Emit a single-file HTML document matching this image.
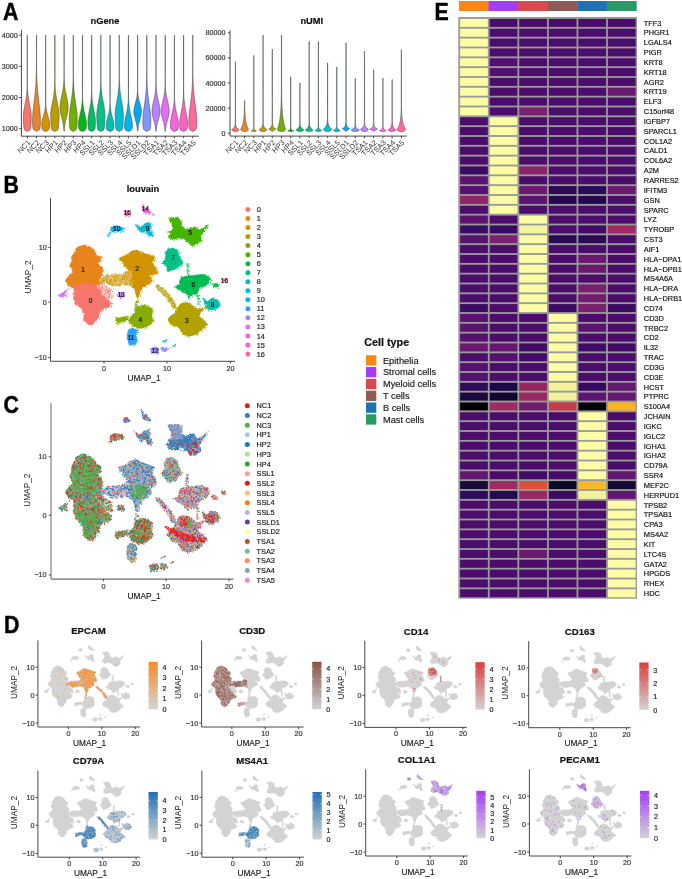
<!DOCTYPE html><html><head><meta charset="utf-8"><style>
html,body{margin:0;padding:0;background:#fff;width:682px;height:879px;overflow:hidden}
svg{display:block;font-family:"Liberation Sans",sans-serif;will-change:transform}
text{stroke-linejoin:round}
</style></head><body><svg width="682" height="879" viewBox="0 0 682 879">
<text transform="translate(3,20.2) scale(0.97,1.07)" font-size="22" font-weight="bold" fill="#000" stroke="#000" stroke-width="0.45">A</text>
<text transform="translate(3.5,192.8) scale(0.97,1.07)" font-size="22" font-weight="bold" fill="#000" stroke="#000" stroke-width="0.45">B</text>
<text transform="translate(3.5,412.8) scale(0.97,1.07)" font-size="22" font-weight="bold" fill="#000" stroke="#000" stroke-width="0.45">C</text>
<text transform="translate(4,632.9) scale(0.97,1.07)" font-size="22" font-weight="bold" fill="#000" stroke="#000" stroke-width="0.45">D</text>
<text transform="translate(434.5,20) scale(0.97,1.07)" font-size="22" font-weight="bold" fill="#000" stroke="#000" stroke-width="0.45">E</text>
<rect x="458.3" y="17.0" width="178.7" height="581.7" fill="#9A9A9A"/>
<rect x="460.10" y="18.90" width="27.75" height="8.0" fill="#FCFDA4"/>
<rect x="489.66" y="18.90" width="27.75" height="8.0" fill="#4C0C6B"/>
<rect x="519.22" y="18.90" width="27.75" height="8.0" fill="#4C0C6B"/>
<rect x="548.78" y="18.90" width="27.75" height="8.0" fill="#4C0C6B"/>
<rect x="578.34" y="18.90" width="27.75" height="8.0" fill="#4C0C6B"/>
<rect x="607.90" y="18.90" width="27.75" height="8.0" fill="#4C0C6B"/>
<text x="643.80" y="25.65" font-size="7.4" text-anchor="start" font-weight="normal" fill="#111" stroke="#111" stroke-width="0.18" >TFF3</text>
<rect x="460.10" y="28.73" width="27.75" height="8.0" fill="#FCFDA4"/>
<rect x="489.66" y="28.73" width="27.75" height="8.0" fill="#4C0C6B"/>
<rect x="519.22" y="28.73" width="27.75" height="8.0" fill="#4C0C6B"/>
<rect x="548.78" y="28.73" width="27.75" height="8.0" fill="#4C0C6B"/>
<rect x="578.34" y="28.73" width="27.75" height="8.0" fill="#4C0C6B"/>
<rect x="607.90" y="28.73" width="27.75" height="8.0" fill="#4C0C6B"/>
<text x="643.80" y="35.48" font-size="7.4" text-anchor="start" font-weight="normal" fill="#111" stroke="#111" stroke-width="0.18" >PHGR1</text>
<rect x="460.10" y="38.57" width="27.75" height="8.0" fill="#FCFDA4"/>
<rect x="489.66" y="38.57" width="27.75" height="8.0" fill="#4C0C6B"/>
<rect x="519.22" y="38.57" width="27.75" height="8.0" fill="#4C0C6B"/>
<rect x="548.78" y="38.57" width="27.75" height="8.0" fill="#4C0C6B"/>
<rect x="578.34" y="38.57" width="27.75" height="8.0" fill="#4C0C6B"/>
<rect x="607.90" y="38.57" width="27.75" height="8.0" fill="#4C0C6B"/>
<text x="643.80" y="45.32" font-size="7.4" text-anchor="start" font-weight="normal" fill="#111" stroke="#111" stroke-width="0.18" >LGALS4</text>
<rect x="460.10" y="48.40" width="27.75" height="8.0" fill="#FCFDA4"/>
<rect x="489.66" y="48.40" width="27.75" height="8.0" fill="#4C0C6B"/>
<rect x="519.22" y="48.40" width="27.75" height="8.0" fill="#4C0C6B"/>
<rect x="548.78" y="48.40" width="27.75" height="8.0" fill="#4C0C6B"/>
<rect x="578.34" y="48.40" width="27.75" height="8.0" fill="#4C0C6B"/>
<rect x="607.90" y="48.40" width="27.75" height="8.0" fill="#4C0C6B"/>
<text x="643.80" y="55.15" font-size="7.4" text-anchor="start" font-weight="normal" fill="#111" stroke="#111" stroke-width="0.18" >PIGR</text>
<rect x="460.10" y="58.24" width="27.75" height="8.0" fill="#FCFDA4"/>
<rect x="489.66" y="58.24" width="27.75" height="8.0" fill="#541070"/>
<rect x="519.22" y="58.24" width="27.75" height="8.0" fill="#4C0C6B"/>
<rect x="548.78" y="58.24" width="27.75" height="8.0" fill="#4C0C6B"/>
<rect x="578.34" y="58.24" width="27.75" height="8.0" fill="#4C0C6B"/>
<rect x="607.90" y="58.24" width="27.75" height="8.0" fill="#4C0C6B"/>
<text x="643.80" y="64.99" font-size="7.4" text-anchor="start" font-weight="normal" fill="#111" stroke="#111" stroke-width="0.18" >KRT8</text>
<rect x="460.10" y="68.07" width="27.75" height="8.0" fill="#FCFDA4"/>
<rect x="489.66" y="68.07" width="27.75" height="8.0" fill="#541070"/>
<rect x="519.22" y="68.07" width="27.75" height="8.0" fill="#4C0C6B"/>
<rect x="548.78" y="68.07" width="27.75" height="8.0" fill="#4C0C6B"/>
<rect x="578.34" y="68.07" width="27.75" height="8.0" fill="#4C0C6B"/>
<rect x="607.90" y="68.07" width="27.75" height="8.0" fill="#4C0C6B"/>
<text x="643.80" y="74.82" font-size="7.4" text-anchor="start" font-weight="normal" fill="#111" stroke="#111" stroke-width="0.18" >KRT18</text>
<rect x="460.10" y="77.90" width="27.75" height="8.0" fill="#FCFDA4"/>
<rect x="489.66" y="77.90" width="27.75" height="8.0" fill="#4C0C6B"/>
<rect x="519.22" y="77.90" width="27.75" height="8.0" fill="#4C0C6B"/>
<rect x="548.78" y="77.90" width="27.75" height="8.0" fill="#4C0C6B"/>
<rect x="578.34" y="77.90" width="27.75" height="8.0" fill="#4C0C6B"/>
<rect x="607.90" y="77.90" width="27.75" height="8.0" fill="#4C0C6B"/>
<text x="643.80" y="84.65" font-size="7.4" text-anchor="start" font-weight="normal" fill="#111" stroke="#111" stroke-width="0.18" >AGR2</text>
<rect x="460.10" y="87.74" width="27.75" height="8.0" fill="#FCFDA4"/>
<rect x="489.66" y="87.74" width="27.75" height="8.0" fill="#4C0C6B"/>
<rect x="519.22" y="87.74" width="27.75" height="8.0" fill="#4C0C6B"/>
<rect x="548.78" y="87.74" width="27.75" height="8.0" fill="#4C0C6B"/>
<rect x="578.34" y="87.74" width="27.75" height="8.0" fill="#4C0C6B"/>
<rect x="607.90" y="87.74" width="27.75" height="8.0" fill="#6A1A6E"/>
<text x="643.80" y="94.49" font-size="7.4" text-anchor="start" font-weight="normal" fill="#111" stroke="#111" stroke-width="0.18" >KRT19</text>
<rect x="460.10" y="97.57" width="27.75" height="8.0" fill="#FCFDA4"/>
<rect x="489.66" y="97.57" width="27.75" height="8.0" fill="#4C0C6B"/>
<rect x="519.22" y="97.57" width="27.75" height="8.0" fill="#4C0C6B"/>
<rect x="548.78" y="97.57" width="27.75" height="8.0" fill="#4C0C6B"/>
<rect x="578.34" y="97.57" width="27.75" height="8.0" fill="#4C0C6B"/>
<rect x="607.90" y="97.57" width="27.75" height="8.0" fill="#4C0C6B"/>
<text x="643.80" y="104.32" font-size="7.4" text-anchor="start" font-weight="normal" fill="#111" stroke="#111" stroke-width="0.18" >ELF3</text>
<rect x="460.10" y="107.41" width="27.75" height="8.0" fill="#FCFDA4"/>
<rect x="489.66" y="107.41" width="27.75" height="8.0" fill="#4C0C6B"/>
<rect x="519.22" y="107.41" width="27.75" height="8.0" fill="#7A2070"/>
<rect x="548.78" y="107.41" width="27.75" height="8.0" fill="#4C0C6B"/>
<rect x="578.34" y="107.41" width="27.75" height="8.0" fill="#4C0C6B"/>
<rect x="607.90" y="107.41" width="27.75" height="8.0" fill="#4C0C6B"/>
<text x="643.80" y="114.16" font-size="7.4" text-anchor="start" font-weight="normal" fill="#111" stroke="#111" stroke-width="0.18" >C15orf48</text>
<rect x="460.10" y="117.24" width="27.75" height="8.0" fill="#4C0C6B"/>
<rect x="489.66" y="117.24" width="27.75" height="8.0" fill="#FCFDA4"/>
<rect x="519.22" y="117.24" width="27.75" height="8.0" fill="#4C0C6B"/>
<rect x="548.78" y="117.24" width="27.75" height="8.0" fill="#4C0C6B"/>
<rect x="578.34" y="117.24" width="27.75" height="8.0" fill="#4C0C6B"/>
<rect x="607.90" y="117.24" width="27.75" height="8.0" fill="#4C0C6B"/>
<text x="643.80" y="123.99" font-size="7.4" text-anchor="start" font-weight="normal" fill="#111" stroke="#111" stroke-width="0.18" >IGFBP7</text>
<rect x="460.10" y="127.07" width="27.75" height="8.0" fill="#4C0C6B"/>
<rect x="489.66" y="127.07" width="27.75" height="8.0" fill="#FCFDA4"/>
<rect x="519.22" y="127.07" width="27.75" height="8.0" fill="#4C0C6B"/>
<rect x="548.78" y="127.07" width="27.75" height="8.0" fill="#4C0C6B"/>
<rect x="578.34" y="127.07" width="27.75" height="8.0" fill="#4C0C6B"/>
<rect x="607.90" y="127.07" width="27.75" height="8.0" fill="#4C0C6B"/>
<text x="643.80" y="133.82" font-size="7.4" text-anchor="start" font-weight="normal" fill="#111" stroke="#111" stroke-width="0.18" >SPARCL1</text>
<rect x="460.10" y="136.91" width="27.75" height="8.0" fill="#4C0C6B"/>
<rect x="489.66" y="136.91" width="27.75" height="8.0" fill="#FCFDA4"/>
<rect x="519.22" y="136.91" width="27.75" height="8.0" fill="#4C0C6B"/>
<rect x="548.78" y="136.91" width="27.75" height="8.0" fill="#4C0C6B"/>
<rect x="578.34" y="136.91" width="27.75" height="8.0" fill="#4C0C6B"/>
<rect x="607.90" y="136.91" width="27.75" height="8.0" fill="#4C0C6B"/>
<text x="643.80" y="143.66" font-size="7.4" text-anchor="start" font-weight="normal" fill="#111" stroke="#111" stroke-width="0.18" >COL1A2</text>
<rect x="460.10" y="146.74" width="27.75" height="8.0" fill="#4C0C6B"/>
<rect x="489.66" y="146.74" width="27.75" height="8.0" fill="#FCFDA4"/>
<rect x="519.22" y="146.74" width="27.75" height="8.0" fill="#4C0C6B"/>
<rect x="548.78" y="146.74" width="27.75" height="8.0" fill="#4C0C6B"/>
<rect x="578.34" y="146.74" width="27.75" height="8.0" fill="#4C0C6B"/>
<rect x="607.90" y="146.74" width="27.75" height="8.0" fill="#4C0C6B"/>
<text x="643.80" y="153.49" font-size="7.4" text-anchor="start" font-weight="normal" fill="#111" stroke="#111" stroke-width="0.18" >CALD1</text>
<rect x="460.10" y="156.58" width="27.75" height="8.0" fill="#4C0C6B"/>
<rect x="489.66" y="156.58" width="27.75" height="8.0" fill="#FCFDA4"/>
<rect x="519.22" y="156.58" width="27.75" height="8.0" fill="#4C0C6B"/>
<rect x="548.78" y="156.58" width="27.75" height="8.0" fill="#4C0C6B"/>
<rect x="578.34" y="156.58" width="27.75" height="8.0" fill="#4C0C6B"/>
<rect x="607.90" y="156.58" width="27.75" height="8.0" fill="#4C0C6B"/>
<text x="643.80" y="163.33" font-size="7.4" text-anchor="start" font-weight="normal" fill="#111" stroke="#111" stroke-width="0.18" >COL6A2</text>
<rect x="460.10" y="166.41" width="27.75" height="8.0" fill="#3C0A63"/>
<rect x="489.66" y="166.41" width="27.75" height="8.0" fill="#FCFDA4"/>
<rect x="519.22" y="166.41" width="27.75" height="8.0" fill="#8A2468"/>
<rect x="548.78" y="166.41" width="27.75" height="8.0" fill="#4C0C6B"/>
<rect x="578.34" y="166.41" width="27.75" height="8.0" fill="#4C0C6B"/>
<rect x="607.90" y="166.41" width="27.75" height="8.0" fill="#4C0C6B"/>
<text x="643.80" y="173.16" font-size="7.4" text-anchor="start" font-weight="normal" fill="#111" stroke="#111" stroke-width="0.18" >A2M</text>
<rect x="460.10" y="176.24" width="27.75" height="8.0" fill="#5C1270"/>
<rect x="489.66" y="176.24" width="27.75" height="8.0" fill="#FCFDA4"/>
<rect x="519.22" y="176.24" width="27.75" height="8.0" fill="#4C0C6B"/>
<rect x="548.78" y="176.24" width="27.75" height="8.0" fill="#4C0C6B"/>
<rect x="578.34" y="176.24" width="27.75" height="8.0" fill="#4C0C6B"/>
<rect x="607.90" y="176.24" width="27.75" height="8.0" fill="#4C0C6B"/>
<text x="643.80" y="182.99" font-size="7.4" text-anchor="start" font-weight="normal" fill="#111" stroke="#111" stroke-width="0.18" >RARRES2</text>
<rect x="460.10" y="186.08" width="27.75" height="8.0" fill="#561070"/>
<rect x="489.66" y="186.08" width="27.75" height="8.0" fill="#FCFDA4"/>
<rect x="519.22" y="186.08" width="27.75" height="8.0" fill="#6A1A6E"/>
<rect x="548.78" y="186.08" width="27.75" height="8.0" fill="#2A0A55"/>
<rect x="578.34" y="186.08" width="27.75" height="8.0" fill="#2A0A55"/>
<rect x="607.90" y="186.08" width="27.75" height="8.0" fill="#6A1A6E"/>
<text x="643.80" y="192.83" font-size="7.4" text-anchor="start" font-weight="normal" fill="#111" stroke="#111" stroke-width="0.18" >IFITM3</text>
<rect x="460.10" y="195.91" width="27.75" height="8.0" fill="#8F2467"/>
<rect x="489.66" y="195.91" width="27.75" height="8.0" fill="#FCFDA4"/>
<rect x="519.22" y="195.91" width="27.75" height="8.0" fill="#5C1270"/>
<rect x="548.78" y="195.91" width="27.75" height="8.0" fill="#230850"/>
<rect x="578.34" y="195.91" width="27.75" height="8.0" fill="#230850"/>
<rect x="607.90" y="195.91" width="27.75" height="8.0" fill="#4C0C6B"/>
<text x="643.80" y="202.66" font-size="7.4" text-anchor="start" font-weight="normal" fill="#111" stroke="#111" stroke-width="0.18" >GSN</text>
<rect x="460.10" y="205.75" width="27.75" height="8.0" fill="#4C0C6B"/>
<rect x="489.66" y="205.75" width="27.75" height="8.0" fill="#FCFDA4"/>
<rect x="519.22" y="205.75" width="27.75" height="8.0" fill="#4C0C6B"/>
<rect x="548.78" y="205.75" width="27.75" height="8.0" fill="#4C0C6B"/>
<rect x="578.34" y="205.75" width="27.75" height="8.0" fill="#4C0C6B"/>
<rect x="607.90" y="205.75" width="27.75" height="8.0" fill="#4C0C6B"/>
<text x="643.80" y="212.50" font-size="7.4" text-anchor="start" font-weight="normal" fill="#111" stroke="#111" stroke-width="0.18" >SPARC</text>
<rect x="460.10" y="215.58" width="27.75" height="8.0" fill="#5C1270"/>
<rect x="489.66" y="215.58" width="27.75" height="8.0" fill="#4C0C6B"/>
<rect x="519.22" y="215.58" width="27.75" height="8.0" fill="#FCFDA4"/>
<rect x="548.78" y="215.58" width="27.75" height="8.0" fill="#4C0C6B"/>
<rect x="578.34" y="215.58" width="27.75" height="8.0" fill="#4C0C6B"/>
<rect x="607.90" y="215.58" width="27.75" height="8.0" fill="#4C0C6B"/>
<text x="643.80" y="222.33" font-size="7.4" text-anchor="start" font-weight="normal" fill="#111" stroke="#111" stroke-width="0.18" >LYZ</text>
<rect x="460.10" y="225.41" width="27.75" height="8.0" fill="#380A62"/>
<rect x="489.66" y="225.41" width="27.75" height="8.0" fill="#3A0A62"/>
<rect x="519.22" y="225.41" width="27.75" height="8.0" fill="#F3F4A0"/>
<rect x="548.78" y="225.41" width="27.75" height="8.0" fill="#4C0C6B"/>
<rect x="578.34" y="225.41" width="27.75" height="8.0" fill="#440A68"/>
<rect x="607.90" y="225.41" width="27.75" height="8.0" fill="#A02A62"/>
<text x="643.80" y="232.16" font-size="7.4" text-anchor="start" font-weight="normal" fill="#111" stroke="#111" stroke-width="0.18" >TYROBP</text>
<rect x="460.10" y="235.25" width="27.75" height="8.0" fill="#5A1270"/>
<rect x="489.66" y="235.25" width="27.75" height="8.0" fill="#7C2070"/>
<rect x="519.22" y="235.25" width="27.75" height="8.0" fill="#FCFDA4"/>
<rect x="548.78" y="235.25" width="27.75" height="8.0" fill="#2A0A55"/>
<rect x="578.34" y="235.25" width="27.75" height="8.0" fill="#2C0A58"/>
<rect x="607.90" y="235.25" width="27.75" height="8.0" fill="#4C0C6B"/>
<text x="643.80" y="242.00" font-size="7.4" text-anchor="start" font-weight="normal" fill="#111" stroke="#111" stroke-width="0.18" >CST3</text>
<rect x="460.10" y="245.08" width="27.75" height="8.0" fill="#4C0C6B"/>
<rect x="489.66" y="245.08" width="27.75" height="8.0" fill="#4C0C6B"/>
<rect x="519.22" y="245.08" width="27.75" height="8.0" fill="#FCFDA4"/>
<rect x="548.78" y="245.08" width="27.75" height="8.0" fill="#4C0C6B"/>
<rect x="578.34" y="245.08" width="27.75" height="8.0" fill="#4C0C6B"/>
<rect x="607.90" y="245.08" width="27.75" height="8.0" fill="#4C0C6B"/>
<text x="643.80" y="251.83" font-size="7.4" text-anchor="start" font-weight="normal" fill="#111" stroke="#111" stroke-width="0.18" >AIF1</text>
<rect x="460.10" y="254.92" width="27.75" height="8.0" fill="#4C0C6B"/>
<rect x="489.66" y="254.92" width="27.75" height="8.0" fill="#4C0C6B"/>
<rect x="519.22" y="254.92" width="27.75" height="8.0" fill="#FCFDA4"/>
<rect x="548.78" y="254.92" width="27.75" height="8.0" fill="#4C0C6B"/>
<rect x="578.34" y="254.92" width="27.75" height="8.0" fill="#6A1A6E"/>
<rect x="607.90" y="254.92" width="27.75" height="8.0" fill="#4C0C6B"/>
<text x="643.80" y="261.67" font-size="7.4" text-anchor="start" font-weight="normal" fill="#111" stroke="#111" stroke-width="0.18" >HLA−DPA1</text>
<rect x="460.10" y="264.75" width="27.75" height="8.0" fill="#4C0C6B"/>
<rect x="489.66" y="264.75" width="27.75" height="8.0" fill="#4C0C6B"/>
<rect x="519.22" y="264.75" width="27.75" height="8.0" fill="#FCFDA4"/>
<rect x="548.78" y="264.75" width="27.75" height="8.0" fill="#4C0C6B"/>
<rect x="578.34" y="264.75" width="27.75" height="8.0" fill="#6A1A6E"/>
<rect x="607.90" y="264.75" width="27.75" height="8.0" fill="#4C0C6B"/>
<text x="643.80" y="271.50" font-size="7.4" text-anchor="start" font-weight="normal" fill="#111" stroke="#111" stroke-width="0.18" >HLA−DPB1</text>
<rect x="460.10" y="274.58" width="27.75" height="8.0" fill="#4C0C6B"/>
<rect x="489.66" y="274.58" width="27.75" height="8.0" fill="#4C0C6B"/>
<rect x="519.22" y="274.58" width="27.75" height="8.0" fill="#FCFDA4"/>
<rect x="548.78" y="274.58" width="27.75" height="8.0" fill="#4C0C6B"/>
<rect x="578.34" y="274.58" width="27.75" height="8.0" fill="#4C0C6B"/>
<rect x="607.90" y="274.58" width="27.75" height="8.0" fill="#4C0C6B"/>
<text x="643.80" y="281.33" font-size="7.4" text-anchor="start" font-weight="normal" fill="#111" stroke="#111" stroke-width="0.18" >MS4A6A</text>
<rect x="460.10" y="284.42" width="27.75" height="8.0" fill="#4C0C6B"/>
<rect x="489.66" y="284.42" width="27.75" height="8.0" fill="#4C0C6B"/>
<rect x="519.22" y="284.42" width="27.75" height="8.0" fill="#FCFDA4"/>
<rect x="548.78" y="284.42" width="27.75" height="8.0" fill="#4C0C6B"/>
<rect x="578.34" y="284.42" width="27.75" height="8.0" fill="#7A1F6E"/>
<rect x="607.90" y="284.42" width="27.75" height="8.0" fill="#4C0C6B"/>
<text x="643.80" y="291.17" font-size="7.4" text-anchor="start" font-weight="normal" fill="#111" stroke="#111" stroke-width="0.18" >HLA−DRA</text>
<rect x="460.10" y="294.25" width="27.75" height="8.0" fill="#4C0C6B"/>
<rect x="489.66" y="294.25" width="27.75" height="8.0" fill="#4C0C6B"/>
<rect x="519.22" y="294.25" width="27.75" height="8.0" fill="#FCFDA4"/>
<rect x="548.78" y="294.25" width="27.75" height="8.0" fill="#4C0C6B"/>
<rect x="578.34" y="294.25" width="27.75" height="8.0" fill="#721C6E"/>
<rect x="607.90" y="294.25" width="27.75" height="8.0" fill="#4C0C6B"/>
<text x="643.80" y="301.00" font-size="7.4" text-anchor="start" font-weight="normal" fill="#111" stroke="#111" stroke-width="0.18" >HLA−DRB1</text>
<rect x="460.10" y="304.09" width="27.75" height="8.0" fill="#3E0A64"/>
<rect x="489.66" y="304.09" width="27.75" height="8.0" fill="#4C0C6B"/>
<rect x="519.22" y="304.09" width="27.75" height="8.0" fill="#FCFDA4"/>
<rect x="548.78" y="304.09" width="27.75" height="8.0" fill="#3E0A64"/>
<rect x="578.34" y="304.09" width="27.75" height="8.0" fill="#7A206C"/>
<rect x="607.90" y="304.09" width="27.75" height="8.0" fill="#3E0A64"/>
<text x="643.80" y="310.84" font-size="7.4" text-anchor="start" font-weight="normal" fill="#111" stroke="#111" stroke-width="0.18" >CD74</text>
<rect x="460.10" y="313.92" width="27.75" height="8.0" fill="#5A1270"/>
<rect x="489.66" y="313.92" width="27.75" height="8.0" fill="#4C0C6B"/>
<rect x="519.22" y="313.92" width="27.75" height="8.0" fill="#4C0C6B"/>
<rect x="548.78" y="313.92" width="27.75" height="8.0" fill="#FCFDA4"/>
<rect x="578.34" y="313.92" width="27.75" height="8.0" fill="#4C0C6B"/>
<rect x="607.90" y="313.92" width="27.75" height="8.0" fill="#4C0C6B"/>
<text x="643.80" y="320.67" font-size="7.4" text-anchor="start" font-weight="normal" fill="#111" stroke="#111" stroke-width="0.18" >CD3D</text>
<rect x="460.10" y="323.75" width="27.75" height="8.0" fill="#5A1270"/>
<rect x="489.66" y="323.75" width="27.75" height="8.0" fill="#4C0C6B"/>
<rect x="519.22" y="323.75" width="27.75" height="8.0" fill="#4C0C6B"/>
<rect x="548.78" y="323.75" width="27.75" height="8.0" fill="#FCFDA4"/>
<rect x="578.34" y="323.75" width="27.75" height="8.0" fill="#5C1270"/>
<rect x="607.90" y="323.75" width="27.75" height="8.0" fill="#4C0C6B"/>
<text x="643.80" y="330.50" font-size="7.4" text-anchor="start" font-weight="normal" fill="#111" stroke="#111" stroke-width="0.18" >TRBC2</text>
<rect x="460.10" y="333.59" width="27.75" height="8.0" fill="#561070"/>
<rect x="489.66" y="333.59" width="27.75" height="8.0" fill="#4C0C6B"/>
<rect x="519.22" y="333.59" width="27.75" height="8.0" fill="#4C0C6B"/>
<rect x="548.78" y="333.59" width="27.75" height="8.0" fill="#FCFDA4"/>
<rect x="578.34" y="333.59" width="27.75" height="8.0" fill="#4C0C6B"/>
<rect x="607.90" y="333.59" width="27.75" height="8.0" fill="#4C0C6B"/>
<text x="643.80" y="340.34" font-size="7.4" text-anchor="start" font-weight="normal" fill="#111" stroke="#111" stroke-width="0.18" >CD2</text>
<rect x="460.10" y="343.42" width="27.75" height="8.0" fill="#6A1A6E"/>
<rect x="489.66" y="343.42" width="27.75" height="8.0" fill="#641870"/>
<rect x="519.22" y="343.42" width="27.75" height="8.0" fill="#400A66"/>
<rect x="548.78" y="343.42" width="27.75" height="8.0" fill="#FCFDA4"/>
<rect x="578.34" y="343.42" width="27.75" height="8.0" fill="#400A66"/>
<rect x="607.90" y="343.42" width="27.75" height="8.0" fill="#400A66"/>
<text x="643.80" y="350.17" font-size="7.4" text-anchor="start" font-weight="normal" fill="#111" stroke="#111" stroke-width="0.18" >IL32</text>
<rect x="460.10" y="353.26" width="27.75" height="8.0" fill="#4C0C6B"/>
<rect x="489.66" y="353.26" width="27.75" height="8.0" fill="#561070"/>
<rect x="519.22" y="353.26" width="27.75" height="8.0" fill="#440A68"/>
<rect x="548.78" y="353.26" width="27.75" height="8.0" fill="#FCFDA4"/>
<rect x="578.34" y="353.26" width="27.75" height="8.0" fill="#4C0C6B"/>
<rect x="607.90" y="353.26" width="27.75" height="8.0" fill="#4C0C6B"/>
<text x="643.80" y="360.01" font-size="7.4" text-anchor="start" font-weight="normal" fill="#111" stroke="#111" stroke-width="0.18" >TRAC</text>
<rect x="460.10" y="363.09" width="27.75" height="8.0" fill="#561070"/>
<rect x="489.66" y="363.09" width="27.75" height="8.0" fill="#4C0C6B"/>
<rect x="519.22" y="363.09" width="27.75" height="8.0" fill="#4C0C6B"/>
<rect x="548.78" y="363.09" width="27.75" height="8.0" fill="#FCFDA4"/>
<rect x="578.34" y="363.09" width="27.75" height="8.0" fill="#4C0C6B"/>
<rect x="607.90" y="363.09" width="27.75" height="8.0" fill="#4C0C6B"/>
<text x="643.80" y="369.84" font-size="7.4" text-anchor="start" font-weight="normal" fill="#111" stroke="#111" stroke-width="0.18" >CD3G</text>
<rect x="460.10" y="372.92" width="27.75" height="8.0" fill="#561070"/>
<rect x="489.66" y="372.92" width="27.75" height="8.0" fill="#4C0C6B"/>
<rect x="519.22" y="372.92" width="27.75" height="8.0" fill="#4C0C6B"/>
<rect x="548.78" y="372.92" width="27.75" height="8.0" fill="#FCFDA4"/>
<rect x="578.34" y="372.92" width="27.75" height="8.0" fill="#4C0C6B"/>
<rect x="607.90" y="372.92" width="27.75" height="8.0" fill="#4C0C6B"/>
<text x="643.80" y="379.67" font-size="7.4" text-anchor="start" font-weight="normal" fill="#111" stroke="#111" stroke-width="0.18" >CD3E</text>
<rect x="460.10" y="382.76" width="27.75" height="8.0" fill="#2E0A5A"/>
<rect x="489.66" y="382.76" width="27.75" height="8.0" fill="#1E0846"/>
<rect x="519.22" y="382.76" width="27.75" height="8.0" fill="#962860"/>
<rect x="548.78" y="382.76" width="27.75" height="8.0" fill="#F2F29A"/>
<rect x="578.34" y="382.76" width="27.75" height="8.0" fill="#360A60"/>
<rect x="607.90" y="382.76" width="27.75" height="8.0" fill="#621770"/>
<text x="643.80" y="389.51" font-size="7.4" text-anchor="start" font-weight="normal" fill="#111" stroke="#111" stroke-width="0.18" >HCST</text>
<rect x="460.10" y="392.59" width="27.75" height="8.0" fill="#1A0840"/>
<rect x="489.66" y="392.59" width="27.75" height="8.0" fill="#100630"/>
<rect x="519.22" y="392.59" width="27.75" height="8.0" fill="#982860"/>
<rect x="548.78" y="392.59" width="27.75" height="8.0" fill="#F2F29A"/>
<rect x="578.34" y="392.59" width="27.75" height="8.0" fill="#5E1470"/>
<rect x="607.90" y="392.59" width="27.75" height="8.0" fill="#621770"/>
<text x="643.80" y="399.34" font-size="7.4" text-anchor="start" font-weight="normal" fill="#111" stroke="#111" stroke-width="0.18" >PTPRC</text>
<rect x="460.10" y="402.43" width="27.75" height="8.0" fill="#000004"/>
<rect x="489.66" y="402.43" width="27.75" height="8.0" fill="#A02A62"/>
<rect x="519.22" y="402.43" width="27.75" height="8.0" fill="#701C6E"/>
<rect x="548.78" y="402.43" width="27.75" height="8.0" fill="#C83C4C"/>
<rect x="578.34" y="402.43" width="27.75" height="8.0" fill="#020109"/>
<rect x="607.90" y="402.43" width="27.75" height="8.0" fill="#FCB520"/>
<text x="643.80" y="409.18" font-size="7.4" text-anchor="start" font-weight="normal" fill="#111" stroke="#111" stroke-width="0.18" >S100A4</text>
<rect x="460.10" y="412.26" width="27.75" height="8.0" fill="#4C0C6B"/>
<rect x="489.66" y="412.26" width="27.75" height="8.0" fill="#4C0C6B"/>
<rect x="519.22" y="412.26" width="27.75" height="8.0" fill="#4C0C6B"/>
<rect x="548.78" y="412.26" width="27.75" height="8.0" fill="#4C0C6B"/>
<rect x="578.34" y="412.26" width="27.75" height="8.0" fill="#FCFDA4"/>
<rect x="607.90" y="412.26" width="27.75" height="8.0" fill="#4C0C6B"/>
<text x="643.80" y="419.01" font-size="7.4" text-anchor="start" font-weight="normal" fill="#111" stroke="#111" stroke-width="0.18" >JCHAIN</text>
<rect x="460.10" y="422.09" width="27.75" height="8.0" fill="#4C0C6B"/>
<rect x="489.66" y="422.09" width="27.75" height="8.0" fill="#4C0C6B"/>
<rect x="519.22" y="422.09" width="27.75" height="8.0" fill="#4C0C6B"/>
<rect x="548.78" y="422.09" width="27.75" height="8.0" fill="#4C0C6B"/>
<rect x="578.34" y="422.09" width="27.75" height="8.0" fill="#FCFDA4"/>
<rect x="607.90" y="422.09" width="27.75" height="8.0" fill="#4C0C6B"/>
<text x="643.80" y="428.84" font-size="7.4" text-anchor="start" font-weight="normal" fill="#111" stroke="#111" stroke-width="0.18" >IGKC</text>
<rect x="460.10" y="431.93" width="27.75" height="8.0" fill="#4C0C6B"/>
<rect x="489.66" y="431.93" width="27.75" height="8.0" fill="#4C0C6B"/>
<rect x="519.22" y="431.93" width="27.75" height="8.0" fill="#4C0C6B"/>
<rect x="548.78" y="431.93" width="27.75" height="8.0" fill="#4C0C6B"/>
<rect x="578.34" y="431.93" width="27.75" height="8.0" fill="#FCFDA4"/>
<rect x="607.90" y="431.93" width="27.75" height="8.0" fill="#4C0C6B"/>
<text x="643.80" y="438.68" font-size="7.4" text-anchor="start" font-weight="normal" fill="#111" stroke="#111" stroke-width="0.18" >IGLC2</text>
<rect x="460.10" y="441.76" width="27.75" height="8.0" fill="#4C0C6B"/>
<rect x="489.66" y="441.76" width="27.75" height="8.0" fill="#4C0C6B"/>
<rect x="519.22" y="441.76" width="27.75" height="8.0" fill="#4C0C6B"/>
<rect x="548.78" y="441.76" width="27.75" height="8.0" fill="#4C0C6B"/>
<rect x="578.34" y="441.76" width="27.75" height="8.0" fill="#FCFDA4"/>
<rect x="607.90" y="441.76" width="27.75" height="8.0" fill="#4C0C6B"/>
<text x="643.80" y="448.51" font-size="7.4" text-anchor="start" font-weight="normal" fill="#111" stroke="#111" stroke-width="0.18" >IGHA1</text>
<rect x="460.10" y="451.60" width="27.75" height="8.0" fill="#4C0C6B"/>
<rect x="489.66" y="451.60" width="27.75" height="8.0" fill="#4C0C6B"/>
<rect x="519.22" y="451.60" width="27.75" height="8.0" fill="#4C0C6B"/>
<rect x="548.78" y="451.60" width="27.75" height="8.0" fill="#4C0C6B"/>
<rect x="578.34" y="451.60" width="27.75" height="8.0" fill="#FCFDA4"/>
<rect x="607.90" y="451.60" width="27.75" height="8.0" fill="#4C0C6B"/>
<text x="643.80" y="458.35" font-size="7.4" text-anchor="start" font-weight="normal" fill="#111" stroke="#111" stroke-width="0.18" >IGHA2</text>
<rect x="460.10" y="461.43" width="27.75" height="8.0" fill="#4C0C6B"/>
<rect x="489.66" y="461.43" width="27.75" height="8.0" fill="#4C0C6B"/>
<rect x="519.22" y="461.43" width="27.75" height="8.0" fill="#4C0C6B"/>
<rect x="548.78" y="461.43" width="27.75" height="8.0" fill="#4C0C6B"/>
<rect x="578.34" y="461.43" width="27.75" height="8.0" fill="#FCFDA4"/>
<rect x="607.90" y="461.43" width="27.75" height="8.0" fill="#4C0C6B"/>
<text x="643.80" y="468.18" font-size="7.4" text-anchor="start" font-weight="normal" fill="#111" stroke="#111" stroke-width="0.18" >CD79A</text>
<rect x="460.10" y="471.26" width="27.75" height="8.0" fill="#621770"/>
<rect x="489.66" y="471.26" width="27.75" height="8.0" fill="#4C0C6B"/>
<rect x="519.22" y="471.26" width="27.75" height="8.0" fill="#400A66"/>
<rect x="548.78" y="471.26" width="27.75" height="8.0" fill="#480B6A"/>
<rect x="578.34" y="471.26" width="27.75" height="8.0" fill="#FCFDA4"/>
<rect x="607.90" y="471.26" width="27.75" height="8.0" fill="#621770"/>
<text x="643.80" y="478.01" font-size="7.4" text-anchor="start" font-weight="normal" fill="#111" stroke="#111" stroke-width="0.18" >SSR4</text>
<rect x="460.10" y="481.10" width="27.75" height="8.0" fill="#160B39"/>
<rect x="489.66" y="481.10" width="27.75" height="8.0" fill="#A02A62"/>
<rect x="519.22" y="481.10" width="27.75" height="8.0" fill="#DD513A"/>
<rect x="548.78" y="481.10" width="27.75" height="8.0" fill="#0C0826"/>
<rect x="578.34" y="481.10" width="27.75" height="8.0" fill="#F8B82A"/>
<rect x="607.90" y="481.10" width="27.75" height="8.0" fill="#120A32"/>
<text x="643.80" y="487.85" font-size="7.4" text-anchor="start" font-weight="normal" fill="#111" stroke="#111" stroke-width="0.18" >MEF2C</text>
<rect x="460.10" y="490.93" width="27.75" height="8.0" fill="#300A5C"/>
<rect x="489.66" y="490.93" width="27.75" height="8.0" fill="#240A4E"/>
<rect x="519.22" y="490.93" width="27.75" height="8.0" fill="#9A2864"/>
<rect x="548.78" y="490.93" width="27.75" height="8.0" fill="#3C0A63"/>
<rect x="578.34" y="490.93" width="27.75" height="8.0" fill="#F2F29A"/>
<rect x="607.90" y="490.93" width="27.75" height="8.0" fill="#621770"/>
<text x="643.80" y="497.68" font-size="7.4" text-anchor="start" font-weight="normal" fill="#111" stroke="#111" stroke-width="0.18" >HERPUD1</text>
<rect x="460.10" y="500.77" width="27.75" height="8.0" fill="#4C0C6B"/>
<rect x="489.66" y="500.77" width="27.75" height="8.0" fill="#4C0C6B"/>
<rect x="519.22" y="500.77" width="27.75" height="8.0" fill="#4C0C6B"/>
<rect x="548.78" y="500.77" width="27.75" height="8.0" fill="#4C0C6B"/>
<rect x="578.34" y="500.77" width="27.75" height="8.0" fill="#4C0C6B"/>
<rect x="607.90" y="500.77" width="27.75" height="8.0" fill="#FCFDA4"/>
<text x="643.80" y="507.52" font-size="7.4" text-anchor="start" font-weight="normal" fill="#111" stroke="#111" stroke-width="0.18" >TPSB2</text>
<rect x="460.10" y="510.60" width="27.75" height="8.0" fill="#4C0C6B"/>
<rect x="489.66" y="510.60" width="27.75" height="8.0" fill="#4C0C6B"/>
<rect x="519.22" y="510.60" width="27.75" height="8.0" fill="#4C0C6B"/>
<rect x="548.78" y="510.60" width="27.75" height="8.0" fill="#4C0C6B"/>
<rect x="578.34" y="510.60" width="27.75" height="8.0" fill="#4C0C6B"/>
<rect x="607.90" y="510.60" width="27.75" height="8.0" fill="#FCFDA4"/>
<text x="643.80" y="517.35" font-size="7.4" text-anchor="start" font-weight="normal" fill="#111" stroke="#111" stroke-width="0.18" >TPSAB1</text>
<rect x="460.10" y="520.43" width="27.75" height="8.0" fill="#4C0C6B"/>
<rect x="489.66" y="520.43" width="27.75" height="8.0" fill="#4C0C6B"/>
<rect x="519.22" y="520.43" width="27.75" height="8.0" fill="#4C0C6B"/>
<rect x="548.78" y="520.43" width="27.75" height="8.0" fill="#4C0C6B"/>
<rect x="578.34" y="520.43" width="27.75" height="8.0" fill="#4C0C6B"/>
<rect x="607.90" y="520.43" width="27.75" height="8.0" fill="#FCFDA4"/>
<text x="643.80" y="527.18" font-size="7.4" text-anchor="start" font-weight="normal" fill="#111" stroke="#111" stroke-width="0.18" >CPA3</text>
<rect x="460.10" y="530.27" width="27.75" height="8.0" fill="#4C0C6B"/>
<rect x="489.66" y="530.27" width="27.75" height="8.0" fill="#4C0C6B"/>
<rect x="519.22" y="530.27" width="27.75" height="8.0" fill="#4C0C6B"/>
<rect x="548.78" y="530.27" width="27.75" height="8.0" fill="#4C0C6B"/>
<rect x="578.34" y="530.27" width="27.75" height="8.0" fill="#4C0C6B"/>
<rect x="607.90" y="530.27" width="27.75" height="8.0" fill="#FCFDA4"/>
<text x="643.80" y="537.02" font-size="7.4" text-anchor="start" font-weight="normal" fill="#111" stroke="#111" stroke-width="0.18" >MS4A2</text>
<rect x="460.10" y="540.10" width="27.75" height="8.0" fill="#4C0C6B"/>
<rect x="489.66" y="540.10" width="27.75" height="8.0" fill="#4C0C6B"/>
<rect x="519.22" y="540.10" width="27.75" height="8.0" fill="#4C0C6B"/>
<rect x="548.78" y="540.10" width="27.75" height="8.0" fill="#4C0C6B"/>
<rect x="578.34" y="540.10" width="27.75" height="8.0" fill="#4C0C6B"/>
<rect x="607.90" y="540.10" width="27.75" height="8.0" fill="#FCFDA4"/>
<text x="643.80" y="546.85" font-size="7.4" text-anchor="start" font-weight="normal" fill="#111" stroke="#111" stroke-width="0.18" >KIT</text>
<rect x="460.10" y="549.94" width="27.75" height="8.0" fill="#4C0C6B"/>
<rect x="489.66" y="549.94" width="27.75" height="8.0" fill="#4C0C6B"/>
<rect x="519.22" y="549.94" width="27.75" height="8.0" fill="#6A1A6E"/>
<rect x="548.78" y="549.94" width="27.75" height="8.0" fill="#4C0C6B"/>
<rect x="578.34" y="549.94" width="27.75" height="8.0" fill="#4C0C6B"/>
<rect x="607.90" y="549.94" width="27.75" height="8.0" fill="#FCFDA4"/>
<text x="643.80" y="556.69" font-size="7.4" text-anchor="start" font-weight="normal" fill="#111" stroke="#111" stroke-width="0.18" >LTC4S</text>
<rect x="460.10" y="559.77" width="27.75" height="8.0" fill="#4C0C6B"/>
<rect x="489.66" y="559.77" width="27.75" height="8.0" fill="#4C0C6B"/>
<rect x="519.22" y="559.77" width="27.75" height="8.0" fill="#4C0C6B"/>
<rect x="548.78" y="559.77" width="27.75" height="8.0" fill="#4C0C6B"/>
<rect x="578.34" y="559.77" width="27.75" height="8.0" fill="#4C0C6B"/>
<rect x="607.90" y="559.77" width="27.75" height="8.0" fill="#FCFDA4"/>
<text x="643.80" y="566.52" font-size="7.4" text-anchor="start" font-weight="normal" fill="#111" stroke="#111" stroke-width="0.18" >GATA2</text>
<rect x="460.10" y="569.60" width="27.75" height="8.0" fill="#4C0C6B"/>
<rect x="489.66" y="569.60" width="27.75" height="8.0" fill="#4C0C6B"/>
<rect x="519.22" y="569.60" width="27.75" height="8.0" fill="#4C0C6B"/>
<rect x="548.78" y="569.60" width="27.75" height="8.0" fill="#4C0C6B"/>
<rect x="578.34" y="569.60" width="27.75" height="8.0" fill="#4C0C6B"/>
<rect x="607.90" y="569.60" width="27.75" height="8.0" fill="#FCFDA4"/>
<text x="643.80" y="576.35" font-size="7.4" text-anchor="start" font-weight="normal" fill="#111" stroke="#111" stroke-width="0.18" >HPGDS</text>
<rect x="460.10" y="579.44" width="27.75" height="8.0" fill="#4C0C6B"/>
<rect x="489.66" y="579.44" width="27.75" height="8.0" fill="#4C0C6B"/>
<rect x="519.22" y="579.44" width="27.75" height="8.0" fill="#4C0C6B"/>
<rect x="548.78" y="579.44" width="27.75" height="8.0" fill="#4C0C6B"/>
<rect x="578.34" y="579.44" width="27.75" height="8.0" fill="#4C0C6B"/>
<rect x="607.90" y="579.44" width="27.75" height="8.0" fill="#FCFDA4"/>
<text x="643.80" y="586.19" font-size="7.4" text-anchor="start" font-weight="normal" fill="#111" stroke="#111" stroke-width="0.18" >RHEX</text>
<rect x="460.10" y="589.27" width="27.75" height="8.0" fill="#4C0C6B"/>
<rect x="489.66" y="589.27" width="27.75" height="8.0" fill="#4C0C6B"/>
<rect x="519.22" y="589.27" width="27.75" height="8.0" fill="#4C0C6B"/>
<rect x="548.78" y="589.27" width="27.75" height="8.0" fill="#4C0C6B"/>
<rect x="578.34" y="589.27" width="27.75" height="8.0" fill="#4C0C6B"/>
<rect x="607.90" y="589.27" width="27.75" height="8.0" fill="#FCFDA4"/>
<text x="643.80" y="596.02" font-size="7.4" text-anchor="start" font-weight="normal" fill="#111" stroke="#111" stroke-width="0.18" >HDC</text>
<rect x="458.90" y="1.0" width="29.88" height="10" fill="#FF8514"/>
<rect x="488.48" y="1.0" width="29.88" height="10" fill="#A53DF7"/>
<rect x="518.07" y="1.0" width="29.88" height="10" fill="#D9484F"/>
<rect x="547.65" y="1.0" width="29.88" height="10" fill="#8F5B52"/>
<rect x="577.23" y="1.0" width="29.88" height="10" fill="#2171B5"/>
<rect x="606.82" y="1.0" width="29.88" height="10" fill="#2A9A62"/>
<text x="364.20" y="346.40" font-size="10.8" text-anchor="start" font-weight="bold" fill="#111" stroke="#111" stroke-width="0.2" >Cell type</text>
<rect x="366" y="355.20" width="10.3" height="10.3" fill="#FF8514"/>
<text x="382.90" y="363.60" font-size="9.3" text-anchor="start" font-weight="normal" fill="#222" stroke="#222" stroke-width="0.18" >Epithelia</text>
<rect x="366" y="367.02" width="10.3" height="10.3" fill="#A53DF7"/>
<text x="382.90" y="375.42" font-size="9.3" text-anchor="start" font-weight="normal" fill="#222" stroke="#222" stroke-width="0.18" >Stromal cells</text>
<rect x="366" y="378.84" width="10.3" height="10.3" fill="#D9484F"/>
<text x="382.90" y="387.24" font-size="9.3" text-anchor="start" font-weight="normal" fill="#222" stroke="#222" stroke-width="0.18" >Myeloid cells</text>
<rect x="366" y="390.66" width="10.3" height="10.3" fill="#8F5B52"/>
<text x="382.90" y="399.06" font-size="9.3" text-anchor="start" font-weight="normal" fill="#222" stroke="#222" stroke-width="0.18" >T cells</text>
<rect x="366" y="402.48" width="10.3" height="10.3" fill="#2171B5"/>
<text x="382.90" y="410.88" font-size="9.3" text-anchor="start" font-weight="normal" fill="#222" stroke="#222" stroke-width="0.18" >B cells</text>
<rect x="366" y="414.30" width="10.3" height="10.3" fill="#2A9A62"/>
<text x="382.90" y="422.70" font-size="9.3" text-anchor="start" font-weight="normal" fill="#222" stroke="#222" stroke-width="0.18" >Mast cells</text>
<path d="M27.30,131.51 L30.03,130.02 L30.61,128.53 L30.76,127.04 L30.89,125.55 L31.00,124.06 L31.09,122.57 L31.17,121.08 L31.22,119.60 L31.25,118.11 L31.26,116.62 L31.22,115.13 L31.12,113.64 L30.97,112.15 L30.77,110.66 L30.53,109.17 L30.26,107.68 L29.97,106.19 L29.67,104.71 L29.37,103.22 L29.09,101.73 L28.81,100.24 L28.56,98.75 L28.34,97.26 L28.14,95.77 L27.97,94.28 L27.83,92.79 L27.71,91.30 L27.61,89.82 L27.53,88.33 L27.47,86.84 L27.42,85.35 L27.39,83.86 L27.38,82.37 L27.38,80.88 L27.38,79.39 L27.38,77.90 L27.38,76.41 L27.38,74.93 L27.38,73.44 L27.38,71.95 L27.38,35.10 L27.22,35.10 L27.22,71.95 L27.22,73.44 L27.22,74.93 L27.22,76.41 L27.22,77.90 L27.22,79.39 L27.22,80.88 L27.22,82.37 L27.21,83.86 L27.18,85.35 L27.13,86.84 L27.07,88.33 L26.99,89.82 L26.89,91.30 L26.77,92.79 L26.63,94.28 L26.46,95.77 L26.26,97.26 L26.04,98.75 L25.79,100.24 L25.51,101.73 L25.23,103.22 L24.93,104.71 L24.63,106.19 L24.34,107.68 L24.07,109.17 L23.83,110.66 L23.63,112.15 L23.48,113.64 L23.38,115.13 L23.34,116.62 L23.35,118.11 L23.38,119.60 L23.43,121.08 L23.51,122.57 L23.60,124.06 L23.71,125.55 L23.84,127.04 L23.99,128.53 L24.57,130.02 L27.30,131.51Z" fill="#F8766D" stroke="#3c3c3c" stroke-width="0.5"/>
<path d="M36.49,131.51 L39.66,129.45 L40.11,127.40 L40.32,125.35 L40.43,123.29 L40.45,121.24 L40.42,119.18 L40.34,117.13 L40.22,115.07 L40.07,113.02 L39.89,110.97 L39.69,108.91 L39.47,106.86 L39.23,104.80 L38.98,102.75 L38.74,100.70 L38.49,98.64 L38.26,96.59 L38.03,94.53 L37.82,92.48 L37.63,90.43 L37.45,88.37 L37.30,86.32 L37.16,84.26 L37.04,82.21 L36.94,80.15 L36.85,78.10 L36.78,76.05 L36.71,73.99 L36.67,71.94 L36.63,69.88 L36.59,67.83 L36.57,65.78 L36.57,63.72 L36.57,61.67 L36.57,59.61 L36.57,57.56 L36.57,55.51 L36.57,53.45 L36.57,51.40 L36.57,49.34 L36.57,35.10 L36.41,35.10 L36.41,49.34 L36.41,51.40 L36.41,53.45 L36.41,55.51 L36.41,57.56 L36.41,59.61 L36.41,61.67 L36.41,63.72 L36.41,65.78 L36.39,67.83 L36.36,69.88 L36.32,71.94 L36.27,73.99 L36.21,76.05 L36.14,78.10 L36.05,80.15 L35.95,82.21 L35.83,84.26 L35.69,86.32 L35.53,88.37 L35.36,90.43 L35.16,92.48 L34.95,94.53 L34.73,96.59 L34.49,98.64 L34.25,100.70 L34.00,102.75 L33.76,104.80 L33.52,106.86 L33.30,108.91 L33.09,110.97 L32.91,113.02 L32.76,115.07 L32.65,117.13 L32.57,119.18 L32.54,121.24 L32.55,123.29 L32.67,125.35 L32.88,127.40 L33.33,129.45 L36.49,131.51Z" fill="#E9842C" stroke="#3c3c3c" stroke-width="0.5"/>
<path d="M45.69,131.51 L48.00,130.58 L48.83,129.66 L49.26,128.74 L49.42,127.81 L49.53,126.89 L49.61,125.96 L49.64,125.04 L49.64,124.12 L49.59,123.19 L49.48,122.27 L49.34,121.34 L49.15,120.42 L48.93,119.50 L48.69,118.57 L48.43,117.65 L48.16,116.73 L47.89,115.80 L47.62,114.88 L47.36,113.95 L47.12,113.03 L46.90,112.11 L46.70,111.18 L46.52,110.26 L46.37,109.33 L46.23,108.41 L46.12,107.49 L46.03,106.56 L45.95,105.64 L45.89,104.71 L45.84,103.79 L45.80,102.87 L45.77,101.94 L45.77,101.02 L45.77,100.10 L45.77,99.17 L45.77,98.25 L45.77,97.32 L45.77,96.40 L45.77,95.48 L45.77,94.55 L45.77,35.10 L45.61,35.10 L45.61,94.55 L45.61,95.48 L45.61,96.40 L45.61,97.32 L45.61,98.25 L45.61,99.17 L45.61,100.10 L45.61,101.02 L45.61,101.94 L45.58,102.87 L45.54,103.79 L45.49,104.71 L45.43,105.64 L45.35,106.56 L45.26,107.49 L45.14,108.41 L45.01,109.33 L44.85,110.26 L44.68,111.18 L44.47,112.11 L44.25,113.03 L44.01,113.95 L43.76,114.88 L43.49,115.80 L43.22,116.73 L42.95,117.65 L42.69,118.57 L42.44,119.50 L42.23,120.42 L42.04,121.34 L41.89,122.27 L41.79,123.19 L41.74,124.12 L41.73,125.04 L41.77,125.96 L41.85,126.89 L41.96,127.81 L42.12,128.74 L42.54,129.66 L43.37,130.58 L45.69,131.51Z" fill="#D69100" stroke="#3c3c3c" stroke-width="0.5"/>
<path d="M54.88,131.51 L57.81,129.95 L58.38,128.39 L58.53,126.83 L58.66,125.26 L58.78,123.70 L58.88,122.14 L58.96,120.58 L59.02,119.02 L59.06,117.46 L59.08,115.90 L59.07,114.34 L58.99,112.78 L58.84,111.22 L58.64,109.66 L58.40,108.10 L58.12,106.54 L57.81,104.97 L57.49,103.41 L57.17,101.85 L56.86,100.29 L56.56,98.73 L56.28,97.17 L56.03,95.61 L55.81,94.05 L55.62,92.49 L55.46,90.93 L55.33,89.37 L55.22,87.81 L55.14,86.25 L55.07,84.68 L55.02,83.12 L54.98,81.56 L54.96,80.00 L54.96,78.44 L54.96,76.88 L54.96,75.32 L54.96,73.76 L54.96,72.20 L54.96,70.64 L54.96,69.08 L54.96,35.10 L54.80,35.10 L54.80,69.08 L54.80,70.64 L54.80,72.20 L54.80,73.76 L54.80,75.32 L54.80,76.88 L54.80,78.44 L54.80,80.00 L54.79,81.56 L54.75,83.12 L54.69,84.68 L54.63,86.25 L54.54,87.81 L54.43,89.37 L54.30,90.93 L54.14,92.49 L53.95,94.05 L53.73,95.61 L53.48,97.17 L53.21,98.73 L52.91,100.29 L52.59,101.85 L52.27,103.41 L51.95,104.97 L51.65,106.54 L51.36,108.10 L51.12,109.66 L50.92,111.22 L50.78,112.78 L50.70,114.34 L50.68,115.90 L50.70,117.46 L50.74,119.02 L50.80,120.58 L50.88,122.14 L50.98,123.70 L51.10,125.26 L51.24,126.83 L51.38,128.39 L51.95,129.95 L54.88,131.51Z" fill="#BC9D00" stroke="#3c3c3c" stroke-width="0.5"/>
<path d="M64.08,131.51 L64.35,129.83 L64.48,128.15 L64.66,126.48 L64.88,124.80 L65.17,123.12 L65.50,121.44 L65.89,119.77 L66.31,118.09 L66.74,116.41 L67.16,114.73 L67.54,113.06 L67.85,111.38 L68.07,109.70 L68.17,108.02 L68.15,106.35 L68.05,104.67 L67.85,102.99 L67.59,101.31 L67.27,99.64 L66.91,97.96 L66.53,96.28 L66.16,94.61 L65.80,92.93 L65.48,91.25 L65.18,89.57 L64.93,87.90 L64.72,86.22 L64.55,84.54 L64.42,82.86 L64.32,81.19 L64.24,79.51 L64.19,77.83 L64.16,76.15 L64.16,74.48 L64.16,72.80 L64.16,71.12 L64.16,69.44 L64.16,67.77 L64.16,66.09 L64.16,64.41 L64.16,35.10 L64.00,35.10 L64.00,64.41 L64.00,66.09 L64.00,67.77 L64.00,69.44 L64.00,71.12 L64.00,72.80 L64.00,74.48 L64.00,76.15 L63.96,77.83 L63.91,79.51 L63.83,81.19 L63.73,82.86 L63.60,84.54 L63.43,86.22 L63.22,87.90 L62.97,89.57 L62.68,91.25 L62.35,92.93 L61.99,94.61 L61.62,96.28 L61.24,97.96 L60.89,99.64 L60.57,101.31 L60.30,102.99 L60.11,104.67 L60.00,106.35 L59.98,108.02 L60.08,109.70 L60.30,111.38 L60.61,113.06 L60.99,114.73 L61.41,116.41 L61.85,118.09 L62.26,119.77 L62.65,121.44 L62.99,123.12 L63.27,124.80 L63.49,126.48 L63.67,128.15 L63.80,129.83 L64.08,131.51Z" fill="#9CA700" stroke="#3c3c3c" stroke-width="0.5"/>
<path d="M73.27,131.51 L76.23,129.76 L76.74,128.01 L76.92,126.26 L77.07,124.51 L77.18,122.76 L77.25,121.01 L77.27,119.26 L77.24,117.51 L77.17,115.77 L77.05,114.02 L76.88,112.27 L76.69,110.52 L76.46,108.77 L76.21,107.02 L75.95,105.27 L75.68,103.52 L75.41,101.77 L75.15,100.02 L74.90,98.27 L74.66,96.52 L74.45,94.78 L74.25,93.03 L74.08,91.28 L73.93,89.53 L73.80,87.78 L73.69,86.03 L73.60,84.28 L73.53,82.53 L73.47,80.78 L73.42,79.03 L73.38,77.28 L73.35,75.54 L73.35,73.79 L73.35,72.04 L73.35,70.29 L73.35,68.54 L73.35,66.79 L73.35,65.04 L73.35,63.29 L73.35,61.54 L73.35,35.10 L73.19,35.10 L73.19,61.54 L73.19,63.29 L73.19,65.04 L73.19,66.79 L73.19,68.54 L73.19,70.29 L73.19,72.04 L73.19,73.79 L73.19,75.54 L73.16,77.28 L73.12,79.03 L73.07,80.78 L73.01,82.53 L72.94,84.28 L72.85,86.03 L72.74,87.78 L72.61,89.53 L72.46,91.28 L72.29,93.03 L72.09,94.78 L71.88,96.52 L71.64,98.27 L71.39,100.02 L71.13,101.77 L70.86,103.52 L70.59,105.27 L70.33,107.02 L70.08,108.77 L69.85,110.52 L69.66,112.27 L69.49,114.02 L69.37,115.77 L69.30,117.51 L69.27,119.26 L69.29,121.01 L69.36,122.76 L69.47,124.51 L69.62,126.26 L69.80,128.01 L70.31,129.76 L73.27,131.51Z" fill="#6FB000" stroke="#3c3c3c" stroke-width="0.5"/>
<path d="M82.46,131.51 L85.01,130.40 L85.85,129.30 L86.17,128.20 L86.32,127.09 L86.42,125.99 L86.46,124.89 L86.45,123.78 L86.39,122.68 L86.29,121.58 L86.14,120.47 L85.96,119.37 L85.75,118.27 L85.52,117.16 L85.26,116.06 L85.00,114.96 L84.74,113.86 L84.48,112.75 L84.23,111.65 L83.99,110.55 L83.77,109.44 L83.57,108.34 L83.39,107.24 L83.23,106.13 L83.09,105.03 L82.97,103.93 L82.86,102.82 L82.78,101.72 L82.71,100.62 L82.65,99.51 L82.61,98.41 L82.57,97.31 L82.54,96.20 L82.54,95.10 L82.54,94.00 L82.54,92.89 L82.54,91.79 L82.54,90.69 L82.54,89.58 L82.54,88.48 L82.54,87.38 L82.54,35.10 L82.38,35.10 L82.38,87.38 L82.38,88.48 L82.38,89.58 L82.38,90.69 L82.38,91.79 L82.38,92.89 L82.38,94.00 L82.38,95.10 L82.38,96.20 L82.36,97.31 L82.32,98.41 L82.28,99.51 L82.22,100.62 L82.15,101.72 L82.06,102.82 L81.96,103.93 L81.84,105.03 L81.70,106.13 L81.54,107.24 L81.36,108.34 L81.16,109.44 L80.94,110.55 L80.70,111.65 L80.45,112.75 L80.19,113.86 L79.92,114.96 L79.66,116.06 L79.41,117.16 L79.18,118.27 L78.97,119.37 L78.79,120.47 L78.64,121.58 L78.54,122.68 L78.48,123.78 L78.47,124.89 L78.51,125.99 L78.60,127.09 L78.75,128.20 L79.07,129.30 L79.92,130.40 L82.46,131.51Z" fill="#00B813" stroke="#3c3c3c" stroke-width="0.5"/>
<path d="M91.66,131.51 L94.19,130.22 L94.90,128.92 L95.10,127.63 L95.24,126.34 L95.35,125.05 L95.42,123.76 L95.46,122.47 L95.45,121.17 L95.39,119.88 L95.29,118.59 L95.15,117.30 L94.97,116.01 L94.76,114.72 L94.53,113.42 L94.28,112.13 L94.02,110.84 L93.76,109.55 L93.50,108.26 L93.26,106.97 L93.03,105.67 L92.82,104.38 L92.62,103.09 L92.45,101.80 L92.31,100.51 L92.18,99.22 L92.07,97.92 L91.98,96.63 L91.91,95.34 L91.85,94.05 L91.80,92.76 L91.76,91.47 L91.74,90.17 L91.74,88.88 L91.74,87.59 L91.74,86.30 L91.74,85.01 L91.74,83.72 L91.74,82.42 L91.74,81.13 L91.74,79.84 L91.74,35.10 L91.58,35.10 L91.58,79.84 L91.58,81.13 L91.58,82.42 L91.58,83.72 L91.58,85.01 L91.58,86.30 L91.58,87.59 L91.58,88.88 L91.58,90.17 L91.55,91.47 L91.51,92.76 L91.47,94.05 L91.41,95.34 L91.33,96.63 L91.25,97.92 L91.14,99.22 L91.01,100.51 L90.86,101.80 L90.69,103.09 L90.50,104.38 L90.29,105.67 L90.06,106.97 L89.81,108.26 L89.56,109.55 L89.30,110.84 L89.04,112.13 L88.79,113.42 L88.56,114.72 L88.35,116.01 L88.17,117.30 L88.02,118.59 L87.92,119.88 L87.87,121.17 L87.86,122.47 L87.89,123.76 L87.97,125.05 L88.07,126.34 L88.22,127.63 L88.42,128.92 L89.13,130.22 L91.66,131.51Z" fill="#00BD61" stroke="#3c3c3c" stroke-width="0.5"/>
<path d="M100.85,131.51 L103.74,129.90 L104.28,128.30 L104.42,126.69 L104.56,125.09 L104.67,123.48 L104.77,121.87 L104.85,120.27 L104.91,118.66 L104.94,117.06 L104.95,115.45 L104.92,113.85 L104.83,112.24 L104.67,110.63 L104.47,109.03 L104.23,107.42 L103.95,105.82 L103.65,104.21 L103.34,102.61 L103.03,101.00 L102.73,99.40 L102.44,97.79 L102.18,96.18 L101.95,94.58 L101.74,92.97 L101.56,91.37 L101.41,89.76 L101.28,88.16 L101.18,86.55 L101.10,84.94 L101.03,83.34 L100.98,81.73 L100.94,80.13 L100.93,78.52 L100.93,76.92 L100.93,75.31 L100.93,73.71 L100.93,72.10 L100.93,70.49 L100.93,68.89 L100.93,67.28 L100.93,35.10 L100.77,35.10 L100.77,67.28 L100.77,68.89 L100.77,70.49 L100.77,72.10 L100.77,73.71 L100.77,75.31 L100.77,76.92 L100.77,78.52 L100.76,80.13 L100.72,81.73 L100.67,83.34 L100.61,84.94 L100.53,86.55 L100.42,88.16 L100.30,89.76 L100.15,91.37 L99.97,92.97 L99.76,94.58 L99.52,96.18 L99.26,97.79 L98.98,99.40 L98.68,101.00 L98.37,102.61 L98.06,104.21 L97.76,105.82 L97.48,107.42 L97.23,109.03 L97.03,110.63 L96.88,112.24 L96.78,113.85 L96.75,115.45 L96.76,117.06 L96.80,118.66 L96.85,120.27 L96.93,121.87 L97.03,123.48 L97.15,125.09 L97.28,126.69 L97.43,128.30 L97.96,129.90 L100.85,131.51Z" fill="#00C08E" stroke="#3c3c3c" stroke-width="0.5"/>
<path d="M110.05,131.51 L112.38,130.59 L113.25,129.68 L113.71,128.76 L113.87,127.85 L113.97,126.93 L114.01,126.02 L113.99,125.10 L113.93,124.19 L113.82,123.27 L113.67,122.36 L113.49,121.44 L113.28,120.53 L113.05,119.61 L112.80,118.70 L112.55,117.78 L112.29,116.87 L112.03,115.95 L111.78,115.04 L111.55,114.12 L111.33,113.21 L111.13,112.29 L110.95,111.38 L110.80,110.46 L110.66,109.55 L110.54,108.63 L110.44,107.72 L110.36,106.80 L110.29,105.89 L110.23,104.97 L110.19,104.06 L110.15,103.14 L110.13,102.23 L110.13,101.31 L110.13,100.40 L110.13,99.49 L110.13,98.57 L110.13,97.66 L110.13,96.74 L110.13,95.83 L110.13,94.91 L110.13,35.10 L109.97,35.10 L109.97,94.91 L109.97,95.83 L109.97,96.74 L109.97,97.66 L109.97,98.57 L109.97,99.49 L109.97,100.40 L109.97,101.31 L109.97,102.23 L109.94,103.14 L109.90,104.06 L109.86,104.97 L109.80,105.89 L109.74,106.80 L109.65,107.72 L109.55,108.63 L109.43,109.55 L109.30,110.46 L109.14,111.38 L108.96,112.29 L108.76,113.21 L108.54,114.12 L108.31,115.04 L108.06,115.95 L107.81,116.87 L107.55,117.78 L107.29,118.70 L107.04,119.61 L106.81,120.53 L106.60,121.44 L106.42,122.36 L106.27,123.27 L106.17,124.19 L106.10,125.10 L106.09,126.02 L106.12,126.93 L106.22,127.85 L106.38,128.76 L106.84,129.68 L107.71,130.59 L110.05,131.51Z" fill="#00C0B4" stroke="#3c3c3c" stroke-width="0.5"/>
<path d="M119.24,131.51 L122.18,129.83 L122.68,128.15 L122.83,126.48 L122.97,124.80 L123.08,123.12 L123.18,121.44 L123.26,119.77 L123.31,118.09 L123.34,116.41 L123.33,114.73 L123.28,113.06 L123.16,111.38 L122.99,109.70 L122.78,108.02 L122.52,106.35 L122.24,104.67 L121.94,102.99 L121.64,101.31 L121.34,99.64 L121.04,97.96 L120.77,96.28 L120.52,94.61 L120.29,92.93 L120.09,91.25 L119.92,89.57 L119.77,87.90 L119.65,86.22 L119.55,84.54 L119.48,82.86 L119.41,81.19 L119.37,79.51 L119.33,77.83 L119.32,76.15 L119.32,74.48 L119.32,72.80 L119.32,71.12 L119.32,69.44 L119.32,67.77 L119.32,66.09 L119.32,64.41 L119.32,35.10 L119.16,35.10 L119.16,64.41 L119.16,66.09 L119.16,67.77 L119.16,69.44 L119.16,71.12 L119.16,72.80 L119.16,74.48 L119.16,76.15 L119.15,77.83 L119.11,79.51 L119.07,81.19 L119.00,82.86 L118.93,84.54 L118.83,86.22 L118.71,87.90 L118.56,89.57 L118.39,91.25 L118.19,92.93 L117.96,94.61 L117.71,96.28 L117.44,97.96 L117.14,99.64 L116.84,101.31 L116.54,102.99 L116.24,104.67 L115.96,106.35 L115.70,108.02 L115.49,109.70 L115.32,111.38 L115.20,113.06 L115.15,114.73 L115.14,116.41 L115.17,118.09 L115.22,119.77 L115.30,121.44 L115.40,123.12 L115.51,124.80 L115.65,126.48 L115.80,128.15 L116.30,129.83 L119.24,131.51Z" fill="#00BDD4" stroke="#3c3c3c" stroke-width="0.5"/>
<path d="M128.43,131.51 L131.02,130.40 L131.91,129.30 L132.25,128.20 L132.38,127.09 L132.43,125.99 L132.42,124.89 L132.36,123.78 L132.25,122.68 L132.11,121.58 L131.94,120.47 L131.74,119.37 L131.52,118.27 L131.28,117.16 L131.03,116.06 L130.78,114.96 L130.52,113.86 L130.28,112.75 L130.05,111.65 L129.83,110.55 L129.62,109.44 L129.44,108.34 L129.28,107.24 L129.13,106.13 L129.00,105.03 L128.90,103.93 L128.80,102.82 L128.73,101.72 L128.66,100.62 L128.61,99.51 L128.57,98.41 L128.54,97.31 L128.51,96.20 L128.51,95.10 L128.51,94.00 L128.51,92.89 L128.51,91.79 L128.51,90.69 L128.51,89.58 L128.51,88.48 L128.51,87.38 L128.51,35.10 L128.35,35.10 L128.35,87.38 L128.35,88.48 L128.35,89.58 L128.35,90.69 L128.35,91.79 L128.35,92.89 L128.35,94.00 L128.35,95.10 L128.35,96.20 L128.33,97.31 L128.30,98.41 L128.26,99.51 L128.21,100.62 L128.14,101.72 L128.06,102.82 L127.97,103.93 L127.86,105.03 L127.74,106.13 L127.59,107.24 L127.43,108.34 L127.24,109.44 L127.04,110.55 L126.82,111.65 L126.59,112.75 L126.34,113.86 L126.09,114.96 L125.84,116.06 L125.59,117.16 L125.35,118.27 L125.13,119.37 L124.93,120.47 L124.75,121.58 L124.61,122.68 L124.51,123.78 L124.45,124.89 L124.43,125.99 L124.49,127.09 L124.62,128.20 L124.96,129.30 L125.85,130.40 L128.43,131.51Z" fill="#00B5EE" stroke="#3c3c3c" stroke-width="0.5"/>
<path d="M137.63,131.51 L137.87,130.22 L137.98,128.92 L138.13,127.63 L138.31,126.34 L138.54,125.05 L138.81,123.76 L139.12,122.47 L139.46,121.17 L139.83,119.88 L140.20,118.59 L140.56,117.30 L140.88,116.01 L141.14,114.72 L141.32,113.42 L141.42,112.13 L141.41,110.84 L141.31,109.55 L141.13,108.26 L140.86,106.97 L140.54,105.67 L140.19,104.38 L139.82,103.09 L139.46,101.80 L139.11,100.51 L138.81,99.22 L138.54,97.92 L138.31,96.63 L138.13,95.34 L137.99,94.05 L137.88,92.76 L137.80,91.47 L137.74,90.17 L137.71,88.88 L137.71,87.59 L137.71,86.30 L137.71,85.01 L137.71,83.72 L137.71,82.42 L137.71,81.13 L137.71,79.84 L137.71,35.10 L137.55,35.10 L137.55,79.84 L137.55,81.13 L137.55,82.42 L137.55,83.72 L137.55,85.01 L137.55,86.30 L137.55,87.59 L137.55,88.88 L137.52,90.17 L137.46,91.47 L137.38,92.76 L137.27,94.05 L137.13,95.34 L136.94,96.63 L136.72,97.92 L136.45,99.22 L136.14,100.51 L135.80,101.80 L135.44,103.09 L135.07,104.38 L134.71,105.67 L134.39,106.97 L134.13,108.26 L133.94,109.55 L133.84,110.84 L133.84,112.13 L133.93,113.42 L134.12,114.72 L134.38,116.01 L134.70,117.30 L135.05,118.59 L135.43,119.88 L135.79,121.17 L136.14,122.47 L136.45,123.76 L136.72,125.05 L136.95,126.34 L137.13,127.63 L137.27,128.92 L137.38,130.22 L137.63,131.51Z" fill="#00A7FF" stroke="#3c3c3c" stroke-width="0.5"/>
<path d="M146.82,131.51 L149.86,129.72 L150.41,127.94 L150.61,126.15 L150.75,124.37 L150.82,122.58 L150.81,120.80 L150.76,119.01 L150.67,117.23 L150.53,115.44 L150.37,113.66 L150.17,111.87 L149.95,110.09 L149.71,108.30 L149.46,106.52 L149.21,104.73 L148.95,102.95 L148.70,101.16 L148.47,99.38 L148.24,97.59 L148.04,95.81 L147.85,94.02 L147.68,92.24 L147.53,90.45 L147.40,88.67 L147.29,86.88 L147.20,85.10 L147.12,83.31 L147.05,81.53 L147.00,79.74 L146.96,77.96 L146.93,76.17 L146.90,74.39 L146.90,72.60 L146.90,70.82 L146.90,69.03 L146.90,67.25 L146.90,65.46 L146.90,63.68 L146.90,61.89 L146.90,60.11 L146.90,35.10 L146.74,35.10 L146.74,60.11 L146.74,61.89 L146.74,63.68 L146.74,65.46 L146.74,67.25 L146.74,69.03 L146.74,70.82 L146.74,72.60 L146.74,74.39 L146.72,76.17 L146.68,77.96 L146.64,79.74 L146.59,81.53 L146.53,83.31 L146.45,85.10 L146.35,86.88 L146.24,88.67 L146.11,90.45 L145.96,92.24 L145.80,94.02 L145.61,95.81 L145.40,97.59 L145.18,99.38 L144.94,101.16 L144.69,102.95 L144.44,104.73 L144.18,106.52 L143.93,108.30 L143.70,110.09 L143.47,111.87 L143.28,113.66 L143.11,115.44 L142.98,117.23 L142.88,119.01 L142.83,120.80 L142.83,122.58 L142.89,124.37 L143.03,126.15 L143.24,127.94 L143.78,129.72 L146.82,131.51Z" fill="#7F96FF" stroke="#3c3c3c" stroke-width="0.5"/>
<path d="M156.02,131.51 L156.29,130.02 L156.43,128.53 L156.62,127.04 L156.87,125.55 L157.19,124.06 L157.56,122.57 L157.97,121.08 L158.42,119.60 L158.87,118.11 L159.28,116.62 L159.63,115.13 L159.88,113.64 L160.00,112.15 L160.00,110.66 L159.91,109.17 L159.74,107.68 L159.51,106.19 L159.22,104.71 L158.90,103.22 L158.55,101.73 L158.20,100.24 L157.86,98.75 L157.54,97.26 L157.25,95.77 L156.99,94.28 L156.77,92.79 L156.59,91.30 L156.44,89.82 L156.33,88.33 L156.24,86.84 L156.17,85.35 L156.12,83.86 L156.10,82.37 L156.10,80.88 L156.10,79.39 L156.10,77.90 L156.10,76.41 L156.10,74.93 L156.10,73.44 L156.10,71.95 L156.10,35.10 L155.94,35.10 L155.94,71.95 L155.94,73.44 L155.94,74.93 L155.94,76.41 L155.94,77.90 L155.94,79.39 L155.94,80.88 L155.94,82.37 L155.91,83.86 L155.86,85.35 L155.79,86.84 L155.71,88.33 L155.59,89.82 L155.44,91.30 L155.26,92.79 L155.04,94.28 L154.79,95.77 L154.50,97.26 L154.18,98.75 L153.83,100.24 L153.48,101.73 L153.14,103.22 L152.81,104.71 L152.52,106.19 L152.29,107.68 L152.12,109.17 L152.03,110.66 L152.03,112.15 L152.15,113.64 L152.40,115.13 L152.75,116.62 L153.16,118.11 L153.61,119.60 L154.06,121.08 L154.48,122.57 L154.85,124.06 L155.16,125.55 L155.41,127.04 L155.60,128.53 L155.74,130.02 L156.02,131.51Z" fill="#BC81FF" stroke="#3c3c3c" stroke-width="0.5"/>
<path d="M165.21,131.51 L165.49,130.02 L165.63,128.53 L165.82,127.04 L166.07,125.55 L166.38,124.06 L166.75,122.57 L167.17,121.08 L167.62,119.60 L168.06,118.11 L168.48,116.62 L168.83,115.13 L169.07,113.64 L169.20,112.15 L169.20,110.66 L169.11,109.17 L168.94,107.68 L168.70,106.19 L168.41,104.71 L168.09,103.22 L167.74,101.73 L167.39,100.24 L167.05,98.75 L166.73,97.26 L166.44,95.77 L166.18,94.28 L165.96,92.79 L165.78,91.30 L165.64,89.82 L165.52,88.33 L165.43,86.84 L165.36,85.35 L165.32,83.86 L165.29,82.37 L165.29,80.88 L165.29,79.39 L165.29,77.90 L165.29,76.41 L165.29,74.93 L165.29,73.44 L165.29,71.95 L165.29,35.10 L165.13,35.10 L165.13,71.95 L165.13,73.44 L165.13,74.93 L165.13,76.41 L165.13,77.90 L165.13,79.39 L165.13,80.88 L165.13,82.37 L165.10,83.86 L165.06,85.35 L164.99,86.84 L164.90,88.33 L164.78,89.82 L164.64,91.30 L164.46,92.79 L164.24,94.28 L163.98,95.77 L163.69,97.26 L163.37,98.75 L163.03,100.24 L162.68,101.73 L162.33,103.22 L162.01,104.71 L161.72,106.19 L161.48,107.68 L161.31,109.17 L161.22,110.66 L161.22,112.15 L161.35,113.64 L161.59,115.13 L161.94,116.62 L162.36,118.11 L162.80,119.60 L163.25,121.08 L163.67,122.57 L164.04,124.06 L164.35,125.55 L164.60,127.04 L164.79,128.53 L164.93,130.02 L165.21,131.51Z" fill="#E26EF7" stroke="#3c3c3c" stroke-width="0.5"/>
<path d="M174.40,131.51 L176.95,130.40 L177.79,129.30 L178.11,128.20 L178.26,127.09 L178.36,125.99 L178.40,124.89 L178.39,123.78 L178.33,122.68 L178.23,121.58 L178.08,120.47 L177.90,119.37 L177.69,118.27 L177.46,117.16 L177.20,116.06 L176.94,114.96 L176.68,113.86 L176.42,112.75 L176.17,111.65 L175.93,110.55 L175.71,109.44 L175.51,108.34 L175.33,107.24 L175.17,106.13 L175.03,105.03 L174.91,103.93 L174.80,102.82 L174.72,101.72 L174.65,100.62 L174.59,99.51 L174.55,98.41 L174.51,97.31 L174.48,96.20 L174.48,95.10 L174.48,94.00 L174.48,92.89 L174.48,91.79 L174.48,90.69 L174.48,89.58 L174.48,88.48 L174.48,87.38 L174.48,35.10 L174.32,35.10 L174.32,87.38 L174.32,88.48 L174.32,89.58 L174.32,90.69 L174.32,91.79 L174.32,92.89 L174.32,94.00 L174.32,95.10 L174.32,96.20 L174.30,97.31 L174.26,98.41 L174.22,99.51 L174.16,100.62 L174.09,101.72 L174.00,102.82 L173.90,103.93 L173.78,105.03 L173.64,106.13 L173.48,107.24 L173.30,108.34 L173.10,109.44 L172.88,110.55 L172.64,111.65 L172.39,112.75 L172.13,113.86 L171.86,114.96 L171.60,116.06 L171.35,117.16 L171.12,118.27 L170.91,119.37 L170.73,120.47 L170.58,121.58 L170.48,122.68 L170.42,123.78 L170.41,124.89 L170.45,125.99 L170.54,127.09 L170.69,128.20 L171.01,129.30 L171.86,130.40 L174.40,131.51Z" fill="#F863DF" stroke="#3c3c3c" stroke-width="0.5"/>
<path d="M183.60,131.51 L186.33,130.22 L187.15,128.92 L187.39,127.63 L187.53,126.34 L187.59,125.05 L187.59,123.76 L187.54,122.47 L187.44,121.17 L187.31,119.88 L187.14,118.59 L186.94,117.30 L186.72,116.01 L186.48,114.72 L186.23,113.42 L185.98,112.13 L185.72,110.84 L185.48,109.55 L185.24,108.26 L185.02,106.97 L184.81,105.67 L184.62,104.38 L184.46,103.09 L184.31,101.80 L184.18,100.51 L184.07,99.22 L183.97,97.92 L183.89,96.63 L183.83,95.34 L183.78,94.05 L183.74,92.76 L183.70,91.47 L183.68,90.17 L183.68,88.88 L183.68,87.59 L183.68,86.30 L183.68,85.01 L183.68,83.72 L183.68,82.42 L183.68,81.13 L183.68,79.84 L183.68,35.10 L183.52,35.10 L183.52,79.84 L183.52,81.13 L183.52,82.42 L183.52,83.72 L183.52,85.01 L183.52,86.30 L183.52,87.59 L183.52,88.88 L183.52,90.17 L183.49,91.47 L183.46,92.76 L183.42,94.05 L183.37,95.34 L183.30,96.63 L183.22,97.92 L183.13,99.22 L183.02,100.51 L182.89,101.80 L182.74,103.09 L182.57,104.38 L182.39,105.67 L182.18,106.97 L181.96,108.26 L181.72,109.55 L181.47,110.84 L181.22,112.13 L180.96,113.42 L180.71,114.72 L180.47,116.01 L180.25,117.30 L180.06,118.59 L179.89,119.88 L179.75,121.17 L179.66,122.47 L179.61,123.76 L179.60,125.05 L179.67,126.34 L179.81,127.63 L180.05,128.92 L180.87,130.22 L183.60,131.51Z" fill="#FF62BF" stroke="#3c3c3c" stroke-width="0.5"/>
<path d="M192.79,131.51 L195.92,129.63 L196.46,127.76 L196.67,125.88 L196.78,124.01 L196.79,122.13 L196.74,120.26 L196.66,118.38 L196.54,116.51 L196.39,114.64 L196.20,112.76 L196.00,110.89 L195.77,109.01 L195.53,107.14 L195.28,105.26 L195.04,103.39 L194.79,101.51 L194.56,99.64 L194.33,97.76 L194.12,95.89 L193.93,94.01 L193.75,92.14 L193.60,90.26 L193.46,88.39 L193.34,86.51 L193.23,84.64 L193.15,82.77 L193.07,80.89 L193.01,79.02 L192.96,77.14 L192.92,75.27 L192.89,73.39 L192.87,71.52 L192.87,69.64 L192.87,67.77 L192.87,65.89 L192.87,64.02 L192.87,62.14 L192.87,60.27 L192.87,58.39 L192.87,56.52 L192.87,35.10 L192.71,35.10 L192.71,56.52 L192.71,58.39 L192.71,60.27 L192.71,62.14 L192.71,64.02 L192.71,65.89 L192.71,67.77 L192.71,69.64 L192.71,71.52 L192.69,73.39 L192.66,75.27 L192.62,77.14 L192.57,79.02 L192.51,80.89 L192.44,82.77 L192.35,84.64 L192.25,86.51 L192.13,88.39 L191.99,90.26 L191.83,92.14 L191.66,94.01 L191.46,95.89 L191.25,97.76 L191.03,99.64 L190.79,101.51 L190.55,103.39 L190.30,105.26 L190.05,107.14 L189.81,109.01 L189.59,110.89 L189.38,112.76 L189.20,114.64 L189.04,116.51 L188.92,118.38 L188.84,120.26 L188.80,122.13 L188.81,124.01 L188.91,125.88 L189.12,127.76 L189.66,129.63 L192.79,131.51Z" fill="#FF6A9A" stroke="#3c3c3c" stroke-width="0.5"/>
<line x1="21.4" y1="29.8" x2="21.4" y2="136.2" stroke="#333" stroke-width="0.9"/>
<line x1="19.2" y1="128.70" x2="21.4" y2="128.70" stroke="#333" stroke-width="0.9"/>
<text x="17.80" y="131.25" font-size="7.2" text-anchor="end" font-weight="normal" fill="#333" stroke="#333" stroke-width="0.18" >1000</text>
<line x1="19.2" y1="97.50" x2="21.4" y2="97.50" stroke="#333" stroke-width="0.9"/>
<text x="17.80" y="100.05" font-size="7.2" text-anchor="end" font-weight="normal" fill="#333" stroke="#333" stroke-width="0.18" >2000</text>
<line x1="19.2" y1="66.30" x2="21.4" y2="66.30" stroke="#333" stroke-width="0.9"/>
<text x="17.80" y="68.85" font-size="7.2" text-anchor="end" font-weight="normal" fill="#333" stroke="#333" stroke-width="0.18" >3000</text>
<line x1="19.2" y1="35.10" x2="21.4" y2="35.10" stroke="#333" stroke-width="0.9"/>
<text x="17.80" y="37.65" font-size="7.2" text-anchor="end" font-weight="normal" fill="#333" stroke="#333" stroke-width="0.18" >4000</text>
<line x1="21.4" y1="136.2" x2="198.8" y2="136.2" stroke="#333" stroke-width="0.9"/>
<line x1="27.30" y1="136.2" x2="27.30" y2="138.3" stroke="#333" stroke-width="0.9"/>
<text transform="translate(30.90,143.20) rotate(-45)" font-size="7.4" text-anchor="end" fill="#333">NC1</text>
<line x1="36.49" y1="136.2" x2="36.49" y2="138.3" stroke="#333" stroke-width="0.9"/>
<text transform="translate(40.09,143.20) rotate(-45)" font-size="7.4" text-anchor="end" fill="#333">NC2</text>
<line x1="45.69" y1="136.2" x2="45.69" y2="138.3" stroke="#333" stroke-width="0.9"/>
<text transform="translate(49.29,143.20) rotate(-45)" font-size="7.4" text-anchor="end" fill="#333">NC3</text>
<line x1="54.88" y1="136.2" x2="54.88" y2="138.3" stroke="#333" stroke-width="0.9"/>
<text transform="translate(58.48,143.20) rotate(-45)" font-size="7.4" text-anchor="end" fill="#333">HP1</text>
<line x1="64.08" y1="136.2" x2="64.08" y2="138.3" stroke="#333" stroke-width="0.9"/>
<text transform="translate(67.68,143.20) rotate(-45)" font-size="7.4" text-anchor="end" fill="#333">HP2</text>
<line x1="73.27" y1="136.2" x2="73.27" y2="138.3" stroke="#333" stroke-width="0.9"/>
<text transform="translate(76.87,143.20) rotate(-45)" font-size="7.4" text-anchor="end" fill="#333">HP3</text>
<line x1="82.46" y1="136.2" x2="82.46" y2="138.3" stroke="#333" stroke-width="0.9"/>
<text transform="translate(86.06,143.20) rotate(-45)" font-size="7.4" text-anchor="end" fill="#333">HP4</text>
<line x1="91.66" y1="136.2" x2="91.66" y2="138.3" stroke="#333" stroke-width="0.9"/>
<text transform="translate(95.26,143.20) rotate(-45)" font-size="7.4" text-anchor="end" fill="#333">SSL1</text>
<line x1="100.85" y1="136.2" x2="100.85" y2="138.3" stroke="#333" stroke-width="0.9"/>
<text transform="translate(104.45,143.20) rotate(-45)" font-size="7.4" text-anchor="end" fill="#333">SSL2</text>
<line x1="110.05" y1="136.2" x2="110.05" y2="138.3" stroke="#333" stroke-width="0.9"/>
<text transform="translate(113.65,143.20) rotate(-45)" font-size="7.4" text-anchor="end" fill="#333">SSL3</text>
<line x1="119.24" y1="136.2" x2="119.24" y2="138.3" stroke="#333" stroke-width="0.9"/>
<text transform="translate(122.84,143.20) rotate(-45)" font-size="7.4" text-anchor="end" fill="#333">SSL4</text>
<line x1="128.43" y1="136.2" x2="128.43" y2="138.3" stroke="#333" stroke-width="0.9"/>
<text transform="translate(132.03,143.20) rotate(-45)" font-size="7.4" text-anchor="end" fill="#333">SSL5</text>
<line x1="137.63" y1="136.2" x2="137.63" y2="138.3" stroke="#333" stroke-width="0.9"/>
<text transform="translate(141.23,143.20) rotate(-45)" font-size="7.4" text-anchor="end" fill="#333">SSLD1</text>
<line x1="146.82" y1="136.2" x2="146.82" y2="138.3" stroke="#333" stroke-width="0.9"/>
<text transform="translate(150.42,143.20) rotate(-45)" font-size="7.4" text-anchor="end" fill="#333">SSLD2</text>
<line x1="156.02" y1="136.2" x2="156.02" y2="138.3" stroke="#333" stroke-width="0.9"/>
<text transform="translate(159.62,143.20) rotate(-45)" font-size="7.4" text-anchor="end" fill="#333">TSA1</text>
<line x1="165.21" y1="136.2" x2="165.21" y2="138.3" stroke="#333" stroke-width="0.9"/>
<text transform="translate(168.81,143.20) rotate(-45)" font-size="7.4" text-anchor="end" fill="#333">TSA2</text>
<line x1="174.40" y1="136.2" x2="174.40" y2="138.3" stroke="#333" stroke-width="0.9"/>
<text transform="translate(178.00,143.20) rotate(-45)" font-size="7.4" text-anchor="end" fill="#333">TSA3</text>
<line x1="183.60" y1="136.2" x2="183.60" y2="138.3" stroke="#333" stroke-width="0.9"/>
<text transform="translate(187.20,143.20) rotate(-45)" font-size="7.4" text-anchor="end" fill="#333">TSA4</text>
<line x1="192.79" y1="136.2" x2="192.79" y2="138.3" stroke="#333" stroke-width="0.9"/>
<text transform="translate(196.39,143.20) rotate(-45)" font-size="7.4" text-anchor="end" fill="#333">TSA5</text>
<text x="105.00" y="24.00" font-size="9.3" text-anchor="middle" font-weight="bold" fill="#111" stroke="#111" stroke-width="0.2" >nGene</text>
<path d="M235.40,131.57 L235.99,131.53 L236.58,131.43 L237.18,131.26 L237.77,131.02 L238.35,130.71 L238.88,130.33 L239.29,129.88 L238.76,129.36 L237.86,128.77 L237.14,128.12 L236.58,127.39 L236.18,126.60 L235.89,125.73 L235.70,124.80 L235.58,123.80 L235.50,122.73 L235.50,121.59 L235.50,120.38 L235.50,119.11 L235.50,117.76 L235.50,116.35 L235.50,114.86 L235.50,113.31 L235.50,111.68 L235.50,109.99 L235.50,108.23 L235.50,106.40 L235.50,104.50 L235.50,102.54 L235.50,100.50 L235.50,98.39 L235.50,96.22 L235.50,93.98 L235.50,91.66 L235.50,89.28 L235.50,86.83 L235.50,84.31 L235.50,81.72 L235.50,79.06 L235.50,76.34 L235.50,73.54 L235.50,70.67 L235.50,67.74 L235.50,64.74 L235.50,61.66 L235.30,61.66 L235.30,64.74 L235.30,67.74 L235.30,70.67 L235.30,73.54 L235.30,76.34 L235.30,79.06 L235.30,81.72 L235.30,84.31 L235.30,86.83 L235.30,89.28 L235.30,91.66 L235.30,93.98 L235.30,96.22 L235.30,98.39 L235.30,100.50 L235.30,102.54 L235.30,104.50 L235.30,106.40 L235.30,108.23 L235.30,109.99 L235.30,111.68 L235.30,113.31 L235.30,114.86 L235.30,116.35 L235.30,117.76 L235.30,119.11 L235.30,120.38 L235.30,121.59 L235.30,122.73 L235.22,123.80 L235.10,124.80 L234.91,125.73 L234.62,126.60 L234.22,127.39 L233.66,128.12 L232.94,128.77 L232.04,129.36 L231.51,129.88 L231.92,130.33 L232.45,130.71 L233.03,131.02 L233.62,131.26 L234.22,131.43 L234.81,131.53 L235.40,131.57Z" fill="#F8766D" stroke="#3c3c3c" stroke-width="0.5"/>
<path d="M244.62,131.57 L245.01,131.55 L245.40,131.51 L245.80,131.43 L246.19,131.32 L246.58,131.19 L246.97,131.02 L247.34,130.82 L247.70,130.59 L248.02,130.33 L248.30,130.04 L248.49,129.72 L248.58,129.36 L248.37,128.98 L248.15,128.57 L247.93,128.12 L247.71,127.65 L247.49,127.14 L247.28,126.61 L247.07,126.04 L246.86,125.45 L246.67,124.82 L246.48,124.16 L246.31,123.47 L246.14,122.75 L245.98,122.00 L245.84,121.22 L245.70,120.41 L245.58,119.57 L245.46,118.69 L245.36,117.79 L245.27,116.86 L245.18,115.89 L245.11,114.90 L245.04,113.87 L244.98,112.82 L244.93,111.73 L244.88,110.61 L244.84,109.46 L244.81,108.29 L244.78,107.08 L244.75,105.84 L244.73,104.57 L244.72,103.26 L244.72,101.93 L244.72,100.57 L244.52,100.57 L244.52,101.93 L244.52,103.26 L244.51,104.57 L244.49,105.84 L244.46,107.08 L244.43,108.29 L244.40,109.46 L244.36,110.61 L244.31,111.73 L244.26,112.82 L244.20,113.87 L244.13,114.90 L244.06,115.89 L243.97,116.86 L243.88,117.79 L243.78,118.69 L243.66,119.57 L243.54,120.41 L243.40,121.22 L243.26,122.00 L243.10,122.75 L242.93,123.47 L242.76,124.16 L242.57,124.82 L242.38,125.45 L242.17,126.04 L241.96,126.61 L241.75,127.14 L241.53,127.65 L241.31,128.12 L241.09,128.57 L240.87,128.98 L240.66,129.36 L240.75,129.72 L240.94,130.04 L241.22,130.33 L241.54,130.59 L241.90,130.82 L242.27,131.02 L242.66,131.19 L243.05,131.32 L243.44,131.43 L243.84,131.51 L244.23,131.55 L244.62,131.57Z" fill="#E9842C" stroke="#3c3c3c" stroke-width="0.5"/>
<path d="M253.84,131.57 L254.38,131.53 L254.97,131.42 L255.65,131.23 L256.43,130.97 L256.15,130.63 L255.17,130.21 L254.54,129.73 L254.17,129.16 L253.98,128.52 L253.94,127.81 L253.94,127.02 L253.94,126.15 L253.94,125.21 L253.94,124.20 L253.94,123.10 L253.94,121.94 L253.94,120.70 L253.94,119.38 L253.94,117.99 L253.94,116.52 L253.94,114.98 L253.94,113.36 L253.94,111.67 L253.94,109.90 L253.94,108.06 L253.94,106.14 L253.94,104.14 L253.94,102.08 L253.94,99.93 L253.94,97.71 L253.94,95.42 L253.94,93.05 L253.94,90.60 L253.94,88.08 L253.94,85.49 L253.94,82.81 L253.94,80.07 L253.94,77.25 L253.94,74.35 L253.94,71.38 L253.94,68.33 L253.94,65.21 L253.94,62.01 L253.94,58.74 L253.94,55.39 L253.74,55.39 L253.74,58.74 L253.74,62.01 L253.74,65.21 L253.74,68.33 L253.74,71.38 L253.74,74.35 L253.74,77.25 L253.74,80.07 L253.74,82.81 L253.74,85.49 L253.74,88.08 L253.74,90.60 L253.74,93.05 L253.74,95.42 L253.74,97.71 L253.74,99.93 L253.74,102.08 L253.74,104.14 L253.74,106.14 L253.74,108.06 L253.74,109.90 L253.74,111.67 L253.74,113.36 L253.74,114.98 L253.74,116.52 L253.74,117.99 L253.74,119.38 L253.74,120.70 L253.74,121.94 L253.74,123.10 L253.74,124.20 L253.74,125.21 L253.74,126.15 L253.74,127.02 L253.74,127.81 L253.70,128.52 L253.51,129.16 L253.14,129.73 L252.51,130.21 L251.53,130.63 L251.25,130.97 L252.03,131.23 L252.71,131.42 L253.30,131.53 L253.84,131.57Z" fill="#D69100" stroke="#3c3c3c" stroke-width="0.5"/>
<path d="M263.06,131.57 L263.75,131.52 L264.44,131.38 L265.13,131.14 L265.80,130.81 L266.41,130.38 L266.86,129.86 L266.67,129.24 L265.53,128.53 L264.67,127.72 L264.05,126.81 L263.65,125.82 L263.39,124.72 L263.23,123.54 L263.16,122.25 L263.16,120.87 L263.16,119.40 L263.16,117.83 L263.16,116.17 L263.16,114.41 L263.16,112.55 L263.16,110.61 L263.16,108.56 L263.16,106.42 L263.16,104.19 L263.16,101.86 L263.16,99.43 L263.16,96.92 L263.16,94.30 L263.16,91.59 L263.16,88.79 L263.16,85.89 L263.16,82.89 L263.16,79.80 L263.16,76.62 L263.16,73.34 L263.16,69.96 L263.16,66.49 L263.16,62.93 L263.16,59.27 L263.16,55.51 L263.16,51.66 L263.16,47.72 L263.16,43.68 L263.16,39.54 L263.16,35.31 L262.96,35.31 L262.96,39.54 L262.96,43.68 L262.96,47.72 L262.96,51.66 L262.96,55.51 L262.96,59.27 L262.96,62.93 L262.96,66.49 L262.96,69.96 L262.96,73.34 L262.96,76.62 L262.96,79.80 L262.96,82.89 L262.96,85.89 L262.96,88.79 L262.96,91.59 L262.96,94.30 L262.96,96.92 L262.96,99.43 L262.96,101.86 L262.96,104.19 L262.96,106.42 L262.96,108.56 L262.96,110.61 L262.96,112.55 L262.96,114.41 L262.96,116.17 L262.96,117.83 L262.96,119.40 L262.96,120.87 L262.96,122.25 L262.89,123.54 L262.73,124.72 L262.47,125.82 L262.07,126.81 L261.45,127.72 L260.59,128.53 L259.45,129.24 L259.26,129.86 L259.71,130.38 L260.32,130.81 L260.99,131.14 L261.68,131.38 L262.37,131.52 L263.06,131.57Z" fill="#BC9D00" stroke="#3c3c3c" stroke-width="0.5"/>
<path d="M272.28,131.57 L272.38,131.53 L272.42,131.41 L272.66,131.20 L273.03,130.92 L273.57,130.55 L274.27,130.10 L275.17,129.57 L275.88,128.96 L274.71,128.27 L273.84,127.50 L273.24,126.64 L272.84,125.71 L272.60,124.69 L272.45,123.59 L272.38,122.41 L272.38,121.14 L272.38,119.80 L272.38,118.38 L272.38,116.87 L272.38,115.28 L272.38,113.61 L272.38,111.86 L272.38,110.03 L272.38,108.12 L272.38,106.12 L272.38,104.04 L272.38,101.89 L272.38,99.65 L272.38,97.32 L272.38,94.92 L272.38,92.44 L272.38,89.87 L272.38,87.23 L272.38,84.50 L272.38,81.69 L272.38,78.80 L272.38,75.83 L272.38,72.77 L272.38,69.64 L272.38,66.42 L272.38,63.12 L272.38,59.74 L272.38,56.28 L272.38,52.74 L272.38,49.11 L272.18,49.11 L272.18,52.74 L272.18,56.28 L272.18,59.74 L272.18,63.12 L272.18,66.42 L272.18,69.64 L272.18,72.77 L272.18,75.83 L272.18,78.80 L272.18,81.69 L272.18,84.50 L272.18,87.23 L272.18,89.87 L272.18,92.44 L272.18,94.92 L272.18,97.32 L272.18,99.65 L272.18,101.89 L272.18,104.04 L272.18,106.12 L272.18,108.12 L272.18,110.03 L272.18,111.86 L272.18,113.61 L272.18,115.28 L272.18,116.87 L272.18,118.38 L272.18,119.80 L272.18,121.14 L272.18,122.41 L272.11,123.59 L271.96,124.69 L271.72,125.71 L271.32,126.64 L270.72,127.50 L269.85,128.27 L268.68,128.96 L269.39,129.57 L270.29,130.10 L270.99,130.55 L271.53,130.92 L271.90,131.20 L272.14,131.41 L272.18,131.53 L272.28,131.57Z" fill="#9CA700" stroke="#3c3c3c" stroke-width="0.5"/>
<path d="M281.50,131.57 L282.22,131.52 L282.95,131.38 L283.67,131.14 L284.38,130.81 L285.01,130.38 L285.49,129.86 L285.62,129.24 L285.36,128.53 L285.08,127.72 L284.79,126.81 L284.49,125.82 L284.20,124.72 L283.92,123.54 L283.64,122.25 L283.38,120.87 L283.14,119.40 L282.92,117.83 L282.71,116.17 L282.53,114.41 L282.36,112.55 L282.22,110.61 L282.09,108.56 L281.99,106.42 L281.89,104.19 L281.82,101.86 L281.75,99.43 L281.70,96.92 L281.66,94.30 L281.62,91.59 L281.60,88.79 L281.60,85.89 L281.60,82.89 L281.60,79.80 L281.60,76.62 L281.60,73.34 L281.60,69.96 L281.60,66.49 L281.60,62.93 L281.60,59.27 L281.60,55.51 L281.60,51.66 L281.60,47.72 L281.60,43.68 L281.60,39.54 L281.60,35.31 L281.40,35.31 L281.40,39.54 L281.40,43.68 L281.40,47.72 L281.40,51.66 L281.40,55.51 L281.40,59.27 L281.40,62.93 L281.40,66.49 L281.40,69.96 L281.40,73.34 L281.40,76.62 L281.40,79.80 L281.40,82.89 L281.40,85.89 L281.40,88.79 L281.38,91.59 L281.34,94.30 L281.30,96.92 L281.25,99.43 L281.18,101.86 L281.11,104.19 L281.01,106.42 L280.91,108.56 L280.78,110.61 L280.64,112.55 L280.47,114.41 L280.29,116.17 L280.08,117.83 L279.86,119.40 L279.62,120.87 L279.36,122.25 L279.08,123.54 L278.80,124.72 L278.51,125.82 L278.21,126.81 L277.92,127.72 L277.64,128.53 L277.38,129.24 L277.51,129.86 L277.99,130.38 L278.62,130.81 L279.33,131.14 L280.05,131.38 L280.78,131.52 L281.50,131.57Z" fill="#6FB000" stroke="#3c3c3c" stroke-width="0.5"/>
<path d="M290.72,131.57 L291.15,131.54 L291.61,131.46 L292.12,131.32 L292.70,131.14 L293.84,130.89 L292.94,130.59 L292.21,130.24 L291.66,129.84 L291.27,129.37 L291.03,128.86 L290.88,128.29 L290.82,127.67 L290.82,126.99 L290.82,126.26 L290.82,125.47 L290.82,124.64 L290.82,123.74 L290.82,122.79 L290.82,121.79 L290.82,120.74 L290.82,119.62 L290.82,118.46 L290.82,117.24 L290.82,115.97 L290.82,114.64 L290.82,113.26 L290.82,111.82 L290.82,110.34 L290.82,108.79 L290.82,107.19 L290.82,105.54 L290.82,103.84 L290.82,102.07 L290.82,100.26 L290.82,98.39 L290.82,96.47 L290.82,94.49 L290.82,92.46 L290.82,90.37 L290.82,88.24 L290.82,86.04 L290.82,83.79 L290.82,81.49 L290.82,79.14 L290.82,76.72 L290.62,76.72 L290.62,79.14 L290.62,81.49 L290.62,83.79 L290.62,86.04 L290.62,88.24 L290.62,90.37 L290.62,92.46 L290.62,94.49 L290.62,96.47 L290.62,98.39 L290.62,100.26 L290.62,102.07 L290.62,103.84 L290.62,105.54 L290.62,107.19 L290.62,108.79 L290.62,110.34 L290.62,111.82 L290.62,113.26 L290.62,114.64 L290.62,115.97 L290.62,117.24 L290.62,118.46 L290.62,119.62 L290.62,120.74 L290.62,121.79 L290.62,122.79 L290.62,123.74 L290.62,124.64 L290.62,125.47 L290.62,126.26 L290.62,126.99 L290.62,127.67 L290.56,128.29 L290.41,128.86 L290.17,129.37 L289.78,129.84 L289.23,130.24 L288.50,130.59 L287.60,130.89 L288.74,131.14 L289.32,131.32 L289.83,131.46 L290.29,131.54 L290.72,131.57Z" fill="#00B813" stroke="#3c3c3c" stroke-width="0.5"/>
<path d="M299.94,131.57 L300.43,131.54 L300.92,131.47 L301.42,131.35 L301.92,131.18 L302.41,130.97 L302.89,130.71 L303.34,130.39 L303.71,130.03 L303.81,129.63 L302.92,129.17 L302.18,128.67 L301.58,128.11 L301.10,127.52 L300.74,126.87 L300.48,126.17 L300.29,125.43 L300.17,124.64 L300.08,123.80 L300.04,122.91 L300.04,121.97 L300.04,120.99 L300.04,119.96 L300.04,118.88 L300.04,117.75 L300.04,116.58 L300.04,115.36 L300.04,114.08 L300.04,112.76 L300.04,111.40 L300.04,109.98 L300.04,108.52 L300.04,107.01 L300.04,105.45 L300.04,103.84 L300.04,102.19 L300.04,100.48 L300.04,98.73 L300.04,96.93 L300.04,95.09 L300.04,93.19 L300.04,91.25 L300.04,89.26 L300.04,87.22 L300.04,85.13 L300.04,83.00 L299.84,83.00 L299.84,85.13 L299.84,87.22 L299.84,89.26 L299.84,91.25 L299.84,93.19 L299.84,95.09 L299.84,96.93 L299.84,98.73 L299.84,100.48 L299.84,102.19 L299.84,103.84 L299.84,105.45 L299.84,107.01 L299.84,108.52 L299.84,109.98 L299.84,111.40 L299.84,112.76 L299.84,114.08 L299.84,115.36 L299.84,116.58 L299.84,117.75 L299.84,118.88 L299.84,119.96 L299.84,120.99 L299.84,121.97 L299.84,122.91 L299.80,123.80 L299.71,124.64 L299.59,125.43 L299.40,126.17 L299.14,126.87 L298.78,127.52 L298.30,128.11 L297.70,128.67 L296.96,129.17 L296.07,129.63 L296.17,130.03 L296.54,130.39 L296.99,130.71 L297.47,130.97 L297.96,131.18 L298.46,131.35 L298.96,131.47 L299.45,131.54 L299.94,131.57Z" fill="#00BD61" stroke="#3c3c3c" stroke-width="0.5"/>
<path d="M309.16,131.57 L309.83,131.52 L310.50,131.39 L311.18,131.17 L311.85,130.86 L312.48,130.46 L312.99,129.97 L312.58,129.39 L311.56,128.72 L310.77,127.97 L310.19,127.12 L309.79,126.19 L309.52,125.17 L309.36,124.06 L309.27,122.86 L309.26,121.57 L309.26,120.19 L309.26,118.73 L309.26,117.17 L309.26,115.53 L309.26,113.79 L309.26,111.97 L309.26,110.06 L309.26,108.06 L309.26,105.97 L309.26,103.80 L309.26,101.53 L309.26,99.17 L309.26,96.73 L309.26,94.20 L309.26,91.58 L309.26,88.87 L309.26,86.07 L309.26,83.18 L309.26,80.20 L309.26,77.13 L309.26,73.98 L309.26,70.74 L309.26,67.40 L309.26,63.98 L309.26,60.47 L309.26,56.87 L309.26,53.18 L309.26,49.41 L309.26,45.54 L309.26,41.58 L309.06,41.58 L309.06,45.54 L309.06,49.41 L309.06,53.18 L309.06,56.87 L309.06,60.47 L309.06,63.98 L309.06,67.40 L309.06,70.74 L309.06,73.98 L309.06,77.13 L309.06,80.20 L309.06,83.18 L309.06,86.07 L309.06,88.87 L309.06,91.58 L309.06,94.20 L309.06,96.73 L309.06,99.17 L309.06,101.53 L309.06,103.80 L309.06,105.97 L309.06,108.06 L309.06,110.06 L309.06,111.97 L309.06,113.79 L309.06,115.53 L309.06,117.17 L309.06,118.73 L309.06,120.19 L309.06,121.57 L309.05,122.86 L308.96,124.06 L308.80,125.17 L308.53,126.19 L308.13,127.12 L307.55,127.97 L306.76,128.72 L305.74,129.39 L305.33,129.97 L305.84,130.46 L306.47,130.86 L307.14,131.17 L307.82,131.39 L308.49,131.52 L309.16,131.57Z" fill="#00C08E" stroke="#3c3c3c" stroke-width="0.5"/>
<path d="M318.38,131.57 L318.97,131.52 L319.58,131.39 L320.22,131.17 L320.91,130.86 L321.60,130.46 L320.79,129.97 L319.90,129.39 L319.27,128.72 L318.87,127.97 L318.63,127.12 L318.50,126.19 L318.48,125.17 L318.48,124.06 L318.48,122.86 L318.48,121.57 L318.48,120.19 L318.48,118.73 L318.48,117.17 L318.48,115.53 L318.48,113.79 L318.48,111.97 L318.48,110.06 L318.48,108.06 L318.48,105.97 L318.48,103.80 L318.48,101.53 L318.48,99.17 L318.48,96.73 L318.48,94.20 L318.48,91.58 L318.48,88.87 L318.48,86.07 L318.48,83.18 L318.48,80.20 L318.48,77.13 L318.48,73.98 L318.48,70.74 L318.48,67.40 L318.48,63.98 L318.48,60.47 L318.48,56.87 L318.48,53.18 L318.48,49.41 L318.48,45.54 L318.48,41.58 L318.28,41.58 L318.28,45.54 L318.28,49.41 L318.28,53.18 L318.28,56.87 L318.28,60.47 L318.28,63.98 L318.28,67.40 L318.28,70.74 L318.28,73.98 L318.28,77.13 L318.28,80.20 L318.28,83.18 L318.28,86.07 L318.28,88.87 L318.28,91.58 L318.28,94.20 L318.28,96.73 L318.28,99.17 L318.28,101.53 L318.28,103.80 L318.28,105.97 L318.28,108.06 L318.28,110.06 L318.28,111.97 L318.28,113.79 L318.28,115.53 L318.28,117.17 L318.28,118.73 L318.28,120.19 L318.28,121.57 L318.28,122.86 L318.28,124.06 L318.28,125.17 L318.26,126.19 L318.13,127.12 L317.89,127.97 L317.49,128.72 L316.86,129.39 L315.97,129.97 L315.16,130.46 L315.85,130.86 L316.54,131.17 L317.18,131.39 L317.79,131.52 L318.38,131.57Z" fill="#00C0B4" stroke="#3c3c3c" stroke-width="0.5"/>
<path d="M327.60,131.57 L328.23,131.53 L328.85,131.43 L329.47,131.26 L330.07,131.03 L330.64,130.72 L331.15,130.35 L331.52,129.91 L331.75,129.40 L331.55,128.82 L330.73,128.18 L330.02,127.47 L329.42,126.69 L328.94,125.84 L328.56,124.92 L328.27,123.94 L328.06,122.89 L327.91,121.77 L327.80,120.58 L327.73,119.33 L327.70,118.01 L327.70,116.62 L327.70,115.16 L327.70,113.64 L327.70,112.04 L327.70,110.38 L327.70,108.65 L327.70,106.86 L327.70,104.99 L327.70,103.06 L327.70,101.06 L327.70,98.99 L327.70,96.85 L327.70,94.65 L327.70,92.38 L327.70,90.04 L327.70,87.63 L327.70,85.16 L327.70,82.62 L327.70,80.01 L327.70,77.33 L327.70,74.58 L327.70,71.77 L327.70,68.89 L327.70,65.94 L327.70,62.92 L327.50,62.92 L327.50,65.94 L327.50,68.89 L327.50,71.77 L327.50,74.58 L327.50,77.33 L327.50,80.01 L327.50,82.62 L327.50,85.16 L327.50,87.63 L327.50,90.04 L327.50,92.38 L327.50,94.65 L327.50,96.85 L327.50,98.99 L327.50,101.06 L327.50,103.06 L327.50,104.99 L327.50,106.86 L327.50,108.65 L327.50,110.38 L327.50,112.04 L327.50,113.64 L327.50,115.16 L327.50,116.62 L327.50,118.01 L327.47,119.33 L327.40,120.58 L327.29,121.77 L327.14,122.89 L326.93,123.94 L326.64,124.92 L326.26,125.84 L325.78,126.69 L325.18,127.47 L324.47,128.18 L323.65,128.82 L323.45,129.40 L323.68,129.91 L324.05,130.35 L324.56,130.72 L325.13,131.03 L325.73,131.26 L326.35,131.43 L326.97,131.53 L327.60,131.57Z" fill="#00BDD4" stroke="#3c3c3c" stroke-width="0.5"/>
<path d="M336.82,131.57 L337.39,131.54 L337.98,131.44 L338.60,131.28 L339.27,131.06 L339.97,130.77 L340.39,130.42 L339.39,130.01 L338.57,129.53 L337.96,128.99 L337.52,128.38 L337.23,127.71 L337.05,126.98 L336.94,126.18 L336.92,125.32 L336.92,124.40 L336.92,123.41 L336.92,122.36 L336.92,121.25 L336.92,120.07 L336.92,118.83 L336.92,117.52 L336.92,116.15 L336.92,114.72 L336.92,113.22 L336.92,111.66 L336.92,110.03 L336.92,108.35 L336.92,106.59 L336.92,104.78 L336.92,102.90 L336.92,100.96 L336.92,98.95 L336.92,96.88 L336.92,94.74 L336.92,92.55 L336.92,90.28 L336.92,87.96 L336.92,85.57 L336.92,83.12 L336.92,80.60 L336.92,78.02 L336.92,75.38 L336.92,72.67 L336.92,69.90 L336.92,67.06 L336.72,67.06 L336.72,69.90 L336.72,72.67 L336.72,75.38 L336.72,78.02 L336.72,80.60 L336.72,83.12 L336.72,85.57 L336.72,87.96 L336.72,90.28 L336.72,92.55 L336.72,94.74 L336.72,96.88 L336.72,98.95 L336.72,100.96 L336.72,102.90 L336.72,104.78 L336.72,106.59 L336.72,108.35 L336.72,110.03 L336.72,111.66 L336.72,113.22 L336.72,114.72 L336.72,116.15 L336.72,117.52 L336.72,118.83 L336.72,120.07 L336.72,121.25 L336.72,122.36 L336.72,123.41 L336.72,124.40 L336.72,125.32 L336.70,126.18 L336.59,126.98 L336.41,127.71 L336.12,128.38 L335.68,128.99 L335.07,129.53 L334.25,130.01 L333.25,130.42 L333.67,130.77 L334.37,131.06 L335.04,131.28 L335.66,131.44 L336.25,131.54 L336.82,131.57Z" fill="#00B5EE" stroke="#3c3c3c" stroke-width="0.5"/>
<path d="M346.04,131.57 L346.14,131.52 L346.17,131.39 L346.39,131.17 L346.74,130.87 L347.23,130.47 L347.88,129.99 L348.70,129.42 L349.71,128.76 L348.71,128.02 L347.76,127.19 L347.09,126.27 L346.66,125.26 L346.38,124.16 L346.22,122.98 L346.14,121.71 L346.14,120.35 L346.14,118.91 L346.14,117.37 L346.14,115.75 L346.14,114.04 L346.14,112.25 L346.14,110.36 L346.14,108.39 L346.14,106.33 L346.14,104.18 L346.14,101.95 L346.14,99.63 L346.14,97.22 L346.14,94.72 L346.14,92.13 L346.14,89.46 L346.14,86.70 L346.14,83.85 L346.14,80.92 L346.14,77.89 L346.14,74.78 L346.14,71.58 L346.14,68.30 L346.14,64.92 L346.14,61.46 L346.14,57.91 L346.14,54.28 L346.14,50.55 L346.14,46.74 L346.14,42.84 L345.94,42.84 L345.94,46.74 L345.94,50.55 L345.94,54.28 L345.94,57.91 L345.94,61.46 L345.94,64.92 L345.94,68.30 L345.94,71.58 L345.94,74.78 L345.94,77.89 L345.94,80.92 L345.94,83.85 L345.94,86.70 L345.94,89.46 L345.94,92.13 L345.94,94.72 L345.94,97.22 L345.94,99.63 L345.94,101.95 L345.94,104.18 L345.94,106.33 L345.94,108.39 L345.94,110.36 L345.94,112.25 L345.94,114.04 L345.94,115.75 L345.94,117.37 L345.94,118.91 L345.94,120.35 L345.94,121.71 L345.86,122.98 L345.70,124.16 L345.42,125.26 L344.99,126.27 L344.32,127.19 L343.37,128.02 L342.37,128.76 L343.38,129.42 L344.20,129.99 L344.85,130.47 L345.34,130.87 L345.69,131.17 L345.91,131.39 L345.94,131.52 L346.04,131.57Z" fill="#00A7FF" stroke="#3c3c3c" stroke-width="0.5"/>
<path d="M355.26,131.57 L355.81,131.54 L356.37,131.46 L356.93,131.33 L357.49,131.15 L358.06,130.91 L358.60,130.62 L359.10,130.28 L359.50,129.89 L358.63,129.45 L357.68,128.95 L356.94,128.40 L356.39,127.79 L355.99,127.14 L355.72,126.43 L355.53,125.67 L355.42,124.86 L355.36,123.99 L355.36,123.07 L355.36,122.10 L355.36,121.08 L355.36,120.01 L355.36,118.88 L355.36,117.70 L355.36,116.47 L355.36,115.18 L355.36,113.85 L355.36,112.46 L355.36,111.02 L355.36,109.52 L355.36,107.97 L355.36,106.38 L355.36,104.72 L355.36,103.02 L355.36,101.26 L355.36,99.45 L355.36,97.59 L355.36,95.68 L355.36,93.71 L355.36,91.69 L355.36,89.62 L355.36,87.50 L355.36,85.32 L355.36,83.10 L355.36,80.82 L355.36,78.48 L355.16,78.48 L355.16,80.82 L355.16,83.10 L355.16,85.32 L355.16,87.50 L355.16,89.62 L355.16,91.69 L355.16,93.71 L355.16,95.68 L355.16,97.59 L355.16,99.45 L355.16,101.26 L355.16,103.02 L355.16,104.72 L355.16,106.38 L355.16,107.97 L355.16,109.52 L355.16,111.02 L355.16,112.46 L355.16,113.85 L355.16,115.18 L355.16,116.47 L355.16,117.70 L355.16,118.88 L355.16,120.01 L355.16,121.08 L355.16,122.10 L355.16,123.07 L355.16,123.99 L355.10,124.86 L354.99,125.67 L354.80,126.43 L354.53,127.14 L354.13,127.79 L353.58,128.40 L352.84,128.95 L351.89,129.45 L351.02,129.89 L351.42,130.28 L351.92,130.62 L352.46,130.91 L353.03,131.15 L353.59,131.33 L354.15,131.46 L354.71,131.54 L355.26,131.57Z" fill="#7F96FF" stroke="#3c3c3c" stroke-width="0.5"/>
<path d="M364.48,131.57 L365.11,131.53 L365.74,131.41 L366.36,131.21 L366.96,130.93 L367.52,130.58 L367.97,130.14 L368.26,129.62 L368.41,129.03 L367.15,128.35 L366.22,127.60 L365.56,126.76 L365.12,125.85 L364.85,124.85 L364.68,123.78 L364.58,122.63 L364.58,121.40 L364.58,120.09 L364.58,118.70 L364.58,117.23 L364.58,115.68 L364.58,114.05 L364.58,112.34 L364.58,110.55 L364.58,108.69 L364.58,106.74 L364.58,104.71 L364.58,102.61 L364.58,100.42 L364.58,98.16 L364.58,95.81 L364.58,93.39 L364.58,90.89 L364.58,88.31 L364.58,85.65 L364.58,82.90 L364.58,80.08 L364.58,77.18 L364.58,74.20 L364.58,71.14 L364.58,68.01 L364.58,64.79 L364.58,61.49 L364.58,58.11 L364.58,54.66 L364.58,51.12 L364.38,51.12 L364.38,54.66 L364.38,58.11 L364.38,61.49 L364.38,64.79 L364.38,68.01 L364.38,71.14 L364.38,74.20 L364.38,77.18 L364.38,80.08 L364.38,82.90 L364.38,85.65 L364.38,88.31 L364.38,90.89 L364.38,93.39 L364.38,95.81 L364.38,98.16 L364.38,100.42 L364.38,102.61 L364.38,104.71 L364.38,106.74 L364.38,108.69 L364.38,110.55 L364.38,112.34 L364.38,114.05 L364.38,115.68 L364.38,117.23 L364.38,118.70 L364.38,120.09 L364.38,121.40 L364.38,122.63 L364.28,123.78 L364.11,124.85 L363.84,125.85 L363.40,126.76 L362.74,127.60 L361.81,128.35 L360.55,129.03 L360.70,129.62 L360.99,130.14 L361.44,130.58 L362.00,130.93 L362.60,131.21 L363.22,131.41 L363.85,131.53 L364.48,131.57Z" fill="#BC81FF" stroke="#3c3c3c" stroke-width="0.5"/>
<path d="M373.70,131.57 L373.80,131.54 L373.81,131.45 L373.98,131.29 L374.26,131.08 L374.66,130.81 L375.18,130.47 L375.85,130.07 L376.66,129.62 L377.62,129.10 L376.57,128.52 L375.64,127.88 L374.96,127.18 L374.49,126.42 L374.18,125.59 L373.98,124.71 L373.86,123.76 L373.80,122.76 L373.80,121.69 L373.80,120.56 L373.80,119.37 L373.80,118.12 L373.80,116.81 L373.80,115.44 L373.80,114.01 L373.80,112.51 L373.80,110.96 L373.80,109.34 L373.80,107.66 L373.80,105.92 L373.80,104.13 L373.80,102.27 L373.80,100.34 L373.80,98.36 L373.80,96.32 L373.80,94.22 L373.80,92.05 L373.80,89.83 L373.80,87.54 L373.80,85.19 L373.80,82.78 L373.80,80.31 L373.80,77.78 L373.80,75.19 L373.80,72.54 L373.80,69.82 L373.60,69.82 L373.60,72.54 L373.60,75.19 L373.60,77.78 L373.60,80.31 L373.60,82.78 L373.60,85.19 L373.60,87.54 L373.60,89.83 L373.60,92.05 L373.60,94.22 L373.60,96.32 L373.60,98.36 L373.60,100.34 L373.60,102.27 L373.60,104.13 L373.60,105.92 L373.60,107.66 L373.60,109.34 L373.60,110.96 L373.60,112.51 L373.60,114.01 L373.60,115.44 L373.60,116.81 L373.60,118.12 L373.60,119.37 L373.60,120.56 L373.60,121.69 L373.60,122.76 L373.54,123.76 L373.42,124.71 L373.22,125.59 L372.91,126.42 L372.44,127.18 L371.76,127.88 L370.83,128.52 L369.78,129.10 L370.74,129.62 L371.55,130.07 L372.22,130.47 L372.74,130.81 L373.14,131.08 L373.42,131.29 L373.59,131.45 L373.60,131.54 L373.70,131.57Z" fill="#E26EF7" stroke="#3c3c3c" stroke-width="0.5"/>
<path d="M382.92,131.57 L383.41,131.54 L383.92,131.46 L384.45,131.33 L385.01,131.15 L385.61,130.91 L386.23,130.62 L385.94,130.27 L385.12,129.88 L384.46,129.43 L383.95,128.93 L383.58,128.37 L383.33,127.77 L383.16,127.11 L383.06,126.39 L383.02,125.63 L383.02,124.81 L383.02,123.94 L383.02,123.01 L383.02,122.04 L383.02,121.01 L383.02,119.93 L383.02,118.79 L383.02,117.60 L383.02,116.36 L383.02,115.07 L383.02,113.72 L383.02,112.32 L383.02,110.87 L383.02,109.36 L383.02,107.81 L383.02,106.20 L383.02,104.53 L383.02,102.82 L383.02,101.05 L383.02,99.23 L383.02,97.35 L383.02,95.42 L383.02,93.44 L383.02,91.41 L383.02,89.33 L383.02,87.19 L383.02,85.00 L383.02,82.75 L383.02,80.46 L383.02,78.11 L382.82,78.11 L382.82,80.46 L382.82,82.75 L382.82,85.00 L382.82,87.19 L382.82,89.33 L382.82,91.41 L382.82,93.44 L382.82,95.42 L382.82,97.35 L382.82,99.23 L382.82,101.05 L382.82,102.82 L382.82,104.53 L382.82,106.20 L382.82,107.81 L382.82,109.36 L382.82,110.87 L382.82,112.32 L382.82,113.72 L382.82,115.07 L382.82,116.36 L382.82,117.60 L382.82,118.79 L382.82,119.93 L382.82,121.01 L382.82,122.04 L382.82,123.01 L382.82,123.94 L382.82,124.81 L382.82,125.63 L382.78,126.39 L382.68,127.11 L382.51,127.77 L382.26,128.37 L381.89,128.93 L381.38,129.43 L380.72,129.88 L379.90,130.27 L379.61,130.62 L380.23,130.91 L380.83,131.15 L381.39,131.33 L381.92,131.46 L382.43,131.54 L382.92,131.57Z" fill="#F863DF" stroke="#3c3c3c" stroke-width="0.5"/>
<path d="M392.14,131.57 L392.65,131.54 L393.16,131.47 L393.68,131.34 L394.20,131.16 L394.72,130.93 L395.22,130.64 L395.69,130.31 L396.06,129.92 L395.60,129.49 L394.93,129.00 L394.34,128.46 L393.83,127.86 L393.41,127.22 L393.07,126.53 L392.81,125.78 L392.61,124.98 L392.46,124.14 L392.36,123.24 L392.28,122.28 L392.24,121.28 L392.24,120.23 L392.24,119.12 L392.24,117.96 L392.24,116.75 L392.24,115.49 L392.24,114.18 L392.24,112.82 L392.24,111.40 L392.24,109.94 L392.24,108.42 L392.24,106.85 L392.24,105.23 L392.24,103.56 L392.24,101.84 L392.24,100.06 L392.24,98.24 L392.24,96.36 L392.24,94.43 L392.24,92.45 L392.24,90.42 L392.24,88.33 L392.24,86.20 L392.24,84.01 L392.24,81.78 L392.24,79.49 L392.04,79.49 L392.04,81.78 L392.04,84.01 L392.04,86.20 L392.04,88.33 L392.04,90.42 L392.04,92.45 L392.04,94.43 L392.04,96.36 L392.04,98.24 L392.04,100.06 L392.04,101.84 L392.04,103.56 L392.04,105.23 L392.04,106.85 L392.04,108.42 L392.04,109.94 L392.04,111.40 L392.04,112.82 L392.04,114.18 L392.04,115.49 L392.04,116.75 L392.04,117.96 L392.04,119.12 L392.04,120.23 L392.04,121.28 L392.00,122.28 L391.92,123.24 L391.82,124.14 L391.67,124.98 L391.47,125.78 L391.21,126.53 L390.87,127.22 L390.45,127.86 L389.94,128.46 L389.35,129.00 L388.68,129.49 L388.22,129.92 L388.59,130.31 L389.06,130.64 L389.56,130.93 L390.08,131.16 L390.60,131.34 L391.12,131.47 L391.63,131.54 L392.14,131.57Z" fill="#FF62BF" stroke="#3c3c3c" stroke-width="0.5"/>
<path d="M401.36,131.57 L402.08,131.53 L402.80,131.41 L403.52,131.21 L404.25,130.92 L404.93,130.56 L405.52,130.12 L405.79,129.59 L405.39,128.99 L404.97,128.30 L404.55,127.53 L404.15,126.69 L403.77,125.76 L403.41,124.75 L403.08,123.66 L402.79,122.49 L402.53,121.24 L402.31,119.91 L402.12,118.50 L401.96,117.00 L401.82,115.43 L401.72,113.78 L401.63,112.04 L401.56,110.23 L401.51,108.33 L401.47,106.35 L401.46,104.29 L401.46,102.16 L401.46,99.94 L401.46,97.64 L401.46,95.26 L401.46,92.80 L401.46,90.25 L401.46,87.63 L401.46,84.93 L401.46,82.14 L401.46,79.28 L401.46,76.33 L401.46,73.31 L401.46,70.20 L401.46,67.02 L401.46,63.75 L401.46,60.40 L401.46,56.97 L401.46,53.46 L401.46,49.87 L401.26,49.87 L401.26,53.46 L401.26,56.97 L401.26,60.40 L401.26,63.75 L401.26,67.02 L401.26,70.20 L401.26,73.31 L401.26,76.33 L401.26,79.28 L401.26,82.14 L401.26,84.93 L401.26,87.63 L401.26,90.25 L401.26,92.80 L401.26,95.26 L401.26,97.64 L401.26,99.94 L401.26,102.16 L401.26,104.29 L401.25,106.35 L401.21,108.33 L401.16,110.23 L401.09,112.04 L401.00,113.78 L400.90,115.43 L400.76,117.00 L400.60,118.50 L400.41,119.91 L400.19,121.24 L399.93,122.49 L399.64,123.66 L399.31,124.75 L398.95,125.76 L398.57,126.69 L398.17,127.53 L397.75,128.30 L397.33,128.99 L396.93,129.59 L397.20,130.12 L397.79,130.56 L398.47,130.92 L399.20,131.21 L399.92,131.41 L400.64,131.53 L401.36,131.57Z" fill="#FF6A9A" stroke="#3c3c3c" stroke-width="0.5"/>
<line x1="230.0" y1="30.4" x2="230.0" y2="136.1" stroke="#333" stroke-width="0.9"/>
<line x1="227.8" y1="133.20" x2="230.0" y2="133.20" stroke="#333" stroke-width="0.9"/>
<text x="225.60" y="135.75" font-size="7.2" text-anchor="end" font-weight="normal" fill="#333" stroke="#333" stroke-width="0.18" >0</text>
<line x1="227.8" y1="108.10" x2="230.0" y2="108.10" stroke="#333" stroke-width="0.9"/>
<text x="225.60" y="110.65" font-size="7.2" text-anchor="end" font-weight="normal" fill="#333" stroke="#333" stroke-width="0.18" >20000</text>
<line x1="227.8" y1="83.00" x2="230.0" y2="83.00" stroke="#333" stroke-width="0.9"/>
<text x="225.60" y="85.55" font-size="7.2" text-anchor="end" font-weight="normal" fill="#333" stroke="#333" stroke-width="0.18" >40000</text>
<line x1="227.8" y1="57.90" x2="230.0" y2="57.90" stroke="#333" stroke-width="0.9"/>
<text x="225.60" y="60.45" font-size="7.2" text-anchor="end" font-weight="normal" fill="#333" stroke="#333" stroke-width="0.18" >60000</text>
<line x1="227.8" y1="32.80" x2="230.0" y2="32.80" stroke="#333" stroke-width="0.9"/>
<text x="225.60" y="35.35" font-size="7.2" text-anchor="end" font-weight="normal" fill="#333" stroke="#333" stroke-width="0.18" >80000</text>
<line x1="230" y1="136.1" x2="406.8" y2="136.1" stroke="#333" stroke-width="0.9"/>
<line x1="235.40" y1="136.1" x2="235.40" y2="138.3" stroke="#333" stroke-width="0.9"/>
<text transform="translate(239.00,143.20) rotate(-45)" font-size="7.4" text-anchor="end" fill="#333">NC1</text>
<line x1="244.62" y1="136.1" x2="244.62" y2="138.3" stroke="#333" stroke-width="0.9"/>
<text transform="translate(248.22,143.20) rotate(-45)" font-size="7.4" text-anchor="end" fill="#333">NC2</text>
<line x1="253.84" y1="136.1" x2="253.84" y2="138.3" stroke="#333" stroke-width="0.9"/>
<text transform="translate(257.44,143.20) rotate(-45)" font-size="7.4" text-anchor="end" fill="#333">NC3</text>
<line x1="263.06" y1="136.1" x2="263.06" y2="138.3" stroke="#333" stroke-width="0.9"/>
<text transform="translate(266.66,143.20) rotate(-45)" font-size="7.4" text-anchor="end" fill="#333">HP1</text>
<line x1="272.28" y1="136.1" x2="272.28" y2="138.3" stroke="#333" stroke-width="0.9"/>
<text transform="translate(275.88,143.20) rotate(-45)" font-size="7.4" text-anchor="end" fill="#333">HP2</text>
<line x1="281.50" y1="136.1" x2="281.50" y2="138.3" stroke="#333" stroke-width="0.9"/>
<text transform="translate(285.10,143.20) rotate(-45)" font-size="7.4" text-anchor="end" fill="#333">HP3</text>
<line x1="290.72" y1="136.1" x2="290.72" y2="138.3" stroke="#333" stroke-width="0.9"/>
<text transform="translate(294.32,143.20) rotate(-45)" font-size="7.4" text-anchor="end" fill="#333">HP4</text>
<line x1="299.94" y1="136.1" x2="299.94" y2="138.3" stroke="#333" stroke-width="0.9"/>
<text transform="translate(303.54,143.20) rotate(-45)" font-size="7.4" text-anchor="end" fill="#333">SSL1</text>
<line x1="309.16" y1="136.1" x2="309.16" y2="138.3" stroke="#333" stroke-width="0.9"/>
<text transform="translate(312.76,143.20) rotate(-45)" font-size="7.4" text-anchor="end" fill="#333">SSL2</text>
<line x1="318.38" y1="136.1" x2="318.38" y2="138.3" stroke="#333" stroke-width="0.9"/>
<text transform="translate(321.98,143.20) rotate(-45)" font-size="7.4" text-anchor="end" fill="#333">SSL3</text>
<line x1="327.60" y1="136.1" x2="327.60" y2="138.3" stroke="#333" stroke-width="0.9"/>
<text transform="translate(331.20,143.20) rotate(-45)" font-size="7.4" text-anchor="end" fill="#333">SSL4</text>
<line x1="336.82" y1="136.1" x2="336.82" y2="138.3" stroke="#333" stroke-width="0.9"/>
<text transform="translate(340.42,143.20) rotate(-45)" font-size="7.4" text-anchor="end" fill="#333">SSL5</text>
<line x1="346.04" y1="136.1" x2="346.04" y2="138.3" stroke="#333" stroke-width="0.9"/>
<text transform="translate(349.64,143.20) rotate(-45)" font-size="7.4" text-anchor="end" fill="#333">SSLD1</text>
<line x1="355.26" y1="136.1" x2="355.26" y2="138.3" stroke="#333" stroke-width="0.9"/>
<text transform="translate(358.86,143.20) rotate(-45)" font-size="7.4" text-anchor="end" fill="#333">SSLD2</text>
<line x1="364.48" y1="136.1" x2="364.48" y2="138.3" stroke="#333" stroke-width="0.9"/>
<text transform="translate(368.08,143.20) rotate(-45)" font-size="7.4" text-anchor="end" fill="#333">TSA1</text>
<line x1="373.70" y1="136.1" x2="373.70" y2="138.3" stroke="#333" stroke-width="0.9"/>
<text transform="translate(377.30,143.20) rotate(-45)" font-size="7.4" text-anchor="end" fill="#333">TSA2</text>
<line x1="382.92" y1="136.1" x2="382.92" y2="138.3" stroke="#333" stroke-width="0.9"/>
<text transform="translate(386.52,143.20) rotate(-45)" font-size="7.4" text-anchor="end" fill="#333">TSA3</text>
<line x1="392.14" y1="136.1" x2="392.14" y2="138.3" stroke="#333" stroke-width="0.9"/>
<text transform="translate(395.74,143.20) rotate(-45)" font-size="7.4" text-anchor="end" fill="#333">TSA4</text>
<line x1="401.36" y1="136.1" x2="401.36" y2="138.3" stroke="#333" stroke-width="0.9"/>
<text transform="translate(404.96,143.20) rotate(-45)" font-size="7.4" text-anchor="end" fill="#333">TSA5</text>
<text x="311.80" y="24.00" font-size="9.3" text-anchor="middle" font-weight="bold" fill="#111" stroke="#111" stroke-width="0.2" >nUMI</text>
<defs><filter id="rough" x="-10%" y="-10%" width="120%" height="120%"><feTurbulence type="fractalNoise" baseFrequency="0.7" numOctaves="2" seed="4"/><feDisplacementMap in="SourceGraphic" scale="2.6" xChannelSelector="R" yChannelSelector="G"/></filter></defs>
<g transform="translate(0.000,0.000) scale(1.0000,1.0000)">
<g filter="url(#rough)">
<path d="M84.0,244.7 L90.2,247.3 L94.6,250.0 L96.3,254.4 L100.7,257.0 L100.7,261.4 L97.2,263.2 L100.7,266.7 L102.9,269.3 L102.5,274.6 L100.7,279.0 L101.5,286.5 L90.2,287.5 L81.4,287.5 L74.4,288.0 L71.7,287.8 L67.3,284.3 L65.6,279.9 L68.2,276.3 L72.6,272.8 L71.7,268.4 L69.1,264.9 L71.7,261.4 L71.3,257.0 L74.4,252.6 L76.1,248.2 L79.6,246.0Z" fill="#E7851E"/>
<path d="M96.0,284.5 L104.0,285.0 L111.0,289.0 L113.0,298.0 L106.0,297.0 L99.0,291.0Z" fill="#FDD6D3"/>
<path d="M73.9,286.2 L84.0,283.5 L93.7,285.3 L99.0,288.8 L102.5,295.0 L107.8,299.4 L111.7,303.8 L109.5,307.3 L104.3,309.0 L99.9,311.7 L99.0,317.0 L95.5,321.3 L91.9,325.7 L87.6,324.0 L83.2,319.6 L84.0,314.3 L81.4,309.0 L75.2,303.8 L73.5,297.6 L73.5,290.6Z" fill="#F8766D"/>
<path d="M135.2,249.7 L142.2,252.3 L149.3,255.0 L155.4,256.7 L152.8,262.9 L156.3,268.2 L157.2,274.3 L149.3,275.2 L152.8,281.3 L147.5,284.9 L142.2,288.4 L139.6,294.5 L137.8,300.0 L135.2,292.8 L134.3,289.3 L131.0,286.0 L130.0,272.0 L128.2,269.9 L123.8,265.5 L122.9,262.0 L119.4,260.2 L119.4,257.6 L126.4,254.9 L130.8,251.4Z" fill="#D09400"/>
<path d="M99.0,279.0 L102.6,277.8 L106.2,275.2 L113.2,274.3 L122.0,274.3 L128.2,269.9 L131.5,272.0 L132.5,286.5 L129.9,285.7 L124.6,284.0 L117.6,285.7 L110.6,285.7 L105.3,282.2 L99.0,283.5Z" fill="#E5C473"/>
<path d="M179.9,304.1 L185.2,301.9 L190.5,303.2 L194.0,306.7 L198.4,309.4 L206.3,306.7 L201.0,312.0 L199.3,316.4 L204.5,320.8 L208.1,324.3 L204.5,327.0 L201.0,331.3 L195.7,334.9 L189.6,336.6 L183.4,334.9 L180.8,331.3 L178.2,326.9 L172.0,325.2 L167.6,319.9 L170.2,316.4 L174.6,312.9 L177.3,309.4Z" fill="#B2A100"/>
<path d="M155.0,285.0 L159.5,285.2 L168.0,293.0 L176.4,305.8 L177.5,310.4 L173.5,308.6 L166.0,297.5 L157.0,288.0Z" fill="#D1C766"/>
<path d="M137.3,306.4 L143.4,304.7 L149.6,306.4 L152.7,310.0 L152.2,315.2 L153.1,321.4 L150.5,324.9 L145.2,327.6 L139.0,328.4 L133.8,326.7 L130.2,323.2 L128.5,320.5 L131.1,316.1 L134.6,312.6 L135.5,309.1Z" fill="#89AC00"/>
<path d="M136.0,300.3 L138.0,300.3 L137.0,306.0 L135.8,310.5 L134.0,310.0Z" fill="#ACC54D"/>
<path d="M115.3,317.9 L121.4,317.0 L127.6,316.1 L129.5,319.6 L123.2,321.4 L116.2,324.0Z" fill="#89AC00"/>
<path d="M168.2,217.9 L177.0,217.0 L181.4,220.6 L182.3,225.8 L185.8,229.4 L192.0,227.6 L195.5,226.7 L198.1,230.2 L204.3,227.6 L208.7,224.1 L205.1,230.2 L200.7,235.5 L201.6,240.8 L197.2,244.3 L191.9,246.1 L189.3,243.4 L184.0,239.0 L178.8,238.2 L172.6,239.9 L167.3,236.4 L171.7,233.8 L168.2,232.0 L172.6,230.2 L171.7,224.1Z" fill="#45B500"/>
<path d="M180.6,277.6 L187.6,275.8 L196.4,275.0 L201.7,274.1 L207.8,275.8 L210.9,279.4 L208.7,282.9 L205.2,286.4 L199.9,287.3 L198.2,292.6 L196.4,295.2 L192.9,294.3 L188.5,298.7 L187.6,295.2 L183.2,291.7 L177.9,289.0 L174.4,286.4 L178.8,284.6 L179.7,281.1Z" fill="#00BC51"/>
<path d="M212.2,284.0 L216.0,282.9 L219.3,285.0 L217.5,287.3 L213.5,287.0Z" fill="#00BC51"/>
<path d="M187.0,263.5 L188.6,263.5 L188.6,275.0 L187.0,275.0Z" fill="#A6E8C2"/>
<path d="M197.6,295.0 L199.0,295.0 L199.0,305.0 L197.6,305.0Z" fill="#A6E8C2"/>
<path d="M168.2,248.7 L173.5,247.8 L177.9,251.3 L179.6,256.6 L182.3,261.0 L183.2,263.7 L179.6,266.3 L174.4,270.0 L167.9,271.2 L166.0,266.0 L162.0,263.5 L165.7,258.0 L165.4,252.0Z" fill="#00C087"/>
<path d="M203.4,298.7 L207.8,301.3 L212.2,297.8 L217.5,299.6 L220.6,304.0 L219.3,307.5 L214.0,310.1 L208.7,310.1 L206.9,307.5 L205.2,304.0Z" fill="#00C0B2"/>
<path d="M135.2,224.0 L140.5,227.6 L144.9,223.2 L149.3,222.3 L151.0,224.9 L150.1,229.3 L152.8,232.8 L151.9,236.3 L148.4,235.5 L145.7,231.9 L142.2,232.8 L138.7,230.2 L136.9,226.7Z" fill="#00BCD6"/>
<path d="M110.6,227.6 L115.0,225.8 L120.2,226.2 L123.8,228.4 L122.0,231.1 L117.6,232.0 L113.2,231.5 L110.1,229.7Z" fill="#00B3F2"/>
<path d="M111.5,230.5 L112.8,231.0 L108.2,235.8 L107.6,235.3Z" fill="#80D9F8"/>
<path d="M127.6,330.2 L132.9,327.6 L137.3,330.2 L136.4,334.6 L137.3,341.6 L135.5,344.3 L131.1,345.6 L128.5,343.4 L127.2,337.2Z" fill="#29A3FF"/>
<path d="M149.6,348.7 L155.7,346.9 L159.3,349.5 L157.5,353.1 L151.3,353.9Z" fill="#9C8DFF"/>
<path d="M161.0,346.9 L166.3,346.9 L168.1,349.5 L165.4,352.2 L161.9,351.3Z" fill="#9C8DFF"/>
<path d="M117.9,293.0 L122.5,292.5 L125.5,295.5 L123.5,297.8 L118.5,297.0Z" fill="#D277FF"/>
<path d="M58.5,295.0 L62.9,292.3 L66.4,289.7 L68.2,288.8 L64.7,293.2 L66.4,296.3 L61.2,297.2 L59.0,296.3Z" fill="#D277FF"/>
<path d="M142.2,204.7 L146.6,208.2 L151.0,212.6 L152.8,213.9 L147.5,213.5 L144.0,212.6 L142.2,209.1Z" fill="#F166E8"/>
<path d="M124.5,211.0 L128.5,210.8 L130.0,214.5 L127.5,216.2 L124.0,215.0Z" fill="#FF61C7"/>
<path d="M222.0,278.8 L226.5,279.0 L227.0,281.5 L222.5,281.8Z" fill="#FF689E"/>
<path d="M162.3,341.9 L165.8,339.3 L165.0,341.5Z" fill="#66D9D1"/>
<path d="M171.1,346.3 L174.6,344.5 L174.0,346.0Z" fill="#66D9D1"/>
</g>
<path stroke="#E7851E" stroke-width="0.9" fill="none" d="M84.7 244.7h0.9m0.9 1.4h0.9m0.9 0.4h0.9m0.3 0.3h0.9m-11.8 0.1h0.9m-2.6 0.6h0.9m13.1 0h0.9m-16.2 0.8h0.9m16.8 0.4h0.9m-19.2 1.4h0.9m-1.7 2.5h0.9m20.9 1.1h0.9m-23.8 0.4h0.9m-1.9 1.1h0.9m-1.4 0.6h0.9m27.1 0.6h0.9m0.3 0.4h0.9m-0.4 0h0.9m-31.4 0.5h0.9m29.8 0.1h0.9m-31.2 0.9h0.9m29.3 0h0.9m-1.6 2.3h0.9m-0.4 0.5h0.9m-30.9 0.2h0.9m-1.1 1.1h0.9m25.6 1.4h0.9m-0.5 0.2h0.9m0.8 1.6h0.9m-31.4 0.5h0.9m30.1 0.4h0.9m-0 0.6h0.9m-31.6 0.5h0.9m30.8 0.9h0.9m-31.1 1.2h0.9m30.5 1h0.9m-0.9 0.1h0.9m-1.3 0.1h0.9m-33.4 3.3h0.9m-0.8 0.8h0.9m-2.2 0.2h0.9m32.6 -0h0.9m-34.4 0.3h0.9m32.5 -0h0.9m-0.6 0.4h0.9m-37.9 3.1h0.9m-1.5 1.6h0.9m35.1 0.1h0.9m-37 0.6h0.9m-0.3 0.4h0.9m-0.5 0.2h0.9m0.1 2.9h0.9m-0.4 0.6h0.9m-0.4 0.1h0.9m-0.5 1h0.9m31.6 1.2h0.9m-13.2 0.3h0.9m-18.9 0.3h0.9m8.3 0.1h0.9m7.5 -0h0.9m-2.9 0.1h0.9m-11.7 0.3h0.9m1.6 -0h0.9"/>
<path stroke="#F8766D" stroke-width="0.9" fill="none" d="M81.8 283.7h0.9m-1.4 0.5h0.9m13.8 0h0.9m0.2 0h0.9m-9.8 0.1h0.9m-0 0.2h0.9m12.3 0.2h0.9m-10.3 0.1h0.9m2.1 0.3h0.9m-1.2 0.2h0.9m-4.3 0.1h0.9m4.4 0.1h0.9m7.9 0.3h0.9m-3.1 0.1h0.9m-5.9 0.1h0.9m1.5 0.2h0.9m-6.5 0.1h0.9m8.9 0.3h0.9m-8.8 0.2h0.9m0.3 -0h0.9m2.1 -0h0.9m-4.3 0.1h0.9m5.5 0.1h0.9m-10 0.2h0.9m5.3 -0h0.9m3.4 0.4h0.9m-10.6 0.1h0.9m4 -0h0.9m6 0.2h0.9m-11.7 0.1h0.9m-25.5 0.1h0.9m33.6 -0h0.9m-4.9 0.3h0.9m-1.6 0.3h0.9m5.3 0.2h0.9m-9.9 0.1h0.9m-0.7 -0h0.9m-0.6 0.1h0.9m-0.2 0.4h0.9m4 -0h0.9m4 -0h0.9m-11.1 0.1h0.9m-2.6 0.1h0.9m6.8 -0h0.9m-2.1 0.1h0.9m1 0.2h0.9m-9 0.1h0.9m9 -0h0.9m-5.3 0.1h0.9m-6.3 0.1h0.9m-0.3 -0h0.9m-1.3 0.2h0.9m8.4 -0h0.9m-0.3 0.2h0.9m-8.1 0.1h0.9m0.9 -0h0.9m4.1 0.3h0.9m-6.8 0.1h0.9m2.7 -0h0.9m-0.5 -0h0.9m-0.1 0.1h0.9m-0.7 -0h0.9m-8.1 0.2h0.9m10 -0h0.9m-11.7 0.2h0.9m3.5 0.2h0.9m1.1 0.2h0.9m1.1 0.2h0.9m-10 0.3h0.9m5.3 0.1h0.9m-0.6 -0h0.9m-0.4 -0h0.9m-7.1 0.1h0.9m-2 0.6h0.9m3.9 0.1h0.9m-33.3 0.1h0.9m34 0.3h0.9m-4.8 0.2h0.9m4.5 -0h0.9m-1 0.1h0.9m-5.1 0.2h0.9m2.9 0.2h0.9m-0.2 -0h0.9m1.4 0.1h0.9m-9.9 0.1h0.9m0.3 0.1h0.9m1.5 0.1h0.9m-4.5 0.2h0.9m-1 0.4h0.9m9.8 0.2h0.9m-5 0.1h0.9m-6 0.3h0.9m4.3 -0h0.9m-5.8 0.1h0.9m-1.4 0.3h0.9m6.6 0.3h0.9m0.3 -0h0.9m-4.5 0.1h0.9m-3.7 0.2h0.9m0.9 0.1h0.9m-0.7 0.2h0.9m-0.3 0.2h0.9m-3.2 0.1h0.9m-0.4 0.3h0.9m1.1 -0h0.9m1.1 0.4h0.9m-3.7 0.5h0.9m-35.9 0.1h0.9m33.1 -0h0.9m-35 0.2h0.9m34.7 1.2h0.9m0.6 1.5h0.9m-36.3 0.5h0.9m36.2 0.9h0.9m-0.4 0.3h0.9m-1.6 0.2h0.9m-37.9 0.6h0.9m0.1 0.8h0.9m-0.2 0.4h0.9m34.3 0.3h0.9m-1.4 0.2h0.9m-1.3 1.2h0.9m-30.9 1.7h0.9m24.9 -0h0.9m-2 0.5h0.9m-4.4 1.7h0.9m-1 0.1h0.9m-20.5 0.8h0.9m-0.6 0.2h0.9m16.8 3h0.9m-17.6 0.3h0.9m15.5 2.1h0.9m-1.6 0.2h0.9m-1.2 0.9h0.9m-16.9 0.4h0.9m-0.9 1.2h0.9m-0 0.1h0.9m11.6 0.5h0.9m-12.4 1h0.9m10.7 -0h0.9m-5.9 4.1h0.9"/>
<path stroke="#D09400" stroke-width="0.9" fill="none" d="M134 250.2h0.9m-3 0.4h0.9m4.8 0h0.9m-5.7 0.2h0.9m7.2 0.9h0.9m0.2 0.2h0.9m-12.5 0.2h0.9m11.9 0.3h0.9m-14.4 0.3h0.9m-2.2 1h0.9m16.9 0.6h0.9m-20 0.3h0.9m21.5 0.3h0.9m-1.6 0.2h0.9m-0.2 0.1h0.9m-25.1 0.1h0.9m25.4 0h0.9m0.8 0.4h0.9m-31.3 0.1h0.9m28.2 0.3h0.9m2.2 2.7h0.9m-37.5 0.8h0.9m34.4 1.5h0.9m-0.4 0.2h0.9m-33.4 1.5h0.9m-0.1 0.5h0.9m0.2 2.6h0.9m30.8 0h0.9m-32.8 0.3h0.9m-0.5 0.9h0.9m32.2 1.4h0.9m-31.9 0.1h0.9m1.2 0.8h0.9m28.3 1.3h0.9m-29.5 0.5h0.9m27.9 0.1h0.9m-32.9 0.3h0.9m2.3 0.2h0.9m1.6 0.2h0.9m25 0h0.9m-33 0.2h0.9m3.5 0h0.9m-2.7 0.1h0.9m-3.7 0.1h0.9m31.9 -0h0.9m-31.1 0.1h0.9m3.3 0.2h0.9m25.1 -0h0.9m-31.7 0.1h0.9m0.1 0.3h0.9m-5.7 0.3h0.9m1.8 -0h0.9m-0.2 0.2h0.9m1.1 0.2h0.9m1 -0h0.9m-1.4 0.1h0.9m-17.2 0.1h0.9m0.3 -0h0.9m7.5 -0h0.9m-4.4 0.1h0.9m8.1 0.1h0.9m27.8 -0h0.9m-0.7 0.1h0.9m-42.5 0.1h0.9m-9.7 0.3h0.9m-0.6 -0h0.9m-2.1 0.2h0.9m21.2 -0h0.9m-18 0.1h0.9m13.1 -0h0.9m-0.5 0.2h0.9m-20.5 0.1h0.9m9.1 -0h0.9m4.3 -0h0.9m2.7 -0h0.9m-14.1 0.1h0.9m6 -0h0.9m3.7 0.2h0.9m1.1 -0h0.9m24.8 -0h0.9m-33.2 0.2h0.9m6 -0h0.9m-0.9 0.1h0.9m3.5 -0h0.9m21.4 -0h0.9m-36.1 0.1h0.9m7.2 -0h0.9m5.9 -0h0.9m-9.5 0.1h0.9m0.9 0.1h0.9m-2.8 0.1h0.9m5.5 -0h0.9m-26.1 0.1h0.9m6.7 -0h0.9m1.4 -0h0.9m11.8 0.1h0.9m-11.8 0.1h0.9m5.3 -0h0.9m0.8 -0h0.9m3.3 0.2h0.9m-21.4 0.1h0.9m13.3 -0h0.9m-10.5 0.1h0.9m1.3 0.1h0.9m35.4 0.1h0.9m-48.7 0.1h0.9m4.3 -0h0.9m18.4 -0h0.9m-13.7 0.1h0.9m-0.8 -0h0.9m-9.9 0.1h0.9m22.8 -0h0.9m-25.1 0.2h0.9m19.4 0.1h0.9m-2.7 0.1h0.9m2.2 -0h0.9m-24.1 0.1h0.9m13 0.1h0.9m-0.6 -0h0.9m3.3 -0h0.9m28.7 -0h0.9m-29.9 0.1h0.9m0.4 -0h0.9m-21.7 0.1h0.9m10.8 -0h0.9m5.1 -0h0.9m-0.2 -0h0.9m2.8 -0h0.9m-8.4 0.1h0.9m12.2 -0h0.9m-14.4 0.3h0.9m-10.9 0.2h0.9m-5.6 0.1h0.9m4.5 0.1h0.9m4.7 -0h0.9m15.1 -0h0.9m-0.8 -0h0.9m-19.8 0.1h0.9m18.5 -0h0.9m-8.2 0.1h0.9m0.1 -0h0.9m-18.9 0.1h0.9m8.7 -0h0.9m5.7 -0h0.9m3.9 -0h0.9m-26 0.1h0.9m2.9 -0h0.9m7.8 -0h0.9m7.8 -0h0.9m7.2 -0h0.9m-20.9 0.1h0.9m7.7 0.1h0.9m-9.6 0.1h0.9m14.8 -0h0.9m2.6 0.1h0.9m-26 0.1h0.9m4.2 -0h0.9m10.1 -0h0.9m3.9 -0h0.9m1.2 0.1h0.9m0.7 -0h0.9m-0 -0h0.9m21.3 -0h0.9m-50 0.1h0.9m4.9 -0h0.9m7.3 -0h0.9m-4.5 0.1h0.9m7.6 -0h0.9m-8.9 0.1h0.9m16.9 -0h0.9m-22.2 0.1h0.9m7.4 -0h0.9m10.2 -0h0.9m-0.7 -0h0.9m-16.2 0.1h0.9m12 -0h0.9m-26.7 0.1h0.9m-0.7 -0h0.9m-5.2 0.1h0.9m4.3 -0h0.9m4.6 -0h0.9m5.8 -0h0.9m13.7 -0h0.9m-19.6 0.1h0.9m1.2 -0h0.9m-7.8 0.1h0.9m11.3 -0h0.9m-16.1 0.1h0.9m1.5 -0h0.9m-0.7 -0h0.9m6.7 -0h0.9m15.5 -0h0.9m-5.5 0.1h0.9m-17 0.1h0.9m3.7 -0h0.9m-0.2 -0h0.9m-17.4 0.1h0.9m0.5 -0h0.9m23.9 -0h0.9m-23 0.1h0.9m-0.9 -0h0.9m16.6 -0h0.9m-15 0.2h0.9m7.2 -0h0.9m15.4 -0h0.9m22.4 0.1h0.9m-45.7 0.2h0.9m-9.3 0.1h0.9m5.2 -0h0.9m3.3 -0h0.9m9.3 0.1h0.9m-11.9 0.2h0.9m18.3 -0h0.9m-23.8 0.1h0.9m-7.7 0.1h0.9m1.8 -0h0.9m5.9 -0h0.9m20.9 -0h0.9m-6.7 0.1h0.9m4.4 -0h0.9m-30.1 0.1h0.9m5.5 -0h0.9m3.9 -0h0.9m11.4 -0h0.9m-0.9 -0h0.9m4 0.1h0.9m-31.1 0.1h0.9m4 0.1h0.9m27 -0h0.9m-34.8 0.1h0.9m2.7 -0h0.9m4.6 -0h0.9m7.4 -0h0.9m-4.2 0.1h0.9m6.1 -0h0.9m2.4 -0h0.9m3 -0h0.9m-23.9 0.1h0.9m5.6 -0h0.9m39.7 -0h0.9m-43.1 0.1h0.9m22.8 -0h0.9m-24.1 0.2h0.9m-9 0.1h0.9m14.2 0.1h0.9m12.4 -0h0.9m-13.4 0.1h0.9m-4.9 0.1h0.9m12.7 -0h0.9m-0.6 -0h0.9m21.8 -0h0.9m-48.1 0.1h0.9m26.4 -0h0.9m-21.7 0.1h0.9m15 -0h0.9m-14.5 0.1h0.9m5.7 -0h0.9m6.4 -0h0.9m-5.6 0.1h0.9m9.7 0.1h0.9m-18.1 0.1h0.9m5.2 -0h0.9m6 -0h0.9m21.3 -0h0.9m-35.9 0.2h0.9m10 -0h0.9m-8.9 0.1h0.9m2.9 -0h0.9m4.6 -0h0.9m3.5 -0h0.9m-18.7 0.2h0.9m4.1 -0h0.9m5.9 0.1h0.9m5.3 -0h0.9m-12.6 0.1h0.9m13.3 0.1h0.9m-18.4 0.1h0.9m3.1 -0h0.9m-8.7 0.1h0.9m1.1 -0h0.9m3 0.1h0.9m-6.7 0.1h0.9m16.1 0.1h0.9m3.4 -0h0.9m-14.7 0.5h0.9m25.9 0.7h0.9m-13.7 1.6h0.9m7.6 2.8h0.9m-1.4 1.4h0.9m-6.9 0.8h0.9m3.7 2h0.9m-1.4 0.2h0.9m-0.6 0.4h0.9m-4.9 0.1h0.9m1.8 4.2h0.9"/>
<path stroke="#B2A100" stroke-width="0.9" fill="none" d="M156.6 284.7h0.9m0.9 0.4h0.9m-2.1 0.1h0.9m0.2 0.2h0.9m-2.7 0.1h0.9m-0.6 0.6h0.9m-0.2 0.4h0.9m-0.6 0h0.9m-1.9 0.1h0.9m-2.2 0.1h0.9m1.1 0.3h0.9m3.9 0.4h0.9m-2.6 0.2h0.9m-6.1 0.1h0.9m3.7 0.5h0.9m0.5 -0h0.9m0.5 0.1h0.9m-5.4 0.2h0.9m2.1 -0h0.9m-4.4 0.9h0.9m-1.4 0.1h0.9m3.5 0.2h0.9m2.5 0.5h0.9m-7 0.1h0.9m-0.4 0.1h0.9m4.1 0.1h0.9m-7.6 0.1h0.9m6.2 0.3h0.9m-0.6 0.1h0.9m-0.4 0.1h0.9m-5.8 0.3h0.9m-2.1 0.2h0.9m2 0.3h0.9m-2.2 0.1h0.9m3.7 0.2h0.9m-5.9 0.4h0.9m1.9 0.2h0.9m1.9 0.1h0.9m0.1 0.6h0.9m-6.5 0.1h0.9m1.1 0.2h0.9m0.1 0.1h0.9m2.6 0.5h0.9m-6.3 0.2h0.9m5.8 -0h0.9m-4.8 0.2h0.9m-3.2 0.1h0.9m-0.1 -0h0.9m-2.5 0.3h0.9m4.8 0.8h0.9m-5.6 0.1h0.9m4.8 -0h0.9m-1.9 0.1h0.9m0.3 -0h0.9m-3.5 0.1h0.9m-2.6 0.5h0.9m1.1 -0h0.9m1.6 0.8h0.9m-2.3 0.1h0.9m1.9 0.3h0.9m-5.9 0.3h0.9m4.7 0.5h0.9m-0.3 0.1h0.9m-3.4 0.1h0.9m1.6 -0h0.9m-3.7 0.1h0.9m-0.3 0.1h0.9m-1.7 0.2h0.9m1.1 -0h0.9m-2.5 0.2h0.9m-3 0.3h0.9m1 0.1h0.9m-0.2 -0h0.9m-0.5 0.2h0.9m-0.5 -0h0.9m-3.7 0.1h0.9m1.7 -0h0.9m-0.5 0.1h0.9m-2.2 0.3h0.9m2.3 0.1h0.9m-0 0.2h0.9m-7.3 0.1h0.9m3.6 0.4h0.9m-4.8 0.2h0.9m-1.5 0.1h0.9m3.4 0.2h0.9m12.3 -0h0.9m-17.1 0.1h0.9m4 -0h0.9m10.3 0.3h0.9m-12.8 0.9h0.9m15.9 -0h0.9m-19 0.1h0.9m1.7 0.1h0.9m-2.2 0.1h0.9m-2.3 0.2h0.9m3 0.2h0.9m15 0.1h0.9m-17.7 0.4h0.9m-1.8 0.2h0.9m-3.6 0.1h0.9m2 0.7h0.9m-4.1 0.2h0.9m0.3 0.4h0.9m0.7 -0h0.9m0.6 -0h0.9m-4.7 0.1h0.9m-0.6 -0h0.9m1.8 0.1h0.9m18.9 -0h0.9m11.2 0.1h0.9m-13 0.1h0.9m-21.4 0.1h0.9m33.3 -0h0.9m-34.6 0.4h0.9m29.8 -0h0.9m-30.5 0.1h0.9m18.7 0.4h0.9m-0.1 0.1h0.9m7.1 0.1h0.9m-27.2 0.1h0.9m23.5 0.1h0.9m-30 0.1h0.9m-1.4 0.1h0.9m1.4 0.1h0.9m31 -0h0.9m-30.9 0.1h0.9m-0.2 0.2h0.9m21.9 0.3h0.9m-22.8 0.1h0.9m19.4 -0h0.9m6.3 0.1h0.9m-28.5 0.4h0.9m26.3 0.2h0.9m-30.5 0.6h0.9m0.9 0.1h0.9m-2.4 0.7h0.9m25.3 0.7h0.9m-32.6 4.5h0.9m-0.9 0.7h0.9m-1.9 0.1h0.9m-1.9 1.2h0.9m34 1.2h0.9m0.6 1.3h0.9m-36.6 1.4h0.9m-1.3 0.7h0.9m0.8 0.7h0.9m-0.9 1h0.9m-0.2 0.3h0.9m-0 1.3h0.9m1.4 0.8h0.9m30.8 0.6h0.9m-1.9 0.7h0.9m-1.7 1.1h0.9m-2.9 2.2h0.9m-23 0.4h0.9m17.5 2.4h0.9m-1.9 0.4h0.9m-1.2 0.7h0.9m-2.6 0.5h0.9m-10.7 0.7h0.9m0.8 0.2h0.9m0.7 0.8h0.9"/>
<path stroke="#89AC00" stroke-width="0.9" fill="none" d="M137.7 300.8h0.9m-1.1 0.7h0.9m-2.1 0.3h0.9m0.2 0.1h0.9m-1.4 0.4h0.9m-0.2 0h0.9m-3.4 0.1h0.9m0.1 -0h0.9m-1.9 1.8h0.9m-1.3 0.1h0.9m0.1 0.4h0.9m4.5 0.4h0.9m5.4 0.3h0.9m-2.2 0.3h0.9m0.6 0.1h0.9m-12.6 0.2h0.9m0.7 0.5h0.9m-2.9 0.8h0.9m0.1 0.1h0.9m-0.5 0.2h0.9m-0.3 0.3h0.9m13.1 0.3h0.9m-1.3 0.1h0.9m-16.1 0.1h0.9m-0.8 0.3h0.9m14.4 -0h0.9m-0.4 0.2h0.9m-17.1 0.6h0.9m-3 0.2h0.9m17.9 0.2h0.9m-16.8 0.2h0.9m-0.6 0.1h0.9m-3 0.9h0.9m-0.3 0.3h0.9m-1.7 0.1h0.9m1.2 -0h0.9m15.4 -0h0.9m-1 1.6h0.9m-20.6 0.8h0.9m-6.8 2.3h0.9m-0.1 0.1h0.9m-3.2 0.1h0.9m-3.5 0.4h0.9m-3.9 0.2h0.9m9 -0h0.9m-14.9 0.4h0.9m-1.7 0.1h0.9m14 0.1h0.9m-14.4 0.5h0.9m35.7 0.5h0.9m-25.2 1.3h0.9m23.7 -0h0.9m-39.5 0.4h0.9m37.3 0.1h0.9m-25.3 0.3h0.9m24.2 0.2h0.9m-25.9 0.1h0.9m-4 0.5h0.9m-2.7 0.3h0.9m28.9 0.1h0.9m-25.5 0.5h0.9m-6.8 0.4h0.9m-3.6 0.1h0.9m1.3 -0h0.9m5.5 0.3h0.9m-0.8 0.3h0.9m-10.7 0.3h0.9m-2.6 0.3h0.9m11.6 -0h0.9m20.5 0.1h0.9m-35.2 0.4h0.9m12.1 0.2h0.9m1.1 1.1h0.9m-1.4 0.4h0.9m13.6 1.4h0.9m-0.5 -0h0.9m-10.3 0.6h0.9m-1.6 0.1h0.9m3.8 0.3h0.9m3.5 -0h0.9m-2.8 0.3h0.9m-5.9 0.3h0.9"/>
<path stroke="#45B500" stroke-width="0.9" fill="none" d="M177 216.9h0.9m-9.1 0.8h0.9m2.8 -0h0.9m4.8 0.1h0.9m-7.5 0.1h0.9m-2.6 0.3h0.9m-1.4 2.4h0.9m11.3 0.8h0.9m25.1 3.7h0.9m-36.6 1h0.9m33.1 0.1h0.9m0.9 0.1h0.9m-3.6 0.2h0.9m-12.2 0.3h0.9m10 0.6h0.9m-8.6 0.1h0.9m-0.9 0.2h0.9m9.1 0.3h0.9m-0.8 0.2h0.9m-18 0.1h0.9m-4.1 0.4h0.9m14.9 0h0.9m-2.4 0.1h0.9m-15.3 0.2h0.9m10 0h0.9m-0.5 0.4h0.9m-26.9 0.4h0.9m25.9 0.3h0.9m-28.8 0.7h0.9m0.1 0.1h0.9m-3.1 0.7h0.9m-2.5 0.1h0.9m-1.7 0.3h0.9m-0.4 0.8h0.9m1 1.1h0.9m32.1 0h0.9m-33 1h0.9m30 0.2h0.9m-0.8 1.9h0.9m-33.8 1h0.9m32 0.4h0.9m-32 0.6h0.9m-1.3 0.1h0.9m6.6 0h0.9m-1.6 0.2h0.9m2.1 0.1h0.9m3.1 0h0.9m-8.1 0.2h0.9m-3.9 0.8h0.9m27.3 0.6h0.9m-17.6 0.5h0.9m14.5 0.7h0.9m-12.9 1.4h0.9m4.1 2.4h0.9m-0.7 0.2h0.9m-2.6 0.5h0.9"/>
<path stroke="#00BC51" stroke-width="0.9" fill="none" d="M186.4 263.5h0.9m0.4 0.6h0.9m0.9 0h0.9m-3.3 0.2h0.9m-1 0.5h0.9m-1.7 0.3h0.9m0.5 1.1h0.9m-1.9 0.1h0.9m1.6 -0h0.9m-1.7 0.1h0.9m-1.9 1.7h0.9m-2.1 1.9h0.9m0.6 -0h0.9m-1.1 0.5h0.9m-0.6 1.1h0.9m0.3 0.1h0.9m-3.4 0.1h0.9m-0.2 0.8h0.9m-0.2 1.2h0.9m15.9 0.7h0.9m-17.1 0.2h0.9m5.6 0.2h0.9m1.4 -0h0.9m5.5 -0h0.9m-8.1 0.4h0.9m-9.3 0.1h0.9m-0.5 0.1h0.9m-0.7 0.3h0.9m19 -0h0.9m-24.2 0.2h0.9m3.7 -0h0.9m-3.9 0.4h0.9m20.7 0.2h0.9m-0.7 0.1h0.9m-25.3 0.4h0.9m-3.8 0.2h0.9m0.5 -0h0.9m26.6 0.4h0.9m-31.6 1.2h0.9m31.2 1.3h0.9m-1.5 0.3h0.9m-1.7 0.9h0.9m-1 1h0.9m6.3 0.8h0.9m-6.4 0.7h0.9m-1.4 0.1h0.9m0.3 -0h0.9m-35.8 0.7h0.9m29.8 0.1h0.9m10 0.1h0.9m-42.6 0.6h0.9m24.1 2h0.9m9.6 -0h0.9m-40 0.1h0.9m26.1 -0h0.9m16 0.2h0.9m-17.7 0.5h0.9m-0.7 -0h0.9m-25.7 0.1h0.9m40.5 0.2h0.9m-41.8 1.2h0.9m-0.2 0.1h0.9m0.3 0.7h0.9m2.9 1.4h0.9m-1.9 0.2h0.9m-0.9 -0h0.9m0.5 0.3h0.9m-0.5 -0h0.9m0.5 1.4h0.9m11.3 1.2h0.9m1.4 0.3h0.9m-4.3 0.3h0.9m-10.4 0.1h0.9m11.6 -0h0.9m-7.4 0.1h0.9m4 -0h0.9m-1.2 0.1h0.9m-1.3 0.2h0.9m-0 0.5h0.9m-6.6 0.3h0.9m4.7 0.9h0.9m-8.2 0.3h0.9m7.5 -0h0.9m-1 0.2h0.9m-1.1 0.3h0.9m-0.3 0.2h0.9m-1.4 0.2h0.9m-10.9 0.1h0.9m8.2 -0h0.9m-0.4 2.3h0.9m0.8 -0h0.9m-0.7 -0h0.9m-1.8 1.7h0.9m-3 0.6h0.9m-0.1 0.6h0.9m1.1 1.8h0.9"/>
<path stroke="#00C087" stroke-width="0.9" fill="none" d="M171.5 248.3h0.9m-4.8 0.2h0.9m0.5 0.1h0.9m6.1 0.8h0.9m-9.9 0.5h0.9m7.8 0h0.9m0.2 0.2h0.9m-1.2 0.4h0.9m0.4 0h0.9m-12.6 1.1h0.9m-1.7 0.4h0.9m12.2 0.3h0.9m-14.2 0.4h0.9m13.1 0.1h0.9m-0.9 0.9h0.9m-15.4 0.5h0.9m-0.4 2.3h0.9m14 0.1h0.9m-15.7 0.5h0.9m-0.6 1.4h0.9m-1.8 0.2h0.9m16.9 2.1h0.9m-20.1 0.8h0.9m-1 0.5h0.9m19.2 0.4h0.9m-20.5 2.8h0.9m17.5 0.2h0.9m-1.7 0.7h0.9m-1.6 0.8h0.9m-15.4 0.1h0.9m11.2 1.3h0.9m-1.6 0.6h0.9m-12 0.8h0.9m-0.1 -0h0.9m8.4 0.2h0.9m-10.3 0.3h0.9m-0.4 1.2h0.9"/>
<path stroke="#00C0B2" stroke-width="0.9" fill="none" d="M212.6 297.7h0.9m-10.5 0.6h0.9m-1.6 0.3h0.9m-0.3 0.1h0.9m-0.5 0.2h0.9m-1.7 0.1h0.9m1.7 0.5h0.9m-1.5 0.1h0.9m4.2 0.1h0.9m-7.1 0.1h0.9m3.5 1h0.9m10 -0h0.9m-11.1 0.3h0.9m-1.7 0.4h0.9m-0.8 0.1h0.9m-4.6 1.7h0.9m-0.8 1h0.9m-0.4 0.9h0.9m15.6 0.1h0.9m-16.6 0.6h0.9m-1.1 0.7h0.9m-0.1 1.8h0.9m8.1 1.8h0.9m-0.9 0.2h0.9m-8.3 0.1h0.9m-0.5 0.5h0.9m2.3 0.4h0.9m-46.4 28h0.9m-0.2 0.7h0.9m-1.2 0.3h0.9m-3.8 0.2h0.9m1.1 0.1h0.9m-1.2 0.1h0.9m-2.7 0.5h0.9m0.6 0.2h0.9m-2 0.1h0.9m-0.5 0.3h0.9m0.5 0.6h0.9m-4.7 0.2h0.9m12.3 1.7h0.9m-0.9 -0h0.9m-1.8 1h0.9m-0 0.1h0.9m-1.4 0.4h0.9m-2.9 0.2h0.9m1.3 0.6h0.9m-4.9 0.9h0.9"/>
<path stroke="#00BCD6" stroke-width="0.9" fill="none" d="M149.7 221.9h0.9m-3.7 0.8h0.9m-1 0.5h0.9m3.1 0.3h0.9m-7.8 0.9h0.9m-7.6 0.4h0.9m13.5 -0h0.9m-17.4 0.4h0.9m-0.4 -0h0.9m0.6 0.3h0.9m-2.4 0.2h0.9m2.3 0.1h0.9m2.5 -0h0.9m8 0.4h0.9m-15.6 0.1h0.9m13.5 0.4h0.9m-0.3 -0h0.9m-13 0.1h0.9m-3.7 0.9h0.9m13.2 1.1h0.9m-0.3 -0h0.9m-0.2 2.5h0.9m-0.7 0.7h0.9m-12.4 0.8h0.9m3.3 0.6h0.9m-0 -0h0.9m0.1 0.8h0.9m5.2 0.3h0.9m-0.6 0.1h0.9m-0.8 0.6h0.9m-5.4 1.3h0.9m2.6 0.2h0.9m-4.7 0.1h0.9m3.3 -0h0.9"/>
<path stroke="#00B3F2" stroke-width="0.9" fill="none" d="M116.4 225.5h0.9m-0.8 0h0.9m-2.9 0.5h0.9m2.3 0.2h0.9m-5 0.6h0.9m-1.8 0.3h0.9m-0.6 0h0.9m8.8 0.3h0.9m-13.3 0.1h0.9m-0.4 0.3h0.9m12.7 0.4h0.9m-1.5 0.2h0.9m-13.5 1.5h0.9m-2 0.4h0.9m12.5 0.3h0.9m-11 0.7h0.9m8.1 0.1h0.9m-11.3 0.1h0.9m9.8 0.4h0.9m-13.8 0.2h0.9m2.4 0h0.9m0.5 0.2h0.9m4.6 0.3h0.9m-4.5 0.1h0.9m-7 0.1h0.9m-1.9 0.1h0.9m-1.3 0.2h0.9m-0.6 0.2h0.9m1.5 0.1h0.9m-4.3 1h0.9m-1.5 0.2h0.9m0.4 0.2h0.9m-0.2 0.6h0.9m-3.2 0.1h0.9m-0.6 1.2h0.9m-0.4 0h0.9"/>
<path stroke="#29A3FF" stroke-width="0.9" fill="none" d="M131.4 328.1h0.9m2.7 1h0.9m-6.9 0.2h0.9m7.2 0.6h0.9m-0.8 0.3h0.9m-0.5 0.3h0.9m-1.3 1.9h0.9m-0.3 0.2h0.9m-11.5 0.8h0.9m8.6 1.1h0.9m-11 0.3h0.9m-0.6 1.5h0.9m-1.3 1.6h0.9m-0.4 0.8h0.9m-0.8 -0h0.9m9.4 1.2h0.9m-0.7 1.5h0.9m-10.5 0.8h0.9m8.1 1.2h0.9m-9.3 1.3h0.9m-0.7 0.1h0.9m-0.1 0.9h0.9m2.1 0.1h0.9m0.6 -0h0.9"/>
<path stroke="#9C8DFF" stroke-width="0.9" fill="none" d="M156 346.9h0.9m8.8 0h0.9m-12.6 0.1h0.9m1.7 0.2h0.9m-3.7 0.2h0.9m-1.7 0.1h0.9m-0.6 0h0.9m-2.5 0.2h0.9m7.7 0.3h0.9m6.2 0.2h0.9m-0.3 0.1h0.9m-7.7 0.1h0.9m6.2 0.4h0.9m-8.5 0.3h0.9m-0.3 2.3h0.9m-3.9 0.7h0.9m-1.1 0.9h0.9m-2.6 0.7h0.9m0.7 0h0.9m-1.3 0.2h0.9m-4.3 0.1h0.9m1.4 0.1h0.9"/>
<path stroke="#D277FF" stroke-width="0.9" fill="none" d="M68.4 289h0.9m-1.2 0.2h0.9m-3.6 0.9h0.9m0.2 1.8h0.9m53.2 0.5h0.9m-55.5 0.1h0.9m51.9 0.1h0.9m2.9 0h0.9m-0.5 0h0.9m-4 0.1h0.9m-55.4 0.1h0.9m57 0.1h0.9m-63.8 0.9h0.9m4.8 0.9h0.9m-9.1 0.1h0.9m59 0.5h0.9m-60.2 0.1h0.9m7.2 1h0.9m-0.6 0.6h0.9m-8.3 0.5h0.9m64.3 0.3h0.9m-62.7 0.2h0.9m55.8 0.2h0.9m-0.6 0.3h0.9m0.2 -0h0.9"/>
<path stroke="#F166E8" stroke-width="0.9" fill="none" d="M141.8 204.8h0.9m0.3 0h0.9m-1.9 3h0.9m3.9 0h0.9m-0.6 0.3h0.9m-0.9 0.2h0.9m-6.3 0.7h0.9m5.3 0.1h0.9m0.1 0.9h0.9m-7.2 1.3h0.9m6.4 0.6h0.9m-7.8 1.1h0.9m8.3 0.7h0.9m-8.1 0.4h0.9m-0.8 0h0.9m2.6 0.3h0.9m-0.6 0.2h0.9m-0.7 0h0.9m2.7 0.1h0.9m-0.4 0h0.9m-0.2 0.2h0.9m-2.3 0.1h0.9m-0.3 0.1h0.9"/>
<path stroke="#FF61C7" stroke-width="0.9" fill="none" d="M124.8 210.6h0.9m-0.5 0.5h0.9m3.5 2.2h0.9m-6.6 1h0.9m5 1h0.9m-0.3 0.3h0.9m-6.3 0.2h0.9m-0.4 0.5h0.9m-0.9 0.2h0.9m1.7 0h0.9m-0.1 0h0.9"/>
<path stroke="#FF689E" stroke-width="0.9" fill="none" d="M224.5 279.1h0.9m1.6 0.1h0.9m-4.7 0.1h0.9m-2.5 2.1h0.9m3.3 0.7h0.9m-4.8 0.2h0.9m4.3 0.1h0.9m-5.5 0.7h0.9"/>
</g>
<text x="90.60" y="303.00" font-size="6.6" text-anchor="middle" font-weight="normal" fill="#111" stroke="#111" stroke-width="0.18" >0</text>
<text x="83.20" y="272.00" font-size="6.6" text-anchor="middle" font-weight="normal" fill="#111" stroke="#111" stroke-width="0.18" >1</text>
<text x="137.00" y="270.90" font-size="6.6" text-anchor="middle" font-weight="normal" fill="#111" stroke="#111" stroke-width="0.18" >2</text>
<text x="186.90" y="322.70" font-size="6.6" text-anchor="middle" font-weight="normal" fill="#111" stroke="#111" stroke-width="0.18" >3</text>
<text x="140.40" y="321.50" font-size="6.6" text-anchor="middle" font-weight="normal" fill="#111" stroke="#111" stroke-width="0.18" >4</text>
<text x="190.20" y="235.20" font-size="6.6" text-anchor="middle" font-weight="normal" fill="#111" stroke="#111" stroke-width="0.18" >5</text>
<text x="193.30" y="286.90" font-size="6.6" text-anchor="middle" font-weight="normal" fill="#111" stroke="#111" stroke-width="0.18" >6</text>
<text x="173.00" y="259.80" font-size="6.6" text-anchor="middle" font-weight="normal" fill="#111" stroke="#111" stroke-width="0.18" >7</text>
<text x="212.70" y="306.70" font-size="6.6" text-anchor="middle" font-weight="normal" fill="#111" stroke="#111" stroke-width="0.18" >8</text>
<text x="147.50" y="230.70" font-size="6.6" text-anchor="middle" font-weight="normal" fill="#111" stroke="#111" stroke-width="0.18" >9</text>
<text x="116.70" y="230.70" font-size="6.6" text-anchor="middle" font-weight="normal" fill="#111" stroke="#111" stroke-width="0.18" >10</text>
<text x="131.10" y="340.40" font-size="6.6" text-anchor="middle" font-weight="normal" fill="#111" stroke="#111" stroke-width="0.18" >11</text>
<text x="155.30" y="352.70" font-size="6.6" text-anchor="middle" font-weight="normal" fill="#111" stroke="#111" stroke-width="0.18" >12</text>
<text x="121.10" y="297.30" font-size="6.6" text-anchor="middle" font-weight="normal" fill="#111" stroke="#111" stroke-width="0.18" >13</text>
<text x="145.30" y="211.40" font-size="6.6" text-anchor="middle" font-weight="normal" fill="#111" stroke="#111" stroke-width="0.18" >14</text>
<text x="127.30" y="215.30" font-size="6.6" text-anchor="middle" font-weight="normal" fill="#111" stroke="#111" stroke-width="0.18" >15</text>
<text x="224.50" y="282.50" font-size="6.6" text-anchor="middle" font-weight="normal" fill="#111" stroke="#111" stroke-width="0.18" >16</text>
<line x1="50.5" y1="197.8" x2="50.5" y2="361.3" stroke="#333" stroke-width="0.9"/>
<line x1="48.3" y1="247.40" x2="50.5" y2="247.40" stroke="#333" stroke-width="0.9"/>
<text x="46.80" y="249.95" font-size="7.2" text-anchor="end" font-weight="normal" fill="#333" stroke="#333" stroke-width="0.18" >10</text>
<line x1="48.3" y1="302.10" x2="50.5" y2="302.10" stroke="#333" stroke-width="0.9"/>
<text x="46.80" y="304.65" font-size="7.2" text-anchor="end" font-weight="normal" fill="#333" stroke="#333" stroke-width="0.18" >0</text>
<line x1="48.3" y1="357.40" x2="50.5" y2="357.40" stroke="#333" stroke-width="0.9"/>
<text x="46.80" y="359.95" font-size="7.2" text-anchor="end" font-weight="normal" fill="#333" stroke="#333" stroke-width="0.18" >−10</text>
<line x1="50.5" y1="361.3" x2="235.0" y2="361.3" stroke="#333" stroke-width="0.9"/>
<line x1="104.00" y1="361.3" x2="104.00" y2="363.5" stroke="#333" stroke-width="0.9"/>
<text x="104.00" y="371.40" font-size="7.2" text-anchor="middle" font-weight="normal" fill="#333" stroke="#333" stroke-width="0.18" >0</text>
<line x1="167.00" y1="361.3" x2="167.00" y2="363.5" stroke="#333" stroke-width="0.9"/>
<text x="167.00" y="371.40" font-size="7.2" text-anchor="middle" font-weight="normal" fill="#333" stroke="#333" stroke-width="0.18" >10</text>
<line x1="230.60" y1="361.3" x2="230.60" y2="363.5" stroke="#333" stroke-width="0.9"/>
<text x="230.60" y="371.40" font-size="7.2" text-anchor="middle" font-weight="normal" fill="#333" stroke="#333" stroke-width="0.18" >20</text>
<text x="144.00" y="380.60" font-size="8.3" text-anchor="middle" font-weight="normal" fill="#222" stroke="#222" stroke-width="0.18" >UMAP_1</text>
<text transform="translate(31.30,277.00) rotate(-90)" font-size="8.3" text-anchor="middle" fill="#222">UMAP_2</text>
<text x="143.00" y="192.00" font-size="9.3" text-anchor="middle" font-weight="bold" fill="#111" stroke="#111" stroke-width="0.2" >louvain</text>
<circle cx="247.9" cy="209.50" r="2.5" fill="#F8766D"/>
<text x="256.80" y="212.10" font-size="7.3" text-anchor="start" font-weight="normal" fill="#222" stroke="#222" stroke-width="0.18" >0</text>
<circle cx="247.9" cy="218.53" r="2.5" fill="#E7851E"/>
<text x="256.80" y="221.13" font-size="7.3" text-anchor="start" font-weight="normal" fill="#222" stroke="#222" stroke-width="0.18" >1</text>
<circle cx="247.9" cy="227.56" r="2.5" fill="#D09400"/>
<text x="256.80" y="230.16" font-size="7.3" text-anchor="start" font-weight="normal" fill="#222" stroke="#222" stroke-width="0.18" >2</text>
<circle cx="247.9" cy="236.59" r="2.5" fill="#B2A100"/>
<text x="256.80" y="239.19" font-size="7.3" text-anchor="start" font-weight="normal" fill="#222" stroke="#222" stroke-width="0.18" >3</text>
<circle cx="247.9" cy="245.62" r="2.5" fill="#89AC00"/>
<text x="256.80" y="248.22" font-size="7.3" text-anchor="start" font-weight="normal" fill="#222" stroke="#222" stroke-width="0.18" >4</text>
<circle cx="247.9" cy="254.65" r="2.5" fill="#45B500"/>
<text x="256.80" y="257.25" font-size="7.3" text-anchor="start" font-weight="normal" fill="#222" stroke="#222" stroke-width="0.18" >5</text>
<circle cx="247.9" cy="263.68" r="2.5" fill="#00BC51"/>
<text x="256.80" y="266.28" font-size="7.3" text-anchor="start" font-weight="normal" fill="#222" stroke="#222" stroke-width="0.18" >6</text>
<circle cx="247.9" cy="272.71" r="2.5" fill="#00C087"/>
<text x="256.80" y="275.31" font-size="7.3" text-anchor="start" font-weight="normal" fill="#222" stroke="#222" stroke-width="0.18" >7</text>
<circle cx="247.9" cy="281.74" r="2.5" fill="#00C0B2"/>
<text x="256.80" y="284.34" font-size="7.3" text-anchor="start" font-weight="normal" fill="#222" stroke="#222" stroke-width="0.18" >8</text>
<circle cx="247.9" cy="290.77" r="2.5" fill="#00BCD6"/>
<text x="256.80" y="293.37" font-size="7.3" text-anchor="start" font-weight="normal" fill="#222" stroke="#222" stroke-width="0.18" >9</text>
<circle cx="247.9" cy="299.80" r="2.5" fill="#00B3F2"/>
<text x="256.80" y="302.40" font-size="7.3" text-anchor="start" font-weight="normal" fill="#222" stroke="#222" stroke-width="0.18" >10</text>
<circle cx="247.9" cy="308.83" r="2.5" fill="#29A3FF"/>
<text x="256.80" y="311.43" font-size="7.3" text-anchor="start" font-weight="normal" fill="#222" stroke="#222" stroke-width="0.18" >11</text>
<circle cx="247.9" cy="317.86" r="2.5" fill="#9C8DFF"/>
<text x="256.80" y="320.46" font-size="7.3" text-anchor="start" font-weight="normal" fill="#222" stroke="#222" stroke-width="0.18" >12</text>
<circle cx="247.9" cy="326.89" r="2.5" fill="#D277FF"/>
<text x="256.80" y="329.49" font-size="7.3" text-anchor="start" font-weight="normal" fill="#222" stroke="#222" stroke-width="0.18" >13</text>
<circle cx="247.9" cy="335.92" r="2.5" fill="#F166E8"/>
<text x="256.80" y="338.52" font-size="7.3" text-anchor="start" font-weight="normal" fill="#222" stroke="#222" stroke-width="0.18" >14</text>
<circle cx="247.9" cy="344.95" r="2.5" fill="#FF61C7"/>
<text x="256.80" y="347.55" font-size="7.3" text-anchor="start" font-weight="normal" fill="#222" stroke="#222" stroke-width="0.18" >15</text>
<circle cx="247.9" cy="353.98" r="2.5" fill="#FF689E"/>
<text x="256.80" y="356.58" font-size="7.3" text-anchor="start" font-weight="normal" fill="#222" stroke="#222" stroke-width="0.18" >16</text>
<g transform="translate(0.505,190.594) scale(0.9913,1.0745)">
<g filter="url(#rough)">
<path d="M84.0,244.7 L90.2,247.3 L94.6,250.0 L96.3,254.4 L100.7,257.0 L100.7,261.4 L97.2,263.2 L100.7,266.7 L102.9,269.3 L102.5,274.6 L100.7,279.0 L101.5,286.5 L90.2,287.5 L81.4,287.5 L74.4,288.0 L71.7,287.8 L67.3,284.3 L65.6,279.9 L68.2,276.3 L72.6,272.8 L71.7,268.4 L69.1,264.9 L71.7,261.4 L71.3,257.0 L74.4,252.6 L76.1,248.2 L79.6,246.0Z" fill="#829F67"/>
<path d="M96.0,284.5 L104.0,285.0 L111.0,289.0 L113.0,298.0 L106.0,297.0 L99.0,291.0Z" fill="#C5D4BA"/>
<path d="M73.9,286.2 L84.0,283.5 L93.7,285.3 L99.0,288.8 L102.5,295.0 L107.8,299.4 L111.7,303.8 L109.5,307.3 L104.3,309.0 L99.9,311.7 L99.0,317.0 L95.5,321.3 L91.9,325.7 L87.6,324.0 L83.2,319.6 L84.0,314.3 L81.4,309.0 L75.2,303.8 L73.5,297.6 L73.5,290.6Z" fill="#80A167"/>
<path d="M135.2,249.7 L142.2,252.3 L149.3,255.0 L155.4,256.7 L152.8,262.9 L156.3,268.2 L157.2,274.3 L149.3,275.2 L152.8,281.3 L147.5,284.9 L142.2,288.4 L139.6,294.5 L137.8,300.0 L135.2,292.8 L134.3,289.3 L131.0,286.0 L130.0,272.0 L128.2,269.9 L123.8,265.5 L122.9,262.0 L119.4,260.2 L119.4,257.6 L126.4,254.9 L130.8,251.4Z" fill="#A6B3C6"/>
<path d="M99.0,279.0 L102.6,277.8 L106.2,275.2 L113.2,274.3 L122.0,274.3 L128.2,269.9 L131.5,272.0 L132.5,286.5 L129.9,285.7 L124.6,284.0 L117.6,285.7 L110.6,285.7 L105.3,282.2 L99.0,283.5Z" fill="#CCD4DF"/>
<path d="M179.9,304.1 L185.2,301.9 L190.5,303.2 L194.0,306.7 L198.4,309.4 L206.3,306.7 L201.0,312.0 L199.3,316.4 L204.5,320.8 L208.1,324.3 L204.5,327.0 L201.0,331.3 L195.7,334.9 L189.6,336.6 L183.4,334.9 L180.8,331.3 L178.2,326.9 L172.0,325.2 L167.6,319.9 L170.2,316.4 L174.6,312.9 L177.3,309.4Z" fill="#D19DA0"/>
<path d="M155.0,285.0 L159.5,285.2 L168.0,293.0 L176.4,305.8 L177.5,310.4 L173.5,308.6 L166.0,297.5 L157.0,288.0Z" fill="#E0BEC0"/>
<path d="M137.3,306.4 L143.4,304.7 L149.6,306.4 L152.7,310.0 L152.2,315.2 L153.1,321.4 L150.5,324.9 L145.2,327.6 L139.0,328.4 L133.8,326.7 L130.2,323.2 L128.5,320.5 L131.1,316.1 L134.6,312.6 L135.5,309.1Z" fill="#82985E"/>
<path d="M136.0,300.3 L138.0,300.3 L137.0,306.0 L135.8,310.5 L134.0,310.0Z" fill="#C7D1B7"/>
<path d="M115.3,317.9 L121.4,317.0 L127.6,316.1 L129.5,319.6 L123.2,321.4 L116.2,324.0Z" fill="#82985E"/>
<path d="M168.2,217.9 L177.0,217.0 L181.4,220.6 L182.3,225.8 L185.8,229.4 L192.0,227.6 L195.5,226.7 L198.1,230.2 L204.3,227.6 L208.7,224.1 L205.1,230.2 L200.7,235.5 L201.6,240.8 L197.2,244.3 L191.9,246.1 L189.3,243.4 L184.0,239.0 L178.8,238.2 L172.6,239.9 L167.3,236.4 L171.7,233.8 L168.2,232.0 L172.6,230.2 L171.7,224.1Z" fill="#909FBE"/>
<path d="M180.6,277.6 L187.6,275.8 L196.4,275.0 L201.7,274.1 L207.8,275.8 L210.9,279.4 L208.7,282.9 L205.2,286.4 L199.9,287.3 L198.2,292.6 L196.4,295.2 L192.9,294.3 L188.5,298.7 L187.6,295.2 L183.2,291.7 L177.9,289.0 L174.4,286.4 L178.8,284.6 L179.7,281.1Z" fill="#D8AFB0"/>
<path d="M212.2,284.0 L216.0,282.9 L219.3,285.0 L217.5,287.3 L213.5,287.0Z" fill="#D8AFB0"/>
<path d="M187.0,263.5 L188.6,263.5 L188.6,275.0 L187.0,275.0Z" fill="#E0BFC0"/>
<path d="M197.6,295.0 L199.0,295.0 L199.0,305.0 L197.6,305.0Z" fill="#E0BFC0"/>
<path d="M168.2,248.7 L173.5,247.8 L177.9,251.3 L179.6,256.6 L182.3,261.0 L183.2,263.7 L179.6,266.3 L174.4,270.0 L167.9,271.2 L166.0,266.0 L162.0,263.5 L165.7,258.0 L165.4,252.0Z" fill="#9FB39D"/>
<path d="M203.4,298.7 L207.8,301.3 L212.2,297.8 L217.5,299.6 L220.6,304.0 L219.3,307.5 L214.0,310.1 L208.7,310.1 L206.9,307.5 L205.2,304.0Z" fill="#C1817B"/>
<path d="M135.2,224.0 L140.5,227.6 L144.9,223.2 L149.3,222.3 L151.0,224.9 L150.1,229.3 L152.8,232.8 L151.9,236.3 L148.4,235.5 L145.7,231.9 L142.2,232.8 L138.7,230.2 L136.9,226.7Z" fill="#92A0BA"/>
<path d="M110.6,227.6 L115.0,225.8 L120.2,226.2 L123.8,228.4 L122.0,231.1 L117.6,232.0 L113.2,231.5 L110.1,229.7Z" fill="#C88879"/>
<path d="M111.5,230.5 L112.8,231.0 L108.2,235.8 L107.6,235.3Z" fill="#DFBBB2"/>
<path d="M127.6,330.2 L132.9,327.6 L137.3,330.2 L136.4,334.6 L137.3,341.6 L135.5,344.3 L131.1,345.6 L128.5,343.4 L127.2,337.2Z" fill="#9EB3B8"/>
<path d="M149.6,348.7 L155.7,346.9 L159.3,349.5 L157.5,353.1 L151.3,353.9Z" fill="#9AAC88"/>
<path d="M161.0,346.9 L166.3,346.9 L168.1,349.5 L165.4,352.2 L161.9,351.3Z" fill="#9AAC88"/>
<path d="M117.9,293.0 L122.5,292.5 L125.5,295.5 L123.5,297.8 L118.5,297.0Z" fill="#9AAC8B"/>
<path d="M58.5,295.0 L62.9,292.3 L66.4,289.7 L68.2,288.8 L64.7,293.2 L66.4,296.3 L61.2,297.2 L59.0,296.3Z" fill="#9AAC8B"/>
<path d="M142.2,204.7 L146.6,208.2 L151.0,212.6 L152.8,213.9 L147.5,213.5 L144.0,212.6 L142.2,209.1Z" fill="#A7B8C7"/>
<path d="M124.5,211.0 L128.5,210.8 L130.0,214.5 L127.5,216.2 L124.0,215.0Z" fill="#9CA1BD"/>
<path d="M222.0,278.8 L226.5,279.0 L227.0,281.5 L222.5,281.8Z" fill="#A9C19F"/>
<path d="M162.3,341.9 L165.8,339.3 L165.0,341.5Z" fill="#DEBCB9"/>
<path d="M171.1,346.3 L174.6,344.5 L174.0,346.0Z" fill="#DEBCB9"/>
</g>
<path stroke="#4DAF4A" stroke-width="1.15" fill="none" d="M144.8 208.6h1.15m-0.5 0.3h1.15m-2.2 0.7h1.15m1.8 0.1h1.15m-4.3 2.9h1.15m2.6 0.1h1.15m29.1 6.3h1.15m-0.2 0.4h1.15m-0.6 0.7h1.15m-6.2 2.2h1.15m-30.4 1.6h1.15m1.4 1.4h1.15m28.7 0.2h1.15m-63.7 1.4h1.15m5 0h1.15m-7.5 0.2h1.15m61.8 0h1.15m5.5 0.7h1.15m-10.7 0.4h1.15m-62.6 0.3h1.15m6.5 0h1.15m18.9 0h1.15m-20 0.1h1.15m-8.6 0.1h1.15m4.2 0h1.15m23 0h1.15m59.5 0h1.15m-63.9 0.2h1.15m1.8 0.1h1.15m2.8 0h1.15m42.2 0.2h1.15m-71.5 0.1h1.15m0.9 0.1h1.15m20.7 0h1.15m39.5 0.1h1.15m-71.9 0.8h1.15m-5.4 0.1h1.15m0.6 0h1.15m24.2 0.2h1.15m6 0.1h1.15m-1.9 0.1h1.15m-29.2 0.1h1.15m23.2 0h1.15m-21 0.2h1.15m-7.4 0.1h1.15m5.2 0h1.15m-10.9 0.2h1.15m64.3 0h1.15m-60 0.3h1.15m-1.2 0.3h1.15m70.8 0h1.15m-80.1 0.2h1.15m63.5 0h1.15m-66.2 0.1h1.15m27.2 0.1h1.15m39.8 0.2h1.15m10.7 0h1.15m-51.2 0.6h1.15m40.5 0h1.15m-38 0.5h1.15m52.7 0.8h1.15m-91.5 0.3h1.15m78.4 0.8h1.15m-21.7 0.9h1.15m12.1 0.5h1.15m9.5 0.5h1.15m-6.9 0.9h1.15m3.9 0.1h1.15m-3.9 2.1h1.15m3.1 2h1.15m-113.4 3.1h1.15m-0.9 0.7h1.15m-3 0.4h1.15m8.3 0.9h1.15m-7.3 0.4h1.15m-1.9 0.2h1.15m0.2 0.4h1.15m4.4 0.2h1.15m-2.6 0.1h1.15m-4.1 0.1h1.15m-9.5 0.2h1.15m5.6 0h1.15m-7.8 0.1h1.15m-3.5 0.1h1.15m4.7 0.1h1.15m-4.5 0.1h1.15m3.9 0.1h1.15m-0.5 0h1.15m-6.9 0.1h1.15m-0.9 0h1.15m6.1 0.4h1.15m4.4 0.2h1.15m79.9 0h1.15m-97.2 0.1h1.15m10.4 0.1h1.15m4.6 0h1.15m-10.8 0.3h1.15m-3.6 0.2h1.15m3.9 0h1.15m83 0.1h1.15m0.9 0h1.15m-84.8 0.2h1.15m45.5 0.1h1.15m-45.5 0.1h1.15m76.3 0h1.15m-95 0.1h1.15m11.9 0.1h1.15m41.5 0.2h1.15m7 0h1.15m38.7 0.2h1.15m-95.3 0.2h1.15m50.6 0.2h1.15m38.9 0h1.15m-86.5 0.2h1.15m44.1 0.1h1.15m-41.3 0.1h1.15m75.4 0h1.15m-77.5 0.4h1.15m-4.2 0.1h1.15m81.2 0.1h1.15m-82.4 0.2h1.15m40.4 0h1.15m0.6 0h1.15m-57.4 0.1h1.15m2.2 0h1.15m-8.8 0.1h1.15m4.6 0h1.15m94.1 0h1.15m-3.9 0.2h1.15m-0.2 0.1h1.15m-85.5 0.1h1.15m41.8 0h1.15m-44.3 0.1h1.15m2.7 0h1.15m69 0h1.15m3.8 0h1.15m-37.3 0.1h1.15m-52.8 0.1h1.15m1.1 0h1.15m42.9 0.1h1.15m47.3 0h1.15m-105.4 0.1h1.15m57.2 0.1h1.15m-45 0.1h1.15m-0.3 0h1.15m-2.3 0.1h1.15m8.1 0h1.15m0.2 0.1h1.15m73.4 0.1h1.15m-99.6 0.3h1.15m58.7 0h1.15m13.2 0h1.15m-59.8 0.1h1.15m34.7 0h1.15m10.4 0h1.15m-45.7 0.1h1.15m46.7 0h1.15m23.9 0h1.15m-27.3 0.2h1.15m-67.8 0.1h1.15m67.5 0h1.15m-63.8 0.1h1.15m14.9 0h1.15m-8 0.1h1.15m7.3 0h1.15m73.3 0h1.15m-91.3 0.1h1.15m11.2 0h1.15m50.9 0.1h1.15m-60.5 0.2h1.15m7.7 0h1.15m-23 0.1h1.15m14.8 0h1.15m2 0h1.15m38.7 0h1.15m10.5 0.1h1.15m30 0h1.15m-101.6 0.1h1.15m0.5 0h1.15m102 0h1.15m-103.8 0.1h1.15m23 0h1.15m23.9 0h1.15m-33.4 0.2h1.15m6.3 0.2h1.15m75.6 0h1.15m-78.7 0.1h1.15m79.5 0h1.15m-84.6 0.1h1.15m-0.6 0h1.15m74.5 0h1.15m-100.5 0.1h1.15m19.1 0h1.15m-22.1 0.1h1.15m2.5 0h1.15m0.1 0h1.15m20.9 0h1.15m22.7 0h1.15m49.2 0h1.15m-74.6 0.1h1.15m-5.2 0.2h1.15m39.1 0h1.15m-59.7 0.1h1.15m16.6 0.1h1.15m3.4 0h1.15m-11.7 0.1h1.15m-13.5 0.1h1.15m8.3 0h1.15m0.5 0h1.15m6.9 0.1h1.15m72.3 0h1.15m-0.2 0h1.15m-71.3 0.1h1.15m73.2 0.1h1.15m-87.1 0.1h1.15m9.5 -0h1.15m23 -0h1.15m-25.3 0.1h1.15m35.7 -0h1.15m-63.2 0.1h1.15m19.9 -0h1.15m0.5 0.3h1.15m-18.2 0.1h1.15m-3.4 0.1h1.15m50.4 -0h1.15m-54.4 0.1h1.15m10.7 0.1h1.15m1.3 -0h1.15m82.1 -0h1.15m-96.4 0.1h1.15m6.8 -0h1.15m-8.5 0.1h1.15m11.8 -0h1.15m56.7 -0h1.15m16.5 -0h1.15m3.1 0.2h1.15m-99.3 0.1h1.15m54.3 -0h1.15m-37.7 0.1h1.15m0.4 -0h1.15m-12.2 0.1h1.15m80 -0h1.15m-76 0.1h1.15m36.5 -0h1.15m20.7 -0h1.15m14.9 -0h1.15m-92.3 0.1h1.15m19.2 -0h1.15m-14.6 0.1h1.15m8.3 -0h1.15m-3.1 0.1h1.15m11.9 -0h1.15m32.5 -0h1.15m-49.9 0.1h1.15m87.9 -0h1.15m-29.3 0.1h1.15m-75.1 0.1h1.15m22.9 -0h1.15m37.5 -0h1.15m27.2 -0h1.15m-28.6 0.1h1.15m-61.6 0.2h1.15m21.6 -0h1.15m-12.2 0.1h1.15m-0.7 -0h1.15m2.1 -0h1.15m5.1 -0h1.15m20.8 -0h1.15m-30 0.1h1.15m86.2 -0h1.15m-92.5 0.1h1.15m-13.3 0.1h1.15m23 -0h1.15m-0.1 -0h1.15m77 0.1h1.15m-105.9 0.2h1.15m108.6 0.1h1.15m-110 0.1h1.15m18.6 -0h1.15m3.8 0.1h1.15m32.3 -0h1.15m15.6 -0h1.15m13.9 -0h1.15m9.6 -0h1.15m-82.3 0.1h1.15m75.9 0.2h1.15m-99.3 0.1h1.15m23.7 -0h1.15m27.1 0.1h1.15m-47.2 0.1h1.15m52 -0h1.15m35.3 -0h1.15m0.1 0.2h1.15m-7.8 0.1h1.15m-73.1 0.1h1.15m4.7 -0h1.15m78.9 0.1h1.15m-98.6 0.1h1.15m45.6 -0h1.15m-32.3 0.2h1.15m65.6 0.2h1.15m-66.1 0.1h1.15m25.3 0.1h1.15m-53.7 0.1h1.15m18.9 -0h1.15m75.7 -0h1.15m1.3 -0h1.15m1.6 -0h1.15m-96.6 0.1h1.15m5.4 -0h1.15m-3.4 0.2h1.15m83.7 0.1h1.15m-93.8 0.2h1.15m4.3 -0h1.15m8 -0h1.15m2.2 -0h1.15m72.4 -0h1.15m-90.4 0.1h1.15m-8.1 0.1h1.15m14.5 -0h1.15m2.1 0.1h1.15m47.5 0.2h1.15m-57.6 0.2h1.15m3.1 -0h1.15m-16.4 0.1h1.15m10.8 -0h1.15m7.2 -0h1.15m58.2 -0h1.15m-17.5 0.1h1.15m-36.8 0.1h1.15m70 -0h1.15m-99.7 0.1h1.15m7.8 -0h1.15m14.5 -0h1.15m-2.5 0.1h1.15m-24.3 0.1h1.15m16.9 0.1h1.15m1.6 -0h1.15m-22.2 0.1h1.15m11.7 -0h1.15m0.4 -0h1.15m84.9 -0h1.15m-101.3 0.1h1.15m2.9 -0h1.15m22.1 -0h1.15m44.7 -0h1.15m8.7 -0h1.15m-66.3 0.1h1.15m5.6 0.1h1.15m4.6 -0h1.15m42.5 -0h1.15m-67.8 0.1h1.15m19.5 -0h1.15m77.4 -0h1.15m-95.4 0.1h1.15m102.4 0.2h1.15m-101.3 0.1h1.15m-0.6 0.1h1.15m3.9 -0h1.15m0.4 -0h1.15m80.1 0.1h1.15m-91.6 0.1h1.15m44.3 -0h1.15m34.9 0.1h1.15m-80.2 0.1h1.15m8.1 -0h1.15m68.9 -0h1.15m-74.1 0.2h1.15m-14.5 0.2h1.15m-4.7 0.1h1.15m-6.4 0.1h1.15m10.4 0.1h1.15m3.7 -0h1.15m55.6 0.1h1.15m6.8 0.1h1.15m-73.8 0.2h1.15m96.5 -0h1.15m-90.7 0.1h1.15m2.2 -0h1.15m-14.4 0.2h1.15m3.4 -0h1.15m17.6 -0h1.15m-23.8 0.1h1.15m69.9 -0h1.15m-62.1 0.1h1.15m-6.3 0.2h1.15m-9.2 0.2h1.15m59 -0h1.15m33.7 -0h1.15m-99.5 0.1h1.15m-0.2 -0h1.15m10.4 -0h1.15m-0.4 -0h1.15m63.3 -0h1.15m-61.2 0.1h1.15m58.6 -0h1.15m3.9 -0h1.15m19.2 0.1h1.15m10.4 -0h1.15m1.3 0.1h1.15m-105.8 0.2h1.15m70 -0h1.15m-81.1 0.1h1.15m51.4 -0h1.15m41.9 -0h1.15m-0.9 -0h1.15m-96.7 0.2h1.15m3.6 -0h1.15m54.2 -0h1.15m-38.9 0.1h1.15m-16 0.1h1.15m-12 0.2h1.15m4.4 -0h1.15m0.8 0.1h1.15m21.8 -0h1.15m-20.3 0.3h1.15m4.9 -0h1.15m-17.9 0.1h1.15m13.7 -0h1.15m62 -0h1.15m-53.7 0.1h1.15m-17.9 0.1h1.15m106.4 -0h1.15m-55.3 0.1h1.15m-50 0.1h1.15m-4.5 0.1h1.15m9.5 -0h1.15m54.6 -0h1.15m-70.4 0.1h1.15m1.9 -0h1.15m-7.9 0.2h1.15m2.3 0.1h1.15m9 0.2h1.15m-17.3 0.2h1.15m11.9 0.1h1.15m3.1 -0h1.15m-12.5 0.1h1.15m18.3 -0h1.15m-17.2 0.1h1.15m9.6 -0h1.15m-10.6 0.1h1.15m42 -0h1.15m-43.5 0.1h1.15m-5.4 0.1h1.15m14.2 -0h1.15m4.4 -0h1.15m42.7 -0h1.15m2.6 -0h1.15m-73.4 0.1h1.15m17.7 -0h1.15m-15.8 0.2h1.15m7.1 -0h1.15m-17.9 0.3h1.15m24.4 -0h1.15m-0 0.1h1.15m-27.6 0.1h1.15m19.4 -0h1.15m8.1 0.1h1.15m-2.5 0.1h1.15m43.1 -0h1.15m-49.8 0.1h1.15m50 -0h1.15m-73.8 0.1h1.15m49.7 -0h1.15m-49.5 0.1h1.15m-5.4 0.2h1.15m22.5 -0h1.15m-22.5 0.1h1.15m18.8 -0h1.15m-8.2 0.1h1.15m4.5 -0h1.15m0.1 -0h1.15m-1 -0h1.15m28.8 -0h1.15m24.4 0.1h1.15m-82.2 0.1h1.15m18.8 -0h1.15m4 -0h1.15m-17 0.1h1.15m73.5 -0h1.15m-64.8 0.1h1.15m37.8 -0h1.15m-62.4 0.1h1.15m38.2 -0h1.15m91.7 -0h1.15m-106.8 0.1h1.15m41 -0h1.15m6.1 -0h1.15m-3.1 0.1h1.15m-74.6 0.1h1.15m81.5 -0h1.15m40.2 -0h1.15m-109.4 0.1h1.15m10.7 0.1h1.15m93.5 0.1h1.15m0.3 -0h1.15m-110.7 0.2h1.15m8.1 -0h1.15m7.1 -0h1.15m101.6 -0h1.15m-115.4 0.2h1.15m-21.9 0.1h1.15m5.6 -0h1.15m11.9 -0h1.15m41.9 -0h1.15m-59.4 0.1h1.15m12 -0h1.15m14.1 0.1h1.15m48.6 -0h1.15m-83.1 0.2h1.15m127.6 -0h1.15m-125.6 0.1h1.15m11.1 -0h1.15m12.7 -0h1.15m-32.7 0.1h1.15m-0.4 -0h1.15m4.8 -0h1.15m16.6 -0h1.15m1.9 0.1h1.15m104.6 -0h1.15m-64.1 0.1h1.15m6.6 -0h1.15m-34.8 0.1h1.15m73.7 -0h1.15m-115.4 0.1h1.15m9 0.2h1.15m17.3 -0h1.15m-21.1 0.1h1.15m2.3 -0h1.15m0.3 -0h1.15m-16.1 0.1h1.15m12.5 -0h1.15m34.7 -0h1.15m10 -0h1.15m15.4 -0h1.15m-84 0.1h1.15m4.7 -0h1.15m135 -0h1.15m-138.4 0.1h1.15m0.3 -0h1.15m12.5 -0h1.15m-15.8 0.1h1.15m12.1 -0h1.15m7.1 0.1h1.15m6.5 0.1h1.15m42.1 -0h1.15m-74.2 0.1h1.15m5.6 -0h1.15m13.8 -0h1.15m3.1 -0h1.15m22.2 -0h1.15m63 -0h1.15m-37.4 0.1h1.15m-80.9 0.1h1.15m20.2 -0h1.15m27.6 -0h1.15m-1 -0h1.15m-42.3 0.1h1.15m21.6 -0h1.15m25.2 -0h1.15m-60.8 0.1h1.15m21.4 -0h1.15m30.4 0.1h1.15m-35 0.1h1.15m12 -0h1.15m-31.3 0.1h1.15m1.6 -0h1.15m10.7 -0h1.15m10.4 -0h1.15m-1 0.1h1.15m34.8 0.2h1.15m46.8 0.1h1.15m-114.3 0.1h1.15m11.5 -0h1.15m20.6 -0h1.15m120.3 -0h1.15m1.8 -0h1.15m-82.7 0.1h1.15m-50.9 0.2h1.15m126.8 -0h1.15m-156.3 0.1h1.15m32.5 -0h1.15m-36.4 0.1h1.15m0.1 -0h1.15m1.9 -0h1.15m76.4 -0h1.15m-81 0.1h1.15m57.7 -0h1.15m66.7 -0h1.15m-120.7 0.1h1.15m54 -0h1.15m-44.9 0.1h1.15m1.6 -0h1.15m110.5 -0h1.15m-111.5 0.1h1.15m111.6 -0h1.15m1.2 -0h1.15m20.3 -0h1.15m-151.6 0.1h1.15m7.4 -0h1.15m115.3 -0h1.15m-98.7 0.1h1.15m-0.4 -0h1.15m12.3 -0h1.15m-38.4 0.1h1.15m8.5 -0h1.15m-24.8 0.2h1.15m8.5 -0h1.15m3.9 -0h1.15m15.2 -0h1.15m19.3 -0h1.15m77.4 -0h1.15m-57 0.2h1.15m-71.5 0.1h1.15m11.7 -0h1.15m-4.4 0.1h1.15m6.2 -0h1.15m0.2 -0h1.15m9.3 -0h1.15m15.9 -0h1.15m78.4 -0h1.15m27.6 -0h1.15m-152.1 0.1h1.15m116.1 -0h1.15m-44.1 0.1h1.15m-82.3 0.1h1.15m29.5 -0h1.15m19.5 -0h1.15m-8.6 0.1h1.15m97.7 -0h1.15m-140.4 0.1h1.15m26.8 -0h1.15m86.4 -0h1.15m21.9 -0h1.15m14.6 -0h1.15m-112.9 0.2h1.15m26.7 -0h1.15m55.8 -0h1.15m-98.5 0.1h1.15m-20.5 0.1h1.15m5.8 -0h1.15m102.6 -0h1.15m-98.6 0.1h1.15m3.1 -0h1.15m10.6 -0h1.15m91.9 -0h1.15m-135.2 0.1h1.15m51.2 -0h1.15m18.9 -0h1.15m64.8 -0h1.15m-0 -0h1.15m-114.3 0.1h1.15m-21.7 0.1h1.15m132.1 -0h1.15m-110.7 0.1h1.15m-16 0.1h1.15m2.6 -0h1.15m101.3 -0h1.15m-110.8 0.1h1.15m108.5 -0h1.15m-51.2 0.1h1.15m-60.1 0.1h1.15m6.2 -0h1.15m-20.7 0.1h1.15m29.1 -0h1.15m-32.1 0.1h1.15m2.1 -0h1.15m-1.1 -0h1.15m6.9 -0h1.15m2 -0h1.15m-0.6 -0h1.15m0.4 -0h1.15m50.5 -0h1.15m52.2 -0h1.15m-118.7 0.1h1.15m134.8 -0h1.15m-141.6 0.1h1.15m15.6 -0h1.15m9.3 -0h1.15m104.8 -0h1.15m-111.8 0.1h1.15m1.3 -0h1.15m7.6 -0h1.15m111.7 -0h1.15m-138.7 0.2h1.15m107.3 -0h1.15m-105.2 0.3h1.15m3 0.1h1.15m8.2 -0h1.15m7.3 -0h1.15m103.4 -0h1.15m-128.6 0.1h1.15m2.8 -0h1.15m13.7 -0h1.15m96.4 -0h1.15m-125.1 0.2h1.15m13.7 -0h1.15m50.2 -0h1.15m7.2 -0h1.15m-60.7 0.1h1.15m89.7 -0h1.15m27.7 -0h1.15m-16.6 0.1h1.15m-113.8 0.1h1.15m8.1 -0h1.15m1.6 -0h1.15m87.1 -0h1.15m38.2 0.1h1.15m-138.4 0.1h1.15m-10.5 0.1h1.15m24 -0h1.15m-19.3 0.1h1.15m19.1 -0h1.15m-30.1 0.1h1.15m3.3 -0h1.15m5.6 -0h1.15m53.2 -0h1.15m-44.9 0.1h1.15m7.2 -0h1.15m81 -0h1.15m-96.2 0.1h1.15m46.9 -0h1.15m-63.6 0.2h1.15m109.2 -0h1.15m-96.5 0.1h1.15m11.9 -0h1.15m-24.9 0.1h1.15m16.4 -0h1.15m91.6 -0h1.15m-96.9 0.1h1.15m-16.7 0.1h1.15m5.4 -0h1.15m2.3 -0h1.15m13 -0h1.15m35 0.1h1.15m62.1 -0h1.15m-130.7 0.1h1.15m0.6 -0h1.15m4.5 -0h1.15m10.8 -0h1.15m4.1 -0h1.15m2.3 -0h1.15m115.7 -0h1.15m-116.8 0.1h1.15m102.8 -0h1.15m-0.7 0.1h1.15m-105.2 0.1h1.15m-25.3 0.1h1.15m13.7 -0h1.15m-0.7 -0h1.15m87.9 -0h1.15m-79.2 0.1h1.15m-16.4 0.1h1.15m5.6 -0h1.15m11.2 -0h1.15m25.6 -0h1.15m-46.3 0.1h1.15m4.3 -0h1.15m2.8 -0h1.15m37.4 -0h1.15m-41.4 0.1h1.15m-21.2 0.1h1.15m14.3 -0h1.15m2.1 -0h1.15m-13.4 0.1h1.15m-3.4 0.1h1.15m12.3 -0h1.15m2.2 -0h1.15m-0.4 -0h1.15m60 -0h1.15m-68.3 0.2h1.15m86 -0h1.15m20.1 -0h1.15m-121.6 0.1h1.15m7.5 -0h1.15m-13.8 0.1h1.15m0.5 0.1h1.15m23.8 -0h1.15m-13.6 0.1h1.15m6 -0h1.15m91 0.1h1.15m-4.7 0.1h1.15m-111.3 0.1h1.15m26.6 -0h1.15m-18.5 0.1h1.15m9.7 -0h1.15m11.4 0.4h1.15m25.6 -0h1.15m-55.4 0.1h1.15m21 -0h1.15m-2.9 0.1h1.15m-9.1 0.1h1.15m84.5 -0h1.15m-102.5 0.1h1.15m3.6 -0h1.15m10.1 -0h1.15m1.2 0.1h1.15m-5.2 0.1h1.15m18.5 -0h1.15m-27.8 0.1h1.15m-0.2 -0h1.15m2 -0h1.15m-1.8 0.1h1.15m72.8 -0h1.15m-24.8 0.1h1.15m-62.6 0.1h1.15m23.3 -0h1.15m-17.7 0.2h1.15m-6.1 0.1h1.15m-3.9 0.1h1.15m0.8 -0h1.15m27.2 -0h1.15m-30.8 0.1h1.15m110.1 -0h1.15m-113.6 0.1h1.15m11.4 -0h1.15m6.3 -0h1.15m-3.2 0.1h1.15m0.5 -0h1.15m7.5 -0h1.15m-3.4 0.2h1.15m56 0.1h1.15m-85.2 0.1h1.15m-1.9 0.1h1.15m8.6 -0h1.15m101.9 0.2h1.15m-114.9 0.1h1.15m110.1 -0h1.15m8.9 -0h1.15m-96 0.1h1.15m-36 0.1h1.15m15.6 -0h1.15m-5.2 0.1h1.15m-0.3 0.1h1.15m4.4 0.1h1.15m4.2 -0h1.15m0.3 0.1h1.15m1.8 -0h1.15m13.2 -0h1.15m-12.3 0.1h1.15m1.5 -0h1.15m0.7 -0h1.15m85 -0h1.15m-126.1 0.1h1.15m31.9 -0h1.15m-1.2 -0h1.15m-8.6 0.1h1.15m9 -0h1.15m61.1 0.1h1.15m-53.9 0.1h1.15m-37.3 0.1h1.15m44.9 -0h1.15m-39.1 0.1h1.15m103.3 -0h1.15m5.9 -0h1.15m0.1 -0h1.15m-95.8 0.1h1.15m3.9 -0h1.15m90.3 -0h1.15m-58.8 0.1h1.15m-27.2 0.1h1.15m-49.7 0.1h1.15m29.4 0.1h1.15m5.7 -0h1.15m-21.8 0.1h1.15m37 -0h1.15m-17.5 0.1h1.15m3.9 -0h1.15m2.1 -0h1.15m23.6 0.1h1.15m-42.2 0.3h1.15m2.5 -0h1.15m6.9 -0h1.15m-42.8 0.3h1.15m18.8 -0h1.15m16.9 -0h1.15m3.7 -0h1.15m-32.7 0.1h1.15m0.5 -0h1.15m-18.8 0.3h1.15m-0.5 -0h1.15m21.2 -0h1.15m-1.1 -0h1.15m-19.8 0.1h1.15m34.1 -0h1.15m19.5 -0h1.15m45 -0h1.15m-83 0.1h1.15m13.3 -0h1.15m9.5 -0h1.15m88 -0h1.15m-133.1 0.1h1.15m35.8 -0h1.15m15.2 -0h1.15m1.9 -0h1.15m74.2 -0h1.15m-75.4 0.1h1.15m-34 0.1h1.15m10.1 -0h1.15m36.6 -0h1.15m-80.9 0.1h1.15m22.9 -0h1.15m17.1 -0h1.15m-5.7 0.1h1.15m8.1 -0h1.15m-26.1 0.1h1.15m81.9 -0h1.15m-68.1 0.1h1.15m9 -0h1.15m12.3 -0h1.15m-0.3 -0h1.15m-45.4 0.1h1.15m17.5 -0h1.15m-11.7 0.1h1.15m14.6 -0h1.15m5.8 0.1h1.15m-0.3 -0h1.15m-21.2 0.1h1.15m-13.3 0.3h1.15m-0.2 -0h1.15m-0.3 -0h1.15m3.7 -0h1.15m-25.1 0.1h1.15m24.4 -0h1.15m15.8 -0h1.15m-29.2 0.1h1.15m2.2 -0h1.15m38.9 -0h1.15m-15.3 0.1h1.15m-43.7 0.1h1.15m29.3 -0h1.15m-15.2 0.1h1.15m39.9 -0h1.15m68.8 -0h1.15m-112.9 0.1h1.15m33.1 -0h1.15m6.7 -0h1.15m-53.3 0.1h1.15m14 0.1h1.15m12.7 -0h1.15m-32.4 0.1h1.15m12 -0h1.15m10.7 -0h1.15m-29.6 0.2h1.15m12.4 -0h1.15m15.3 -0h1.15m16 -0h1.15m13.1 -0h1.15m-24.8 0.1h1.15m-1.7 0.2h1.15m-38.4 0.1h1.15m11.1 -0h1.15m3.7 -0h1.15m17.9 -0h1.15m100.2 -0h1.15m-107.5 0.1h1.15m27.7 0.1h1.15m-49.8 0.1h1.15m37.8 -0h1.15m-24.1 0.1h1.15m109.8 -0h1.15m-102.5 0.1h1.15m-24.1 0.1h1.15m4.3 -0h1.15m-0.8 -0h1.15m16 -0h1.15m-20.8 0.1h1.15m-6.3 0.3h1.15m6.9 0.2h1.15m120.4 -0h1.15m-122.8 0.1h1.15m18.2 -0h1.15m-0.9 -0h1.15m112.7 -0h1.15m-3.2 0.1h1.15m-128.6 0.1h1.15m4.1 0.1h1.15m10.2 -0h1.15m66.2 0.1h1.15m-69.3 0.2h1.15m-24.7 0.1h1.15m11.2 -0h1.15m119.7 -0h1.15m-134.4 0.1h1.15m20.3 -0h1.15m3.2 -0h1.15m-15.8 0.1h1.15m10 -0h1.15m-23.1 0.1h1.15m-0.3 0.1h1.15m-2 0.1h1.15m118.7 -0h1.15m-92.7 0.1h1.15m1.5 0.1h1.15m-35.1 0.1h1.15m7.8 -0h1.15m51 -0h1.15m79.7 -0h1.15m-134.3 0.1h1.15m11.9 -0h1.15m-18.1 0.2h1.15m10.5 -0h1.15m10.8 -0h1.15m-8.5 0.1h1.15m-18.6 0.1h1.15m136.2 -0h1.15m-116.7 0.2h1.15m112.1 -0h1.15m-133.1 0.2h1.15m129.4 0.1h1.15m-111.5 0.1h1.15m2.6 -0h1.15m91.2 -0h1.15m-118.5 0.2h1.15m26.2 -0h1.15m105.5 -0h1.15m-107.4 0.1h1.15m0.6 -0h1.15m97.1 -0h1.15m-98.9 0.1h1.15m71.1 -0h1.15m-77.9 0.1h1.15m-26.9 0.1h1.15m6.5 -0h1.15m19.7 -0h1.15m93.9 -0h1.15m5.2 -0h1.15m-131.3 0.1h1.15m14.4 -0h1.15m77.6 -0h1.15m42.1 -0h1.15m-14 0.1h1.15m8.6 -0h1.15m-129.8 0.1h1.15m-11.4 0.1h1.15m4.3 0.1h1.15m12.3 -0h1.15m-0.3 -0h1.15m7 -0h1.15m92.8 -0h1.15m19.8 -0h1.15m-132.7 0.1h1.15m49.5 -0h1.15m44.9 -0h1.15m33.4 0.1h1.15m-129.1 0.1h1.15m1.6 -0h1.15m-14.6 0.1h1.15m108.1 -0h1.15m-88.8 0.1h1.15m67.7 -0h1.15m-90.8 0.1h1.15m3.6 0.1h1.15m20.3 -0h1.15m104.8 -0h1.15m-4.7 0.1h1.15m2.6 -0h1.15m-133.5 0.1h1.15m107.8 -0h1.15m27.8 -0h1.15m-0.3 -0h1.15m-46.4 0.1h1.15m-99.4 0.2h1.15m18.3 0.1h1.15m12.2 -0h1.15m64 -0h1.15m29.7 -0h1.15m8.7 -0h1.15m4.5 -0h1.15m0 -0h1.15m-136.5 0.1h1.15m18.2 -0h1.15m-23.6 0.1h1.15m12.9 0.1h1.15m37.3 -0h1.15m53.4 -0h1.15m-112.9 0.1h1.15m139.6 -0h1.15m-30.1 0.2h1.15m-92.4 0.1h1.15m8.9 -0h1.15m-20.7 0.1h1.15m16.6 0.1h1.15m34 -0h1.15m-66.8 0.1h1.15m3.9 -0h1.15m27.2 -0h1.15m-0.2 -0h1.15m58.5 -0h1.15m-84.5 0.1h1.15m6.8 -0h1.15m12.5 -0h1.15m-24.9 0.1h1.15m0.7 0.1h1.15m13.3 -0h1.15m-19.7 0.2h1.15m106.7 -0h1.15m-103.1 0.1h1.15m16.3 -0h1.15m34.5 -0h1.15m-52.5 0.2h1.15m0 -0h1.15m10.3 0.1h1.15m43 -0h1.15m39.5 -0h1.15m28.2 -0h1.15m-132 0.1h1.15m0.1 -0h1.15m11.4 -0h1.15m72.9 -0h1.15m34.6 -0h1.15m-110.1 0.1h1.15m82.5 0.1h1.15m-103.8 0.1h1.15m22.9 -0h1.15m-24.8 0.1h1.15m5.5 -0h1.15m6.3 0.1h1.15m40.6 -0h1.15m8.7 0.1h1.15m-44.3 0.1h1.15m32.2 -0h1.15m4.9 -0h1.15m26.7 -0h1.15m36.4 -0h1.15m-101.1 0.1h1.15m36.2 -0h1.15m45.4 -0h1.15m12.9 -0h1.15m-71.6 0.1h1.15m7 -0h1.15m72.7 -0h1.15m-123.6 0.1h1.15m0.2 0.1h1.15m50.5 -0h1.15m-67.6 0.1h1.15m2.2 -0h1.15m4.8 -0h1.15m50.5 -0h1.15m3.4 -0h1.15m34.7 -0h1.15m-44.2 0.1h1.15m63.4 -0h1.15m-71.6 0.1h1.15m11.8 -0h1.15m29.5 -0h1.15m38.4 -0h1.15m-40.6 0.1h1.15m-96.1 0.1h1.15m6.4 0.2h1.15m50.9 0.1h1.15m-58.4 0.1h1.15m85.4 -0h1.15m41 -0h1.15m-80.9 0.1h1.15m35.4 -0h1.15m12.1 -0h1.15m-104.2 0.1h1.15m0.8 -0h1.15m59.3 -0h1.15m37.2 -0h1.15m29.7 -0h1.15m-125.9 0.3h1.15m7 -0h1.15m53.2 -0h1.15m54.7 -0h1.15m-118.6 0.1h1.15m12.8 -0h1.15m38.7 -0h1.15m35.7 -0h1.15m-0.8 -0h1.15m18.8 -0h1.15m-60.4 0.1h1.15m6.9 -0h1.15m-48.7 0.2h1.15m35.6 -0h1.15m-48.3 0.1h1.15m46 -0h1.15m50.8 0.1h1.15m7.2 -0h1.15m10.5 -0h1.15m1.8 -0h1.15m-131.2 0.1h1.15m52.7 -0h1.15m2.7 -0h1.15m4.3 -0h1.15m-58 0.2h1.15m2 -0h1.15m50.5 -0h1.15m-5.8 0.1h1.15m-0.1 -0h1.15m3.4 0.3h1.15m0.4 -0h1.15m36.9 -0h1.15m-52.4 0.1h1.15m54.2 -0h1.15m-103.9 0.1h1.15m6.9 -0h1.15m51.4 -0h1.15m40.1 -0h1.15m-52 0.1h1.15m46.5 -0h1.15m-101.3 0.3h1.15m10.2 -0h1.15m50.9 0.3h1.15m-12.7 0.2h1.15m-50.8 0.1h1.15m51.2 -0h1.15m50.8 -0h1.15m-103.6 0.1h1.15m3.6 -0h1.15m87.5 0.1h1.15m-38.7 0.1h1.15m3.6 -0h1.15m-68.7 0.1h1.15m2 -0h1.15m12.1 0.1h1.15m-16.2 0.1h1.15m8.1 -0h1.15m48.1 -0h1.15m-59.6 0.1h1.15m52.5 0.2h1.15m-1.7 0.2h1.15m-48.2 0.1h1.15m5.8 -0h1.15m91.5 -0h1.15m-2.4 0.1h1.15m-106.5 0.1h1.15m63.5 -0h1.15m-58.6 0.2h1.15m7.9 -0h1.15m38.5 -0h1.15m-51.1 0.2h1.15m90.2 0.2h1.15m-92.3 0.1h1.15m105.1 -0h1.15m-43.5 0.1h1.15m-69.9 0.1h1.15m13 -0h1.15m43.6 -0h1.15m-49.3 0.1h1.15m39 -0h1.15m14 -0h1.15m-64.1 0.1h1.15m112.4 0.1h1.15m-67.8 0.1h1.15m6.5 0.1h1.15m8.1 -0h1.15m-54.8 0.1h1.15m76.3 -0h1.15m-38.4 0.1h1.15m1.3 0.1h1.15m4.2 -0h1.15m-12.1 0.1h1.15m-50.5 0.1h1.15m59.8 0.1h1.15m1.9 -0h1.15m-15.5 0.1h1.15m3.1 -0h1.15m1.8 -0h1.15m54.2 -0h1.15m-103.1 0.2h1.15m37.2 -0h1.15m9.4 0.1h1.15m37.7 0.1h1.15m-90.5 0.1h1.15m41.1 -0h1.15m9.9 -0h1.15m-13.2 0.1h1.15m-46.1 0.1h1.15m93.9 -0h1.15m-92.3 0.1h1.15m-6.1 0.1h1.15m103.7 0.2h1.15m-51.7 0.2h1.15m41.3 -0h1.15m-90.4 0.1h1.15m-11 0.1h1.15m5.9 -0h1.15m-0.1 -0h1.15m1 -0h1.15m90.8 -0h1.15m-9.5 0.1h1.15m-93.5 0.1h1.15m5.2 -0h1.15m-0.8 -0h1.15m52.8 -0h1.15m-19.8 0.1h1.15m0.5 -0h1.15m4.3 0.1h1.15m-50.8 0.1h1.15m52.4 -0h1.15m-49.4 0.2h1.15m-7.3 0.3h1.15m27.6 -0h1.15m4 -0h1.15m70.9 -0h1.15m-71.3 0.1h1.15m-25.6 0.1h1.15m98.6 -0h1.15m-61.8 0.2h1.15m58.1 -0h1.15m-22.6 0.1h1.15m18.5 -0h1.15m-111.4 0.1h1.15m8 -0h1.15m22 -0h1.15m-31.7 0.1h1.15m40.7 -0h1.15m-36.7 0.1h1.15m0.3 -0h1.15m41.5 -0h1.15m2.9 -0h1.15m-42.7 0.1h1.15m31.6 -0h1.15m0.6 0.1h1.15m5.7 -0h1.15m0.3 -0h1.15m-58.9 0.1h1.15m36.6 -0h1.15m20.6 -0h1.15m0.1 -0h1.15m-10.9 0.2h1.15m1.3 -0h1.15m44.7 -0h1.15m-66.5 0.1h1.15m-1.1 -0h1.15m0.9 -0h1.15m77.8 0.1h1.15m-56.6 0.1h1.15m40.9 -0h1.15m7.8 -0h1.15m-78 0.1h1.15m10.3 0.1h1.15m10.5 -0h1.15m58 -0h1.15m-108.5 0.2h1.15m48.7 -0h1.15m26.2 0.1h1.15m-29.3 0.1h1.15m-10.4 0.1h1.15m5.4 -0h1.15m-8.5 0.1h1.15m37.9 -0h1.15m5.5 0.1h1.15m-93.3 0.1h1.15m0.2 -0h1.15m43 -0h1.15m12.5 0.1h1.15m49.3 -0h1.15m-57.4 0.2h1.15m3.5 -0h1.15m-26.4 0.1h1.15m10.1 -0h1.15m56.3 -0h1.15m-52.1 0.1h1.15m0.3 -0h1.15m-16.5 0.1h1.15m64.8 -0h1.15m-69.1 0.4h1.15m-24.3 0.1h1.15m35.8 -0h1.15m-42.8 0.1h1.15m48.7 -0h1.15m25.6 0.1h1.15m-54.2 0.1h1.15m5.5 -0h1.15m70.2 -0h1.15m-46.8 0.1h1.15m-30.2 0.1h1.15m-25 0.1h1.15m26.3 -0h1.15m27.2 -0h1.15m17.2 -0h1.15m-78.4 0.1h1.15m102.6 -0h1.15m-112.9 0.1h1.15m9.5 -0h1.15m78.3 -0h1.15m-81.8 0.1h1.15m46.5 -0h1.15m1.1 -0h1.15m-0.2 -0h1.15m-25.2 0.1h1.15m70.2 -0h1.15m-43.8 0.1h1.15m-17.7 0.1h1.15m15.8 -0h1.15m37.1 0.2h1.15m-57.3 0.1h1.15m48 -0h1.15m-96.7 0.1h1.15m7.9 -0h1.15m-0.7 0.1h1.15m103.7 -0h1.15m-65.8 0.1h1.15m58 -0h1.15m-103.3 0.1h1.15m49.4 -0h1.15m38.8 -0h1.15m-66.1 0.1h1.15m24 -0h1.15m3.1 0.3h1.15m-1.2 -0h1.15m-0.5 -0h1.15m-15 0.1h1.15m6.8 0.1h1.15m31.5 -0h1.15m6.9 -0h1.15m-41.7 0.1h1.15m36.1 -0h1.15m-30.2 0.1h1.15m-57.7 0.1h1.15m24 -0h1.15m12 0.1h1.15m16.2 -0h1.15m23.4 0.1h1.15m-36.4 0.1h1.15m-1 -0h1.15m0.6 -0h1.15m2.6 -0h1.15m1.3 0.2h1.15m-14.3 0.2h1.15m12.7 -0h1.15m0.3 -0h1.15m-17.2 0.1h1.15m-2 0.1h1.15m3.6 -0h1.15m3.4 0.2h1.15m-52.9 0.2h1.15m116.5 -0h1.15m-63.9 0.1h1.15m27.4 0.2h1.15m-32.6 0.1h1.15m-1 0.1h1.15m41 0.3h1.15m-48.6 0.2h1.15m56.4 -0h1.15m-49.4 0.1h1.15m0.5 -0h1.15m29.7 -0h1.15m2.3 -0h1.15m-3.7 0.4h1.15m-42.7 0.1h1.15m5.7 0.1h1.15m-3 0.1h1.15m3.1 -0h1.15m33.9 0.1h1.15m-44.2 0.3h1.15m2 0.6h1.15m41.2 0.1h1.15m-43.1 0.1h1.15m43.1 0.2h1.15m-44.8 0.1h1.15m-13.8 0.3h1.15m48.5 -0h1.15m6.8 -0h1.15m11.5 0.1h1.15m-9.3 0.2h1.15m-4.5 0.1h1.15m11.9 0.1h1.15m-68.4 0.1h1.15m-2.8 0.3h1.15m50.3 -0h1.15m14.3 0.1h1.15m2.2 0.1h1.15m-22.6 0.7h1.15m16.9 0.3h1.15m-2 0.1h1.15m-16.2 0.2h1.15m8.2 -0h1.15m-7.1 0.1h1.15m0.8 0.2h1.15m1.3 -0h1.15m-59.2 0.2h1.15m52.2 -0h1.15m-60.2 0.2h1.15m69 -0h1.15m-67.8 0.3h1.15m61.7 0.2h1.15m1.9 -0h1.15m-66.5 1.5h1.15m2.9 0.3h1.15m46.4 -0h1.15m3.7 1.7h1.15m-59.4 0.9h1.15m5.6 1.5h1.15m27.6 2.2h1.15m-3.1 0.7h1.15m-31.4 1.5h1.15m-6.5 0.2h1.15m45 2.6h1.15m-2.9 0.7h1.15m-7.8 1.4h1.15m-14.1 0.7h1.15m12.7 -0h1.15m-12.7 0.1h1.15m7.4 0.1h1.15m-6.5 0.2h1.15m-6.1 0.2h1.15m-4.7 0.2h1.15m12.1 -0h1.15m-11.9 0.3h1.15m12 -0h1.15m-16.9 0.3h1.15m16.1 0.2h1.15m-12.7 0.1h1.15m2.4 0.1h1.15m7.3 0.1h1.15m-4.7 0.1h1.15m-7.9 0.8h1.15m0.3 -0h1.15m1.5 -0h1.15m-11.6 0.1h1.15m0.2 -0h1.15m8.7 0.1h1.15m-11.8 0.4h1.15m4 0.1h1.15m-2.8 0.3h1.15m-4.4 0.1h1.15m0.2 0.4h1.15m-2.6 0.9h1.15m-1.7 1.1h1.15"/>
<path stroke="#33A02C" stroke-width="1.15" fill="none" d="M83.8 245.6h1.15m-4 1.6h1.15m-3.3 0.1h1.15m4.6 0.1h1.15m3.2 0.5h1.15m-2.9 0.4h1.15m-13.1 0.8h1.15m14.2 0.4h1.15m-2.7 2.9h1.15m-0.7 0.3h1.15m-7.8 0.1h1.15m-2.1 0.1h1.15m-0.3 0.6h1.15m-0.9 1.4h1.15m3.5 0.1h1.15m8.1 0.3h1.15m-21.4 0.2h1.15m0.3 0.2h1.15m7 0.3h1.15m8.6 0h1.15m0.8 0.3h1.15m-21.7 0.2h1.15m17.2 0.2h1.15m1.4 0h1.15m0.5 0.3h1.15m-26 0.6h1.15m-0.5 0.3h1.15m21.3 0.1h1.15m-26.2 0.1h1.15m2.1 -0h1.15m15.9 0.4h1.15m-3 0.8h1.15m-19.1 0.1h1.15m11.8 0.4h1.15m2.6 0.8h1.15m-4.6 0.2h1.15m-6.7 0.1h1.15m8.6 0.5h1.15m-16.2 0.5h1.15m17.1 0.4h1.15m-2.2 0.7h1.15m-12.1 0.3h1.15m-0.3 0.7h1.15m-6.3 0.5h1.15m13.7 -0h1.15m-11.4 0.1h1.15m3.5 0.6h1.15m-9.5 0.2h1.15m-6.3 0.2h1.15m16.6 -0h1.15m5.3 -0h1.15m-24.3 1.4h1.15m-3.1 0.1h1.15m-3.4 0.3h1.15m29.2 0.1h1.15m-24.8 0.9h1.15m19.8 -0h1.15m-12.8 0.2h1.15m-16.6 1.2h1.15m4.6 0.5h1.15m3.9 0.3h1.15m17.7 1.5h1.15m-1.5 0.1h1.15m-23.7 0.6h1.15m21.4 0.8h1.15m-28.5 0.1h1.15m7.4 0.3h1.15m-2.7 0.5h1.15m5.4 1.2h1.15m-11.7 0.5h1.15m-0.4 0.1h1.15m3.8 0.2h1.15m1.5 0.7h1.15m-8.6 0.1h1.15m23 0.1h1.15m-17.3 0.1h1.15m1.7 0.4h1.15m-11.5 0.3h1.15m3.4 -0h1.15m-12.9 0.2h1.15m22.5 0.3h1.15m-6.4 0.4h1.15m-12.6 0.8h1.15m-2.4 0.4h1.15m-8.6 0.6h1.15m26.4 0.5h1.15m-28.9 0.2h1.15m13.6 -0h1.15m-0.3 0.1h1.15m6.7 0.3h1.15m-15.4 0.2h1.15m19 0.3h1.15m-11.8 0.2h1.15m11.9 -0h1.15m-18.2 0.4h1.15m-12.1 0.3h1.15m20.5 0.3h1.15m-19.2 1h1.15m-8.6 0.2h1.15m1.9 -0h1.15m27.1 -0h1.15m-13.5 0.1h1.15m11.4 0.5h1.15m-17.2 0.2h1.15m0.6 0.6h1.15m7.6 0.1h1.15m3.6 -0h1.15m-0.8 0.1h1.15m-14.2 0.3h1.15m0.1 0.4h1.15m8.2 -0h1.15m-7.9 0.3h1.15m-16.7 0.1h1.15m-0.9 -0h1.15m-0.7 -0h1.15m19.5 0.7h1.15m-21.9 0.1h1.15m-3.1 0.6h1.15m8.1 -0h1.15m0.5 -0h1.15m23.3 0.2h1.15m-0.7 -0h1.15m-18 0.4h1.15m10.2 0.6h1.15m-6 0.1h1.15m-1.3 0.1h1.15m-8.9 0.1h1.15m0.6 -0h1.15m8.2 0.1h1.15m-13.7 0.2h1.15m-0.4 0.1h1.15m-12 0.3h1.15m8.8 0.1h1.15m-8.4 0.1h1.15m-1.5 0.3h1.15m19.6 -0h1.15m-25 0.2h1.15m7.9 0.4h1.15m4.8 1.1h1.15m2.7 -0h1.15m-13 0.6h1.15m-4.5 0.3h1.15m13.5 0.1h1.15m-19.1 0.1h1.15m6.3 0.6h1.15m-0.5 -0h1.15m22.6 0.1h1.15m-12.5 0.1h1.15m3.3 0.3h1.15m-1.4 0.5h1.15m-30.1 0.4h1.15m19.4 0.2h1.15m11.6 0.1h1.15m-26 0.9h1.15m20.6 0.6h1.15m-12.2 0.3h1.15m-16.7 0.1h1.15m1 0.4h1.15m-5.4 0.8h1.15m20.4 0.1h1.15m9.2 0.4h1.15m-31.4 0.2h1.15m17.3 -0h1.15m2 0.2h1.15m-15.9 0.8h1.15m18.9 0.2h1.15m0.8 0.4h1.15m-9.4 0.5h1.15m11.8 -0h1.15m-16.3 1.2h1.15m12.2 -0h1.15m-26.5 0.4h1.15m-2.5 0.9h1.15m2.1 0.1h1.15m1.3 -0h1.15m7.3 0.2h1.15m-20 0.4h1.15m69.1 -0h1.15m-52.7 0.1h1.15m13.4 0.2h1.15m-16.2 0.6h1.15m40.2 0.2h1.15m-55.4 0.4h1.15m9.7 0.1h1.15m43.8 0.2h1.15m0.5 0.1h1.15m-4.1 0.1h1.15m0.5 -0h1.15m3.8 -0h1.15m-45.2 0.1h1.15m49.8 0.2h1.15m-44.7 0.1h1.15m29.2 0.2h1.15m-47.8 0.1h1.15m2.4 -0h1.15m49.6 0.4h1.15m-57.8 0.1h1.15m14.1 -0h1.15m40.1 -0h1.15m-50 0.3h1.15m0.9 -0h1.15m-16.2 0.2h1.15m17.4 0.1h1.15m40.8 0.4h1.15m3 -0h1.15m-4.9 0.4h1.15m-5.1 0.7h1.15m-41.4 0.3h1.15m46.3 -0h1.15m-53 0.5h1.15m-8.4 0.2h1.15m56.3 0.3h1.15m-10.4 0.8h1.15m-51.2 0.1h1.15m54.2 0.2h1.15m3.2 -0h1.15m-49 0.2h1.15m47.5 0.1h1.15m-9 0.3h1.15m4.6 -0h1.15m-1 -0h1.15m-9.3 0.4h1.15m0.9 0.3h1.15m-43.8 0.2h1.15m-5.4 0.5h1.15m58.5 0.5h1.15m-25.7 0.1h1.15m6.3 0.4h1.15m4.5 -0h1.15m6 -0h1.15m-61.1 0.1h1.15m37.9 0.1h1.15m4.8 -0h1.15m-43.7 0.4h1.15m30.3 0.3h1.15m-4.7 0.3h1.15m18.3 0.1h1.15m11.6 -0h1.15m-26.8 0.2h1.15m-37.7 0.4h1.15m37.7 -0h1.15m1.3 -0h1.15m9.8 0.4h1.15m1.4 0.3h1.15m-22.3 0.1h1.15m22.7 -0h1.15m-18.5 0.4h1.15m4.5 -0h1.15m-5.9 0.2h1.15m-44.3 0.1h1.15m-0.2 -0h1.15m54.8 0.2h1.15m-18.2 0.2h1.15m-2.4 0.1h1.15m23 0.1h1.15m-22.6 0.7h1.15m-37.9 0.3h1.15m43.3 0.2h1.15m8.3 -0h1.15m-26.7 0.1h1.15m25.1 -0h1.15m-28.9 0.3h1.15m30.1 0.1h1.15m-61.7 0.5h1.15m2.1 0.3h1.15m39.4 -0h1.15m-0.6 0.1h1.15m14 0.9h1.15m-15 0.6h1.15m5.8 0.1h1.15m-49.2 0.1h1.15m44.8 0.4h1.15m-52.3 0.1h1.15m55.1 0.1h1.15m-7.3 0.4h1.15m9 -0h1.15m-5.8 0.7h1.15m-1.9 0.8h1.15m-1.1 0.4h1.15"/>
<path stroke="#E41A1C" stroke-width="1.15" fill="none" d="M141.8 205.5h1.15m1.5 3.2h1.15m-0.8 1.3h1.15m1.2 1.4h1.15m-21.3 0.1h1.15m16.2 0h1.15m-18.9 0.2h1.15m16.3 0.2h1.15m-19.1 0.1h1.15m17.5 0.5h1.15m-21.3 0.1h1.15m-0.8 0.3h1.15m-1.6 0.6h1.15m3.2 0.9h1.15m-4 0.4h1.15m-2 1.1h1.15m52.2 2h1.15m-4.2 0.6h1.15m-1.9 0.4h1.15m-3.4 0.5h1.15m-1.2 0.1h1.15m2 0.7h1.15m-2.3 0.9h1.15m2.9 0.5h1.15m-8.8 0.7h1.15m2.2 0.2h1.15m5.1 0h1.15m-0.8 0.8h1.15m-4.7 0.6h1.15m-33.3 0.8h1.15m32.1 0.6h1.15m-43 0.7h1.15m-0.9 0.8h1.15m6.4 0h1.15m-8.9 0.2h1.15m-22.7 0.1h1.15m56.4 0.1h1.15m-32.9 0.1h1.15m30.9 0h1.15m0.9 0.1h1.15m18 0h1.15m-81.4 0.2h1.15m3.4 0h1.15m52.1 0h1.15m20.8 0.1h1.15m-81.9 0.1h1.15m8.3 0h1.15m19.2 0.1h1.15m-22.7 0.2h1.15m61 0h1.15m-73 0.2h1.15m6.9 0.3h1.15m23.6 0.3h1.15m-30.3 0.1h1.15m6.7 0.4h1.15m-7.5 0.1h1.15m4.8 0.1h1.15m-13.2 0.1h1.15m2.4 0h1.15m8 0h1.15m72.1 0h1.15m-50.3 0.1h1.15m-3.8 0.6h1.15m-24 0.2h1.15m26.1 0h1.15m-0.3 0h1.15m21.9 0.1h1.15m-63.7 0.3h1.15m11.7 0.4h1.15m-10.5 0.1h1.15m74.3 0h1.15m9.7 0h1.15m-10 0.4h1.15m-78.2 0.1h1.15m73.6 0h1.15m-74.5 0.2h1.15m67.2 0.4h1.15m-36.6 0.2h1.15m-37.6 0.1h1.15m57 0.2h1.15m17.3 0h1.15m-18.5 0.1h1.15m-61.1 0.1h1.15m79.7 0.1h1.15m-83.4 0.3h1.15m89.7 0.2h1.15m-22.2 0.1h1.15m3.9 0h1.15m-37.5 0.2h1.15m30.4 0h1.15m12.7 0.4h1.15m-14.4 0.3h1.15m-11.1 0.5h1.15m20.2 0h1.15m-14.2 0.4h1.15m-31.5 0.2h1.15m31.4 0.1h1.15m11.3 0h1.15m-43.6 0.2h1.15m42.7 0.1h1.15m-23.4 0.3h1.15m-22.7 0.2h1.15m26.9 0h1.15m-3.3 0.7h1.15m10.5 0.3h1.15m5.8 0h1.15m-0 0.1h1.15m-25.6 0.2h1.15m18.2 1.5h1.15m-18 0.3h1.15m10.5 0.6h1.15m0.8 0.3h1.15m3.3 1.1h1.15m5.2 1.5h1.15m-9.2 1.2h1.15m-0.7 1h1.15m-108 1.4h1.15m-9.1 0.9h1.15m9 0h1.15m-3.4 0.5h1.15m-2.8 0.7h1.15m82.9 0.4h1.15m-87.7 0.1h1.15m92.9 1.7h1.15m-94.7 0.7h1.15m3.4 0.1h1.15m-0.8 0h1.15m7.7 0.3h1.15m-11.2 0.1h1.15m49.2 0.1h1.15m30.9 0.2h1.15m-94.4 0.1h1.15m3.6 0.2h1.15m-6.6 0.3h1.15m93.5 0.1h1.15m-74.2 0.1h1.15m-16.3 0.1h1.15m-3.3 0.2h1.15m12.2 0h1.15m85.6 0h1.15m-11 0.4h1.15m-33.2 0.2h1.15m33.7 0.1h1.15m-91.9 0.2h1.15m13.2 0.5h1.15m34.5 0h1.15m-41.9 0.2h1.15m83.1 0h1.15m-82.8 0.2h1.15m-13.3 0.2h1.15m9.7 0h1.15m39.8 0h1.15m-35.8 0.3h1.15m67.3 0h1.15m-78.2 0.1h1.15m75.7 0h1.15m3.6 0h1.15m1.5 0.2h1.15m-101 0.1h1.15m19.9 0h1.15m-18.2 0.2h1.15m12.3 0h1.15m-18.1 0.2h1.15m5.5 0.1h1.15m8 0.2h1.15m29.1 0.1h1.15m20.9 0h1.15m5 0h1.15m-75.2 0.3h1.15m67.4 0.1h1.15m3.6 0h1.15m-14.7 0.1h1.15m37.6 0h1.15m-98.8 0.2h1.15m5.1 0h1.15m88.5 0.1h1.15m-29.7 0.2h1.15m-60.4 0.3h1.15m55.1 0.2h1.15m-67.8 0.4h1.15m4 0.2h1.15m70.9 0.3h1.15m25.8 0h1.15m-95.8 0.1h1.15m14.7 0.2h1.15m0.7 0h1.15m-10 0.2h1.15m35.8 0h1.15m-54.9 0.1h1.15m18.8 0.1h1.15m79.7 0h1.15m-83 0.4h1.15m53.6 0.2h1.15m-59.2 0.1h1.15m10.4 0.3h1.15m41.3 0.2h1.15m-65 0.1h1.15m-2.3 0.1h1.15m11.6 0.2h1.15m79.1 0.1h1.15m7.1 0h1.15m-99.5 0.1h1.15m49.9 0h1.15m29.7 0.2h1.15m-84.4 0.2h1.15m-7.4 0.3h1.15m105.3 0.3h1.15m-102.7 0.1h1.15m96.1 0.4h1.15m-38.7 0.3h1.15m-63.4 0.1h1.15m0 0h1.15m97.6 0h1.15m-10 0.3h1.15m9.6 0.1h1.15m-95.2 0.1h1.15m47.3 0h1.15m43.7 0h1.15m-38.3 0.1h1.15m-45.1 0.2h1.15m-13 0.1h1.15m92.8 0h1.15m-15.5 0.1h1.15m-79.4 0.1h1.15m-4.2 0.1h1.15m91.1 0h1.15m-24.8 0.2h1.15m-64.6 0.3h1.15m81 0.1h1.15m-88.9 0.1h1.15m-1.1 0.5h1.15m-11.9 0.1h1.15m116.2 0.2h1.15m-17.4 0.1h1.15m-75.3 0.2h1.15m77.5 -0h1.15m-47.4 0.4h1.15m21.7 -0h1.15m-58.8 0.2h1.15m49.2 -0h1.15m-68.8 0.1h1.15m108.9 0.3h1.15m-90.9 0.1h1.15m-7 0.1h1.15m-4.8 0.3h1.15m45.8 -0h1.15m33.2 0.3h1.15m-72.9 0.4h1.15m45.1 0.3h1.15m-69.1 0.3h1.15m51.7 0.2h1.15m-52.8 0.1h1.15m70.7 0.2h1.15m0.7 0.2h1.15m2.2 -0h1.15m-23.8 0.3h1.15m11.6 0.1h1.15m-13.7 0.2h1.15m-32.7 0.2h1.15m27.7 0.1h1.15m19.8 0.3h1.15m1 0.1h1.15m-68.1 0.7h1.15m44.2 -0h1.15m-58.5 0.1h1.15m26.1 0.1h1.15m43.9 -0h1.15m-48.5 0.2h1.15m1.7 -0h1.15m-5 0.3h1.15m-3.6 0.3h1.15m25.7 -0h1.15m-43.4 0.1h1.15m55.8 0.2h1.15m11.4 -0h1.15m-49.7 0.1h1.15m86.2 0.2h1.15m-100 0.1h1.15m31.2 -0h1.15m-34.1 0.2h1.15m-5.5 0.2h1.15m-9.6 0.1h1.15m-6.2 0.1h1.15m-0.9 0.1h1.15m66.9 -0h1.15m-53.8 0.1h1.15m-1 -0h1.15m54 0.1h1.15m-51.8 0.2h1.15m16 -0h1.15m87.1 0.1h1.15m-111.9 0.2h1.15m105 0.1h1.15m-44.8 0.1h1.15m48.3 -0h1.15m-103.5 0.1h1.15m34.6 -0h1.15m-12.3 0.1h1.15m-33.7 0.2h1.15m115.4 -0h1.15m-80.7 0.1h1.15m62.8 -0h1.15m-44.8 0.1h1.15m-20.3 0.1h1.15m15.6 -0h1.15m45.6 -0h1.15m17.9 -0h1.15m-26 0.1h1.15m-0.1 -0h1.15m22.1 -0h1.15m-118 0.1h1.15m0.6 -0h1.15m93 -0h1.15m16.8 -0h1.15m-136.9 0.1h1.15m76 -0h1.15m-56 0.1h1.15m107.7 -0h1.15m-100.2 0.2h1.15m99.4 -0h1.15m-91 0.1h1.15m-43.8 0.1h1.15m48.8 -0h1.15m6.2 0.2h1.15m11.6 -0h1.15m66.6 -0h1.15m-16.2 0.1h1.15m13.5 -0h1.15m-78 0.2h1.15m-43.3 0.1h1.15m52 -0h1.15m-29.3 0.1h1.15m91.7 -0h1.15m-76.8 0.1h1.15m63.2 -0h1.15m6.4 -0h1.15m-73.8 0.1h1.15m0.4 -0h1.15m59.7 -0h1.15m-88.5 0.2h1.15m81.8 -0h1.15m19.4 -0h1.15m-64.2 0.2h1.15m39.7 -0h1.15m-85.2 0.1h1.15m-8.3 0.2h1.15m105.2 -0h1.15m-1.2 -0h1.15m-20.3 0.1h1.15m7 -0h1.15m10.5 -0h1.15m-19.6 0.3h1.15m-0.7 -0h1.15m5.1 0.1h1.15m1.2 -0h1.15m-104.7 0.1h1.15m111.7 0.1h1.15m-54.8 0.1h1.15m44.7 0.1h1.15m-49.4 0.1h1.15m44.8 -0h1.15m-79.7 0.1h1.15m111.6 -0h1.15m-159.2 0.3h1.15m117 -0h1.15m16.8 -0h1.15m-59.3 0.1h1.15m62.2 -0h1.15m-28.3 0.1h1.15m-105.3 0.1h1.15m36.4 -0h1.15m3 -0h1.15m73.9 -0h1.15m12.6 -0h1.15m-110.1 0.1h1.15m123.9 -0h1.15m-137.6 0.1h1.15m117 -0h1.15m-26.5 0.2h1.15m-115.2 0.1h1.15m142.2 0.1h1.15m-10.1 0.1h1.15m-102.7 0.1h1.15m41.3 -0h1.15m44.6 -0h1.15m3.3 -0h1.15m14.2 -0h1.15m-22.9 0.1h1.15m3.5 -0h1.15m5.9 -0h1.15m-131.5 0.1h1.15m71.2 0.1h1.15m83.5 -0h1.15m-140.6 0.3h1.15m46.5 -0h1.15m74.5 -0h1.15m-123.8 0.1h1.15m102.4 -0h1.15m-101.8 0.2h1.15m96.6 -0h1.15m39.1 -0h1.15m-160.1 0.2h1.15m13 0.1h1.15m14.5 0.3h1.15m101.6 0.2h1.15m-11.4 0.2h1.15m-98.6 0.1h1.15m122.2 0.1h1.15m-145.3 0.1h1.15m41.6 -0h1.15m89.1 -0h1.15m-64.1 0.2h1.15m-73.1 0.1h1.15m110.2 -0h1.15m-93.2 0.2h1.15m8.7 0.1h1.15m32.2 -0h1.15m53.1 -0h1.15m-66 0.1h1.15m91.2 -0h1.15m-125.4 0.2h1.15m90.1 -0h1.15m-1.4 0.1h1.15m31.7 -0h1.15m-21.8 0.1h1.15m3.7 0.1h1.15m-118.2 0.2h1.15m55.8 0.1h1.15m-7.6 0.1h1.15m65.2 -0h1.15m-122.5 0.1h1.15m115.9 -0h1.15m-81.7 0.1h1.15m84.1 -0h1.15m-120 0.1h1.15m20.3 -0h1.15m-32.7 0.1h1.15m17.7 -0h1.15m9.5 -0h1.15m2.8 -0h1.15m103.5 -0h1.15m-48.1 0.1h1.15m23.8 -0h1.15m30.8 -0h1.15m-129.7 0.2h1.15m91.4 -0h1.15m-100 0.2h1.15m-3.5 0.1h1.15m114.4 -0h1.15m-119.5 0.3h1.15m98.9 0.2h1.15m39.2 -0h1.15m-26.7 0.1h1.15m-12.4 0.1h1.15m-77.5 0.1h1.15m97.6 -0h1.15m-123.7 0.1h1.15m18.7 -0h1.15m97 0.2h1.15m-119.5 0.3h1.15m5.1 -0h1.15m3.5 -0h1.15m10.4 -0h1.15m96.1 0.1h1.15m-126.7 0.1h1.15m31.2 -0h1.15m94 -0h1.15m-44.3 0.4h1.15m33.2 -0h1.15m-98.2 0.1h1.15m87.7 -0h1.15m9.1 -0h1.15m-126.3 0.2h1.15m118.6 -0h1.15m-88.3 0.1h1.15m-7 0.1h1.15m-14 0.2h1.15m94 0.1h1.15m-44.8 0.1h1.15m61.2 -0h1.15m-124 0.1h1.15m59 0.1h1.15m-25.3 0.1h1.15m77 -0h1.15m3.9 -0h1.15m5.1 -0h1.15m-15.2 0.1h1.15m-0.4 0.1h1.15m-25.3 0.1h1.15m33.2 -0h1.15m-117 0.1h1.15m105.6 0.1h1.15m-105.1 0.2h1.15m100.1 0.2h1.15m2.4 0.1h1.15m-25 0.2h1.15m-30.7 0.2h1.15m-68.8 0.4h1.15m122.9 0.4h1.15m2.7 -0h1.15m-11.2 0.2h1.15m-107.2 0.2h1.15m18.5 -0h1.15m98.3 -0h1.15m-36 0.2h1.15m19.1 0.1h1.15m2.9 0.2h1.15m-70.1 0.1h1.15m-39.1 0.3h1.15m41.5 0.1h1.15m64.5 0.1h1.15m-2.7 0.1h1.15m-23.5 0.1h1.15m-42.8 0.4h1.15m-58.5 0.1h1.15m121.2 -0h1.15m-107.9 0.2h1.15m114.6 0.2h1.15m-103 0.1h1.15m-30.7 0.3h1.15m68.8 -0h1.15m26.7 0.2h1.15m1.2 0.1h1.15m-73.5 0.1h1.15m99.2 -0h1.15m-117 0.2h1.15m24.6 0.2h1.15m60.4 -0h1.15m-75 0.3h1.15m26.8 -0h1.15m78.1 -0h1.15m-108.2 0.1h1.15m27.6 -0h1.15m70.6 -0h1.15m-104.2 0.1h1.15m-2.4 0.1h1.15m13.1 -0h1.15m-5 0.2h1.15m7.1 0.2h1.15m16.6 -0h1.15m-4.7 0.1h1.15m-4.3 0.1h1.15m-27.6 0.1h1.15m-0.2 -0h1.15m-6.9 0.1h1.15m19.1 0.1h1.15m-26.3 0.1h1.15m18.1 0.1h1.15m5.2 0.1h1.15m-42 0.1h1.15m15.7 -0h1.15m80.7 0.2h1.15m-66.8 0.5h1.15m-17.2 0.3h1.15m53.1 -0h1.15m32 -0h1.15m-69.6 0.3h1.15m112.4 -0h1.15m-142.6 0.4h1.15m19.4 -0h1.15m121.9 0.4h1.15m-15.5 0.3h1.15m-125.6 0.3h1.15m5.5 0.3h1.15m84.6 -0h1.15m-74.7 0.1h1.15m116.1 0.2h1.15m-128.4 0.1h1.15m121.6 0.4h1.15m-105.7 0.1h1.15m-29.3 0.1h1.15m93 -0h1.15m31.8 -0h1.15m-119.7 0.3h1.15m-8.8 0.1h1.15m138.8 0.1h1.15m-120 0.1h1.15m102.8 0.1h1.15m-94 0.1h1.15m97.8 -0h1.15m2.7 -0h1.15m-76.8 0.1h1.15m73.2 -0h1.15m-136.8 0.1h1.15m128.9 0.1h1.15m6.4 0.1h1.15m-9.7 0.2h1.15m4.8 -0h1.15m5.7 0.1h1.15m-10 0.1h1.15m-0.2 0.1h1.15m-128.5 0.1h1.15m26.8 -0h1.15m97.1 -0h1.15m5.2 -0h1.15m-6.3 0.1h1.15m6.4 -0h1.15m-123.4 0.1h1.15m100.9 -0h1.15m-19.9 0.6h1.15m25.9 0.2h1.15m4.9 -0h1.15m1.4 0.1h1.15m-31.1 0.2h1.15m18.4 -0h1.15m-13.5 0.1h1.15m-21.5 0.2h1.15m-96.7 0.1h1.15m135.8 -0h1.15m0.8 0.1h1.15m-34.3 0.1h1.15m-90.6 0.1h1.15m11.6 -0h1.15m-31.2 0.1h1.15m20.9 0.1h1.15m0.8 -0h1.15m44.9 -0h1.15m51.2 -0h1.15m9.8 0.2h1.15m-1 -0h1.15m0.6 -0h1.15m-102.1 0.2h1.15m61.8 0.1h1.15m9.3 -0h1.15m-104.9 0.1h1.15m29.4 -0h1.15m74.2 -0h1.15m-8 0.1h1.15m34.2 0.1h1.15m-4.5 0.1h1.15m1.6 -0h1.15m-0.4 -0h1.15m-34.1 0.1h1.15m37 -0h1.15m-133.3 0.1h1.15m55.5 -0h1.15m-65.3 0.1h1.15m107.2 -0h1.15m-97.6 0.2h1.15m48.9 -0h1.15m71.9 0.1h1.15m-9.1 0.3h1.15m-59.6 0.1h1.15m-66.8 0.1h1.15m126.3 -0h1.15m3.4 0.1h1.15m-26 0.1h1.15m19.1 -0h1.15m-103.8 0.1h1.15m70.6 -0h1.15m31.6 -0h1.15m-0.4 -0h1.15m-118 0.1h1.15m2.2 -0h1.15m44.2 0.1h1.15m62.5 -0h1.15m1.5 0.2h1.15m1.7 -0h1.15m-114.8 0.4h1.15m-9.9 0.1h1.15m101.7 0.1h1.15m19.1 -0h1.15m-125.5 0.2h1.15m44.8 -0h1.15m0.3 -0h1.15m5.6 -0h1.15m5.8 0.1h1.15m48.8 -0h1.15m-26.3 0.1h1.15m5.2 0.2h1.15m-30.3 0.3h1.15m-56.7 0.1h1.15m79.5 -0h1.15m33.4 -0h1.15m-78.1 0.1h1.15m-55.5 0.1h1.15m0.9 -0h1.15m97.9 -0h1.15m-42.2 0.1h1.15m44.4 -0h1.15m-87.1 0.1h1.15m2.3 -0h1.15m39.4 -0h1.15m35.3 -0h1.15m-32.1 0.1h1.15m49.7 0.1h1.15m-109.6 0.4h1.15m-5.1 0.1h1.15m0.2 0.3h1.15m44 -0h1.15m0.6 0.2h1.15m3.7 -0h1.15m-0.6 -0h1.15m40.8 0.1h1.15m6.9 0.1h1.15m-0.6 -0h1.15m-5.7 0.3h1.15m6 0.1h1.15m0.5 0.2h1.15m-16 0.1h1.15m-39.1 0.1h1.15m41.2 -0h1.15m2.6 -0h1.15m9.1 -0h1.15m-63.6 0.1h1.15m52.8 -0h1.15m-4.7 0.1h1.15m-48.4 0.2h1.15m-51.9 0.1h1.15m-8.1 0.3h1.15m2 0.1h1.15m46.6 -0h1.15m49.3 -0h1.15m-99.7 0.2h1.15m4.3 -0h1.15m105.8 0.1h1.15m0.5 -0h1.15m-107.1 0.4h1.15m40.6 -0h1.15m7.9 -0h1.15m32.3 -0h1.15m15.4 0.1h1.15m-22.4 0.1h1.15m-2 0.1h1.15m-26.1 0.2h1.15m-53.1 0.1h1.15m80.3 -0h1.15m8.7 0.4h1.15m5 0.4h1.15m-107.4 0.1h1.15m87.8 0.2h1.15m-42.6 0.1h1.15m-8.6 0.2h1.15m-43.6 0.2h1.15m11.4 0.1h1.15m46 0.1h1.15m28.7 0.1h1.15m-92.6 0.2h1.15m112.5 -0h1.15m-109.1 0.1h1.15m99.8 -0h1.15m-96.3 0.1h1.15m3 -0h1.15m77.5 -0h1.15m-28.1 0.1h1.15m24.9 0.1h1.15m1.1 0.1h1.15m-48 0.1h1.15m11.5 -0h1.15m37.6 -0h1.15m-53.4 0.2h1.15m50.1 0.1h1.15m-98.6 0.1h1.15m-0.9 0.1h1.15m88.1 0.1h1.15m-6.1 0.1h1.15m0.4 -0h1.15m24.4 -0h1.15m-50.2 0.1h1.15m-54.2 0.4h1.15m44 0.1h1.15m57.6 -0h1.15m-18.5 0.1h1.15m13.8 0.1h1.15m-112.7 0.1h1.15m92.1 -0h1.15m-26.6 0.1h1.15m24.4 -0h1.15m-8.2 0.2h1.15m2.2 0.2h1.15m-52.8 0.2h1.15m60.4 0.2h1.15m-59.4 0.1h1.15m10.7 0.1h1.15m43.1 -0h1.15m1.1 -0h1.15m-32.8 0.1h1.15m25.5 -0h1.15m12.2 -0h1.15m-98.7 0.1h1.15m82.9 -0h1.15m17.6 -0h1.15m-5.6 0.1h1.15m-27 0.1h1.15m16.6 0.2h1.15m-103.7 0.2h1.15m92.7 -0h1.15m-44.5 0.1h1.15m57 -0h1.15m-77.4 0.2h1.15m71.2 0.1h1.15m-53.4 0.1h1.15m8 -0h1.15m28.9 0.2h1.15m8.3 -0h1.15m3.2 0.1h1.15m-65.9 0.1h1.15m19.4 0.1h1.15m33.4 0.1h1.15m2.9 -0h1.15m10.9 -0h1.15m-109.2 0.2h1.15m32.3 -0h1.15m56.3 0.1h1.15m14 -0h1.15m0.5 -0h1.15m-52.5 0.2h1.15m29 -0h1.15m4.3 -0h1.15m1 0.2h1.15m11.2 -0h1.15m-99.7 0.1h1.15m82.2 0.1h1.15m-92 0.2h1.15m53.9 -0h1.15m-26.2 0.1h1.15m33.5 -0h1.15m-66.3 0.2h1.15m57.1 -0h1.15m37.5 -0h1.15m22.3 0.1h1.15m-36.2 0.1h1.15m-55.8 0.1h1.15m-25.8 0.2h1.15m94.8 -0h1.15m-96.6 0.1h1.15m43.6 -0h1.15m7.2 -0h1.15m39.9 -0h1.15m7.5 -0h1.15m-60.9 0.1h1.15m37 -0h1.15m-0.3 0.2h1.15m-4.7 0.1h1.15m-30.6 0.1h1.15m0.6 0.1h1.15m57.1 0.1h1.15m-61.7 0.2h1.15m32.5 0.1h1.15m-32.2 0.3h1.15m48.8 -0h1.15m-64.2 0.1h1.15m74.1 0.4h1.15m-23.5 0.1h1.15m-5.9 0.1h1.15m6.5 0.1h1.15m6 -0h1.15m9.3 0.1h1.15m-71.4 0.2h1.15m37.3 -0h1.15m29.7 0.2h1.15m-62.6 0.1h1.15m57.9 0.1h1.15m-64.5 0.2h1.15m-0.2 -0h1.15m53.5 -0h1.15m2.9 0.1h1.15m-61.9 0.1h1.15m46.1 -0h1.15m0.9 -0h1.15m16.6 0.1h1.15m-2.3 0.3h1.15m-24.8 0.1h1.15m22.1 0.2h1.15m-63 0.2h1.15m-3.9 0.4h1.15m44.1 0.2h1.15m9.9 -0h1.15m-50.9 0.1h1.15m-6.9 0.2h1.15m52.4 0.4h1.15m-7.8 0.1h1.15m15.3 -0h1.15m-22.4 0.1h1.15m7.2 0.8h1.15m-2.2 0.3h1.15m10.5 0.1h1.15m-2.6 0.3h1.15m-17.7 0.1h1.15m3.2 0.4h1.15m11 0.1h1.15m-3.8 0.2h1.15m-1.2 0.1h1.15m2.4 0.3h1.15m-4.2 0.2h1.15m-12.7 0.1h1.15m8.3 0.1h1.15m-13.2 0.3h1.15m2.2 1h1.15m9.8 0.6h1.15m-6.3 0.9h1.15m-4.2 0.1h1.15m-0.4 0.3h1.15m-24.6 4.2h1.15m6.9 5.5h1.15m-17.1 2.1h1.15m4 -0h1.15m-6.8 0.6h1.15m-3.1 0.2h1.15m1.4 0.2h1.15m7.8 -0h1.15m-16.7 1.1h1.15m1.5 0.1h1.15m-0.3 -0h1.15m9.2 1h1.15m-6.5 0.2h1.15m7.7 0.1h1.15m-8.1 0.4h1.15m-6.1 0.5h1.15m4.7 -0h1.15m1.2 -0h1.15m-0.8 0.1h1.15m-12.7 0.3h1.15m0.5 -0h1.15m1.8 0.3h1.15m5.4 0.4h1.15m-11.1 1.1h1.15m1.5 -0h1.15"/>
<path stroke="#E31A1C" stroke-width="1.15" fill="none" d="M81.1 248.4h1.15m0.2 0.3h1.15m-6.7 2.5h1.15m6.8 0.2h1.15m6.2 0.4h1.15m-19.8 2.9h1.15m0.5 1h1.15m22.6 0.1h1.15m-2.8 0.3h1.15m-15.6 0.2h1.15m4.5 0.6h1.15m10.8 0.8h1.15m-25.1 0.1h1.15m5.5 -0h1.15m4.1 0.4h1.15m2.6 -0h1.15m6.5 1h1.15m-28.5 0.9h1.15m-1.9 0.4h1.15m23.3 0.3h1.15m-25.6 0.4h1.15m12.9 0.6h1.15m-1.3 0.1h1.15m4 0.4h1.15m1.4 0.7h1.15m-0.1 0h1.15m-16.1 1.4h1.15m-3.7 0.1h1.15m0.4 0.1h1.15m9.9 0.3h1.15m-3.6 0.3h1.15m0.5 0.1h1.15m6.7 -0h1.15m1 3h1.15m0.3 1h1.15m-7.6 0.7h1.15m-4.4 0.9h1.15m2.3 0.1h1.15m-2.9 0.1h1.15m-13.9 0.9h1.15m8.8 0.3h1.15m9.7 1.1h1.15m-19 0.5h1.15m-8.3 0.2h1.15m6.2 0.9h1.15m5.7 -0h1.15m8.6 0.7h1.15m0.3 0.7h1.15m-10.6 0.3h1.15m-1.1 0.2h1.15m-4.2 0.2h1.15m4.3 0.3h1.15m-4.5 0.5h1.15m2.6 0.3h1.15m-24.7 0.7h1.15m-1.3 0.1h1.15m4.2 -0h1.15m23.7 0.1h1.15m-25.6 1.7h1.15m9.3 0.1h1.15m5.5 0.4h1.15m-22.5 0.3h1.15m28.2 0.5h1.15m-12.9 0.1h1.15m-10.8 0.5h1.15m-5.2 1.6h1.15m17.9 0.5h1.15m6 0.1h1.15m-16.9 0.5h1.15m10.9 -0h1.15m-12.5 0.2h1.15m-1.9 0.5h1.15m11 -0h1.15m0.5 1h1.15m3.9 0.1h1.15m-2.6 0.1h1.15m-24.5 0.1h1.15m-6.2 0.5h1.15m3.2 0.1h1.15m-5 0.1h1.15m26.8 0.3h1.15m-30.6 0.3h1.15m34.7 1.5h1.15m-15.9 0.1h1.15m2.1 0.7h1.15m7.4 -0h1.15m3.3 1.4h1.15m-37.9 0.5h1.15m4.1 0.9h1.15m0.2 0.3h1.15m-2.2 0.1h1.15m19.7 -0h1.15m6.2 -0h1.15m-35.4 0.4h1.15m18.3 0.4h1.15m-15 0.7h1.15m12.4 1.2h1.15m16.9 0.3h1.15m-14.2 0.1h1.15m13.3 0.3h1.15m-21.2 0.3h1.15m16.4 0.5h1.15m-22.3 1.3h1.15m9.8 -0h1.15m-27.8 0.4h1.15m10.5 -0h1.15m6.5 0.2h1.15m-12.9 0.2h1.15m13.8 0.7h1.15m9.4 -0h1.15m-22.2 0.7h1.15m0 0.2h1.15m-0.2 0.1h1.15m49.3 1.3h1.15m-37.6 0.1h1.15m-4.6 0.4h1.15m-10.8 0.9h1.15m1.5 1.1h1.15m52.8 0.6h1.15m-10.1 0.9h1.15m-50.9 0.2h1.15m-3.6 0.1h1.15m51.8 -0h1.15m-39.4 0.1h1.15m41.2 0.1h1.15m5.2 0.1h1.15m-0.9 0.3h1.15m-53.3 0.5h1.15m50.5 0.5h1.15m-55 0.6h1.15m43 0.1h1.15m1.3 -0h1.15m-58.1 1.7h1.15m10.1 0.1h1.15m-9.6 0.1h1.15m55.8 0.4h1.15m-47.3 1.1h1.15m-0.8 0.3h1.15m42.4 0.5h1.15m5.8 0.1h1.15m-59.4 0.1h1.15m59.5 0.3h1.15m-6.3 0.5h1.15m-0.9 1h1.15m-23.6 0.6h1.15m-4.3 0.2h1.15m0.7 0.7h1.15m-33.3 0.1h1.15m3.9 0.3h1.15m-0.1 0.7h1.15m52.6 1h1.15m-31.1 0.6h1.15m23 0.1h1.15m-54.1 0.5h1.15m-1.3 0.4h1.15m52.3 -0h1.15m-21.9 0.1h1.15m25 0.5h1.15m-11.6 0.5h1.15m2.1 1h1.15m5.5 0.2h1.15m-12.3 0.4h1.15m-49 0.2h1.15m1.9 1.3h1.15m46.4 0.7h1.15"/>
<path stroke="#8DA0CB" stroke-width="1.15" fill="none" d="M143.3 205.8h1.15m2.6 2.5h1.15m-3.5 0.1h1.15m0 0.3h1.15m-1.5 0.3h1.15m-2.7 0.2h1.15m-2 0.4h1.15m1.3 0.3h1.15m-3.3 0.7h1.15m-1.3 0.7h1.15m-17 1.2h1.15m18.4 0.4h1.15m1.4 0.6h1.15m-0.1 0.1h1.15m-2.4 0.8h1.15m19.6 4.1h1.15m5.8 0.2h1.15m-2.2 0.2h1.15m0.8 1h1.15m-0.4 0.5h1.15m-8.6 0.1h1.15m0.2 0h1.15m1.7 0h1.15m-0.4 0.7h1.15m-2 0.2h1.15m-2.8 1.4h1.15m-0.2 0.1h1.15m-1.6 0.3h1.15m-3.4 0.2h1.15m-39.1 0.2h1.15m45.5 0.2h1.15m-8.8 0.9h1.15m-30 0.1h1.15m32.8 0.1h1.15m-1.8 0.3h1.15m-33.9 0.1h1.15m28.7 0.2h1.15m-24.9 0.1h1.15m21.7 0.1h1.15m4.9 0h1.15m-3.5 1.4h1.15m15.9 0.1h1.15m-48.2 0.1h1.15m29.5 0.1h1.15m0.5 0.2h1.15m-32.1 0.1h1.15m56.9 0.6h1.15m-25.7 0.1h1.15m-37.7 0.1h1.15m26.9 0h1.15m6.8 0h1.15m12.3 0.1h1.15m-8 0.2h1.15m-2.2 0.2h1.15m-2.5 0.1h1.15m3.2 0h1.15m-49.9 0.1h1.15m34.2 0h1.15m-0.7 0h1.15m8.3 0.2h1.15m15.7 0h1.15m-15.4 0.2h1.15m-12.2 0.1h1.15m13.2 0h1.15m-52.2 0.2h1.15m31.6 0.2h1.15m30 0h1.15m-28.6 0.2h1.15m23.3 0.5h1.15m-60.4 0.1h1.15m42.4 0h1.15m-43.4 0.4h1.15m31.8 0h1.15m8.5 0h1.15m6.1 0h1.15m3.5 0h1.15m-27.5 0.3h1.15m-33.5 0.1h1.15m37.9 0h1.15m0.3 0h1.15m17 0h1.15m4.2 0.2h1.15m-8 0.1h1.15m-19.8 0.2h1.15m4.7 0h1.15m-4.6 0.1h1.15m2.9 0h1.15m3.4 0h1.15m0.2 0.1h1.15m-45.8 0.1h1.15m39.4 0h1.15m-6.5 0.2h1.15m-7.6 0.1h1.15m-28 0.1h1.15m47.8 0h1.15m-2.3 0.1h1.15m-17.4 0.1h1.15m16.7 0h1.15m-47.7 0.2h1.15m48.6 0h1.15m-29.2 0.1h1.15m9.3 0h1.15m18 0h1.15m-28.5 0.2h1.15m23.2 0h1.15m-23.8 0.5h1.15m-26.9 0.1h1.15m-0.1 0.3h1.15m20.5 0.2h1.15m17.1 0.1h1.15m-0.9 0.2h1.15m0.8 0.5h1.15m5.5 0h1.15m-27.8 0.1h1.15m2.2 0h1.15m4 0.2h1.15m-9.6 0.1h1.15m14.2 0h1.15m-12.4 0.1h1.15m-12 0.1h1.15m5.8 0.3h1.15m15.4 0h1.15m-41.2 0.3h1.15m21.9 0h1.15m9.3 0h1.15m-8.7 0.1h1.15m16.3 0.1h1.15m-23.2 0.4h1.15m17.4 0h1.15m-6.2 0.1h1.15m2.9 0h1.15m-3.9 0.1h1.15m-7.6 0.6h1.15m12 0.4h1.15m-23.2 0.2h1.15m17.6 0h1.15m-21.1 0.1h1.15m1.4 0h1.15m-0.6 0h1.15m3.4 0h1.15m7.9 0h1.15m-1 0.3h1.15m-15.8 0.1h1.15m24.3 0h1.15m1 0.1h1.15m-14.8 0.2h1.15m2.9 0h1.15m8.1 0h1.15m-1 0h1.15m-27.5 0.1h1.15m22.4 0.3h1.15m-22.6 0.3h1.15m20.1 0.4h1.15m-6.8 0.4h1.15m6.8 0.1h1.15m-9 0.3h1.15m-5 0.5h1.15m-1.1 0.2h1.15m-0 0.2h1.15m10.3 0.1h1.15m-9.5 0.3h1.15m-1.6 0.1h1.15m6.2 0h1.15m-5.9 0.8h1.15m-0.4 0.3h1.15m1.6 0.2h1.15m-2.9 0.1h1.15m-5.1 0.3h1.15m1.3 0.6h1.15m-5.1 0.7h1.15m2.2 0.3h1.15m0.5 0h1.15m-0.8 0.1h1.15m-62 3.6h1.15m-58.1 0.4h1.15m93.5 1h1.15m-0.8 0.1h1.15m-42.5 0.8h1.15m3.1 0h1.15m33.2 0.2h1.15m-95.1 0.4h1.15m99.2 0.2h1.15m-44.4 0.2h1.15m37.7 0.3h1.15m-44 0.5h1.15m13.1 0h1.15m24.2 0h1.15m-94.9 0.1h1.15m101 0.1h1.15m-85.8 0.1h1.15m36.7 0h1.15m-57.7 0.1h1.15m56 0h1.15m5.2 0h1.15m-61.5 0.4h1.15m62.1 0h1.15m-12.1 0.3h1.15m38.2 0h1.15m-33.3 0.1h1.15m33.9 0h1.15m-24.3 0.4h1.15m0.2 0.1h1.15m-20.3 0.2h1.15m1.9 0.4h1.15m3.2 0.2h1.15m11.5 0.1h1.15m-6.9 0.1h1.15m-69 0.1h1.15m57.1 0h1.15m12.6 0.2h1.15m14.4 0.1h1.15m-18.9 0.1h1.15m-9.6 0.1h1.15m-17 0.1h1.15m2.6 0.1h1.15m25.8 0h1.15m-2.6 0.1h1.15m-9.7 0.1h1.15m30.1 0h1.15m-23.2 0.4h1.15m-32.8 0.1h1.15m28.4 0h1.15m-3.6 0.2h1.15m-18.8 0.1h1.15m-2.3 0.3h1.15m3.6 0h1.15m42.3 0.2h1.15m-29.1 0.1h1.15m0.6 0.2h1.15m27.3 0.3h1.15m-28.8 0.1h1.15m-75.5 0.1h1.15m18.9 0.1h1.15m46.3 0.1h1.15m2.3 0.1h1.15m16.6 0h1.15m-0 0h1.15m-23.2 0.1h1.15m25.9 0h1.15m-101.4 0.2h1.15m70.3 0h1.15m-0.9 0h1.15m-9.1 0.1h1.15m39.1 0h1.15m-33.2 0.1h1.15m24.1 0h1.15m-91.2 0.2h1.15m52.2 0h1.15m-51.1 0.3h1.15m67.2 0h1.15m-55.9 0.1h1.15m24.8 0h1.15m56.3 0.4h1.15m-97.5 0.1h1.15m67.5 0.1h1.15m-30.7 0.1h1.15m9.9 0h1.15m6 0.1h1.15m2.8 0.3h1.15m6.9 -0h1.15m-29.8 0.1h1.15m2.3 -0h1.15m15.5 -0h1.15m1.4 -0h1.15m-9.3 0.1h1.15m34.9 0.1h1.15m-49.2 0.2h1.15m0.9 -0h1.15m4.3 -0h1.15m9.9 0.1h1.15m-8 0.2h1.15m11.9 -0h1.15m22 -0h1.15m-41.4 0.1h1.15m5 -0h1.15m-10 0.2h1.15m8.6 0.7h1.15m46 -0h1.15m-42.8 0.2h1.15m4.7 -0h1.15m-6.7 0.1h1.15m0.4 0.2h1.15m37.8 -0h1.15m-10.1 0.1h1.15m8.1 -0h1.15m-61.3 0.5h1.15m3.3 -0h1.15m5.9 -0h1.15m9.9 -0h1.15m-0.4 0.1h1.15m-71.6 0.2h1.15m60.3 -0h1.15m-11.6 0.1h1.15m36.2 -0h1.15m-43 0.1h1.15m8.7 0.2h1.15m8.9 0.2h1.15m25.5 -0h1.15m-50.6 0.2h1.15m18.5 -0h1.15m6.1 -0h1.15m0.6 -0h1.15m-7.8 0.2h1.15m-75.4 0.1h1.15m55.8 -0h1.15m-32.8 0.1h1.15m38.3 -0h1.15m8 -0h1.15m27 0.1h1.15m-32.2 0.1h1.15m5.7 -0h1.15m22.3 -0h1.15m-101.6 0.1h1.15m52.6 -0h1.15m1.8 -0h1.15m-54.5 0.3h1.15m50.2 0.4h1.15m8.7 -0h1.15m4.4 0.2h1.15m-66.3 0.1h1.15m56.1 0.1h1.15m-51.7 0.2h1.15m61.1 -0h1.15m5.7 0.1h1.15m-8.5 0.2h1.15m-16.6 0.4h1.15m1.3 -0h1.15m-52.1 0.1h1.15m56.3 -0h1.15m26.6 0.2h1.15m-13.5 0.1h1.15m-21 0.1h1.15m-5.5 0.1h1.15m10.2 -0h1.15m30 0.6h1.15m-30.8 0.2h1.15m8.7 -0h1.15m-4.3 0.4h1.15m-25.1 0.1h1.15m11 0.2h1.15m-59.2 0.2h1.15m87.3 -0h1.15m-37.3 0.6h1.15m-45 0.4h1.15m53.6 -0h1.15m-15.6 0.1h1.15m10.1 0.2h1.15m-59.9 0.1h1.15m72.5 -0h1.15m-24.7 0.2h1.15m5.1 -0h1.15m-37 0.1h1.15m32.6 0.1h1.15m7 -0h1.15m8.3 0.2h1.15m-23.1 0.1h1.15m-31.7 0.2h1.15m39.1 -0h1.15m6.3 -0h1.15m-18.6 0.2h1.15m12.4 0.1h1.15m-15.5 0.1h1.15m6.2 0.1h1.15m-10.9 0.1h1.15m0.2 -0h1.15m-0.2 -0h1.15m70.6 -0h1.15m-65.3 0.1h1.15m-6.1 0.2h1.15m51.7 -0h1.15m-61.5 0.1h1.15m9.7 -0h1.15m14.1 0.1h1.15m-31.7 0.4h1.15m26.1 -0h1.15m-9.1 0.2h1.15m55.1 0.1h1.15m-114.8 0.1h1.15m48.7 -0h1.15m10.8 0.1h1.15m43.2 -0h1.15m-52.6 0.1h1.15m-62.8 0.1h1.15m37.1 0.1h1.15m0.9 -0h1.15m-5.2 0.1h1.15m7.2 -0h1.15m-3.9 0.1h1.15m10.2 -0h1.15m74.1 -0h1.15m-88.2 0.1h1.15m71.6 -0h1.15m-61.6 0.1h1.15m8.9 -0h1.15m-63.6 0.1h1.15m49 0.1h1.15m2.1 0.1h1.15m4.1 -0h1.15m58.2 0.1h1.15m-83.8 0.1h1.15m12.8 -0h1.15m73.2 0.1h1.15m-75.4 0.1h1.15m70.6 0.1h1.15m-15.2 0.1h1.15m-87.9 0.1h1.15m43.3 0.1h1.15m-5.4 0.1h1.15m1.6 -0h1.15m-7.8 0.1h1.15m68.3 -0h1.15m-23.7 0.2h1.15m6.5 -0h1.15m-41.9 0.1h1.15m-35.3 0.1h1.15m69.9 -0h1.15m13.1 -0h1.15m-98.3 0.1h1.15m15 0.1h1.15m11.7 0.1h1.15m-1.6 0.2h1.15m62.4 0.1h1.15m-77.4 0.1h1.15m4.7 -0h1.15m21.7 -0h1.15m33.7 -0h1.15m-41.1 0.2h1.15m-29.5 0.1h1.15m7.4 -0h1.15m23.1 -0h1.15m-45.8 0.2h1.15m23.5 -0h1.15m-2.2 0.1h1.15m21.5 -0h1.15m52.3 -0h1.15m-96.6 0.1h1.15m9.4 -0h1.15m65.2 -0h1.15m8.2 -0h1.15m-116.6 0.1h1.15m64.6 -0h1.15m-30.4 0.3h1.15m7.6 -0h1.15m65.3 -0h1.15m10.5 -0h1.15m-91.9 0.1h1.15m-16.4 0.1h1.15m15.8 -0h1.15m24.2 -0h1.15m-36.9 0.1h1.15m90.6 -0h1.15m-91.2 0.1h1.15m107.2 -0h1.15m-114.2 0.1h1.15m1.5 -0h1.15m1 0.1h1.15m16.5 -0h1.15m84.3 0.1h1.15m16 0.1h1.15m-87.1 0.1h1.15m-18.3 0.1h1.15m87.6 0.1h1.15m-27.7 0.1h1.15m23.9 -0h1.15m-114.7 0.1h1.15m96.9 -0h1.15m7.3 -0h1.15m-83.2 0.1h1.15m-9 0.1h1.15m1.3 -0h1.15m23.7 -0h1.15m6.7 -0h1.15m-26.9 0.1h1.15m-12.1 0.1h1.15m23.9 -0h1.15m-40.3 0.1h1.15m43.4 -0h1.15m-17.9 0.1h1.15m16.7 -0h1.15m11.1 -0h1.15m72.1 -0h1.15m-99 0.1h1.15m12.4 -0h1.15m49.8 -0h1.15m-92.7 0.1h1.15m12.3 -0h1.15m22 -0h1.15m1.2 0.1h1.15m47.1 -0h1.15m19 -0h1.15m-76.1 0.1h1.15m6.1 -0h1.15m-37.6 0.1h1.15m0.1 -0h1.15m1.7 -0h1.15m22.2 -0h1.15m18.9 -0h1.15m39.3 -0h1.15m16.9 -0h1.15m-107.2 0.1h1.15m83 -0h1.15m-114.3 0.1h1.15m72.2 -0h1.15m77.6 -0h1.15m-127.7 0.1h1.15m4.8 -0h1.15m23.6 -0h1.15m1.1 -0h1.15m72.8 -0h1.15m-65.1 0.1h1.15m40.9 -0h1.15m-83.7 0.1h1.15m4.4 -0h1.15m6.8 -0h1.15m81.5 -0h1.15m-87.5 0.1h1.15m18 -0h1.15m17.2 -0h1.15m-16.5 0.1h1.15m89 -0h1.15m-114.3 0.1h1.15m73.9 -0h1.15m-95.3 0.1h1.15m26.6 -0h1.15m13.2 -0h1.15m56.8 -0h1.15m4.1 -0h1.15m-86.2 0.2h1.15m16.6 0.1h1.15m62.5 -0h1.15m-83.9 0.1h1.15m70.5 -0h1.15m23.8 0.1h1.15m-88.2 0.2h1.15m9.3 0.1h1.15m13.4 -0h1.15m54.7 -0h1.15m3.1 -0h1.15m-92.4 0.1h1.15m16.6 -0h1.15m-0 -0h1.15m-13.3 0.2h1.15m8 -0h1.15m83.4 0.1h1.15m-116.8 0.1h1.15m45.1 -0h1.15m-30.5 0.2h1.15m12 -0h1.15m-48.7 0.1h1.15m14.1 -0h1.15m43.6 -0h1.15m-59.7 0.1h1.15m4 0.2h1.15m26 -0h1.15m-0 0.3h1.15m25 -0h1.15m-45.7 0.1h1.15m30.2 -0h1.15m72.4 -0h1.15m-16.3 0.1h1.15m-56.3 0.1h1.15m67.9 0.1h1.15m-6 0.1h1.15m-53.4 0.2h1.15m-7.7 0.1h1.15m7.2 -0h1.15m-59.9 0.1h1.15m110.1 -0h1.15m-82.8 0.1h1.15m20.8 -0h1.15m42.3 0.1h1.15m-6.5 0.1h1.15m-49.3 0.2h1.15m2.4 0.2h1.15m-54.8 0.1h1.15m51 0.1h1.15m10.7 -0h1.15m41.5 -0h1.15m-6.9 0.1h1.15m1.8 -0h1.15m10.3 0.2h1.15m4.3 0.1h1.15m-121.2 0.1h1.15m119.1 -0h1.15m-20 0.1h1.15m-5 0.2h1.15m-44 0.2h1.15m43.3 0.1h1.15m-36.2 0.1h1.15m32.9 0.1h1.15m-18 0.1h1.15m27 -0h1.15m-30.4 0.2h1.15m-1.2 -0h1.15m15.5 -0h1.15m-83.6 0.1h1.15m83.4 -0h1.15m3.7 0.1h1.15m2.1 -0h1.15m-46.7 0.2h1.15m-0.5 -0h1.15m51.1 0.1h1.15m4.3 0.1h1.15m-10.2 0.1h1.15m-50.3 0.1h1.15m40.9 0.1h1.15m-99.9 0.1h1.15m100.4 -0h1.15m11.8 -0h1.15m-19 0.2h1.15m1.9 -0h1.15m3.6 -0h1.15m-56 0.2h1.15m52.1 -0h1.15m-28.3 0.1h1.15m18.1 0.3h1.15m14.9 0.4h1.15m-58.9 0.3h1.15m45.7 -0h1.15m-47.9 0.1h1.15m42.7 0.3h1.15m2 0.1h1.15m6.3 0.1h1.15m-1.9 0.3h1.15m5 -0h1.15m-9.8 0.4h1.15m8.3 0.1h1.15m-116.9 0.3h1.15m6.4 0.1h1.15m2.8 -0h1.15m101.1 0.1h1.15m-0.3 0.4h1.15m-108 0.1h1.15m97.8 0.1h1.15m1.9 -0h1.15m-128.9 0.1h1.15m128.6 -0h1.15m-135.2 0.2h1.15m130.1 -0h1.15m-106.3 0.1h1.15m13.9 -0h1.15m60.5 0.1h1.15m-25.7 0.1h1.15m49.8 0.1h1.15m6.5 0.7h1.15m-124.9 0.1h1.15m25.6 -0h1.15m64.5 -0h1.15m27.1 0.2h1.15m-86.4 0.1h1.15m-0.4 -0h1.15m-5.7 0.1h1.15m89.2 -0h1.15m-118.1 0.1h1.15m-15.2 0.1h1.15m18.9 -0h1.15m108.1 -0h1.15m-30.4 0.1h1.15m-59.1 0.2h1.15m91.5 -0h1.15m-12.9 0.7h1.15m-66.6 0.8h1.15m15.4 0.3h1.15m-1.8 0.3h1.15m-78.3 0.1h1.15m36.3 0.5h1.15m-9.8 0.1h1.15m-15.5 0.2h1.15m126.8 0.2h1.15m10.8 0.4h1.15m-133.8 0.1h1.15m128.9 -0h1.15m1.6 0.2h1.15m-118.1 0.1h1.15m-11.9 0.1h1.15m125.8 -0h1.15m0.4 0.3h1.15m-4.5 1.2h1.15m-10.1 0.1h1.15m-113.9 0.1h1.15m114.2 -0h1.15m-116.2 0.5h1.15m-10.6 0.2h1.15m136.4 0.1h1.15m-49.5 0.1h1.15m-74.4 0.1h1.15m1.4 -0h1.15m114.2 0.1h1.15m-11.7 0.1h1.15m-98.5 0.3h1.15m88.5 0.2h1.15m-116.5 0.3h1.15m106.9 -0h1.15m28.2 -0h1.15m-49.4 0.2h1.15m43.8 0.1h1.15m-33.7 0.7h1.15m-4.1 0.1h1.15m32 -0h1.15m-5.2 0.1h1.15m-23.3 0.1h1.15m-101.1 0.3h1.15m-2.2 0.2h1.15m-5.8 0.1h1.15m103.5 -0h1.15m-109.8 0.5h1.15m95.4 0.1h1.15m-0.4 -0h1.15m30 -0h1.15m-126 0.1h1.15m55.1 -0h1.15m43.1 0.1h1.15m-7.5 0.1h1.15m-74.8 0.1h1.15m39.9 0.4h1.15m74.3 0.5h1.15m-37.8 0.3h1.15m13 -0h1.15m-117.4 0.1h1.15m113.1 0.1h1.15m-91.9 0.2h1.15m112.6 -0h1.15m-83.1 0.1h1.15m82.6 -0h1.15m-136.9 0.1h1.15m102.6 0.1h1.15m21.9 0.2h1.15m-103.2 0.2h1.15m84.2 -0h1.15m-58 0.1h1.15m10.2 -0h1.15m25.3 -0h1.15m-39.2 0.5h1.15m65.4 0.2h1.15m-23 0.1h1.15m-40.7 0.1h1.15m-2.5 0.3h1.15m8.3 -0h1.15m26.3 0.1h1.15m13.5 -0h1.15m5.3 0.3h1.15m15.4 -0h1.15m-64.1 0.2h1.15m36.3 -0h1.15m22.4 0.1h1.15m-5.2 0.1h1.15m-111.3 0.1h1.15m78.8 -0h1.15m12 0.2h1.15m-95.1 0.2h1.15m-0 0.1h1.15m79.1 0.2h1.15m6.5 0.2h1.15m1.1 0.3h1.15m6.1 0.1h1.15m-112.9 0.8h1.15m88.2 -0h1.15m-80.2 0.3h1.15m-8.6 0.7h1.15m106.1 0.1h1.15m-13.2 0.5h1.15m-92.1 1.1h1.15m45.1 0.1h1.15m49.8 0.2h1.15m7.6 0.5h1.15m-103.7 0.3h1.15m90.8 0.2h1.15m10.7 0.5h1.15m-52.9 0.2h1.15m43.8 -0h1.15m-0.6 -0h1.15m-70.1 0.1h1.15m54.2 -0h1.15m-38.5 0.4h1.15m-15.7 0.2h1.15m53.5 0.6h1.15m-5.9 0.6h1.15m4.1 0.4h1.15m-61.7 0.4h1.15m12.6 -0h1.15m5.2 0.3h1.15m-47.9 0.1h1.15m74.1 0.2h1.15m0.9 -0h1.15m9.7 -0h1.15m-1.9 0.1h1.15m-64.4 0.2h1.15m-28 0.3h1.15m112 -0h1.15m-53.9 0.1h1.15m-61.9 0.1h1.15m81 0.2h1.15m-55.4 0.2h1.15m56 -0h1.15m16.9 0.1h1.15m-12.6 0.2h1.15m18.7 0.5h1.15m-29.7 0.2h1.15m27 -0h1.15m-17.5 0.1h1.15m-14.7 0.1h1.15m24.9 -0h1.15m-27 0.3h1.15m10.8 -0h1.15m-37 0.1h1.15m43.5 0.4h1.15m-107 0.5h1.15m94.6 0.1h1.15m-8.1 0.6h1.15m16.2 -0h1.15m-1.4 0.4h1.15m-4.9 0.1h1.15m1.2 -0h1.15m-3 0.1h1.15m2.8 0.3h1.15m-17.7 0.2h1.15m2.6 -0h1.15m18.8 -0h1.15m-70.5 0.6h1.15m51.5 0.2h1.15m1.2 0.3h1.15m-9.3 0.1h1.15m21.6 0.3h1.15m-72.1 0.2h1.15m56.4 1h1.15m-58.7 0.2h1.15m66 -0h1.15m-68 0.1h1.15m46.6 0.1h1.15m-51 0.3h1.15m4.8 0.4h1.15m43.7 0.2h1.15m-53.4 0.5h1.15m51 0.2h1.15m-46.2 0.2h1.15m-7.1 1h1.15m53.7 0.2h1.15m-52.6 0.1h1.15m55.9 0.1h1.15m-56.8 0.1h1.15m58.6 0.3h1.15m-58.7 0.2h1.15m56.6 -0h1.15m-65.5 0.1h1.15m5 0.7h1.15m-4.4 0.5h1.15m55.9 0.1h1.15m2.7 0.1h1.15m-2.3 0.5h1.15m-64.6 0.1h1.15m1.6 -0h1.15m53.5 -0h1.15m1.6 -0h1.15m-60 0.1h1.15m53.3 -0h1.15m-53.5 0.7h1.15m0.9 -0h1.15m-7.5 0.5h1.15m5.1 0.3h1.15m-6.4 1.2h1.15m5.3 0.1h1.15m-2 0.1h1.15m-4.9 0.2h1.15m-4.8 0.3h1.15m37 1.1h1.15m-35.9 1.9h1.15m-0.5 -0h1.15m1.8 2.6h1.15m27.1 3.3h1.15m-2.1 1h1.15m2.6 2.2h1.15m-8.9 0.6h1.15m-8 0.5h1.15m1.5 0.9h1.15m0.3 -0h1.15m-4 1.3h1.15"/>
<path stroke="#E78AC3" stroke-width="1.15" fill="none" d="M174.5 219.5h1.15m0.4 0.2h1.15m31.8 4.3h1.15m-62.3 2.6h1.15m58.9 0h1.15m-70.2 1h1.15m34.5 0h1.15m-36.8 0.2h1.15m53.1 0.1h1.15m-19.1 0.2h1.15m-33.3 1h1.15m45.3 0.7h1.15m12.5 0.3h1.15m-23.4 0.5h1.15m-32.2 0.1h1.15m-5.2 0.1h1.15m-3.7 0.3h1.15m44.7 1.2h1.15m-5.9 0.3h1.15m16.1 0.1h1.15m-27.6 0.2h1.15m-6 0.5h1.15m31.2 0.5h1.15m-5.8 1.4h1.15m-8.5 0.1h1.15m-19.4 0.2h1.15m11.4 0.9h1.15m-10.9 0.2h1.15m4.1 0.4h1.15m13.9 0.1h1.15m-45.5 0.2h1.15m32.4 0.9h1.15m-16.1 0.1h1.15m24.7 1.1h1.15m-2.1 0.2h1.15m-21.1 0.1h1.15m13.9 0h1.15m8.7 0.2h1.15m-9.1 0.2h1.15m-6.2 0.2h1.15m11.7 0h1.15m-9.1 1.2h1.15m-3.4 0.7h1.15m0.9 3.3h1.15m-105.6 1.7h1.15m86 2.2h1.15m-93.3 0.2h1.15m84.8 0.2h1.15m-0.9 0.1h1.15m8.4 0.8h1.15m-7.1 0.5h1.15m-34.6 0.1h1.15m-60.5 0.2h1.15m92.4 0.1h1.15m-90.5 0.3h1.15m81.4 0h1.15m3.7 0h1.15m-1.8 0.2h1.15m0.7 0.1h1.15m-87.8 0.3h1.15m-3.3 0.3h1.15m46.8 0h1.15m33.5 0h1.15m0 0h1.15m-92.6 0.1h1.15m12.8 0.6h1.15m38.5 0.6h1.15m44.6 0.5h1.15m-7.7 0.1h1.15m-75.1 0.1h1.15m42.6 0.1h1.15m-60.9 0.3h1.15m90.1 0.1h1.15m-39.8 0.1h1.15m43.2 1h1.15m-94.9 0.1h1.15m82.9 0h1.15m0.2 0.2h1.15m-21.8 0.1h1.15m-26.8 0.1h1.15m6.4 0.1h1.15m-50.8 0.3h1.15m55.3 0.1h1.15m-51.1 0.4h1.15m84.9 0h1.15m-76.9 0.4h1.15m-11.9 0.6h1.15m86.6 0.1h1.15m-36.8 0.1h1.15m-1.8 0.2h1.15m4.5 0.1h1.15m-52.6 0.1h1.15m84.9 0h1.15m-40.6 0.1h1.15m33.8 0.3h1.15m2.6 0.1h1.15m1.8 0h1.15m-91.6 0.1h1.15m38.6 0.3h1.15m-1.9 0.9h1.15m39.5 0.1h1.15m-19.4 0.8h1.15m19 0.7h1.15m4.5 -0h1.15m-37.1 0.3h1.15m4 -0h1.15m-12.5 0.3h1.15m48.1 0.6h1.15m-9.1 0.7h1.15m-1.1 0.1h1.15m12.6 0.2h1.15m-108.5 0.6h1.15m96.6 0.1h1.15m-24.2 0.3h1.15m-60.6 0.1h1.15m-12.4 0.6h1.15m-3.1 0.1h1.15m44.6 -0h1.15m-31.3 0.1h1.15m76.5 -0h1.15m-9.7 0.2h1.15m-34.4 0.5h1.15m3.6 -0h1.15m13.5 0.2h1.15m-73.8 0.2h1.15m96 -0h1.15m-105.8 0.2h1.15m102.6 0.1h1.15m-3 0.2h1.15m10.6 -0h1.15m-16.3 0.2h1.15m-27.9 0.1h1.15m24.3 -0h1.15m2.5 0.7h1.15m-30.1 0.1h1.15m-12.6 0.3h1.15m3.6 0.3h1.15m28.7 0.1h1.15m-23.2 0.4h1.15m-62.7 0.3h1.15m84.7 0.2h1.15m-43.2 0.3h1.15m-46.9 0.5h1.15m55.3 0.1h1.15m13.6 0.3h1.15m-61.2 0.5h1.15m6.5 0.2h1.15m-8.4 0.5h1.15m-19.1 0.2h1.15m53.9 0.5h1.15m-60.2 0.2h1.15m12.5 0.2h1.15m1.1 -0h1.15m63.9 0.1h1.15m-61.7 0.4h1.15m35.7 -0h1.15m67.5 0.2h1.15m-103.4 0.4h1.15m38.2 0.2h1.15m-55.1 0.1h1.15m-14.5 0.2h1.15m43.2 -0h1.15m12.3 -0h1.15m23.7 -0h1.15m39.5 0.1h1.15m-0.4 0.1h1.15m-6.8 0.1h1.15m-116.9 0.2h1.15m137.3 -0h1.15m-91 0.3h1.15m-43.9 0.5h1.15m47.9 -0h1.15m6.5 -0h1.15m3.8 -0h1.15m11 0.2h1.15m48.5 0.5h1.15m-128 0.1h1.15m114.2 0.1h1.15m-63 0.1h1.15m69.9 -0h1.15m-126 0.2h1.15m2 0.6h1.15m115.4 0.1h1.15m-74.9 0.1h1.15m18.6 -0h1.15m43.7 -0h1.15m2.1 -0h1.15m18.6 -0h1.15m-90.3 0.1h1.15m-31.6 0.1h1.15m18.8 -0h1.15m89.7 -0h1.15m-51.9 0.2h1.15m56.2 -0h1.15m-82 0.3h1.15m70.6 0.1h1.15m4 0.1h1.15m-10.9 0.1h1.15m-121.6 0.1h1.15m57.3 0.2h1.15m-7.1 0.1h1.15m80.9 -0h1.15m-76.2 0.1h1.15m-31.6 0.5h1.15m83.1 0.2h1.15m-69 0.1h1.15m64.9 0.1h1.15m-88.9 0.1h1.15m4.5 -0h1.15m13 -0h1.15m71.7 0.1h1.15m-62.9 0.1h1.15m-3.9 0.2h1.15m68.5 0.4h1.15m9.3 -0h1.15m-85.9 0.2h1.15m96.2 -0h1.15m-22.5 0.7h1.15m4.5 0.3h1.15m-58.4 0.2h1.15m44.2 -0h1.15m-43.9 0.1h1.15m1.7 0.1h1.15m57.3 0.3h1.15m-82.9 0.3h1.15m70.5 -0h1.15m20.6 -0h1.15m-145.9 0.2h1.15m25 0.3h1.15m40.8 -0h1.15m59 0.1h1.15m-25.1 0.2h1.15m12.4 0.1h1.15m-109.2 0.1h1.15m2.8 0.1h1.15m-8.9 0.2h1.15m122.9 -0h1.15m9.5 0.1h1.15m-132.4 0.3h1.15m133.6 0.3h1.15m-74.1 0.2h1.15m51.5 0.1h1.15m-0.3 0.1h1.15m-121.8 0.4h1.15m83.9 0.2h1.15m35 -0h1.15m-110.2 0.2h1.15m87.1 -0h1.15m-86.2 0.5h1.15m84.2 0.3h1.15m-80.4 0.2h1.15m58.6 -0h1.15m27.6 0.2h1.15m-82.4 0.1h1.15m52.2 0.2h1.15m0.5 -0h1.15m-56.4 0.2h1.15m78.1 0.3h1.15m9.5 -0h1.15m-108 0.1h1.15m9.2 -0h1.15m0.7 0.2h1.15m-6.4 0.2h1.15m7.2 -0h1.15m55.3 -0h1.15m34.4 0.3h1.15m-108.4 0.3h1.15m6.7 -0h1.15m87.6 -0h1.15m-51 0.3h1.15m-0.2 0.1h1.15m-62.2 0.1h1.15m24.7 0.5h1.15m8.4 0.2h1.15m-21.1 0.6h1.15m69.5 0.2h1.15m-76.4 0.1h1.15m81.9 0.9h1.15m22.2 0.4h1.15m-89.6 0.6h1.15m93 1h1.15m-91.5 0.5h1.15m-28.1 0.1h1.15m83 0.6h1.15m2.2 0.6h1.15m1.2 -0h1.15m-1.5 0.5h1.15m-97.2 0.4h1.15m30.3 0.1h1.15m63.1 -0h1.15m-64.8 0.7h1.15m-0.4 0.3h1.15m59.8 -0h1.15m41.9 1.2h1.15m-44.4 0.1h1.15m-30.4 0.4h1.15m34.2 0.3h1.15m-90.2 0.2h1.15m-2.9 0.5h1.15m113.7 -0h1.15m-89 0.3h1.15m72.4 0.9h1.15m-94.9 0.1h1.15m84.5 0.2h1.15m-1 -0h1.15m-66 0.2h1.15m-20.6 0.8h1.15m49.5 0.6h1.15m44.1 -0h1.15m-15.2 0.1h1.15m44.5 0.2h1.15m-29.1 0.1h1.15m23.6 0.3h1.15m-131.2 0.1h1.15m18.3 -0h1.15m101.7 0.1h1.15m-30 0.3h1.15m-95.2 0.2h1.15m106.6 -0h1.15m21.7 0.4h1.15m2.2 -0h1.15m-113.5 0.4h1.15m76.4 -0h1.15m15.9 0.3h1.15m-17.1 0.3h1.15m10.3 0.3h1.15m-1.5 0.2h1.15m5.6 -0h1.15m-11.1 0.2h1.15m-7.8 0.4h1.15m22.7 0.5h1.15m1.8 0.2h1.15m-119.1 0.3h1.15m49.3 0.2h1.15m-52.4 0.2h1.15m94.7 -0h1.15m-11.7 0.2h1.15m3.4 0.4h1.15m-100.9 0.4h1.15m64.2 1.1h1.15m-60.3 0.4h1.15m47.5 -0h1.15m46.3 -0h1.15m-9.2 0.5h1.15m21.4 -0h1.15m-7.4 0.1h1.15m-15.9 0.1h1.15m3.9 0.2h1.15m-51.3 0.4h1.15m-43.3 0.1h1.15m55.2 0.2h1.15m1.4 0.1h1.15m37.3 0.4h1.15m-1.4 0.1h1.15m1.4 0.3h1.15m-41.8 0.2h1.15m-25.4 0.1h1.15m59.3 0.1h1.15m-93.5 0.2h1.15m80.4 0.1h1.15m-89.5 0.1h1.15m83.5 -0h1.15m-22.8 0.4h1.15m34.3 -0h1.15m-95 0.1h1.15m21.7 0.1h1.15m-20 0.8h1.15m25.4 -0h1.15m53.4 -0h1.15m4.7 -0h1.15m-44.6 0.2h1.15m37.9 0.2h1.15m20.2 -0h1.15m-2 0.3h1.15m-12.8 0.5h1.15m-59.4 0.4h1.15m65.5 -0h1.15m-104.9 0.2h1.15m54.7 0.2h1.15m30.6 -0h1.15m16.3 0.1h1.15m-62.3 0.1h1.15m13 -0h1.15m47.7 0.1h1.15m0.5 0.6h1.15m-11.2 0.4h1.15m-75.5 0.1h1.15m62.1 0.2h1.15m23.1 0.2h1.15m-5.1 0.8h1.15m-23.2 0.2h1.15m5 -0h1.15m0.9 -0h1.15m2.8 0.2h1.15m-11.5 0.4h1.15m23.5 0.2h1.15m-20 0.1h1.15m14.8 0.2h1.15m-111.1 0.5h1.15m91.2 0.3h1.15m9.6 -0h1.15m9.2 -0h1.15m0.6 0.3h1.15m-26 0.2h1.15m7.2 1.1h1.15m-54.3 0.4h1.15m65.2 0.2h1.15m-24.6 0.6h1.15m0.2 -0h1.15m11.3 -0h1.15m6.5 0.6h1.15m-10.3 0.2h1.15m-6.8 0.2h1.15m-49.1 0.3h1.15m47.8 0.5h1.15m-5.5 0.4h1.15m8.8 2.3h1.15m-9.7 0.2h1.15m3.4 -0h1.15m-10.1 0.1h1.15m7.5 0.1h1.15m-1.2 0.2h1.15m-2.6 0.8h1.15m8.4 0.6h1.15m-11.5 1.8h1.15m-17.2 10h1.15m-2.3 0.6h1.15"/>
<path stroke="#66C2A5" stroke-width="1.15" fill="none" d="M80.9 246.8h1.15m-1.6 0.6h1.15m-1.8 0.9h1.15m6.9 0.2h1.15m83.4 0.4h1.15m-96.1 0.9h1.15m13.1 0.3h1.15m78.7 -0h1.15m-93 1.5h1.15m-5.3 0.7h1.15m102 2.7h1.15m-13.5 1.2h1.15m8 0.8h1.15m-9.8 0.8h1.15m6.9 0.2h1.15m-76.1 1.7h1.15m-7.2 0.7h1.15m-2.1 1.3h1.15m84 0h1.15m-11 0.3h1.15m-93 0.1h1.15m90.4 1.2h1.15m-84.1 0.2h1.15m-11 0.4h1.15m0.9 0.4h1.15m-5.6 0.2h1.15m4.3 0.2h1.15m8 0h1.15m90.5 0.3h1.15m-1.6 0.1h1.15m-108.6 0.4h1.15m102.8 0.1h1.15m-6.8 0.5h1.15m-6.2 0.4h1.15m12.6 0h1.15m-90.1 0.7h1.15m-3.2 0.3h1.15m-3.2 1.9h1.15m89.5 0h1.15m-6.4 1.3h1.15m-85.3 0.3h1.15m82.8 1h1.15m-91.2 0.6h1.15m-9.6 0.8h1.15m5.7 1h1.15m-0.3 0.1h1.15m-10.1 0.9h1.15m-0.5 0.8h1.15m25.4 0h1.15m-13.1 0.2h1.15m14.6 0h1.15m-2.9 0.4h1.15m-4.8 1h1.15m-15 3.3h1.15m-4.3 0.8h1.15m1.3 0.2h1.15m3.1 0h1.15m5.7 0.1h1.15m-9.4 0.4h1.15m-1.4 2.3h1.15m9.9 1.2h1.15m-23.5 0.1h1.15m10.6 0.7h1.15m-0.1 0h1.15m-6.4 0.7h1.15m7.3 0.6h1.15m14.9 0h1.15m-6 3.2h1.15m6.8 0.1h1.15m-8.4 0.3h1.15m1.4 0.9h1.15m-19.8 0.6h1.15m6.6 0.1h1.15m9.4 0.1h1.15m7.7 -0h1.15m-17.4 1.8h1.15m-22 0.8h1.15m36.1 0.4h1.15m-24.2 0.7h1.15m-14.9 0.8h1.15m30.8 3.1h1.15m-21.1 1h1.15m1.1 0.4h1.15m21 1h1.15m-32 0.4h1.15m-4.8 2.5h1.15m18.6 -0h1.15m2.9 0.5h1.15m-19.1 2.3h1.15m11.9 3h1.15m-5.7 3h1.15m-4.3 2.4h1.15m6.7 0.5h1.15m-9.9 3.6h1.15m5.5 1.6h1.15m-1.5 1.9h1.15"/>
<path stroke="#377EB8" stroke-width="1.15" fill="none" d="M141.5 203.8h1.15m-0.1 2.9h1.15m-0.9 2.3h1.15m2 0.4h1.15m-0.6 0.2h1.15m-1.3 1h1.15m-2 0.3h1.15m-3.6 0.4h1.15m4.4 0.4h1.15m-5.5 0.5h1.15m-21.3 0.6h1.15m2.2 0.1h1.15m-0.1 0.2h1.15m-3.2 0.2h1.15m18.3 0h1.15m-19 0.2h1.15m18.2 0.1h1.15m1.9 0h1.15m-27.3 0.2h1.15m25.2 0h1.15m-28.1 0.2h1.15m5.2 0.1h1.15m17.9 0h1.15m-21.4 0.4h1.15m-0.9 0.2h1.15m-1.4 0.2h1.15m-5.8 0.5h1.15m50.5 2.4h1.15m-7 0.5h1.15m7 0.2h1.15m-8.5 0.2h1.15m-1.1 0h1.15m-0.6 0.1h1.15m-1.7 0.1h1.15m4.8 0h1.15m-8.7 0.4h1.15m7 0.3h1.15m-7.6 0.3h1.15m-2.7 0.1h1.15m4.7 0.2h1.15m1.2 0.3h1.15m-4.7 0.5h1.15m1.1 1h1.15m-27.9 0.1h1.15m23.7 0.2h1.15m-5 0.1h1.15m6.1 0.1h1.15m-0.7 0.1h1.15m-2.4 0.1h1.15m1.6 0h1.15m0.6 0h1.15m-8.6 0.2h1.15m4.4 0.2h1.15m-32.2 0.1h1.15m22.2 0.2h1.15m-1.1 0.2h1.15m7.9 0.1h1.15m-0.2 0.1h1.15m-3.3 0.1h1.15m0.3 0h1.15m-1.1 0.4h1.15m-38.5 0.5h1.15m30.8 1h1.15m-32.8 0.3h1.15m-1.4 0.3h1.15m35.2 0h1.15m-64.6 0.2h1.15m32.6 0h1.15m-6.5 0.1h1.15m31.2 0h1.15m-34.5 0.3h1.15m33.7 0h1.15m1.2 0h1.15m-35.6 0.2h1.15m34.2 0h1.15m-6.7 0.1h1.15m-35.6 0.2h1.15m-3.9 0.1h1.15m-27.2 0.1h1.15m33.4 0.1h1.15m27.2 0.1h1.15m-29.1 0.3h1.15m-36.5 0.1h1.15m23.6 0h1.15m7.1 0h1.15m1.2 0h1.15m-12.3 0.1h1.15m66.2 0.1h1.15m-0.7 0h1.15m-68.2 0.4h1.15m4.6 0.2h1.15m35.4 0h1.15m0.1 0h1.15m-61.3 0.1h1.15m69.4 0h1.15m-54.3 0.1h1.15m7.4 0h1.15m44.8 0h1.15m-54.1 0.2h1.15m0.6 0h1.15m32.5 0h1.15m5.7 0h1.15m6.5 0h1.15m-77.7 0.1h1.15m81.1 0.2h1.15m-49.2 0.1h1.15m36.9 0h1.15m-0.2 0h1.15m15.9 0.1h1.15m-21.6 0.1h1.15m-6.8 0.2h1.15m12.2 0h1.15m-44.9 0.1h1.15m-1.5 0.1h1.15m33.4 0h1.15m-67.4 0.2h1.15m26.9 0.2h1.15m40 0.1h1.15m-0.1 0h1.15m-38.1 0.1h1.15m-3.8 0.1h1.15m4 0h1.15m29.1 0h1.15m13.6 0h1.15m-53 0.2h1.15m24.8 0h1.15m6.1 0h1.15m-62.8 0.1h1.15m-5.7 0.1h1.15m89.1 0.1h1.15m-0.5 0h1.15m-19.1 0.1h1.15m16 0h1.15m-51.7 0.1h1.15m21.5 0.1h1.15m9.3 0h1.15m4.4 0h1.15m-3.8 0.2h1.15m-5.3 0.1h1.15m7.8 0.1h1.15m-45.5 0.3h1.15m2.1 0h1.15m44.6 0h1.15m-83.3 0.1h1.15m62 0h1.15m8.5 0h1.15m-46.2 0.1h1.15m7.5 0.1h1.15m41.1 0h1.15m-52.8 0.1h1.15m39.7 0h1.15m10.3 0.1h1.15m-12.9 0.1h1.15m4.9 0h1.15m10.5 0h1.15m-26.8 0.1h1.15m5.9 0h1.15m-41 0.2h1.15m37.1 0.1h1.15m9.2 0h1.15m-21 0.2h1.15m5.4 0.1h1.15m-29.5 0.1h1.15m48.5 0.3h1.15m-48.3 0.1h1.15m0.9 0.1h1.15m25.1 0h1.15m3.4 0.2h1.15m-0.7 0h1.15m8.3 0.1h1.15m-46 0.2h1.15m51.4 0h1.15m-9.7 0.1h1.15m-45.8 0.1h1.15m27.6 0h1.15m3.5 0h1.15m0.2 0h1.15m13.1 0h1.15m1.3 0h1.15m-50.5 0.3h1.15m19.9 0h1.15m11.6 0h1.15m11.2 0h1.15m-49.1 0.1h1.15m23.4 0h1.15m25.9 0h1.15m-30.7 0.4h1.15m15.6 0h1.15m2.4 0h1.15m0.2 0.1h1.15m-5.3 0.3h1.15m5.1 0h1.15m-28.8 0.1h1.15m15.2 0h1.15m8.4 0.4h1.15m1.8 0.1h1.15m1.2 0.1h1.15m-26 0.1h1.15m0.7 0.3h1.15m16 0.2h1.15m2.4 0.4h1.15m-20.4 0.2h1.15m4 0.1h1.15m9.5 0.1h1.15m-10.5 0.1h1.15m13.7 0h1.15m-18.7 0.3h1.15m7.6 0h1.15m-20.4 0.1h1.15m18.2 0h1.15m6.1 0.2h1.15m-25.9 0.2h1.15m26.2 0.1h1.15m1.4 0.8h1.15m-11.3 0.2h1.15m0.5 0.1h1.15m7.5 0.5h1.15m-11.9 0.1h1.15m8.5 0h1.15m-14.9 0.2h1.15m6 0h1.15m-0.5 0h1.15m-6.8 0.2h1.15m11.9 0.4h1.15m-1.3 0.3h1.15m-8.2 0.2h1.15m-6.6 0.1h1.15m2.2 0.1h1.15m3.3 0.4h1.15m2.1 0.1h1.15m-9.2 0.1h1.15m5.2 0h1.15m0.3 0h1.15m-4 0.5h1.15m-8.4 0.1h1.15m-0.7 0.1h1.15m-2.1 0.1h1.15m1.8 0.4h1.15m1.7 0.7h1.15m-0.4 0h1.15m-111.8 0.4h1.15m104.9 0.4h1.15m2.2 0.1h1.15m-3.6 0.1h1.15m-22.6 2.9h1.15m-92.1 0.6h1.15m4.4 0.6h1.15m83.2 0.3h1.15m-33.8 0.4h1.15m0.3 0.3h1.15m-5 0.3h1.15m38.8 0.7h1.15m0.5 0.6h1.15m-7 0.2h1.15m-38.5 0.2h1.15m-0.3 0h1.15m-52.5 0.1h1.15m91.7 0.1h1.15m-33.3 0.2h1.15m24.8 0h1.15m-34.8 0.1h1.15m-3.2 0.2h1.15m0.9 0h1.15m-40.9 0.3h1.15m47.5 0.2h1.15m0.4 0.1h1.15m-17.6 0.3h1.15m9.2 0.1h1.15m5.6 0h1.15m24.9 0h1.15m-36.8 0.2h1.15m35.2 0.4h1.15m-48.6 0.1h1.15m12.7 0.2h1.15m-11 0.1h1.15m0 0h1.15m9.7 0h1.15m-17.2 0.2h1.15m-1.3 0.1h1.15m-3.7 0.3h1.15m14.8 0h1.15m-39.7 0.1h1.15m34.5 0h1.15m-2.6 0.2h1.15m12.9 0.1h1.15m1.7 0.1h1.15m25.5 0h1.15m-24.5 0.6h1.15m-22.8 0.1h1.15m-0.4 0.1h1.15m-58.2 0.1h1.15m75.2 0h1.15m-16.3 0.1h1.15m8.2 0.1h1.15m3 0.3h1.15m-27 0.1h1.15m10.2 0h1.15m5.2 0.3h1.15m7.1 0h1.15m-28.9 0.5h1.15m-40.4 0.1h1.15m3.6 0h1.15m-14.9 0.2h1.15m47 0h1.15m18.1 0h1.15m-62.3 0.2h1.15m37.2 0h1.15m11.7 0h1.15m6 0.6h1.15m1.7 0h1.15m-0 0h1.15m23 0h1.15m-47.7 0.2h1.15m2.1 0h1.15m4.2 0h1.15m35.7 0.1h1.15m-18.1 0.3h1.15m26.4 0.3h1.15m-40.3 0.1h1.15m33.3 0h1.15m-50.7 0.1h1.15m40.1 0h1.15m-29.7 0.1h1.15m10.3 0.1h1.15m-4.2 0.1h1.15m0.5 0h1.15m3.4 0.1h1.15m26 0.1h1.15m-11.4 0.3h1.15m-22.9 0.1h1.15m4.1 0h1.15m12.1 0h1.15m12.8 0h1.15m-49.1 0.1h1.15m4.6 0h1.15m29 0.1h1.15m-29.9 0.1h1.15m2.4 0h1.15m-16.7 0.1h1.15m51 0h1.15m-45.9 0.4h1.15m3.3 0h1.15m41.2 0h1.15m-55 0.1h1.15m49.9 0.2h1.15m-32.6 0.2h1.15m22.5 0.1h1.15m-47.7 0.1h1.15m4.6 0h1.15m46.9 0h1.15m-12.5 0.1h1.15m-14.4 0.2h1.15m-16.9 0.1h1.15m11.6 0.1h1.15m-57.8 0.2h1.15m40.2 0h1.15m14.7 0h1.15m37.8 0.2h1.15m-60.4 0.3h1.15m12.6 0h1.15m23.6 0.2h1.15m-44.2 0.4h1.15m9.3 0h1.15m16.4 0.1h1.15m-25.3 0.2h1.15m35.9 0h1.15m-14.7 0.3h1.15m-12.8 0.5h1.15m13.8 0h1.15m19.7 0.1h1.15m-86.5 0.2h1.15m82.1 0h1.15m-8.2 0.2h1.15m-25.3 0.1h1.15m0.7 0h1.15m19.8 0h1.15m1.1 0.4h1.15m-34.6 0.1h1.15m-4.9 0.1h1.15m37.9 -0h1.15m17.6 0.2h1.15m-52 0.3h1.15m17.1 -0h1.15m17.5 -0h1.15m-48.9 0.1h1.15m6.3 -0h1.15m10.3 -0h1.15m-12.1 0.1h1.15m16.3 -0h1.15m-0.6 -0h1.15m34.2 0.1h1.15m-37.4 0.1h1.15m21.2 -0h1.15m-38.3 0.4h1.15m33.1 0.1h1.15m-18 0.1h1.15m-16.9 0.2h1.15m36.3 0.1h1.15m-32.5 0.1h1.15m-60.9 0.1h1.15m12.3 0.1h1.15m29 -0h1.15m7.8 -0h1.15m0.9 -0h1.15m8.3 -0h1.15m-21.3 0.5h1.15m3 -0h1.15m22.1 0.1h1.15m-27.3 0.1h1.15m17.7 0.2h1.15m21.9 -0h1.15m15.6 -0h1.15m-62.2 0.1h1.15m5 -0h1.15m9.5 -0h1.15m-1.6 0.1h1.15m-52.9 0.6h1.15m45.1 0.2h1.15m16.7 0.1h1.15m29.4 0.2h1.15m-105.9 0.2h1.15m48.3 0.3h1.15m10.5 -0h1.15m-19.9 0.4h1.15m25.8 -0h1.15m-54.4 0.8h1.15m52.6 0.2h1.15m49.4 0.1h1.15m-86.4 0.2h1.15m0.8 -0h1.15m2.6 0.1h1.15m13.7 0.2h1.15m13.5 0.1h1.15m-29.8 0.1h1.15m4.9 -0h1.15m-17.7 0.1h1.15m10.6 0.3h1.15m70.8 0.3h1.15m-46.2 0.1h1.15m36.1 -0h1.15m-63.5 0.2h1.15m68 0.1h1.15m-67.1 0.1h1.15m5.2 -0h1.15m-12.9 0.1h1.15m17.6 -0h1.15m-17.8 0.1h1.15m-57.7 0.1h1.15m53.2 0.1h1.15m6.4 -0h1.15m-8.9 0.1h1.15m2.5 -0h1.15m3 -0h1.15m-11.5 0.1h1.15m-24.2 0.1h1.15m6.5 -0h1.15m35.7 -0h1.15m-37.4 0.1h1.15m18.7 0.1h1.15m3.8 -0h1.15m-22.7 0.1h1.15m10.8 -0h1.15m78.8 -0h1.15m-93.7 0.2h1.15m71.4 -0h1.15m-100.5 0.1h1.15m29 -0h1.15m6.3 -0h1.15m85.6 0.2h1.15m-67.9 0.2h1.15m-18.4 0.3h1.15m6.1 -0h1.15m9.7 -0h1.15m-13.9 0.3h1.15m-17.8 0.1h1.15m28.1 -0h1.15m8.2 -0h1.15m-9.5 0.1h1.15m58.2 -0h1.15m-58.8 0.1h1.15m2.7 0.1h1.15m56.9 -0h1.15m-92.7 0.1h1.15m-23.5 0.3h1.15m46.7 -0h1.15m54.2 0.1h1.15m14.1 -0h1.15m-64.8 0.2h1.15m3.1 -0h1.15m-34.9 0.1h1.15m2.5 -0h1.15m-33.7 0.2h1.15m10.5 0.1h1.15m2.2 -0h1.15m4.3 0.1h1.15m-20.3 0.1h1.15m42.5 -0h1.15m49 -0h1.15m-54.1 0.1h1.15m54.7 -0h1.15m-84.8 0.1h1.15m37.6 -0h1.15m6.6 -0h1.15m37.6 -0h1.15m8.7 -0h1.15m-99.1 0.1h1.15m43 0.1h1.15m45.3 -0h1.15m-47.8 0.1h1.15m-4.6 0.1h1.15m-42.2 0.1h1.15m25.7 -0h1.15m-30.5 0.2h1.15m6.3 -0h1.15m-0.7 -0h1.15m43.2 -0h1.15m45.5 -0h1.15m-121 0.1h1.15m70.7 -0h1.15m-39.8 0.1h1.15m18.6 -0h1.15m68.7 -0h1.15m-66.9 0.1h1.15m-26.1 0.1h1.15m5.7 0.5h1.15m2.1 0.1h1.15m27.2 -0h1.15m35.4 -0h1.15m-43.3 0.1h1.15m1.7 0.1h1.15m-11.8 0.1h1.15m15 0.1h1.15m-9.6 0.1h1.15m-14.5 0.1h1.15m10.7 -0h1.15m5.4 -0h1.15m-43.9 0.1h1.15m94.1 -0h1.15m-53.5 0.1h1.15m44.1 0.1h1.15m14.4 0.2h1.15m-108.1 0.1h1.15m9.6 0.2h1.15m-0.4 -0h1.15m-27.5 0.1h1.15m36 -0h1.15m23.5 0.2h1.15m-21.4 0.1h1.15m73 0.1h1.15m-68 0.1h1.15m12.2 -0h1.15m-2.7 0.1h1.15m58.7 0.1h1.15m-77.7 0.2h1.15m-7.4 0.1h1.15m5.8 -0h1.15m11.5 -0h1.15m44.4 -0h1.15m8.1 -0h1.15m-112 0.3h1.15m-16.8 0.1h1.15m72.9 0.2h1.15m-35 0.1h1.15m31.7 -0h1.15m35.6 0.2h1.15m-59.8 0.1h1.15m-38.2 0.1h1.15m30.5 -0h1.15m73.4 -0h1.15m-120.3 0.1h1.15m11.5 -0h1.15m14.4 -0h1.15m0.6 -0h1.15m10.1 -0h1.15m22.1 -0h1.15m7 -0h1.15m49 -0h1.15m-56.9 0.1h1.15m42.2 -0h1.15m-83.1 0.1h1.15m32.7 -0h1.15m1.7 -0h1.15m18.4 -0h1.15m-17.9 0.1h1.15m-9.7 0.2h1.15m-44 0.1h1.15m44.9 -0h1.15m38.4 -0h1.15m12.3 -0h1.15m-49.2 0.4h1.15m54.3 0.1h1.15m-121.7 0.1h1.15m28.2 -0h1.15m34.4 -0h1.15m59.1 -0h1.15m14.2 -0h1.15m-55.9 0.2h1.15m57.2 -0h1.15m-140.3 0.1h1.15m-3.9 0.1h1.15m80.7 0.1h1.15m22.5 -0h1.15m9.4 0.4h1.15m3.7 0.2h1.15m-14.8 0.1h1.15m-27.5 0.1h1.15m25.5 -0h1.15m-96.2 0.3h1.15m47.5 -0h1.15m23.7 0.1h1.15m-1 -0h1.15m35.9 0.1h1.15m-101.5 0.2h1.15m-11.1 0.1h1.15m99.1 0.2h1.15m1.3 0.1h1.15m-52.6 0.2h1.15m51.1 0.1h1.15m-14 0.1h1.15m-73.8 0.7h1.15m74.8 -0h1.15m-91.3 0.1h1.15m66.3 -0h1.15m31.8 0.7h1.15m-58.2 0.7h1.15m27.6 0.2h1.15m-29.8 0.1h1.15m-72.3 0.2h1.15m128.9 0.2h1.15m-132.9 0.2h1.15m70.8 0.3h1.15m-72.6 0.1h1.15m71.9 0.1h1.15m24.8 0.7h1.15m20.9 0.3h1.15m-20.6 0.1h1.15m-83.8 0.1h1.15m0.1 -0h1.15m80.4 -0h1.15m-48.7 0.1h1.15m66.5 0.3h1.15m-69.1 0.1h1.15m46.6 -0h1.15m-72.5 0.1h1.15m-35.8 0.1h1.15m61 -0h1.15m-61.6 0.4h1.15m36.8 -0h1.15m-38.7 0.1h1.15m61.3 0.3h1.15m-30.2 0.3h1.15m92 -0h1.15m-53.7 0.3h1.15m32.8 -0h1.15m-108.9 0.1h1.15m0.8 0.2h1.15m58.1 0.1h1.15m44.9 0.2h1.15m-81.7 0.1h1.15m49.3 0.1h1.15m-16.4 0.3h1.15m44.6 0.1h1.15m1.1 0.1h1.15m-6.1 0.5h1.15m-70 0.2h1.15m72 -0h1.15m40.9 0.2h1.15m-43.1 0.3h1.15m-92.4 1.3h1.15m1.5 0.2h1.15m126.2 0.2h1.15m-130.2 0.7h1.15m8.9 0.1h1.15m2.4 1.1h1.15m76.7 0.3h1.15m32.8 1.9h1.15m10.5 0.3h1.15m-84.5 0.6h1.15m50.2 0.1h1.15m4.6 -0h1.15m-108.6 0.3h1.15m109.1 0.6h1.15m-23.4 0.3h1.15m-75.3 0.1h1.15m114 -0h1.15m-123.2 0.1h1.15m-8.5 0.1h1.15m6.4 -0h1.15m82.2 0.1h1.15m-1.1 0.1h1.15m-76.3 0.2h1.15m92.7 0.1h1.15m-113.1 0.1h1.15m94.7 -0h1.15m10.3 0.2h1.15m-89.6 0.2h1.15m82.2 0.1h1.15m-100.5 0.4h1.15m95.9 -0h1.15m-43.3 0.3h1.15m-42 0.1h1.15m100.3 0.2h1.15m-114.1 0.2h1.15m92.6 -0h1.15m-4.1 0.1h1.15m-40.1 0.4h1.15m35.7 0.2h1.15m14.5 0.1h1.15m-11.4 0.2h1.15m2.2 0.1h1.15m11 -0h1.15m-17.1 0.1h1.15m8.8 0.2h1.15m-15.8 0.3h1.15m-24.3 0.4h1.15m37.6 0.2h1.15m-105.2 0.1h1.15m100.3 0.5h1.15m-40.4 0.1h1.15m36.1 0.1h1.15m5.1 0.1h1.15m1.1 0.1h1.15m-108 0.5h1.15m105.4 -0h1.15m-111.7 0.1h1.15m93.7 -0h1.15m4.7 0.1h1.15m-8 0.1h1.15m6.3 0.2h1.15m-94.4 0.1h1.15m5.8 -0h1.15m40.6 0.4h1.15m41.4 0.2h1.15m10 0.2h1.15m1.4 -0h1.15m-3.2 0.2h1.15m-17.2 0.1h1.15m-92.1 0.1h1.15m98.1 0.2h1.15m1.1 0.1h1.15m-16.3 0.1h1.15m13.6 0.2h1.15m-0.9 0.2h1.15m-10.6 0.1h1.15m-7.8 0.1h1.15m4.6 0.1h1.15m-85.3 0.4h1.15m80.2 -0h1.15m20.6 -0h1.15m-65.8 0.1h1.15m55.8 0.5h1.15m-21.5 0.1h1.15m-22.1 0.2h1.15m-63.3 0.1h1.15m85.8 -0h1.15m-44.9 0.1h1.15m65.9 0.4h1.15m-8.5 0.2h1.15m-56.7 0.3h1.15m-6.9 0.4h1.15m65.5 0.2h1.15m-27.3 0.1h1.15m-0.4 0.1h1.15m25.1 -0h1.15m-74.4 0.2h1.15m60.6 -0h1.15m2 -0h1.15m14.6 -0h1.15m-29.1 0.3h1.15m25.9 0.1h1.15m-2.1 0.6h1.15m-33.5 0.1h1.15m12.8 -0h1.15m0.6 0.1h1.15m9.4 0.2h1.15m-15.1 0.1h1.15m-91 0.7h1.15m87.5 0.1h1.15m12 -0h1.15m-4.3 0.5h1.15m-4 0.1h1.15m-7.2 0.2h1.15m17.8 0.1h1.15m-68.7 0.1h1.15m72.4 0.1h1.15m-27.8 0.1h1.15m3.7 0.1h1.15m-9.6 0.2h1.15m2.4 -0h1.15m-39.4 0.2h1.15m28 -0h1.15m20.6 -0h1.15m-8.3 0.2h1.15m-51.3 0.3h1.15m70.4 0.2h1.15m-75.5 0.2h1.15m44.6 0.2h1.15m-3.9 0.2h1.15m22.7 0.1h1.15m-8.3 0.2h1.15m-9.4 0.2h1.15m-10.6 0.1h1.15m29.6 0.1h1.15m-32 0.4h1.15m-33.8 0.1h1.15m31.6 0.2h1.15m17.3 0.1h1.15m-9.2 0.3h1.15m15 -0h1.15m2.2 -0h1.15m-7 0.1h1.15m-3.1 0.1h1.15m-54.4 0.1h1.15m31.8 0.2h1.15m20.8 0.4h1.15m-7.9 0.3h1.15m-62.4 0.3h1.15m0.9 -0h1.15m54.1 0.1h1.15m-57.9 0.5h1.15m56.2 0.2h1.15m-59.4 0.3h1.15m48 -0h1.15m19.2 -0h1.15m-5.7 0.5h1.15m-60.6 0.2h1.15m55.6 0.2h1.15m8 -0h1.15m-69.5 0.1h1.15m-5.6 0.2h1.15m71 -0h1.15m-13.1 0.1h1.15m11.7 -0h1.15m-5.6 0.2h1.15m-70 0.1h1.15m61.9 0.2h1.15m-61.7 0.1h1.15m4.1 0.1h1.15m-4.8 0.6h1.15m3.2 -0h1.15m61 -0h1.15m-63.8 0.1h1.15m55 0.3h1.15m6.4 -0h1.15m-3.4 0.1h1.15m-62.2 0.3h1.15m59.7 -0h1.15m-14.3 0.4h1.15m4.7 0.4h1.15m-56.8 0.1h1.15m0.9 0.2h1.15m49.8 -0h1.15m-52.6 0.1h1.15m50.2 0.2h1.15m2.6 -0h1.15m-8.2 0.2h1.15m-2.2 0.2h1.15m-51 0.5h1.15m-1.1 0.2h1.15m-4.8 0.2h1.15m2.1 0.6h1.15m-6 0.1h1.15m5.9 0.3h1.15m51.8 0.3h1.15m-58 0.1h1.15m-0.9 0.1h1.15m-5.3 0.4h1.15m4.7 0.4h1.15m1.4 0.1h1.15m-0.9 -0h1.15m-6 0.3h1.15m-0.3 0.2h1.15m1.6 -0h1.15m-3.6 0.1h1.15m1.5 -0h1.15m-4.3 0.4h1.15m1.6 0.6h1.15m-1.5 0.1h1.15m-6.8 0.6h1.15m2 -0h1.15m-5.8 0.7h1.15m3.4 0.7h1.15m-1.6 0.1h1.15m29.1 0.1h1.15m-30 0.6h1.15m2.4 -0h1.15m-3.3 0.6h1.15m-1.8 0.8h1.15m-2.7 1.3h1.15m0.4 0.1h1.15m27.7 1.5h1.15m-12.3 1.9h1.15m9.1 -0h1.15m-4.1 0.9h1.15m-3.9 0.5h1.15m-1.7 0.7h1.15m-3.8 0.5h1.15m4.5 0.1h1.15m-7.6 2.6h1.15"/>
<path stroke="#FC8D62" stroke-width="1.15" fill="none" d="M176.5 224.3h1.15m-58.1 2.5h1.15m61.3 0.8h1.15m-66.6 0.2h1.15m-6.9 0.1h1.15m6 1.3h1.15m-2.6 1.5h1.15m59.7 -0h1.15m-66.4 0.2h1.15m66.9 2h1.15m-4.4 1.6h1.15m13.7 0.7h1.15m-4.8 0.1h1.15m-21.3 1.4h1.15m27.3 0.4h1.15m-14.1 0.2h1.15m0.1 0.4h1.15m8.3 0.5h1.15m-13.7 0.8h1.15m-8.3 0.5h1.15m23.1 0h1.15m-6.2 0.6h1.15m1.5 0.6h1.15m-110.2 9.1h1.15m46.7 0.1h1.15m33.7 2.1h1.15m-2.4 1.6h1.15m-1.2 1.2h1.15m-37.4 0.5h1.15m-37 0.2h1.15m35.6 0.2h1.15m-42.1 1.1h1.15m45.5 0.5h1.15m-44.6 0.3h1.15m76.8 0.2h1.15m-11.1 2.6h1.15m-38.5 0.4h1.15m53.2 0.1h1.15m-106.7 0.1h1.15m62.6 0.9h1.15m30.7 0h1.15m5.9 1.4h1.15m-26.1 0.6h1.15m-22.9 0.5h1.15m-52.3 0.8h1.15m51.6 0.3h1.15m-3.3 0.4h1.15m16.5 0.3h1.15m-55 0.2h1.15m82.7 0h1.15m-50 0.1h1.15m1.2 0h1.15m44.2 0.2h1.15m-34.5 0.2h1.15m23.1 0.1h1.15m-77 0.5h1.15m43.1 0.2h1.15m-10.2 0.1h1.15m6.8 0.1h1.15m39 0.3h1.15m-83.9 0.3h1.15m58.1 -0h1.15m-2.7 0.2h1.15m19 -0h1.15m-23.8 0.5h1.15m-4.9 0.2h1.15m42.3 0.2h1.15m-0.9 0.5h1.15m-104.5 2.3h1.15m67.6 1h1.15m-0.8 0.2h1.15m-27.2 0.1h1.15m3.7 0.3h1.15m-13.2 1.4h1.15m66 -0h1.15m1.7 0.6h1.15m-60.1 0.3h1.15m5.6 0.1h1.15m-0.9 -0h1.15m47.6 0.3h1.15m-53.8 0.1h1.15m2 0.7h1.15m-37.5 0.8h1.15m-29.2 0.1h1.15m55.9 1.2h1.15m11.6 -0h1.15m50.3 0.2h1.15m-86.2 0.1h1.15m1.4 0.1h1.15m88.9 -0h1.15m-91.3 0.1h1.15m14.1 0.8h1.15m11.2 0.5h1.15m-21.2 0.1h1.15m27.6 0.2h1.15m-30.3 0.6h1.15m75.5 0.3h1.15m-60.5 0.4h1.15m76.7 0.5h1.15m-21.2 0.1h1.15m-87.4 0.1h1.15m96.6 -0h1.15m-2.7 0.1h1.15m-80.5 0.1h1.15m-5 0.1h1.15m65.8 0.3h1.15m18.1 -0h1.15m-107.7 0.3h1.15m78 0.2h1.15m-38.3 0.1h1.15m59.1 0.1h1.15m-19 0.2h1.15m-70.7 0.3h1.15m15.9 -0h1.15m-38.8 0.3h1.15m17.1 0.1h1.15m-42.4 0.2h1.15m10 -0h1.15m7.5 0.1h1.15m110.3 0.1h1.15m-12.5 0.1h1.15m24.4 0.6h1.15m-145 1.2h1.15m31.9 0.2h1.15m70.5 -0h1.15m1.4 0.8h1.15m3.3 0.2h1.15m4.6 2.5h1.15m6.7 -0h1.15m-89 1.1h1.15m-8.6 0.3h1.15m-14 0.3h1.15m18.3 -0h1.15m0.9 0.8h1.15m-33.5 0.2h1.15m114 -0h1.15m-33.1 0.3h1.15m23.1 0.2h1.15m-99.7 0.1h1.15m-7.8 0.4h1.15m54.6 0.6h1.15m-36.5 1.1h1.15m-24.8 0.6h1.15m24.9 1.7h1.15m-5.5 1.6h1.15m70.3 0.1h1.15m-3.3 1.5h1.15m2.6 0.5h1.15m14.3 0.9h1.15m-111.8 0.5h1.15m106 0.1h1.15m4.5 0.5h1.15m7.6 -0h1.15m-9.2 0.8h1.15m-2 0.1h1.15m-49.1 0.2h1.15m36.4 1h1.15m-87.4 0.2h1.15m106.1 1h1.15m-59.9 0.4h1.15m2.1 0.7h1.15m30.9 0.4h1.15m-44.4 0.6h1.15m-50.1 2h1.15m102.5 0.1h1.15m-11.4 0.4h1.15m14 0.2h1.15m-60.1 0.8h1.15m51.6 0.4h1.15m0.6 0.1h1.15m-95.1 0.1h1.15m93.6 0.1h1.15m-16.5 0.4h1.15m-43.9 0.2h1.15m2 0.1h1.15m44.1 0.4h1.15m-40.9 0.3h1.15m33.2 0.1h1.15m-86.2 0.4h1.15m56.8 0.1h1.15m-7.5 0.3h1.15m35.6 0.6h1.15m-51.4 0.7h1.15m-38.2 0.9h1.15m39.2 0.3h1.15m10.8 0.2h1.15m43.2 0.2h1.15m-52.6 0.8h1.15m-1 0.2h1.15m51.2 -0h1.15m-15.9 0.4h1.15m-54.9 0.4h1.15m76.2 0.9h1.15m5.8 0.3h1.15m-111.1 0.3h1.15m82.7 0.2h1.15m14.3 0.2h1.15m-44.4 0.2h1.15m-58.7 0.7h1.15m42.8 0.4h1.15m49.3 0.5h1.15m4.3 0.3h1.15m-15.2 0.4h1.15m-3.6 0.2h1.15m22.7 0.1h1.15m-17.4 1.1h1.15m19 0.8h1.15m-11.7 0.1h1.15m6.1 0.5h1.15m-10.4 0.1h1.15m-7.6 0.2h1.15m-4.5 0.6h1.15m1.2 0.5h1.15m13 0.1h1.15m-3.3 2h1.15m-11.1 0.1h1.15m-6 0.3h1.15m-0.3 0.7h1.15m6.4 3.6h1.15"/>
<path stroke="#CAB2D6" stroke-width="1.15" fill="none" d="M74.5 263.2h1.15m9.5 0.1h1.15m-3.8 0.8h1.15m5.7 3.2h1.15m-7.2 2.8h1.15m-3.8 1.3h1.15m19.1 1h1.15m-2.3 2h1.15m-19.5 1h1.15m-5.6 4.4h1.15m11.4 0.2h1.15m6.5 2.5h1.15m-2.8 2h1.15m-21.3 2.6h1.15m5 1.9h1.15m18.3 1.5h1.15m-2.3 5.4h1.15m-20.5 6.2h1.15m0.4 2.2h1.15m16.7 0.4h1.15m-10.1 13.5h1.15"/>
<path stroke="#A6CEE3" stroke-width="1.15" fill="none" d="M137 250.2h1.15m-14.5 6.3h1.15m7.7 0.7h1.15m1.4 0.6h1.15m4.5 0.4h1.15m-20.8 1.4h1.15m0.2 1.5h1.15m10.8 0.6h1.15m5.5 0.9h1.15m-11.6 0.5h1.15m18.5 0h1.15m-18.1 0.3h1.15m13.1 0.1h1.15m-23.6 0.2h1.15m4.7 0.4h1.15m21.3 0.4h1.15m-25.8 0.4h1.15m-6.7 1.6h1.15m30.5 0.7h1.15m-20.8 0.2h1.15m-1.9 0.7h1.15m1.9 2.2h1.15m-11.9 0.6h1.15m21.1 0h1.15m-22.5 0.4h1.15m22.4 0.1h1.15m-4 0.2h1.15m39.4 0.2h1.15m-57 2.6h1.15m11.5 0.4h1.15m52.1 0.1h1.15m-71.9 0.5h1.15m-13.4 0.6h1.15m86.2 0.3h1.15m-75 0.1h1.15m-25.5 0.4h1.15m79 0.3h1.15m-52.6 0.6h1.15m-29.7 0.2h1.15m28.2 0h1.15m1 0h1.15m62.6 0.1h1.15m-91 1.1h1.15m29 0.1h1.15m-31.1 0.1h1.15m-10.5 0.3h1.15m35.2 0.4h1.15m71.2 0.2h1.15m-77.7 0.1h1.15m10.6 0.6h1.15m45.1 0.3h1.15m-60.5 0.1h1.15m73.8 0.2h1.15m-104.7 0.1h1.15m31.4 0.4h1.15m0.5 0.2h1.15m-37.5 0.2h1.15m20.6 0.4h1.15m-15.7 0.1h1.15m39 -0h1.15m52.5 0.8h1.15m-79.6 0.2h1.15m62.3 -0h1.15m0.4 -0h1.15m-59 0.3h1.15m-2.8 0.2h1.15m51.3 0.5h1.15m19.9 0.2h1.15m-73.5 0.2h1.15m11.4 -0h1.15m42.7 0.1h1.15m-71.3 0.1h1.15m72.9 0.4h1.15m-51.7 0.5h1.15m-3.6 6.2h1.15m56 0.2h1.15m-9.7 0.4h1.15m0.6 1.6h1.15m-2.2 0.5h1.15m11.2 0.1h1.15m-62.7 2.5h1.15m58.8 4.8h1.15"/>
<path stroke="#1F78B4" stroke-width="1.15" fill="none" d="M176.9 225h1.15m-1.2 1.7h1.15m-4.3 0.1h1.15m-0.9 0.1h1.15m31.1 0.4h1.15m-20.9 3.2h1.15m10.9 1h1.15m-18.3 2.2h1.15m-10.7 0.9h1.15m17.7 2.6h1.15m-4.2 1.9h1.15m10 0.7h1.15m-2.7 5.8h1.15m-59.1 7.3h1.15m1.7 0.8h1.15m-4.2 0.7h1.15m-4 0.6h1.15m15.4 2.7h1.15m-6.3 0.4h1.15m-14 0.1h1.15m15.2 1h1.15m-15.1 0.5h1.15m-14.8 0.2h1.15m-3.1 0.3h1.15m21 0.4h1.15m-16.4 1.1h1.15m18.8 0h1.15m-21.5 0.3h1.15m18.8 0.3h1.15m-7 0.1h1.15m-17.1 2.1h1.15m20.3 0.1h1.15m0.7 0.1h1.15m-3.9 0.5h1.15m-10.4 1.4h1.15m13.8 0.2h1.15m0.9 1.7h1.15m-5.7 0.4h1.15m-11.3 0.5h1.15m-4.3 0.5h1.15m-7.3 0.5h1.15m15.4 -0h1.15m-21.3 0.6h1.15m14.7 1.9h1.15m-16.2 2.3h1.15m-15.8 0.1h1.15m26.2 0.3h1.15m-25.6 0.5h1.15m24.2 0.5h1.15m-10 0.1h1.15m-17.7 0.3h1.15m7.7 0.4h1.15m-19.8 0.2h1.15m0.5 -0h1.15m19.8 -0h1.15m-6.5 0.3h1.15m7.7 -0h1.15m-26.3 0.1h1.15m21.6 1.1h1.15m5.5 0.5h1.15m-9.5 1h1.15m18.5 -0h1.15m-40.2 0.1h1.15m20.7 0.3h1.15m-5.1 0.9h1.15m-0.8 -0h1.15m-11.5 0.2h1.15m-8.3 0.8h1.15m39.1 -0h1.15m-33.4 0.4h1.15m-17.5 0.3h1.15m28.8 0.2h1.15m-0 0.4h1.15m4.1 0.1h1.15m-11.2 0.2h1.15m4.2 0.8h1.15m14.6 -0h1.15m-9.6 2.1h1.15m-6.2 1h1.15m-2.1 1.2h1.15m5.7 1.2h1.15m-0.3 0.9h1.15m-6.7 6h1.15"/>
<path stroke="#6A3D9A" stroke-width="1.15" fill="none" d="M161.5 290.5h1.15m3.5 3.2h1.15m-2 1.6h1.15m4.9 5.3h1.15m8.5 3.4h1.15m5.6 0.1h1.15m-6.7 1.1h1.15m4.1 -0h1.15m1.4 0.4h1.15m-19.8 1.4h1.15m18 1h1.15m12.4 0.1h1.15m-18.3 1.9h1.15m0.2 0.5h1.15m-8.7 0.1h1.15m-0.3 1.1h1.15m-0.3 0.2h1.15m11.8 2.8h1.15m-2.6 0.8h1.15m2.2 0.5h1.15m-17.7 0.3h1.15m-3.5 0.5h1.15m-4.6 0.8h1.15m-4.6 1h1.15m5.7 -0h1.15m-2.1 0.5h1.15m19.8 1.3h1.15m0.9 0.6h1.15m-25.7 0.1h1.15m0.6 0.1h1.15m3.6 0.9h1.15m17.3 2.2h1.15m-20.7 0.6h1.15m18.3 1.3h1.15m-20 0.4h1.15m20.7 0.4h1.15m-8.9 3.3h1.15m0.7 1.5h1.15m-16.9 0.1h1.15m14.1 0.5h1.15"/>
<path stroke="#FDBF6F" stroke-width="1.15" fill="none" d="M155.9 285.8h1.15m1.9 0.4h1.15m1.1 1.2h1.15m-2.3 3.3h1.15m9.1 7.2h1.15m-2.4 2h1.15m20.3 3.1h1.15m-3.1 2.2h1.15m-3.1 1.5h1.15m13.3 3.1h1.15m-27.2 0.1h1.15m5.7 1h1.15m8.1 0.9h1.15m-13.7 0.8h1.15m12.9 0.1h1.15m-15.6 0.1h1.15m11.4 1.5h1.15m6.4 1h1.15m-27.7 0.9h1.15m6.7 0.1h1.15m3.2 0.7h1.15m11.3 0.1h1.15m-25 0.9h1.15m24.6 -0h1.15m-24 0.1h1.15m17.4 0.1h1.15m2.6 0.6h1.15m-18.4 0.2h1.15m7.3 0.1h1.15m-21.3 0.2h1.15m13.3 0.8h1.15m-0.4 -0h1.15m11.4 0.5h1.15m-12.5 0.8h1.15m10.4 -0h1.15m-12.3 0.2h1.15m-11.9 0.4h1.15m14.3 -0h1.15m-20.1 0.1h1.15m26 0.8h1.15m-6.7 0.7h1.15m4.3 0.8h1.15m3 -0h1.15m-28.3 0.8h1.15m28.9 -0h1.15m-6 0.5h1.15m-27.8 0.1h1.15m15.3 0.5h1.15m14.6 -0h1.15m-10.3 0.8h1.15m2.3 0.3h1.15m-22.5 0.4h1.15m22.9 -0h1.15m-72.7 0.7h1.15m-1.4 0.2h1.15m3.2 0.3h1.15m55.7 0.6h1.15m-2.6 0.3h1.15m9.1 0.3h1.15m-7.3 0.5h1.15m-1.2 0.7h1.15m-60.6 1.2h1.15m59.8 0.3h1.15m-66.9 0.1h1.15m63.6 -0h1.15m-1.4 1.3h1.15m-12.1 0.8h1.15m-50.4 0.5h1.15m57.3 1h1.15m-64.7 0.2h1.15m1.7 0.6h1.15m-3.4 2h1.15m-2.2 0.5h1.15m1.5 0.3h1.15m-0.1 0.1h1.15m-5.5 1h1.15m2.5 0.1h1.15m0.1 1.2h1.15m0.4 0.1h1.15m0.2 0.1h1.15m-3 1.4h1.15m-4 0.5h1.15m0.6 0.2h1.15m-1.2 0.9h1.15"/>
<path stroke="#FF7F00" stroke-width="1.15" fill="none" d="M127.9 334.9h1.15m0.8 7.2h1.15m3.9 0.2h1.15m-5.5 1h1.15m3.6 1.7h1.15m-4.2 0.8h1.15"/>
</g>
<g transform="translate(0.505,190.594) scale(0.9913,1.0745)">
<path stroke="#8DA0CB" stroke-width="1.15" fill="none" d="M175.3 217.9h1.15m-1.2 0.1h1.15m-3.3 0.2h1.15m-3.4 0.1h1.15m1 0.2h1.15m1.6 0h1.15m-0.4 0h1.15m1.6 0h1.15m-9.1 0.1h1.15m-0.8 0h1.15m7.1 0h1.15m0.4 0h1.15m-9.6 0.1h1.15m3.6 0h1.15m4.1 0h1.15m-7.6 0.2h1.15m-7.2 0.1h1.15m2.9 0.1h1.15m-4.3 0.1h1.15m7.2 0.1h1.15m-4.2 0.2h1.15m-2.4 0.1h1.15m-5.6 0.3h1.15m8.7 0h1.15m-5.9 0.1h1.15m-0.3 0.2h1.15m-4.9 0.1h1.15m1.2 0h1.15m1.8 0h1.15m-8.9 0.1h1.15m3.6 0h1.15m4.3 0h1.15m0.1 0h1.15m-0.7 0h1.15m-4.2 0.1h1.15m-1.5 0.1h1.15m1.5 0h1.15m-8.5 0.1h1.15m-0.9 0.2h1.15m2.8 0.1h1.15m-3.6 0.1h1.15m-1.9 0.1h1.15m2.3 0h1.15m-1 0h1.15m1.8 0h1.15m-1.1 0h1.15m-10 0.1h1.15m-0.9 0h1.15m-3.8 0.1h1.15m-0.4 0h1.15m5.5 0h1.15m0.3 0h1.15m0.4 0.1h1.15m-9.2 0.1h1.15m-0.5 0h1.15m1.8 0.1h1.15m-2.6 0.2h1.15m3.4 0.1h1.15m0.7 0.2h1.15m-9.6 0.1h1.15m7.4 0h1.15m-0.5 0.1h1.15m-11.3 0.1h1.15m8.1 0.1h1.15m-3.4 0.2h1.15m-0.7 0.1h1.15m0.7 0h1.15m-10.6 0.1h1.15m4.3 0h1.15m0.4 0h1.15m0.5 0h1.15m-6.5 0.2h1.15m0.3 0.1h1.15m2.7 0.1h1.15m-3.6 0.1h1.15m1.4 0.1h1.15m-1.9 0.1h1.15m-6.7 0.1h1.15m-0.1 0.2h1.15m-1.2 0h1.15m2 0h1.15m-2.3 0.2h1.15m-4 0.2h1.15m5.6 0.1h1.15m-0.1 0h1.15m-0.9 0.1h1.15m-6.3 0.1h1.15m3.1 0h1.15m-6.9 0.1h1.15m1.9 0h1.15m-8.2 0.1h1.15m9.3 0h1.15m-7.5 0.1h1.15m-0.2 0h1.15m-3.9 0.2h1.15m3.8 0.2h1.15m-3.3 0.2h1.15m-1.7 0.2h1.15m-0.5 0h1.15m-4.1 0.1h1.15m-2.2 0.1h1.15m2.2 0.1h1.15m-0.6 0.1h1.15m-4.8 0.1h1.15m-0.3 0h1.15m5.2 0.1h1.15m-5.2 0.6h1.15m3 0.3h1.15m-9.3 0.1h1.15m2.9 0h1.15m1.5 0h1.15m-8.4 0.1h1.15m5.3 0.4h1.15m2 0.3h1.15m-8.9 0.1h1.15m0.6 0h1.15m4.5 0.2h1.15m-9.8 0.4h1.15m1.6 0h1.15m0.2 0h1.15m3.1 0h1.15m0.4 0.2h1.15m-6.2 0.1h1.15m2.5 0h1.15m-7.7 0.2h1.15m-0.8 0h1.15m6.5 0h1.15m-9.1 0.1h1.15m2.3 0.2h1.15m1.4 0.2h1.15m-8.6 0.1h1.15m-1.1 0.3h1.15m7.5 0h1.15m-9.3 0.1h1.15m2.6 0h1.15m0.7 0h1.15m-3.1 0.1h1.15m-5.9 0.3h1.15m-0.6 0.1h1.15m5.1 0.1h1.15m-0.1 0h1.15m-0.8 0h1.15m-2.5 0.1h1.15m0.4 0.1h1.15m0.4 0h1.15m-8.6 0.1h1.15m0.2 0h1.15m-0.9 0h1.15m-1.1 0.3h1.15"/>
<path stroke="#377EB8" stroke-width="1.15" fill="none" d="M188.8 230.9h1.15m-5.3 0.3h1.15m2.5 0.1h1.15m-9.1 0.2h1.15m3.7 0h1.15m0.7 0h1.15m0.2 0.2h1.15m-9.6 0.1h1.15m4.4 0.1h1.15m-5.7 0.1h1.15m-0.3 0h1.15m6.3 0h1.15m-15.1 0.1h1.15m10.1 0h1.15m-4.1 0.1h1.15m0.2 0.1h1.15m-0.3 0h1.15m0.6 0h1.15m-14.4 0.1h1.15m3.4 0h1.15m0.7 0h1.15m-13 0.1h1.15m-0.6 0h1.15m6.9 0h1.15m-1.8 0.1h1.15m-8.9 0.1h1.15m9.7 0h1.15m-8.8 0.1h1.15m1.8 0.1h1.15m10.3 0h1.15m-3.9 0.4h1.15m-14.3 0.1h1.15m-0.7 0h1.15m13.5 0h1.15m0.2 0.1h1.15m-9.4 0.1h1.15m5.6 0h1.15m-12.8 0.1h1.15m13.4 0h1.15m-16 0.2h1.15m4.6 0h1.15m6.3 0h1.15m-15.8 0.1h1.15m12.7 0.1h1.15m-11.5 0.2h1.15m5.7 0h1.15m-12.7 0.1h1.15m10.9 0h1.15m-4.1 0.1h1.15m6.9 0.1h1.15m-14.5 0.2h1.15m6.2 0h1.15m-13.2 0.1h1.15m1.7 0h1.15m5 0h1.15m-5.6 0.1h1.15m0.5 0h1.15m0.6 0h1.15m6.4 0h1.15m-19.2 0.1h1.15m17.3 0h1.15m-9.7 0.1h1.15m9.3 0.1h1.15m-15.3 0.1h1.15m0.2 0.1h1.15m0.1 0.1h1.15m1.2 0h1.15m-12.1 0.1h1.15m11.2 0h1.15m-4.6 0.1h1.15m-0.1 0h1.15m4.6 0h1.15m-7.1 0.2h1.15m-4.6 0.2h1.15m-5.6 0.1h1.15m-0.7 0h1.15m11.2 0h1.15m0.9 0h1.15m-5.9 0.1h1.15m1.1 0h1.15m-0.8 0h1.15m-13.9 0.2h1.15m6 0h1.15m4.5 0h1.15m-0.5 0h1.15m-11.6 0.1h1.15m-0.2 0h1.15m2.8 0h1.15m0.3 0h1.15m0.1 0h1.15m-9.6 0.1h1.15m-0.3 0.1h1.15m0.8 0h1.15m4.5 0.1h1.15m-13.5 0.1h1.15m0.9 0h1.15m16.5 0.1h1.15m-6.9 0.2h1.15m0.8 0h1.15m-10 0.1h1.15m7.7 0h1.15m-12.2 0.1h1.15m2.4 0h1.15m-0.7 0h1.15m7.7 0h1.15m-8.8 0.1h1.15m7.2 0h1.15m-18.5 0.1h1.15m14.3 0h1.15m-13.8 0.1h1.15m-0.2 0h1.15m1 0h1.15m1.8 0h1.15m8.7 0h1.15m-13 0.2h1.15m-0.9 0h1.15m5.7 0h1.15m-11.5 0.1h1.15m3.5 0h1.15m3.9 0.1h1.15m4.9 0h1.15m-18.8 0.1h1.15m6.5 0.1h1.15m3.3 0.1h1.15m-5.6 0.1h1.15m-0.6 0.1h1.15m-3.8 0.1h1.15m6.2 0h1.15m3.3 0.2h1.15m-20.8 0.2h1.15m8 0h1.15m-8.9 0.3h1.15m1.2 0h1.15m4.3 0h1.15m-1.3 0.1h1.15m5 0h1.15m1.3 0h1.15m0.1 0.1h1.15m-17.2 0.2h1.15m6.9 0h1.15m8.3 0h1.15m-20.5 0.1h1.15m3.5 0h1.15m1.7 0h1.15m0.4 0h1.15m-0.3 0.1h1.15m-11 0.1h1.15m4.9 0h1.15m8.9 0h1.15m-1.1 0h1.15m-11.4 0.2h1.15m0.7 0h1.15m-3.5 0.1h1.15m11.3 0h1.15m-10.3 0.1h1.15m-7.2 0.1h1.15m4.3 0h1.15m-3.6 0.1h1.15m2.8 0h1.15m-2.9 0.1h1.15m-0.2 0h1.15m-6.3 0.1h1.15m14.5 0.1h1.15m-14 0.1h1.15m4.4 0.4h1.15m2.3 0.1h1.15m1.3 0h1.15m-4.1 0.4h1.15"/>
<path stroke="#377EB8" stroke-width="1.15" fill="none" d="M194 226.7h1.15m-0.8 0h1.15m-5.5 0.1h1.15m0.2 0h1.15m0.9 0.2h1.15m-11.2 0.1h1.15m7.8 0h1.15m-2.5 0.1h1.15m1.5 0.1h1.15m-3 0.3h1.15m1.9 0h1.15m-8.8 0.6h1.15m0.6 0h1.15m2.3 0h1.15m-5.8 0.1h1.15m2 0h1.15m-7.4 0.1h1.15m7.2 0h1.15m-9.3 0.1h1.15m6.1 0h1.15m-0.2 0h1.15m-4 0.2h1.15m0.9 0h1.15m-2.4 0.2h1.15m-8.3 0.1h1.15m7.5 0.1h1.15m-4.6 0.2h1.15m1.4 0h1.15m-6 0.1h1.15m3.5 0h1.15m0.6 0.1h1.15m-9.3 0.1h1.15m0.8 0h1.15m6.7 0.2h1.15m-6.9 0.2h1.15m-0.2 0.2h1.15m-1 0.2h1.15m-2.3 0.5h1.15m-0.8 0.2h1.15m4.2 0.2h1.15m-5.7 0.2h1.15m-6.1 0.2h1.15m0.3 0.1h1.15m0 0h1.15m2.2 0.2h1.15m-7.6 0.1h1.15m-0.1 0h1.15m1.6 0h1.15m7.2 0h1.15m-9.1 0.1h1.15m5.7 0h1.15m-12 0.1h1.15m6 0h1.15m-0.2 0h1.15m-4.6 0.1h1.15m-4.4 0.7h1.15m-0.1 0h1.15m-3 0.2h1.15m2.7 0h1.15m-0.6 0.1h1.15m-0.8 0h1.15m5 0h1.15m-5.4 0.1h1.15m2 0.1h1.15m0.3 0.2h1.15m-9.6 0.1h1.15m-3.4 0.2h1.15m4.2 0.3h1.15m2.5 0h1.15m0.3 0h1.15m-9.1 0.1h1.15m5.1 0h1.15m-9.3 0.1h1.15m8.5 0h1.15m-11.6 0.4h1.15m2.9 0h1.15m4.4 0h1.15m-3.8 0.2h1.15m1.5 0h1.15m-6.7 0.2h1.15m-0.2 0.2h1.15m-2.9 0.1h1.15m-0.7 0h1.15m1.6 0h1.15m3.3 0h1.15m-11.7 0.4h1.15m6.5 0h1.15m-2 0.1h1.15m0.7 0.1h1.15m-9.6 0.1h1.15m-0.3 0h1.15m4.3 0h1.15m0.5 0.1h1.15m1.5 0h1.15"/>
<path stroke="#E41A1C" stroke-width="1.15" fill="none" d="M195.4 234.3h1.15m-0.8 0.1h1.15m-2.1 0.3h1.15m-0.6 0.1h1.15m-2 0.7h1.15m-2.2 0.1h1.15m1.6 0h1.15m-0.1 0.2h1.15m-0.6 0.8h1.15m-9.8 0.3h1.15m6.3 0h1.15m-0.3 1.2h1.15m-10.2 0.1h1.15m8.4 0.5h1.15m-9.3 0.1h1.15m3.9 0.1h1.15m-1.2 0.1h1.15m-3.5 0.3h1.15m-1.9 0.6h1.15m0.6 1.2h1.15m-0.4 0.3h1.15m-0.4 1.2h1.15m0.7 0.1h1.15m0.1 0h1.15m-9.1 0.1h1.15m-1.2 0.2h1.15m4.1 0.1h1.15m-7 0.4h1.15m5.4 0.3h1.15m-5.6 0.2h1.15m2.7 0.3h1.15m1.2 0h1.15m-8.4 0.2h1.15m0.1 0.4h1.15m-2.3 0.2h1.15m-1.1 0.3h1.15"/>
<path stroke="#4DAF4A" stroke-width="1.15" fill="none" d="M144.1 273.5h1.15m-1.1 0.1h1.15m-5.9 0.2h1.15m-3.4 0.3h1.15m2.2 0.1h1.15m-6.8 0.1h1.15m7.9 -0h1.15m-7.2 0.2h1.15m-8.4 0.1h1.15m8.1 -0h1.15m-0.1 -0h1.15m-10 0.1h1.15m11.2 -0h1.15m-13.8 0.1h1.15m8.3 -0h1.15m-3.2 0.1h1.15m0.7 -0h1.15m-10 0.2h1.15m2.7 -0h1.15m-2 0.1h1.15m5.7 -0h1.15m-5.2 0.1h1.15m4.7 -0h1.15m-9 0.1h1.15m0.8 -0h1.15m-7.8 0.3h1.15m8.6 -0h1.15m-5.4 0.1h1.15m1 -0h1.15m0.4 -0h1.15m4.4 -0h1.15m-1.6 0.1h1.15m-10.6 0.2h1.15m-0.6 -0h1.15m9.1 0.1h1.15m-16.3 0.1h1.15m3.9 0.1h1.15m9.1 -0h1.15m-11.6 0.1h1.15m-1.2 -0h1.15m3.4 0.2h1.15m-0.6 -0h1.15m-7 0.1h1.15m-1.3 0.1h1.15m-0.9 0.2h1.15m0.1 -0h1.15m6.8 -0h1.15m-1.7 0.2h1.15m-9.4 0.1h1.15m1.9 -0h1.15m2 -0h1.15m-6.8 0.1h1.15m-0.7 -0h1.15m-0.6 -0h1.15m-1 0.1h1.15m0 0.2h1.15m5.5 -0h1.15m-9.3 0.1h1.15m6.4 -0h1.15m0.4 -0h1.15m-6.5 0.1h1.15m-2.9 0.1h1.15m4 -0h1.15m-11.7 0.1h1.15m1.8 0.2h1.15m5 -0h1.15m-12.6 0.1h1.15m0.7 -0h1.15m3.5 -0h1.15m4.7 -0h1.15m-0.6 -0h1.15m-10.9 0.1h1.15m2.2 0.2h1.15m3.4 0.1h1.15m0.3 -0h1.15m0.4 -0h1.15m-1 -0h1.15m-10 0.1h1.15m7.1 -0h1.15m-8.1 0.3h1.15m-0.3 0.1h1.15m4 -0h1.15m-0 -0h1.15m-0.7 -0h1.15m-7 0.3h1.15m3.2 -0h1.15m-8.3 0.1h1.15m-6.3 0.1h1.15m10.5 -0h1.15m-11.1 0.1h1.15m6 -0h1.15m0.4 -0h1.15m-0.5 -0h1.15m-7.2 0.1h1.15m0.8 -0h1.15m6.3 -0h1.15m-14.7 0.1h1.15m3.2 -0h1.15m4.5 -0h1.15m2.2 -0h1.15m-5.7 0.1h1.15m-9.1 0.1h1.15m8.2 -0h1.15m-1.6 0.2h1.15m-9.9 0.1h1.15m1.2 -0h1.15m6 -0h1.15m-4.7 0.1h1.15m-3.6 0.1h1.15m6.9 0.1h1.15m-6 0.1h1.15m-0.6 -0h1.15m-7.7 0.1h1.15m10.2 -0h1.15m-9 0.1h1.15m1.7 -0h1.15m-4.5 0.5h1.15m-0.3 -0h1.15m0.8 0.1h1.15m2.7 -0h1.15m-0.1 -0h1.15m-12.8 0.2h1.15m2.2 -0h1.15m-6.4 0.1h1.15m0.7 0.5h1.15m8.6 -0h1.15m-6.7 0.1h1.15m-4.3 0.1h1.15m1.4 0.1h1.15m1 -0h1.15m0.6 -0h1.15m1 0.1h1.15m-12 0.1h1.15m-0.8 -0h1.15m-0.7 -0h1.15m7 -0h1.15m0.2 -0h1.15m0.5 -0h1.15m-0 -0h1.15m-8.7 0.1h1.15m0.4 -0h1.15m-6.9 0.1h1.15m-0 -0h1.15m-0.2 0.1h1.15m-0.7 -0h1.15m-5.2 0.1h1.15m6.3 0.1h1.15m-8.1 0.1h1.15m0.8 -0h1.15m-1 -0h1.15m3.4 0.2h1.15m-5.9 0.1h1.15m-2.5 0.1h1.15m1.3 -0h1.15m-2.5 0.1h1.15m10.3 -0h1.15m-6.4 0.8h1.15m-8.8 0.2h1.15m-1.4 0.1h1.15m-1 0.1h1.15m1.9 -0h1.15m0.4 -0h1.15m7.1 -0h1.15m-5.9 0.2h1.15m2.8 0.1h1.15m-4.8 0.1h1.15m-1.5 0.1h1.15m-0.4 -0h1.15m2 -0h1.15m-7.9 0.1h1.15m4.7 -0h1.15m-6.4 0.2h1.15m0.1 -0h1.15m2.7 -0h1.15m-7.5 0.2h1.15m4.2 -0h1.15"/>
<path stroke="#E41A1C" stroke-width="1.15" fill="none" d="M165.5 312.7h1.15m0.8 0.2h1.15m-2.4 0.3h1.15m-0.6 0h1.15m-1.9 0.2h1.15m1.9 0.1h1.15m-1.3 0.2h1.15m-1.1 0h1.15m-1.4 0.2h1.15m1.6 0.6h1.15m-5.3 0.1h1.15m1.8 0.2h1.15m-4.1 0.1h1.15m-0.1 -0h1.15m3.9 0.1h1.15m-3.1 0.1h1.15m-2 0.1h1.15m-1.1 -0h1.15m1.9 0.4h1.15m-6 0.1h1.15m5.2 0.2h1.15m-3.8 0.3h1.15m1.8 0.1h1.15m-3.5 0.1h1.15m-2.8 0.1h1.15m0.6 -0h1.15m-0.4 -0h1.15m-4.4 0.2h1.15m0.2 -0h1.15m1.1 -0h1.15m-1 0.2h1.15m3.8 0.5h1.15m-4.4 0.3h1.15m-5.5 0.1h1.15m-1.3 0.1h1.15m2.8 -0h1.15m0.2 0.1h1.15m-0.9 -0h1.15m-3.5 0.3h1.15m4.6 -0h1.15m-8.8 0.1h1.15m7.3 0.2h1.15m-7.6 0.2h1.15m3.1 0.1h1.15m2.6 -0h1.15m-7.7 0.1h1.15m5.8 0.3h1.15m-2.3 0.1h1.15m0.4 -0h1.15m-8 0.1h1.15m0.4 0.1h1.15m5 -0h1.15m-3.7 0.1h1.15m0.7 0.3h1.15m1.4 -0h1.15m-6.1 0.2h1.15m-1.5 0.1h1.15m2.1 -0h1.15m1.3 -0h1.15m0.2 -0h1.15m-13 0.2h1.15m11.4 -0h1.15m-12.6 0.1h1.15m6.9 -0h1.15m2.6 -0h1.15m-6.3 0.1h1.15m-4.1 0.1h1.15m-5.3 0.1h1.15m-0 -0h1.15m0.3 -0h1.15m7.5 -0h1.15m-12.2 0.1h1.15m7.5 -0h1.15m-8.3 0.1h1.15m-1.7 0.1h1.15m-1.7 0.1h1.15m0.2 -0h1.15m12.2 -0h1.15m-13.9 0.1h1.15m1.8 -0h1.15m-0 -0h1.15m7.6 -0h1.15m-0.6 -0h1.15m-0.6 0.3h1.15m-9.2 0.1h1.15m0.4 -0h1.15m2.5 -0h1.15m-3.1 0.1h1.15m-2.7 0.3h1.15m1.4 -0h1.15m7.2 0.1h1.15m-18 0.1h1.15m0.9 -0h1.15m13.5 -0h1.15m0.7 0.1h1.15m-12.1 0.1h1.15m3.7 -0h1.15m5.3 0.1h1.15m-10.2 0.1h1.15m6 -0h1.15m1 -0h1.15m-10 0.1h1.15m8 -0h1.15m-18.8 0.1h1.15m0.5 -0h1.15m8.8 -0h1.15m-1 -0h1.15m-6.6 0.1h1.15m5.4 -0h1.15m-16.1 0.1h1.15m5.1 -0h1.15m-0.8 -0h1.15m16.2 0.2h1.15m-14.5 0.1h1.15m11.3 -0h1.15m-15.9 0.1h1.15m-0.5 0.1h1.15m-4.7 0.1h1.15m17.4 -0h1.15m-22.8 0.1h1.15m1.8 -0h1.15m5.5 0.1h1.15m0.3 -0h1.15m5.4 -0h1.15m-2.3 0.1h1.15m0.1 -0h1.15m-7.4 0.1h1.15m-0.7 -0h1.15m9.6 -0h1.15m-13.1 0.1h1.15m4.1 -0h1.15m1.5 0.1h1.15m-20.1 0.1h1.15m7.4 -0h1.15m-9.3 0.1h1.15m1.7 -0h1.15m5.7 -0h1.15m8.5 -0h1.15m-15 0.1h1.15m-0.9 -0h1.15m-6.1 0.2h1.15m11.6 -0h1.15m-10.2 0.1h1.15m-4.8 0.1h1.15m6.2 -0h1.15m0.4 0.1h1.15m-0.9 -0h1.15m1.5 0.1h1.15m-10.3 0.2h1.15m6.7 -0h1.15m6.3 -0h1.15m1.6 -0h1.15m-18.6 0.1h1.15m-0.3 -0h1.15m6.2 -0h1.15m-0.8 -0h1.15m-11.2 0.1h1.15m5.4 -0h1.15m0.3 -0h1.15m-6.9 0.1h1.15m0.9 -0h1.15m-0.9 -0h1.15m-1.6 0.1h1.15m-0.6 -0h1.15m9.7 -0h1.15m-15 0.1h1.15m4.6 -0h1.15m8.9 -0h1.15m-15.1 0.1h1.15m8 -0h1.15m0.9 0.1h1.15m0.7 -0h1.15m-5.7 0.1h1.15m-6.1 0.1h1.15m0.3 -0h1.15m1 -0h1.15m-0.7 -0h1.15m0.4 -0h1.15m1.7 0.1h1.15m1.3 0.2h1.15m-0.1 0.1h1.15"/>
<path stroke="#E41A1C" stroke-width="1.15" fill="none" d="M187 303.6h1.15m-0.3 0h1.15m-7.7 0.2h1.15m4.6 0.7h1.15m-7.5 0.2h1.15m2.7 0h1.15m1.7 0.2h1.15m-6.6 0.8h1.15m2.1 0.3h1.15m-0.7 0h1.15m-0.5 0.3h1.15m-3.1 0.5h1.15m-2 0.3h1.15m1.2 0.1h1.15m-1.9 0.8h1.15m-4.3 0.2h1.15m1.4 0.6h1.15m1.6 0.1h1.15m-7.5 0.2h1.15m4.3 -0h1.15m-3.5 0.4h1.15m0.3 0.6h1.15m0.4 0.4h1.15m-1.7 0.3h1.15m-3.5 0.2h1.15m-3 0.2h1.15m3.2 -0h1.15m-5.8 0.1h1.15m2.3 0.1h1.15"/>
<path stroke="#4DAF4A" stroke-width="1.15" fill="none" d="M186.3 305.5h1.15m0.9 0h1.15m-2.5 0.2h1.15m-0.4 0h1.15m1.8 0.2h1.15m-4.6 0.2h1.15m0.2 0.2h1.15m1.4 0.4h1.15m-1.6 0.1h1.15m-1.9 0.5h1.15m1 0.2h1.15m-1.5 0.9h1.15m-4.2 0.2h1.15m0.1 0.5h1.15m-2.6 0.9h1.15m-0.6 0h1.15m-1.7 0.6h1.15m2 0h1.15m-2 0.3h1.15m-0.6 0.8h1.15m-0.8 0.2h1.15m-6.5 0.3h1.15m-0.9 0.2h1.15m-0.6 0.1h1.15m3.3 0h1.15m-2.6 0.3h1.15m1.6 0.5h1.15m-6.7 0.1h1.15m2 0.5h1.15m0 0.1h1.15m-1.2 0.3h1.15"/>
<path stroke="#4DAF4A" stroke-width="1.15" fill="none" d="M80.4 300.6h1.15m8.8 0h1.15m-16.4 0.1h1.15m15.1 -0h1.15m3.3 -0h1.15m0.5 -0h1.15m-24.1 0.1h1.15m17.9 0.2h1.15m-0.4 -0h1.15m-18.4 0.1h1.15m11.8 0.1h1.15m-12.6 0.1h1.15m-0.7 -0h1.15m7.4 -0h1.15m2.9 0.1h1.15m-15.3 0.1h1.15m0.2 0.1h1.15m-3.2 0.2h1.15m9.2 -0h1.15m-4.5 0.1h1.15m-0.8 -0h1.15m-1.3 0.1h1.15m13 -0h1.15m-15.7 0.1h1.15m2.6 -0h1.15m-8.3 0.2h1.15m0.9 -0h1.15m3.7 -0h1.15m2.8 -0h1.15m-16.6 0.1h1.15m-0.1 -0h1.15m5.3 -0h1.15m4 -0h1.15m8.6 -0h1.15m-21.8 0.1h1.15m7.3 -0h1.15m2.2 -0h1.15m-12.1 0.1h1.15m1.1 -0h1.15m16.2 -0h1.15m-23.4 0.1h1.15m8.9 -0h1.15m6.6 -0h1.15m-7.2 0.1h1.15m0.8 0.1h1.15m-14.2 0.1h1.15m-0.5 -0h1.15m9.9 0.1h1.15m5.8 -0h1.15m-5.5 0.1h1.15m1.8 -0h1.15m-17.9 0.1h1.15m1.2 -0h1.15m-0.4 -0h1.15m4.9 -0h1.15m1.1 -0h1.15m-9.1 0.1h1.15m11.9 0.1h1.15m-14 0.1h1.15m13 -0h1.15m-13.4 0.1h1.15m1.7 -0h1.15m1.1 -0h1.15m-12 0.1h1.15m13.8 -0h1.15m1.4 -0h1.15m-3 0.2h1.15m1.4 0.2h1.15m-3.9 0.1h1.15m-12.7 0.1h1.15m5.7 -0h1.15m-0.4 -0h1.15m8.1 -0h1.15m-14.9 0.1h1.15m7.2 -0h1.15m-13.9 0.2h1.15m7.2 0.1h1.15m5.7 -0h1.15m-8 0.1h1.15m-6.5 0.2h1.15m-0.7 -0h1.15m3.2 -0h1.15m-8.4 0.1h1.15m8.8 0.1h1.15m-8.6 0.1h1.15m4 0.1h1.15m-6.5 0.1h1.15m10.7 -0h1.15m2.3 -0h1.15m-4.1 0.1h1.15m-8.1 0.1h1.15m-6.3 0.1h1.15m3.5 0.2h1.15m0.2 0.1h1.15m-8.4 0.2h1.15m-0.6 -0h1.15m-0.4 -0h1.15m-4.3 0.2h1.15m0.1 -0h1.15m3.1 -0h1.15m-0.7 -0h1.15m1.6 0.2h1.15m4.8 -0h1.15m-13.4 0.1h1.15m8.1 -0h1.15m3.1 -0h1.15m-14 0.3h1.15m11.5 -0h1.15m-9 0.1h1.15m7.4 -0h1.15m-6.6 0.1h1.15m2.1 0.1h1.15m-15.9 0.1h1.15m1.2 -0h1.15m-0.1 0.1h1.15m0 -0h1.15m4 -0h1.15m-9.8 0.1h1.15m1.8 -0h1.15m-5.6 0.2h1.15m7.8 0.1h1.15m-1 0.1h1.15m-1 -0h1.15m-1.1 0.1h1.15m4.2 -0h1.15m-0.3 -0h1.15m-5.6 0.1h1.15m-7.9 0.2h1.15m3.1 -0h1.15m6.2 -0h1.15m-12.4 0.1h1.15m3.4 -0h1.15m-1.6 0.1h1.15m4.1 -0h1.15m-5.1 0.1h1.15m-10.2 0.1h1.15m11.8 0.4h1.15m-11.3 0.1h1.15m12.2 -0h1.15m-0.8 -0h1.15m-11.4 0.2h1.15m8.7 -0h1.15m-8.1 0.2h1.15m4.1 0.1h1.15m-6 0.1h1.15m0.1 -0h1.15m-6.6 0.1h1.15m-1.6 0.1h1.15m4.3 -0h1.15m-5.9 0.1h1.15m0.9 -0h1.15m3.5 0.1h1.15m-9.9 0.1h1.15m2.2 -0h1.15m-6.2 0.1h1.15m2.1 -0h1.15m5.8 -0h1.15m-1.1 0.3h1.15m-10.5 0.4h1.15m-2.9 0.1h1.15m10 -0h1.15m-1.9 0.2h1.15m3.4 -0h1.15m-13.1 0.1h1.15m8.8 -0h1.15m-6.6 0.2h1.15m-6.5 0.1h1.15m3.2 -0h1.15m5.6 0.1h1.15m-1.3 0.1h1.15m0.1 -0h1.15m-9.3 0.1h1.15m2.8 -0h1.15m1.7 -0h1.15m-3.9 0.2h1.15m1.3 -0h1.15m-10.9 0.1h1.15m1.4 0.8h1.15m-3.6 0.4h1.15m9.2 0.5h1.15m-10.7 0.4h1.15m-1.5 0.2h1.15m6.7 0.1h1.15m-1.4 0.1h1.15m-8 0.1h1.15m1.2 -0h1.15m-0.8 0.1h1.15m5.3 0.1h1.15m-12.2 0.1h1.15m5.3 0.1h1.15m2.1 0.2h1.15m-8.9 0.1h1.15m-0.7 -0h1.15m1.5 -0h1.15m4.8 0.2h1.15m-3.4 0.4h1.15m-3.6 0.1h1.15m3.1 -0h1.15m-9.2 0.2h1.15m4 0.3h1.15m-4.1 0.1h1.15m-3.2 0.3h1.15m2.9 0.1h1.15m1.3 -0h1.15m-2.5 0.1h1.15m-2.3 0.2h1.15m-0.7 0.1h1.15m0 -0h1.15m-6.3 0.2h1.15m-1.1 0.1h1.15m5.7 -0h1.15m-3.3 0.2h1.15m-6.4 0.3h1.15m1.4 0.1h1.15m-2.7 0.1h1.15m0.7 -0h1.15m-2.3 0.4h1.15m-0.5 0.1h1.15m2.1 0.3h1.15m0 0.9h1.15m-0.9 0.4h1.15"/>
<path stroke="#4DAF4A" stroke-width="1.15" fill="none" d="M84.6 255.6h1.15m5.2 0.3h1.15m-14.8 0.1h1.15m0 0.1h1.15m14.1 0.3h1.15m-16.5 0.1h1.15m6.7 0.1h1.15m2.4 -0h1.15m-15.7 0.1h1.15m8.1 -0h1.15m-0.7 -0h1.15m6.9 0.1h1.15m-17.4 0.1h1.15m7.4 0.3h1.15m-4.7 0.1h1.15m-7.7 0.2h1.15m12.9 -0h1.15m-11.5 0.1h1.15m8.7 0.1h1.15m-8.1 0.1h1.15m-3.1 0.2h1.15m8.2 -0h1.15m3.4 0.1h1.15m-6.6 0.1h1.15m5 0.1h1.15m-17.6 0.1h1.15m9.8 0.2h1.15m4.4 -0h1.15m-19.7 0.2h1.15m-0.3 -0h1.15m3.6 -0h1.15m6.7 -0h1.15m-3.3 0.1h1.15m6 -0h1.15m-7.1 0.3h1.15m-5.6 0.1h1.15m-9 0.1h1.15m0.4 -0h1.15m-1.8 0.1h1.15m1.4 0.2h1.15m0.6 -0h1.15m2.3 0.1h1.15m-1.9 0.1h1.15m4.1 -0h1.15m-1 -0h1.15m-2.8 0.1h1.15m-2.7 0.1h1.15m-6.1 0.1h1.15m-3 0.1h1.15m-6.1 0.1h1.15m3 0.1h1.15m5.6 -0h1.15m-5.4 0.2h1.15m0.5 0.2h1.15m9.5 -0h1.15m-16 0.1h1.15m6 -0h1.15m-1.4 0.2h1.15m7.9 -0h1.15m-15.2 0.1h1.15m13.5 -0h1.15m-18.3 0.2h1.15m13.7 -0h1.15m-10.4 0.3h1.15m-8 0.1h1.15m13.2 0.1h1.15m-14.8 0.1h1.15m5.8 0.1h1.15m8.6 -0h1.15m-21 0.2h1.15m9.3 -0h1.15m4.5 -0h1.15m-5.4 0.1h1.15m7.1 -0h1.15m-11.4 0.2h1.15m-0.2 -0h1.15m-1.5 0.1h1.15m-9.6 0.1h1.15m-3.2 0.1h1.15m0.6 0.2h1.15m12.1 -0h1.15m1.2 -0h1.15m-2.1 0.1h1.15m-9.1 0.1h1.15m4.4 0.1h1.15m4.7 -0h1.15m-15.1 0.2h1.15m2.8 -0h1.15m8 -0h1.15m0.9 -0h1.15m-2.6 0.1h1.15m-19.6 0.2h1.15m-2.2 0.1h1.15m8.6 -0h1.15m-7.9 0.1h1.15m-2.5 0.1h1.15m12.2 -0h1.15m-8.6 0.1h1.15m-6 0.1h1.15m11.6 0.1h1.15m-14.8 0.2h1.15m5.4 -0h1.15m7.7 -0h1.15m-12.5 0.4h1.15m-5.5 0.1h1.15m7.1 -0h1.15m8.7 0.2h1.15m-4.8 0.1h1.15m1.2 -0h1.15m-16.2 0.6h1.15m4.4 -0h1.15m3.6 -0h1.15m4 0.2h1.15m-7.5 0.2h1.15m-5.2 0.1h1.15m-6.7 0.1h1.15m0.3 -0h1.15m2.6 -0h1.15m0.4 -0h1.15m9.9 -0h1.15m-7.3 0.1h1.15m3.5 -0h1.15m-20 0.1h1.15m13 -0h1.15m-6.1 0.2h1.15m-10.6 0.1h1.15m2.2 -0h1.15m-3.4 0.2h1.15m1.9 -0h1.15m11.7 0.1h1.15m-17.6 0.2h1.15m2.4 0.1h1.15m9.9 -0h1.15m-0.8 -0h1.15m-5.5 0.1h1.15m-9.7 0.1h1.15m6.4 -0h1.15m0.8 -0h1.15m-9.1 0.1h1.15m4.5 -0h1.15m8.1 -0h1.15m-0.1 0.1h1.15m-0.6 0.1h1.15m-15.9 0.2h1.15m5.7 0.2h1.15m2.6 -0h1.15m3.5 -0h1.15m-19.3 0.1h1.15m13.8 0.1h1.15m-10.3 0.1h1.15m2.9 -0h1.15m5.9 -0h1.15m-14.5 0.1h1.15m10.9 -0h1.15m-18.8 0.4h1.15m1.5 0.4h1.15m16.6 0.1h1.15m-11.6 0.1h1.15m-5.4 0.1h1.15m0.3 -0h1.15m-0.3 0.1h1.15m2.4 -0h1.15m-7.3 0.2h1.15m6 -0h1.15m-4.3 0.3h1.15m0.1 -0h1.15m-2.2 0.1h1.15m6 -0h1.15m1.2 -0h1.15m-21.8 0.1h1.15m11.1 0.1h1.15m0.8 -0h1.15m-15.2 0.1h1.15m-0.3 -0h1.15m13.3 -0h1.15m-4.8 0.2h1.15m0.2 -0h1.15m-12 0.1h1.15m13.3 0.1h1.15m-3.7 0.2h1.15m-11.6 0.2h1.15m10.1 0.1h1.15m4.2 -0h1.15m-9.8 0.1h1.15m4.9 -0h1.15m-14 0.1h1.15m9.2 -0h1.15m1.3 -0h1.15m-1.7 0.1h1.15m-0.3 -0h1.15m-8.7 0.1h1.15m10.5 -0h1.15m-19.2 0.1h1.15m17 0.1h1.15m-1 -0h1.15m-9.3 0.1h1.15m6.6 -0h1.15m-11.2 0.2h1.15m0.8 0.2h1.15m-13.6 0.2h1.15m4.7 0.1h1.15m5.2 -0h1.15m-3.7 0.3h1.15m-3.2 0.1h1.15m-8.2 0.3h1.15m1.3 -0h1.15m0.5 -0h1.15m12.3 -0h1.15m-19.1 0.1h1.15m9.4 -0h1.15m2.4 0.1h1.15m2.3 -0h1.15m-15.4 0.1h1.15m6.5 0.2h1.15m7.9 -0h1.15m-23.7 0.1h1.15m14.7 -0h1.15m0.8 -0h1.15m-18.7 0.3h1.15m20.1 -0h1.15m-0.4 -0h1.15m-20.1 0.1h1.15m-1.4 0.1h1.15m7.4 -0h1.15m-6.9 0.1h1.15m-2 0.4h1.15m-0.8 -0h1.15m4.2 -0h1.15m-7.9 0.2h1.15m14.3 -0h1.15m-6.1 0.1h1.15m1.1 -0h1.15m-12.4 0.1h1.15m15.5 -0h1.15m-21.5 0.2h1.15m3.4 0.2h1.15m14.9 0.1h1.15m-0.4 0.2h1.15m-3.6 0.1h1.15m-15.6 0.1h1.15m5.7 -0h1.15m-11.2 0.2h1.15m16.3 -0h1.15m-14.3 0.1h1.15m0.8 -0h1.15m2.4 0.1h1.15m2.8 0.1h1.15m-2 0.1h1.15m-14.2 0.2h1.15m17.4 0.1h1.15m-13.1 0.1h1.15m2.8 0.2h1.15m6.7 0.1h1.15m-6.6 0.1h1.15m-12.1 0.1h1.15m-4.3 0.1h1.15m3.8 -0h1.15m9 0.2h1.15m-11.1 0.1h1.15m11.5 -0h1.15m-0.9 -0h1.15m1.6 0.2h1.15m-7.9 0.1h1.15m-2.7 0.1h1.15m6.5 -0h1.15m-21.1 0.1h1.15m17.4 -0h1.15m-19.9 0.1h1.15m19 -0h1.15m-13 0.2h1.15m-4.8 0.1h1.15m1.8 -0h1.15m9.1 0.1h1.15m-3.6 0.1h1.15m2.6 -0h1.15m0.7 -0h1.15m-22.5 0.2h1.15"/>
</g>
<line x1="51.0" y1="403.2" x2="51.0" y2="579.1" stroke="#999" stroke-width="1.5"/>
<line x1="48.8" y1="456.70" x2="51.0" y2="456.70" stroke="#333" stroke-width="0.9"/>
<text x="46.60" y="459.25" font-size="7.2" text-anchor="end" font-weight="normal" fill="#333" stroke="#333" stroke-width="0.18" >10</text>
<line x1="48.8" y1="515.20" x2="51.0" y2="515.20" stroke="#333" stroke-width="0.9"/>
<text x="46.60" y="517.75" font-size="7.2" text-anchor="end" font-weight="normal" fill="#333" stroke="#333" stroke-width="0.18" >0</text>
<line x1="48.8" y1="574.90" x2="51.0" y2="574.90" stroke="#333" stroke-width="0.9"/>
<text x="46.60" y="577.45" font-size="7.2" text-anchor="end" font-weight="normal" fill="#333" stroke="#333" stroke-width="0.18" >−10</text>
<line x1="51.2" y1="579.1" x2="233.5" y2="579.1" stroke="#333" stroke-width="0.9"/>
<line x1="103.60" y1="579.1" x2="103.60" y2="581.3000000000001" stroke="#333" stroke-width="0.9"/>
<text x="103.60" y="589.00" font-size="7.2" text-anchor="middle" font-weight="normal" fill="#333" stroke="#333" stroke-width="0.18" >0</text>
<line x1="166.10" y1="579.1" x2="166.10" y2="581.3000000000001" stroke="#333" stroke-width="0.9"/>
<text x="166.10" y="589.00" font-size="7.2" text-anchor="middle" font-weight="normal" fill="#333" stroke="#333" stroke-width="0.18" >10</text>
<line x1="229.10" y1="579.1" x2="229.10" y2="581.3000000000001" stroke="#333" stroke-width="0.9"/>
<text x="229.10" y="589.00" font-size="7.2" text-anchor="middle" font-weight="normal" fill="#333" stroke="#333" stroke-width="0.18" >20</text>
<text x="144.10" y="598.90" font-size="8.3" text-anchor="middle" font-weight="normal" fill="#222" stroke="#222" stroke-width="0.18" >UMAP_1</text>
<text transform="translate(30.10,490.20) rotate(-90)" font-size="8.3" text-anchor="middle" fill="#222">UMAP_2</text>
<circle cx="247.3" cy="405.80" r="2.5" fill="#E41A1C"/>
<text x="256.60" y="408.40" font-size="7.3" text-anchor="start" font-weight="normal" fill="#222" stroke="#222" stroke-width="0.18" >NC1</text>
<circle cx="247.3" cy="415.49" r="2.5" fill="#377EB8"/>
<text x="256.60" y="418.09" font-size="7.3" text-anchor="start" font-weight="normal" fill="#222" stroke="#222" stroke-width="0.18" >NC2</text>
<circle cx="247.3" cy="425.18" r="2.5" fill="#4DAF4A"/>
<text x="256.60" y="427.78" font-size="7.3" text-anchor="start" font-weight="normal" fill="#222" stroke="#222" stroke-width="0.18" >NC3</text>
<circle cx="247.3" cy="434.87" r="2.5" fill="#A6CEE3"/>
<text x="256.60" y="437.47" font-size="7.3" text-anchor="start" font-weight="normal" fill="#222" stroke="#222" stroke-width="0.18" >HP1</text>
<circle cx="247.3" cy="444.56" r="2.5" fill="#1F78B4"/>
<text x="256.60" y="447.16" font-size="7.3" text-anchor="start" font-weight="normal" fill="#222" stroke="#222" stroke-width="0.18" >HP2</text>
<circle cx="247.3" cy="454.25" r="2.5" fill="#B2DF8A"/>
<text x="256.60" y="456.85" font-size="7.3" text-anchor="start" font-weight="normal" fill="#222" stroke="#222" stroke-width="0.18" >HP3</text>
<circle cx="247.3" cy="463.94" r="2.5" fill="#33A02C"/>
<text x="256.60" y="466.54" font-size="7.3" text-anchor="start" font-weight="normal" fill="#222" stroke="#222" stroke-width="0.18" >HP4</text>
<circle cx="247.3" cy="473.63" r="2.5" fill="#FB9A99"/>
<text x="256.60" y="476.23" font-size="7.3" text-anchor="start" font-weight="normal" fill="#222" stroke="#222" stroke-width="0.18" >SSL1</text>
<circle cx="247.3" cy="483.32" r="2.5" fill="#E31A1C"/>
<text x="256.60" y="485.92" font-size="7.3" text-anchor="start" font-weight="normal" fill="#222" stroke="#222" stroke-width="0.18" >SSL2</text>
<circle cx="247.3" cy="493.01" r="2.5" fill="#FDBF6F"/>
<text x="256.60" y="495.61" font-size="7.3" text-anchor="start" font-weight="normal" fill="#222" stroke="#222" stroke-width="0.18" >SSL3</text>
<circle cx="247.3" cy="502.70" r="2.5" fill="#FF7F00"/>
<text x="256.60" y="505.30" font-size="7.3" text-anchor="start" font-weight="normal" fill="#222" stroke="#222" stroke-width="0.18" >SSL4</text>
<circle cx="247.3" cy="512.39" r="2.5" fill="#CAB2D6"/>
<text x="256.60" y="514.99" font-size="7.3" text-anchor="start" font-weight="normal" fill="#222" stroke="#222" stroke-width="0.18" >SSL5</text>
<circle cx="247.3" cy="522.08" r="2.5" fill="#6A3D9A"/>
<text x="256.60" y="524.68" font-size="7.3" text-anchor="start" font-weight="normal" fill="#222" stroke="#222" stroke-width="0.18" >SSLD1</text>
<circle cx="247.3" cy="531.77" r="2.5" fill="#FFFF99"/>
<text x="256.60" y="534.37" font-size="7.3" text-anchor="start" font-weight="normal" fill="#222" stroke="#222" stroke-width="0.18" >SSLD2</text>
<circle cx="247.3" cy="541.46" r="2.5" fill="#B15928"/>
<text x="256.60" y="544.06" font-size="7.3" text-anchor="start" font-weight="normal" fill="#222" stroke="#222" stroke-width="0.18" >TSA1</text>
<circle cx="247.3" cy="551.15" r="2.5" fill="#66C2A5"/>
<text x="256.60" y="553.75" font-size="7.3" text-anchor="start" font-weight="normal" fill="#222" stroke="#222" stroke-width="0.18" >TSA2</text>
<circle cx="247.3" cy="560.84" r="2.5" fill="#FC8D62"/>
<text x="256.60" y="563.44" font-size="7.3" text-anchor="start" font-weight="normal" fill="#222" stroke="#222" stroke-width="0.18" >TSA3</text>
<circle cx="247.3" cy="570.53" r="2.5" fill="#8DA0CB"/>
<text x="256.60" y="573.13" font-size="7.3" text-anchor="start" font-weight="normal" fill="#222" stroke="#222" stroke-width="0.18" >TSA4</text>
<circle cx="247.3" cy="580.22" r="2.5" fill="#E78AC3"/>
<text x="256.60" y="582.82" font-size="7.3" text-anchor="start" font-weight="normal" fill="#222" stroke="#222" stroke-width="0.18" >TSA5</text>
<g transform="translate(13.280,541.533) scale(0.5300,0.5080)">
<g filter="url(#rough)">
<path d="M84.0,244.7 L90.2,247.3 L94.6,250.0 L96.3,254.4 L100.7,257.0 L100.7,261.4 L97.2,263.2 L100.7,266.7 L102.9,269.3 L102.5,274.6 L100.7,279.0 L101.5,286.5 L90.2,287.5 L81.4,287.5 L74.4,288.0 L71.7,287.8 L67.3,284.3 L65.6,279.9 L68.2,276.3 L72.6,272.8 L71.7,268.4 L69.1,264.9 L71.7,261.4 L71.3,257.0 L74.4,252.6 L76.1,248.2 L79.6,246.0Z" fill="#D3D3D3" stroke="#D3D3D3" stroke-width="1.4"/>
<path d="M96.0,284.5 L104.0,285.0 L111.0,289.0 L113.0,298.0 L106.0,297.0 L99.0,291.0Z" fill="#D3D3D3" stroke="#D3D3D3" stroke-width="1.4"/>
<path d="M73.9,286.2 L84.0,283.5 L93.7,285.3 L99.0,288.8 L102.5,295.0 L107.8,299.4 L111.7,303.8 L109.5,307.3 L104.3,309.0 L99.9,311.7 L99.0,317.0 L95.5,321.3 L91.9,325.7 L87.6,324.0 L83.2,319.6 L84.0,314.3 L81.4,309.0 L75.2,303.8 L73.5,297.6 L73.5,290.6Z" fill="#D3D3D3" stroke="#D3D3D3" stroke-width="1.4"/>
<path d="M135.2,249.7 L142.2,252.3 L149.3,255.0 L155.4,256.7 L152.8,262.9 L156.3,268.2 L157.2,274.3 L149.3,275.2 L152.8,281.3 L147.5,284.9 L142.2,288.4 L139.6,294.5 L137.8,300.0 L135.2,292.8 L134.3,289.3 L131.0,286.0 L130.0,272.0 L128.2,269.9 L123.8,265.5 L122.9,262.0 L119.4,260.2 L119.4,257.6 L126.4,254.9 L130.8,251.4Z" fill="#E8A971" stroke="#E8A971" stroke-width="1.4"/>
<path d="M99.0,279.0 L102.6,277.8 L106.2,275.2 L113.2,274.3 L122.0,274.3 L128.2,269.9 L131.5,272.0 L132.5,286.5 L129.9,285.7 L124.6,284.0 L117.6,285.7 L110.6,285.7 L105.3,282.2 L99.0,283.5Z" fill="#DBC3AD" stroke="#D3D3D3" stroke-width="1.4"/>
<path d="M179.9,304.1 L185.2,301.9 L190.5,303.2 L194.0,306.7 L198.4,309.4 L206.3,306.7 L201.0,312.0 L199.3,316.4 L204.5,320.8 L208.1,324.3 L204.5,327.0 L201.0,331.3 L195.7,334.9 L189.6,336.6 L183.4,334.9 L180.8,331.3 L178.2,326.9 L172.0,325.2 L167.6,319.9 L170.2,316.4 L174.6,312.9 L177.3,309.4Z" fill="#D3D3D3" stroke="#D3D3D3" stroke-width="1.4"/>
<path d="M155.0,285.0 L159.5,285.2 L168.0,293.0 L176.4,305.8 L177.5,310.4 L173.5,308.6 L166.0,297.5 L157.0,288.0Z" fill="#D8C9BC" stroke="#D3D3D3" stroke-width="1.4"/>
<path d="M137.3,306.4 L143.4,304.7 L149.6,306.4 L152.7,310.0 L152.2,315.2 L153.1,321.4 L150.5,324.9 L145.2,327.6 L139.0,328.4 L133.8,326.7 L130.2,323.2 L128.5,320.5 L131.1,316.1 L134.6,312.6 L135.5,309.1Z" fill="#D3D3D3" stroke="#D3D3D3" stroke-width="1.4"/>
<path d="M136.0,300.3 L138.0,300.3 L137.0,306.0 L135.8,310.5 L134.0,310.0Z" fill="#DBC4B0" stroke="#D3D3D3" stroke-width="1.4"/>
<path d="M115.3,317.9 L121.4,317.0 L127.6,316.1 L129.5,319.6 L123.2,321.4 L116.2,324.0Z" fill="#D3D3D3" stroke="#D3D3D3" stroke-width="1.4"/>
<path d="M168.2,217.9 L177.0,217.0 L181.4,220.6 L182.3,225.8 L185.8,229.4 L192.0,227.6 L195.5,226.7 L198.1,230.2 L204.3,227.6 L208.7,224.1 L205.1,230.2 L200.7,235.5 L201.6,240.8 L197.2,244.3 L191.9,246.1 L189.3,243.4 L184.0,239.0 L178.8,238.2 L172.6,239.9 L167.3,236.4 L171.7,233.8 L168.2,232.0 L172.6,230.2 L171.7,224.1Z" fill="#D3D3D3" stroke="#D3D3D3" stroke-width="1.4"/>
<path d="M180.6,277.6 L187.6,275.8 L196.4,275.0 L201.7,274.1 L207.8,275.8 L210.9,279.4 L208.7,282.9 L205.2,286.4 L199.9,287.3 L198.2,292.6 L196.4,295.2 L192.9,294.3 L188.5,298.7 L187.6,295.2 L183.2,291.7 L177.9,289.0 L174.4,286.4 L178.8,284.6 L179.7,281.1Z" fill="#D3D3D3" stroke="#D3D3D3" stroke-width="1.4"/>
<path d="M212.2,284.0 L216.0,282.9 L219.3,285.0 L217.5,287.3 L213.5,287.0Z" fill="#D3D3D3" stroke="#D3D3D3" stroke-width="1.4"/>
<path d="M187.0,263.5 L188.6,263.5 L188.6,275.0 L187.0,275.0Z" fill="#D3D3D3" stroke="#D3D3D3" stroke-width="1.4"/>
<path d="M197.6,295.0 L199.0,295.0 L199.0,305.0 L197.6,305.0Z" fill="#D3D3D3" stroke="#D3D3D3" stroke-width="1.4"/>
<path d="M168.2,248.7 L173.5,247.8 L177.9,251.3 L179.6,256.6 L182.3,261.0 L183.2,263.7 L179.6,266.3 L174.4,270.0 L167.9,271.2 L166.0,266.0 L162.0,263.5 L165.7,258.0 L165.4,252.0Z" fill="#D3D3D3" stroke="#D3D3D3" stroke-width="1.4"/>
<path d="M203.4,298.7 L207.8,301.3 L212.2,297.8 L217.5,299.6 L220.6,304.0 L219.3,307.5 L214.0,310.1 L208.7,310.1 L206.9,307.5 L205.2,304.0Z" fill="#D3D3D3" stroke="#D3D3D3" stroke-width="1.4"/>
<path d="M135.2,224.0 L140.5,227.6 L144.9,223.2 L149.3,222.3 L151.0,224.9 L150.1,229.3 L152.8,232.8 L151.9,236.3 L148.4,235.5 L145.7,231.9 L142.2,232.8 L138.7,230.2 L136.9,226.7Z" fill="#D3D3D3" stroke="#D3D3D3" stroke-width="1.4"/>
<path d="M110.6,227.6 L115.0,225.8 L120.2,226.2 L123.8,228.4 L122.0,231.1 L117.6,232.0 L113.2,231.5 L110.1,229.7Z" fill="#D3D3D3" stroke="#D3D3D3" stroke-width="1.4"/>
<path d="M111.5,230.5 L112.8,231.0 L108.2,235.8 L107.6,235.3Z" fill="#D3D3D3" stroke="#D3D3D3" stroke-width="1.4"/>
<path d="M127.6,330.2 L132.9,327.6 L137.3,330.2 L136.4,334.6 L137.3,341.6 L135.5,344.3 L131.1,345.6 L128.5,343.4 L127.2,337.2Z" fill="#D3D3D3" stroke="#D3D3D3" stroke-width="1.4"/>
<path d="M149.6,348.7 L155.7,346.9 L159.3,349.5 L157.5,353.1 L151.3,353.9Z" fill="#D3D3D3" stroke="#D3D3D3" stroke-width="1.4"/>
<path d="M161.0,346.9 L166.3,346.9 L168.1,349.5 L165.4,352.2 L161.9,351.3Z" fill="#D3D3D3" stroke="#D3D3D3" stroke-width="1.4"/>
<path d="M117.9,293.0 L122.5,292.5 L125.5,295.5 L123.5,297.8 L118.5,297.0Z" fill="#D3D3D3" stroke="#D3D3D3" stroke-width="1.4"/>
<path d="M58.5,295.0 L62.9,292.3 L66.4,289.7 L68.2,288.8 L64.7,293.2 L66.4,296.3 L61.2,297.2 L59.0,296.3Z" fill="#D3D3D3" stroke="#D3D3D3" stroke-width="1.4"/>
<path d="M142.2,204.7 L146.6,208.2 L151.0,212.6 L152.8,213.9 L147.5,213.5 L144.0,212.6 L142.2,209.1Z" fill="#D3D3D3" stroke="#D3D3D3" stroke-width="1.4"/>
<path d="M124.5,211.0 L128.5,210.8 L130.0,214.5 L127.5,216.2 L124.0,215.0Z" fill="#D3D3D3" stroke="#D3D3D3" stroke-width="1.4"/>
<path d="M222.0,278.8 L226.5,279.0 L227.0,281.5 L222.5,281.8Z" fill="#D3D3D3" stroke="#D3D3D3" stroke-width="1.4"/>
<path d="M162.3,341.9 L165.8,339.3 L165.0,341.5Z" fill="#D3D3D3" stroke="#D3D3D3" stroke-width="1.4"/>
<path d="M171.1,346.3 L174.6,344.5 L174.0,346.0Z" fill="#D3D3D3" stroke="#D3D3D3" stroke-width="1.4"/>
</g>
<path stroke="#E9A76E" stroke-width="2" fill="none" d="M176.2 219.2h2m3 16.9h2m16.6 1.5h2m-9.9 3.5h2m1.5 2.8h2m-108.9 7.5h2m-5.6 1h2m-4.7 3.5h2m8.7 0.9h2m-7.9 3.5h2m-0.5 2h2m-12.6 1.8h2m18.7 2.9h2m-0.2 3.3h2m-18 0.6h2m9.8 0.1h2m-29.9 7h2m11.6 1.1h2m3.5 2.9h2m7.5 10.3h2m-24.8 0.5h2m-2.1 3.2h2m17.8 4.8h2m-15.8 0.7h2m22.6 -0h2m-7.9 4.5h2m-17.6 0.1h2m20 0.3h2m-20.8 0.3h2m4.6 2h2m-2.9 12.9h2"/>
<path stroke="#F29543" stroke-width="2" fill="none" d="M130.7 252.6h2m5.9 0h2m-6.9 0.7h2m-3.9 0.2h2m0.7 0.2h2m1.5 0.5h2m3.2 0.1h2m-10.8 0.2h2m-8.5 0.2h2m1.9 0h2m6.5 0.1h2m-6.4 0.4h2m0.1 0.1h2m5.9 0.1h2m-5.8 0.2h2m2.4 0.1h2m-0.2 0.1h2m-4 0.2h2m-4.4 0.1h2m-16.7 0.5h2m3.9 0.2h2m10.2 0h2m-21.6 0.1h2m20.8 0.1h2m-23.6 0.1h2m18.7 0h2m0.2 0.1h2m-20.1 0.2h2m0.5 0h2m-13.4 0.1h2m6.8 0.1h2m15.4 0h2m0.8 0.1h2m-9.8 0.1h2m-2.3 0.3h2m-16.1 0.2h2m3.6 0.1h2m6.1 0.1h2m-1.1 0.1h2m-27 0.1h2m12.2 -0h2m13 -0h2m-29.9 0.1h2m7.2 0.1h2m3.4 0.3h2m5.3 0.3h2m-23.5 0.1h2m21.3 0.1h2m0.1 0.1h2m-20.9 0.2h2m16.2 -0h2m-22.4 0.1h2m5.4 0.1h2m-15.8 0.1h2m12.8 0.1h2m-16.4 0.4h2m7.3 0.4h2m-0.7 -0h2m13.9 0.1h2m-18.2 0.1h2m6.4 0.2h2m-3.3 0.1h2m1.6 0.1h2m-11.4 0.2h2m-1.4 0.3h2m11.9 0.1h2m-20.9 0.2h2m-5.7 0.1h2m12.1 -0h2m6.5 -0h2m-25.9 0.1h2m3.1 0.2h2m1.9 -0h2m-0.5 0.1h2m11.9 -0h2m-11.4 0.4h2m5 -0h2m-15.8 0.1h2m13.3 -0h2m-25 0.1h2m26.8 -0h2m-16 0.2h2m9.3 0.1h2m-24.6 0.2h2m4.3 0.1h2m10.7 0.4h2m-10.8 0.2h2m11.5 -0h2m-19.4 0.2h2m-12.1 0.1h2m2.7 0.2h2m12 0.2h2m-20.6 0.4h2m25.8 0.1h2m-28.6 0.4h2m4.4 0.2h2m3.6 0.3h2m-3.2 0.7h2m-8 0.3h2m-0.4 0.3h2m7.7 -0h2m-12.5 0.1h2m0.5 -0h2m8.9 0.1h2m-14.3 0.2h2m2.2 -0h2m2.1 -0h2m-14.1 0.3h2m17.7 -0h2m-14.7 0.3h2m7.4 0.1h2m-0.8 0.1h2m-1.4 0.1h2m-13.5 0.3h2m-0.4 0.5h2m1.6 0.1h2m0.1 -0h2m-8.1 0.2h2m1.8 0.5h2m-12.5 0.1h2m23.4 0.1h2m-3.7 0.2h2m0.2 0.3h2m-19.9 0.4h2m4.1 -0h2m2.2 -0h2m-10.2 0.1h2m8.1 0.3h2m2 -0h2m-3.1 0.3h2m-10.1 0.3h2m-1.2 0.3h2m7 0.1h2m-2.1 0.4h2m-0.8 0.2h2m-7.4 0.1h2m4.9 0.1h2m-21.9 0.1h2m3 0.1h2m-5 0.1h2m4 -0h2m-12 0.2h2m-6.2 0.2h2m-0.3 0.4h2m4.2 0.1h2m11.8 -0h2m-13.3 0.6h2m6.3 0.2h2m-16.7 0.6h2m11.2 0.7h2m-4.3 0.4h2m-9.9 0.2h2m4.2 -0h2m-0.3 0.5h2m-7.8 0.1h2m7.5 -0h2m-12.6 0.8h2m6.9 0.1h2m-7 0.1h2m-9.4 0.4h2m12.3 0.7h2m-17.1 0.1h2m4.5 0.1h2m4.3 0.3h2m-7.5 0.2h2m5 0.1h2m-17.1 0.2h2m7.4 0.6h2m5.8 -0h2m-1.7 -0h2m-20.3 0.2h2m5.3 0.3h2m-8.6 0.2h2m8.6 -0h2m0 -0h2m2 0.1h2m-16.2 0.7h2m8.9 0.4h2m-11.3 0.7h2m-7.6 0.1h2m9.2 0.5h2m2.2 0.1h2m-6.9 0.4h2m0.4 0.6h2m-3.4 0.3h2m-6.8 0.3h2m-5.2 0.7h2m-1.8 2.1h2m4.4 0.1h2m-7.1 0.9h2m0.5 1.4h2m-1.1 1.7h2m-2.7 1.2h2m-4.3 1.9h2m-1.4 2.4h2"/>
<path stroke="#DEBDA1" stroke-width="2" fill="none" d="M130.3 255.8h2m-10.9 2.6h2m23.5 1.1h2m-20.1 1.5h2m16.4 0.2h2m-19 0.6h2m-2.1 0.4h2m-1.2 0.4h2m19.4 3.1h2m-16.2 0.4h2m10 1h2m-17.1 4.3h2m2.8 0.5h2m4 -0h2m-9.6 0.2h2m16.5 2.1h2m-9.6 1.7h2m-8.1 6.5h2m1 1.2h2m-11.1 1.5h2m-5.5 2.2h2m5.4 1.7h2"/>
<path stroke="#F0994C" stroke-width="2" fill="none" d="M127.5 272h2m0.3 0.3h2m-5.3 1h2m-0.7 0.3h2m-4 0.1h2m-2 -0h2m-2.6 0.1h2m-1.9 0.2h2m-12 1.3h2m5.2 -0h2m-6.8 0.2h2m2.6 -0h2m-3.1 0.1h2m7.3 0.2h2m-24.5 0.6h2m19.6 0.6h2m-22.4 0.1h2m4.1 0.4h2m5.7 0.1h2m-19.6 0.2h2m6 -0h2m4.6 -0h2m-8.9 0.1h2m1.1 -0h2m-13.7 0.2h2m4.1 -0h2m13.4 0.3h2m2.7 -0h2m-1.7 0.4h2m-23.9 0.3h2m12.3 -0h2m-22.5 0.1h2m20.6 -0h2m-18.7 0.1h2m5.8 -0h2m3.2 -0h2m-14.2 0.1h2m5.7 -0h2m-9.2 0.1h2m-3.9 0.1h2m-1.3 0.1h2m7.9 0.1h2m-6.6 0.3h2m-3.5 0.1h2m-14.2 0.2h2m4.7 0.2h2m6.6 -0h2m12.6 0.1h2m-3.2 0.1h2m-32 0.1h2m12.6 -0h2m0.8 -0h2m12 -0h2m-28.7 0.1h2m21.1 -0h2m-1.2 -0h2m-23.2 0.2h2m1.3 -0h2m1.8 -0h2m-4.3 0.1h2m6.3 -0h2m-15 0.1h2m8.5 -0h2m-11.3 0.1h2m21.1 -0h2m-3.3 0.5h2m-17.6 0.1h2m0.1 -0h2m2.1 0.1h2m-16.5 0.1h2m9.9 -0h2m1.1 0.2h2m4.6 -0h2m-26.1 0.3h2m3.4 -0h2m1.1 -0h2m0 -0h2m13.5 -0h2m-27.3 0.1h2m11.8 -0h2m-16.8 0.2h2m6.5 0.2h2m10.2 0.1h2m-11.2 0.1h2m9.6 -0h2m0 -0h2m-30.2 0.2h2m20.2 -0h2m5.2 -0h2m-11 0.1h2m9.8 -0h2m-11.6 0.1h2m3 -0h2m-3.6 0.4h2m-3.1 0.7h2m-16.1 0.1h2m-0.7 -0h2m-0.1 -0h2m4.1 -0h2m9.9 -0h2m-24.9 0.3h2m0.2 0.5h2m18.3 -0h2m-22.6 0.2h2m4.6 0.1h2m36.1 -0h2m-0.7 0.2h2m-1.9 -0h2m-45.5 0.1h2m-0.8 -0h2m41.2 0.3h2m-2.9 0.8h2m-2.2 0.3h2m-0.3 0.1h2m-0.8 0.8h2m-3.2 1.6h2m-0.2 0.2h2m0 0.8h2m-1.6 1.5h2m-1.4 0.1h2m0.3 0.5h2m-1.5 0.1h2m-3.7 0.4h2m-1.7 -0h2m-1.9 0.9h2m2.6 1.7h2m-0.7 1.6h2m-4.7 1.7h2m0.9 0.4h2m-3.9 0.9h2m-33.8 0.2h2m32.1 0.2h2m-0.7 0.1h2m-1.6 1.3h2m-1.2 -0h2m-39.4 0.1h2m31.5 1.1h2m-1.7 0.2h2m0.6 0.1h2m-0.2 0.8h2m-1.6 0.3h2m-1.9 0.8h2m-4.1 0.1h2m-3.2 0.4h2m0.2 -0h2m-40.5 0.3h2m-1.9 0.3h2m35.8 0.4h2m-2 -0h2"/>
</g>
<line x1="37.9" y1="640.4" x2="37.9" y2="727.0" stroke="#333" stroke-width="0.9"/>
<line x1="35.699999999999996" y1="667.20" x2="37.9" y2="667.20" stroke="#333" stroke-width="0.9"/>
<text x="34.50" y="669.75" font-size="7.2" text-anchor="end" font-weight="normal" fill="#333" stroke="#333" stroke-width="0.18" >10</text>
<line x1="35.699999999999996" y1="695.00" x2="37.9" y2="695.00" stroke="#333" stroke-width="0.9"/>
<text x="34.50" y="697.55" font-size="7.2" text-anchor="end" font-weight="normal" fill="#333" stroke="#333" stroke-width="0.18" >0</text>
<line x1="35.699999999999996" y1="723.10" x2="37.9" y2="723.10" stroke="#333" stroke-width="0.9"/>
<text x="34.50" y="725.65" font-size="7.2" text-anchor="end" font-weight="normal" fill="#333" stroke="#333" stroke-width="0.18" >−10</text>
<line x1="37.9" y1="727.0" x2="139.9" y2="727.0" stroke="#333" stroke-width="0.9"/>
<line x1="68.40" y1="727.0" x2="68.40" y2="729.2" stroke="#333" stroke-width="0.9"/>
<text x="68.40" y="736.00" font-size="7.2" text-anchor="middle" font-weight="normal" fill="#333" stroke="#333" stroke-width="0.18" >0</text>
<line x1="101.80" y1="727.0" x2="101.80" y2="729.2" stroke="#333" stroke-width="0.9"/>
<text x="101.80" y="736.00" font-size="7.2" text-anchor="middle" font-weight="normal" fill="#333" stroke="#333" stroke-width="0.18" >10</text>
<line x1="135.20" y1="727.0" x2="135.20" y2="729.2" stroke="#333" stroke-width="0.9"/>
<text x="135.20" y="736.00" font-size="7.2" text-anchor="middle" font-weight="normal" fill="#333" stroke="#333" stroke-width="0.18" >20</text>
<text x="89.60" y="745.60" font-size="8.3" text-anchor="middle" font-weight="normal" fill="#222" stroke="#222" stroke-width="0.18" >UMAP_1</text>
<text transform="translate(17.30,682.40) rotate(-90)" font-size="8.3" text-anchor="middle" fill="#222">UMAP_2</text>
<text x="88.50" y="634.20" font-size="9.6" text-anchor="middle" font-weight="bold" fill="#111" stroke="#111" stroke-width="0.2" >EPCAM</text>
<defs><linearGradient id="g0" x1="0" y1="1" x2="0" y2="0"><stop offset="0" stop-color="#D3D3D3"/><stop offset="1" stop-color="#F78A2A"/></linearGradient></defs>
<rect x="148.50" y="661.80" width="9.3" height="47.50" fill="url(#g0)"/>
<line x1="148.50" y1="709.30" x2="150.30" y2="709.30" stroke="#fff" stroke-width="0.5"/>
<line x1="156.00" y1="709.30" x2="157.80" y2="709.30" stroke="#fff" stroke-width="0.5"/>
<text x="162.50" y="711.90" font-size="7.2" text-anchor="start" font-weight="normal" fill="#222" stroke="#222" stroke-width="0.18" >0</text>
<line x1="148.50" y1="698.74" x2="150.30" y2="698.74" stroke="#fff" stroke-width="0.5"/>
<line x1="156.00" y1="698.74" x2="157.80" y2="698.74" stroke="#fff" stroke-width="0.5"/>
<text x="162.50" y="701.34" font-size="7.2" text-anchor="start" font-weight="normal" fill="#222" stroke="#222" stroke-width="0.18" >1</text>
<line x1="148.50" y1="688.19" x2="150.30" y2="688.19" stroke="#fff" stroke-width="0.5"/>
<line x1="156.00" y1="688.19" x2="157.80" y2="688.19" stroke="#fff" stroke-width="0.5"/>
<text x="162.50" y="690.79" font-size="7.2" text-anchor="start" font-weight="normal" fill="#222" stroke="#222" stroke-width="0.18" >2</text>
<line x1="148.50" y1="677.63" x2="150.30" y2="677.63" stroke="#fff" stroke-width="0.5"/>
<line x1="156.00" y1="677.63" x2="157.80" y2="677.63" stroke="#fff" stroke-width="0.5"/>
<text x="162.50" y="680.23" font-size="7.2" text-anchor="start" font-weight="normal" fill="#222" stroke="#222" stroke-width="0.18" >3</text>
<line x1="148.50" y1="667.08" x2="150.30" y2="667.08" stroke="#fff" stroke-width="0.5"/>
<line x1="156.00" y1="667.08" x2="157.80" y2="667.08" stroke="#fff" stroke-width="0.5"/>
<text x="162.50" y="669.68" font-size="7.2" text-anchor="start" font-weight="normal" fill="#222" stroke="#222" stroke-width="0.18" >4</text>
<g transform="translate(176.680,541.533) scale(0.5300,0.5080)">
<g filter="url(#rough)">
<path d="M84.0,244.7 L90.2,247.3 L94.6,250.0 L96.3,254.4 L100.7,257.0 L100.7,261.4 L97.2,263.2 L100.7,266.7 L102.9,269.3 L102.5,274.6 L100.7,279.0 L101.5,286.5 L90.2,287.5 L81.4,287.5 L74.4,288.0 L71.7,287.8 L67.3,284.3 L65.6,279.9 L68.2,276.3 L72.6,272.8 L71.7,268.4 L69.1,264.9 L71.7,261.4 L71.3,257.0 L74.4,252.6 L76.1,248.2 L79.6,246.0Z" fill="#B0938E" stroke="#B0938E" stroke-width="1.4"/>
<path d="M96.0,284.5 L104.0,285.0 L111.0,289.0 L113.0,298.0 L106.0,297.0 L99.0,291.0Z" fill="#D3D3D3" stroke="#D3D3D3" stroke-width="1.4"/>
<path d="M73.9,286.2 L84.0,283.5 L93.7,285.3 L99.0,288.8 L102.5,295.0 L107.8,299.4 L111.7,303.8 L109.5,307.3 L104.3,309.0 L99.9,311.7 L99.0,317.0 L95.5,321.3 L91.9,325.7 L87.6,324.0 L83.2,319.6 L84.0,314.3 L81.4,309.0 L75.2,303.8 L73.5,297.6 L73.5,290.6Z" fill="#B0938E" stroke="#B0938E" stroke-width="1.4"/>
<path d="M135.2,249.7 L142.2,252.3 L149.3,255.0 L155.4,256.7 L152.8,262.9 L156.3,268.2 L157.2,274.3 L149.3,275.2 L152.8,281.3 L147.5,284.9 L142.2,288.4 L139.6,294.5 L137.8,300.0 L135.2,292.8 L134.3,289.3 L131.0,286.0 L130.0,272.0 L128.2,269.9 L123.8,265.5 L122.9,262.0 L119.4,260.2 L119.4,257.6 L126.4,254.9 L130.8,251.4Z" fill="#D3D3D3" stroke="#D3D3D3" stroke-width="1.4"/>
<path d="M99.0,279.0 L102.6,277.8 L106.2,275.2 L113.2,274.3 L122.0,274.3 L128.2,269.9 L131.5,272.0 L132.5,286.5 L129.9,285.7 L124.6,284.0 L117.6,285.7 L110.6,285.7 L105.3,282.2 L99.0,283.5Z" fill="#C6BBBA" stroke="#D3D3D3" stroke-width="1.4"/>
<path d="M179.9,304.1 L185.2,301.9 L190.5,303.2 L194.0,306.7 L198.4,309.4 L206.3,306.7 L201.0,312.0 L199.3,316.4 L204.5,320.8 L208.1,324.3 L204.5,327.0 L201.0,331.3 L195.7,334.9 L189.6,336.6 L183.4,334.9 L180.8,331.3 L178.2,326.9 L172.0,325.2 L167.6,319.9 L170.2,316.4 L174.6,312.9 L177.3,309.4Z" fill="#D3D3D3" stroke="#D3D3D3" stroke-width="1.4"/>
<path d="M155.0,285.0 L159.5,285.2 L168.0,293.0 L176.4,305.8 L177.5,310.4 L173.5,308.6 L166.0,297.5 L157.0,288.0Z" fill="#D3D3D3" stroke="#D3D3D3" stroke-width="1.4"/>
<path d="M137.3,306.4 L143.4,304.7 L149.6,306.4 L152.7,310.0 L152.2,315.2 L153.1,321.4 L150.5,324.9 L145.2,327.6 L139.0,328.4 L133.8,326.7 L130.2,323.2 L128.5,320.5 L131.1,316.1 L134.6,312.6 L135.5,309.1Z" fill="#D3D3D3" stroke="#D3D3D3" stroke-width="1.4"/>
<path d="M136.0,300.3 L138.0,300.3 L137.0,306.0 L135.8,310.5 L134.0,310.0Z" fill="#D3D3D3" stroke="#D3D3D3" stroke-width="1.4"/>
<path d="M115.3,317.9 L121.4,317.0 L127.6,316.1 L129.5,319.6 L123.2,321.4 L116.2,324.0Z" fill="#B69E99" stroke="#B69E99" stroke-width="1.4"/>
<path d="M168.2,217.9 L177.0,217.0 L181.4,220.6 L182.3,225.8 L185.8,229.4 L192.0,227.6 L195.5,226.7 L198.1,230.2 L204.3,227.6 L208.7,224.1 L205.1,230.2 L200.7,235.5 L201.6,240.8 L197.2,244.3 L191.9,246.1 L189.3,243.4 L184.0,239.0 L178.8,238.2 L172.6,239.9 L167.3,236.4 L171.7,233.8 L168.2,232.0 L172.6,230.2 L171.7,224.1Z" fill="#D3D3D3" stroke="#D3D3D3" stroke-width="1.4"/>
<path d="M180.6,277.6 L187.6,275.8 L196.4,275.0 L201.7,274.1 L207.8,275.8 L210.9,279.4 L208.7,282.9 L205.2,286.4 L199.9,287.3 L198.2,292.6 L196.4,295.2 L192.9,294.3 L188.5,298.7 L187.6,295.2 L183.2,291.7 L177.9,289.0 L174.4,286.4 L178.8,284.6 L179.7,281.1Z" fill="#D3D3D3" stroke="#D3D3D3" stroke-width="1.4"/>
<path d="M212.2,284.0 L216.0,282.9 L219.3,285.0 L217.5,287.3 L213.5,287.0Z" fill="#D3D3D3" stroke="#D3D3D3" stroke-width="1.4"/>
<path d="M187.0,263.5 L188.6,263.5 L188.6,275.0 L187.0,275.0Z" fill="#D3D3D3" stroke="#D3D3D3" stroke-width="1.4"/>
<path d="M197.6,295.0 L199.0,295.0 L199.0,305.0 L197.6,305.0Z" fill="#D3D3D3" stroke="#D3D3D3" stroke-width="1.4"/>
<path d="M168.2,248.7 L173.5,247.8 L177.9,251.3 L179.6,256.6 L182.3,261.0 L183.2,263.7 L179.6,266.3 L174.4,270.0 L167.9,271.2 L166.0,266.0 L162.0,263.5 L165.7,258.0 L165.4,252.0Z" fill="#D3D3D3" stroke="#D3D3D3" stroke-width="1.4"/>
<path d="M203.4,298.7 L207.8,301.3 L212.2,297.8 L217.5,299.6 L220.6,304.0 L219.3,307.5 L214.0,310.1 L208.7,310.1 L206.9,307.5 L205.2,304.0Z" fill="#D3D3D3" stroke="#D3D3D3" stroke-width="1.4"/>
<path d="M135.2,224.0 L140.5,227.6 L144.9,223.2 L149.3,222.3 L151.0,224.9 L150.1,229.3 L152.8,232.8 L151.9,236.3 L148.4,235.5 L145.7,231.9 L142.2,232.8 L138.7,230.2 L136.9,226.7Z" fill="#D3D3D3" stroke="#D3D3D3" stroke-width="1.4"/>
<path d="M110.6,227.6 L115.0,225.8 L120.2,226.2 L123.8,228.4 L122.0,231.1 L117.6,232.0 L113.2,231.5 L110.1,229.7Z" fill="#D3D3D3" stroke="#D3D3D3" stroke-width="1.4"/>
<path d="M111.5,230.5 L112.8,231.0 L108.2,235.8 L107.6,235.3Z" fill="#D3D3D3" stroke="#D3D3D3" stroke-width="1.4"/>
<path d="M127.6,330.2 L132.9,327.6 L137.3,330.2 L136.4,334.6 L137.3,341.6 L135.5,344.3 L131.1,345.6 L128.5,343.4 L127.2,337.2Z" fill="#D3D3D3" stroke="#D3D3D3" stroke-width="1.4"/>
<path d="M149.6,348.7 L155.7,346.9 L159.3,349.5 L157.5,353.1 L151.3,353.9Z" fill="#D3D3D3" stroke="#D3D3D3" stroke-width="1.4"/>
<path d="M161.0,346.9 L166.3,346.9 L168.1,349.5 L165.4,352.2 L161.9,351.3Z" fill="#D3D3D3" stroke="#D3D3D3" stroke-width="1.4"/>
<path d="M117.9,293.0 L122.5,292.5 L125.5,295.5 L123.5,297.8 L118.5,297.0Z" fill="#D3D3D3" stroke="#D3D3D3" stroke-width="1.4"/>
<path d="M58.5,295.0 L62.9,292.3 L66.4,289.7 L68.2,288.8 L64.7,293.2 L66.4,296.3 L61.2,297.2 L59.0,296.3Z" fill="#D3D3D3" stroke="#D3D3D3" stroke-width="1.4"/>
<path d="M142.2,204.7 L146.6,208.2 L151.0,212.6 L152.8,213.9 L147.5,213.5 L144.0,212.6 L142.2,209.1Z" fill="#D3D3D3" stroke="#D3D3D3" stroke-width="1.4"/>
<path d="M124.5,211.0 L128.5,210.8 L130.0,214.5 L127.5,216.2 L124.0,215.0Z" fill="#D3D3D3" stroke="#D3D3D3" stroke-width="1.4"/>
<path d="M222.0,278.8 L226.5,279.0 L227.0,281.5 L222.5,281.8Z" fill="#D3D3D3" stroke="#D3D3D3" stroke-width="1.4"/>
<path d="M162.3,341.9 L165.8,339.3 L165.0,341.5Z" fill="#D3D3D3" stroke="#D3D3D3" stroke-width="1.4"/>
<path d="M171.1,346.3 L174.6,344.5 L174.0,346.0Z" fill="#D3D3D3" stroke="#D3D3D3" stroke-width="1.4"/>
</g>
<path stroke="#96645B" stroke-width="2" fill="none" d="M78.9 247.5h2m5.2 0h2m-4.7 1h2m4.5 0.4h2m-15.3 0.5h2m12.2 0.3h2m-7.9 0.3h2m-3.4 0.3h2m4 -0h2m-13.7 0.1h2m10.7 0.4h2m-0.2 0.3h2m-12 0.2h2m0.4 0.3h2m-5.4 1.1h2m4 0.3h2m-5.9 0.2h2m-5.6 0.2h2m5 0.1h2m-4.2 0.6h2m-6.7 0.2h2m0.8 0.1h2m-0.6 0h2m4.9 0.2h2m-2 0.3h2m-13.9 0.8h2m9.2 0.4h2m-15.2 0.7h2m-1.1 0h2m11.7 0.1h2m-10.3 0.2h2m-6.6 0.2h2m16.2 0.1h2m-8.7 0.1h2m-14.5 0.5h2m-8.4 0.3h2m19.7 0.1h2m-0.4 0.2h2m-22.7 0.1h2m6.4 0.4h2m-1.7 0.1h2m15.3 0.1h2m-19.1 0.1h2m-7.8 0.6h2m4.5 -0h2m-6 0.1h2m6.5 0.1h2m2.9 0.2h2m-18.3 0.3h2m-4.6 0.2h2m9.8 -0h2m-7.9 0.1h2m11.9 -0h2m2.7 -0h2m-12.1 0.3h2m0.5 0.5h2m-6.6 0.1h2m3.8 -0h2m-17.8 0.6h2m5.6 0.1h2m-7.5 0.1h2m17.6 0.4h2m-10.8 0.6h2m-20.4 0.7h2m14.8 -0h2m-19.2 0.4h2m2.4 0.2h2m8.9 0.4h2m-10.6 0.1h2m14.6 -0h2m-11.3 0.2h2m10 0.3h2m-21.3 0.2h2m17.6 0.2h2m-6.5 0.2h2m-6 0.2h2m-12.5 0.3h2m9.1 0.1h2m-16.2 0.2h2m20 0.2h2m-15.8 0.2h2m6.1 -0h2m-0.1 -0h2m0.7 0.1h2m-7.8 0.2h2m-4.1 0.4h2m-10.5 0.1h2m13.1 -0h2m2.9 0.4h2m-0.6 0.2h2m-18.4 0.6h2m7.3 -0h2m2.9 0.1h2m1.2 0.1h2m-11.2 0.3h2m1.3 0.3h2m-6.4 0.2h2m-10.2 0.8h2m6.8 0.5h2m-10.7 0.3h2m15 -0h2m-6.3 0.1h2m-14.6 0.1h2m-5.1 0.6h2m8.4 0.3h2m7 -0h2m-28.6 0.4h2m2.2 -0h2m-3.2 0.3h2m7.4 -0h2m6.4 0.3h2m-2.6 0.1h2m6.9 0.8h2m-1.9 -0h2m-8.6 0.1h2m-17.4 0.3h2m-7.8 0.1h2m11.1 -0h2m4.8 -0h2m-19.9 0.1h2m9.2 0.2h2m-10.8 0.3h2m-1.5 -0h2m-0.8 -0h2m4.3 0.2h2m-1.8 0.5h2m0.7 -0h2m4.2 -0h2m-13 0.3h2m12.3 -0h2m-25.3 0.2h2m-4.4 0.1h2m6.5 0.1h2m12.3 -0h2m-25.3 0.2h2m4.4 0.1h2m1.8 0.1h2m14.5 0.8h2m-3.7 0.4h2m-10 0.1h2m-23.8 0.1h2m19.4 0.7h2m-15 0.1h2m21.7 0.2h2m-3.6 0.1h2m-21.7 0.2h2m5.6 0.2h2m-4.6 0.3h2m-16.5 0.1h2m16 -0h2m5.2 0.1h2m-16.2 0.3h2m-5.9 0.1h2m-11.9 0.1h2m-2.2 0.5h2m10.5 -0h2m0.6 0.2h2m-1.1 -0h2m-14.9 0.4h2m27.9 0.8h2m-18.7 0.1h2m0.8 0.1h2m-11 0.2h2m6.3 0.1h2m-9.3 0.1h2m-0.6 0.1h2m7.2 0.1h2m-0.9 0.2h2m-22.8 0.3h2m13.6 -0h2m2.1 0.3h2m-15.8 0.1h2m2.8 -0h2m6 -0h2m-16.9 0.1h2m10.3 -0h2m-5.7 0.1h2m-0.7 -0h2m-4.9 0.1h2m-1.5 -0h2m2.7 -0h2m-14 0.1h2m6.2 -0h2m-3.2 0.7h2m1.5 0.4h2m1 0.1h2m7.1 -0h2m-19.1 0.1h2m3.7 0.3h2m-4.3 0.1h2m9.2 -0h2m-17.4 0.1h2m4 0.4h2m0.2 0.1h2m-13.3 0.1h2m7.8 0.3h2m-6.7 0.4h2m15.4 -0h2m-11.3 0.2h2m-1.2 -0h2m4.5 0.2h2m-19.7 1h2m8 -0h2m-9.6 0.2h2m8 0.4h2m-0.3 0.4h2m-5.8 0.2h2m10.7 0.3h2m-6.6 0.7h2m-4.3 0.2h2m-7.4 0.5h2m-12.6 0.1h2m1.8 0.2h2m-5.5 0.6h2m10.3 0.1h2m-1.6 0.3h2m-8.8 0.1h2m12 0.8h2m-24.5 0.2h2m2.7 -0h2m16.9 0.5h2m-24.5 0.2h2m11 0.2h2m6.6 -0h2m-22.2 0.1h2m2.1 0.2h2m2.9 -0h2m6.1 0.4h2m-19.8 0.2h2m6 0.1h2m17.5 -0h2m-24.8 0.6h2m-8.7 0.2h2m2.6 0.1h2m10.3 -0h2m-16.7 0.1h2m11.3 0.1h2m0.5 0.1h2m-17.8 0.3h2m-3.1 0.1h2m-0.4 -0h2m3.2 0.2h2m1.4 0.1h2m9.5 0.2h2m-24.4 0.1h2m0.8 -0h2m8 -0h2m-12.3 0.7h2m25.3 0.1h2m-17.7 0.2h2m-16 0.1h2m8.6 0.1h2m-10.5 0.2h2m23 0.2h2m-25.7 0.2h2m21.1 0.1h2m-26.8 0.6h2m6.7 0.2h2m17.3 -0h2m-29.2 0.4h2m3.9 0.1h2m20.7 -0h2m-19.1 0.2h2m8.4 0.1h2m-6.4 0.3h2m-17.6 0.4h2m11.6 -0h2m2.7 0.3h2m11 0.1h2m-23.1 0.3h2m-10.6 0.3h2m-1.4 -0h2m26.2 -0h2m-20.1 0.3h2m-1.5 -0h2m-8.4 0.1h2m-3.9 0.1h2m-7.5 0.1h2m1.7 -0h2m8 0.2h2m-10.2 0.4h2m14.6 0.1h2m-24.4 0.2h2m11.7 -0h2m16.4 0.1h2m-24.3 0.1h2m8 0.2h2m0.4 -0h2m-5.4 0.2h2m-15.5 0.2h2m19.8 0.3h2m-0.6 -0h2m-25.4 0.6h2m15.4 0.4h2m-20.2 0.1h2m6.8 -0h2m7.1 0.2h2m-8.9 0.1h2m-9 0.4h2m-1.5 0.2h2m5 -0h2m-8.6 0.3h2m3.3 0.3h2m-0.1 -0h2m3.1 -0h2m-0.2 0.5h2m-8.2 0.1h2m-3.3 0.3h2m-9.4 0.3h2m-2.6 0.1h2m0.6 0.1h2m5.5 0.6h2m1 0.8h2m-4.9 0.3h2m-0.1 0.1h2m-2.7 1.4h2m-2.1 0.4h2m-7 0.8h2m-1.8 0.5h2m-7.6 0.3h2m10.2 -0h2m-16 0.2h2m-1.3 1h2m0.4 -0h2m5.7 0.1h2m-8.5 0.6h2m-5.3 0.4h2m2.2 0.4h2m-4 0.3h2m-1.6 0.1h2m32 0.1h2m-33 0.1h2m-5.3 0.3h2m1.7 0.5h2m-2 -0h2m28.9 -0h2m-39.5 0.7h2m32.4 0.6h2m-30.1 0.1h2m-0.2 0.1h2m21.6 0.8h2"/>
<path stroke="#C1B2AF" stroke-width="2" fill="none" d="M88.3 248h2m-6.9 1.5h2m-0.9 1.8h2m-10.5 0.4h2m1.6 0.9h2m1.6 0.1h2m-9.5 0.3h2m11.9 1h2m-10.8 2.3h2m-3.2 0.2h2m12.9 0h2m-25.1 1.7h2m8.3 0.2h2m-2 0.5h2m-11.4 0.2h2m7.9 0.4h2m-3.6 0.3h2m-10.9 0.1h2m15.1 0.2h2m-13.3 1h2m11.9 0.2h2m-13.5 0.5h2m10.5 1.3h2m-8.6 0.6h2m7.3 0.1h2m-22.2 0.5h2m2 0.3h2m-0.2 0h2m0.7 0.6h2m-9.7 1.1h2m1.4 0.8h2m19.6 1.3h2m-1.5 0.1h2m-18.1 1h2m-6.4 0.1h2m11.4 0.1h2m-16.3 0.9h2m-2.2 0.3h2m3.7 0.4h2m12.5 0.3h2m-15.1 0.4h2m-1.7 0.4h2m5.8 0.7h2m-17 0.5h2m20.4 1.8h2m-21.2 0.2h2m13.5 -0h2m-9.7 0.5h2m4.1 1.7h2m-0.6 0.4h2m-25.3 0.1h2m20 0.3h2m-20.9 0.2h2m-12.2 0.2h2m-2.9 1h2m24 -0h2m-28 0.5h2m28.4 -0h2m-25.5 0.1h2m10.9 0.1h2m-9.4 1.5h2m-3.2 0.1h2m-3.4 0.3h2m-2.6 2h2m1.7 0.1h2m11.8 -0h2m-23.4 0.3h2m22.6 0.1h2m-30 0.4h2m8.5 0.1h2m13.3 -0h2m-16.3 0.2h2m-3.6 0.5h2m9.2 0.2h2m0.6 -0h2m-2.1 0.6h2m-3.2 0.9h2m-9.8 0.1h2m-14.2 0.3h2m12.3 -0h2m7.2 1h2m0.4 0.4h2m-8.5 0.8h2m-7.8 0.6h2m8.8 1.2h2m-12.5 1h2m6.7 0.3h2m-13.8 0.6h2m2.5 0.3h2m-0.9 2h2m4.3 -0h2m-2.1 0.1h2m-1.3 -0h2m-3.5 0.8h2m-7 0.3h2m-8.2 1.3h2m-2.7 0.1h2m21.7 0.4h2m-19.9 1h2m8.5 0.3h2m-3.2 0.1h2m-22.3 0.1h2m30.6 1.3h2m-14.1 2.6h2m-17.7 0.5h2m9 0.6h2m-9.2 0.2h2m-6.1 0.3h2m25.4 0.3h2m-26.4 0.7h2m22.5 0.9h2m-10.2 1.1h2m-7.1 2h2m-0.9 0.7h2m-5.7 0.4h2m1.9 -0h2m-11.5 1.8h2m10.3 1.8h2m-16.6 0.2h2m6.8 0.9h2m-8.1 1.6h2m5.7 0.2h2m-5.4 0.1h2m-6 0.5h2m5.8 1.9h2m-5.2 1.5h2m-5.9 0.6h2m-3.1 0.1h2"/>
<path stroke="#996A62" stroke-width="2" fill="none" d="M126 273.2h2m-0.2 0.1h2m-1.2 0.5h2m0.3 0.2h2m-3.4 0.3h2m-1.9 0.4h2m-6.2 0.2h2m0.1 0h2m1.4 0.1h2m-4 0.1h2m-6.8 0.2h2m-9.4 0.4h2m5.2 0.1h2m-7.8 0.1h2m-0.8 -0h2m9.8 -0h2m-24.1 0.1h2m14.7 0.2h2m-8.6 0.1h2m-1.1 -0h2m-9.5 0.1h2m-6.6 0.1h2m5.4 -0h2m2.3 -0h2m-14.7 0.1h2m4.7 0.1h2m-2.4 0.5h2m14.6 0.5h2m-11.6 0.1h2m5.4 0.2h2m-12.1 0.1h2m-2.6 0.2h2m-5.4 0.1h2m-5.3 0.1h2m4.8 -0h2m-3.7 0.1h2m12.5 -0h2m-25.5 0.1h2m10.6 0.2h2m1.8 0.1h2m-4.8 0.2h2m2.7 0.1h2m-18.4 0.1h2m13.3 -0h2m1.3 0.1h2m-16.7 0.2h2m-0.1 0.4h2m-7.4 0.1h2m6.9 -0h2m10.7 0.1h2m-31.7 0.2h2m-2 0.1h2m8.7 0.1h2m13.9 -0h2m2.1 0.1h2m-28.1 0.1h2m5.6 -0h2m-2.3 0.1h2m-0 0.3h2m-15.2 0.1h2m0.5 0.2h2m2.5 -0h2m20.1 -0h2m-10.8 0.2h2m4.1 -0h2m-23.7 0.1h2m9 0.1h2m-8.6 0.1h2m-0.4 -0h2m-1.1 0.1h2m3.5 0.2h2m5.5 -0h2m-25.2 0.1h2m9.5 -0h2m-0.9 0.6h2m-16.6 0.1h2m1.9 0.1h2m7.6 -0h2m-7 0.1h2m0.4 0.1h2m3.1 -0h2m0.9 -0h2m5.6 -0h2m-6.1 0.1h2m-11.4 0.2h2m6 -0h2m-14.9 0.5h2m-0.4 0.1h2m11.1 0.1h2m-7.7 0.1h2m-9.2 0.1h2m0.4 -0h2m4.4 -0h2m-13.2 0.1h2m19.7 0.1h2m-12.3 0.1h2m-10.8 0.1h2m3.8 0.4h2m13.7 0.2h2m-23.5 0.8h2"/>
<path stroke="#C4B7B5" stroke-width="2" fill="none" d="M121.5 318.1h2m4 0.7h2m-5.9 0.6h2m-3.5 0.2h2m2.6 0.1h2m-2.4 0.4h2m-6.9 0.7h2m-6.8 0.7h2m0.7 0.1h2"/>
</g>
<line x1="201.6" y1="640.4" x2="201.6" y2="727.0" stroke="#333" stroke-width="0.9"/>
<line x1="199.4" y1="667.20" x2="201.6" y2="667.20" stroke="#333" stroke-width="0.9"/>
<text x="198.20" y="669.75" font-size="7.2" text-anchor="end" font-weight="normal" fill="#333" stroke="#333" stroke-width="0.18" >10</text>
<line x1="199.4" y1="695.00" x2="201.6" y2="695.00" stroke="#333" stroke-width="0.9"/>
<text x="198.20" y="697.55" font-size="7.2" text-anchor="end" font-weight="normal" fill="#333" stroke="#333" stroke-width="0.18" >0</text>
<line x1="199.4" y1="723.10" x2="201.6" y2="723.10" stroke="#333" stroke-width="0.9"/>
<text x="198.20" y="725.65" font-size="7.2" text-anchor="end" font-weight="normal" fill="#333" stroke="#333" stroke-width="0.18" >−10</text>
<line x1="201.6" y1="727.0" x2="303.6" y2="727.0" stroke="#333" stroke-width="0.9"/>
<line x1="231.80" y1="727.0" x2="231.80" y2="729.2" stroke="#333" stroke-width="0.9"/>
<text x="231.80" y="736.00" font-size="7.2" text-anchor="middle" font-weight="normal" fill="#333" stroke="#333" stroke-width="0.18" >0</text>
<line x1="265.20" y1="727.0" x2="265.20" y2="729.2" stroke="#333" stroke-width="0.9"/>
<text x="265.20" y="736.00" font-size="7.2" text-anchor="middle" font-weight="normal" fill="#333" stroke="#333" stroke-width="0.18" >10</text>
<line x1="298.60" y1="727.0" x2="298.60" y2="729.2" stroke="#333" stroke-width="0.9"/>
<text x="298.60" y="736.00" font-size="7.2" text-anchor="middle" font-weight="normal" fill="#333" stroke="#333" stroke-width="0.18" >20</text>
<text x="253.00" y="745.60" font-size="8.3" text-anchor="middle" font-weight="normal" fill="#222" stroke="#222" stroke-width="0.18" >UMAP_1</text>
<text transform="translate(181.00,682.40) rotate(-90)" font-size="8.3" text-anchor="middle" fill="#222">UMAP_2</text>
<text x="252.20" y="634.20" font-size="9.6" text-anchor="middle" font-weight="bold" fill="#111" stroke="#111" stroke-width="0.2" >CD3D</text>
<defs><linearGradient id="g1" x1="0" y1="1" x2="0" y2="0"><stop offset="0" stop-color="#D3D3D3"/><stop offset="1" stop-color="#8B5046"/></linearGradient></defs>
<rect x="312.20" y="661.80" width="9.3" height="47.50" fill="url(#g1)"/>
<line x1="312.20" y1="709.30" x2="314.00" y2="709.30" stroke="#fff" stroke-width="0.5"/>
<line x1="319.70" y1="709.30" x2="321.50" y2="709.30" stroke="#fff" stroke-width="0.5"/>
<text x="326.20" y="711.90" font-size="7.2" text-anchor="start" font-weight="normal" fill="#222" stroke="#222" stroke-width="0.18" >0</text>
<line x1="312.20" y1="699.19" x2="314.00" y2="699.19" stroke="#fff" stroke-width="0.5"/>
<line x1="319.70" y1="699.19" x2="321.50" y2="699.19" stroke="#fff" stroke-width="0.5"/>
<text x="326.20" y="701.79" font-size="7.2" text-anchor="start" font-weight="normal" fill="#222" stroke="#222" stroke-width="0.18" >1</text>
<line x1="312.20" y1="689.09" x2="314.00" y2="689.09" stroke="#fff" stroke-width="0.5"/>
<line x1="319.70" y1="689.09" x2="321.50" y2="689.09" stroke="#fff" stroke-width="0.5"/>
<text x="326.20" y="691.69" font-size="7.2" text-anchor="start" font-weight="normal" fill="#222" stroke="#222" stroke-width="0.18" >2</text>
<line x1="312.20" y1="678.98" x2="314.00" y2="678.98" stroke="#fff" stroke-width="0.5"/>
<line x1="319.70" y1="678.98" x2="321.50" y2="678.98" stroke="#fff" stroke-width="0.5"/>
<text x="326.20" y="681.58" font-size="7.2" text-anchor="start" font-weight="normal" fill="#222" stroke="#222" stroke-width="0.18" >3</text>
<line x1="312.20" y1="668.87" x2="314.00" y2="668.87" stroke="#fff" stroke-width="0.5"/>
<line x1="319.70" y1="668.87" x2="321.50" y2="668.87" stroke="#fff" stroke-width="0.5"/>
<text x="326.20" y="671.47" font-size="7.2" text-anchor="start" font-weight="normal" fill="#222" stroke="#222" stroke-width="0.18" >4</text>
<g transform="translate(340.980,541.933) scale(0.5300,0.5080)">
<g filter="url(#rough)">
<path d="M84.0,244.7 L90.2,247.3 L94.6,250.0 L96.3,254.4 L100.7,257.0 L100.7,261.4 L97.2,263.2 L100.7,266.7 L102.9,269.3 L102.5,274.6 L100.7,279.0 L101.5,286.5 L90.2,287.5 L81.4,287.5 L74.4,288.0 L71.7,287.8 L67.3,284.3 L65.6,279.9 L68.2,276.3 L72.6,272.8 L71.7,268.4 L69.1,264.9 L71.7,261.4 L71.3,257.0 L74.4,252.6 L76.1,248.2 L79.6,246.0Z" fill="#D3D3D3" stroke="#D3D3D3" stroke-width="1.4"/>
<path d="M96.0,284.5 L104.0,285.0 L111.0,289.0 L113.0,298.0 L106.0,297.0 L99.0,291.0Z" fill="#D3D3D3" stroke="#D3D3D3" stroke-width="1.4"/>
<path d="M73.9,286.2 L84.0,283.5 L93.7,285.3 L99.0,288.8 L102.5,295.0 L107.8,299.4 L111.7,303.8 L109.5,307.3 L104.3,309.0 L99.9,311.7 L99.0,317.0 L95.5,321.3 L91.9,325.7 L87.6,324.0 L83.2,319.6 L84.0,314.3 L81.4,309.0 L75.2,303.8 L73.5,297.6 L73.5,290.6Z" fill="#D3D3D3" stroke="#D3D3D3" stroke-width="1.4"/>
<path d="M135.2,249.7 L142.2,252.3 L149.3,255.0 L155.4,256.7 L152.8,262.9 L156.3,268.2 L157.2,274.3 L149.3,275.2 L152.8,281.3 L147.5,284.9 L142.2,288.4 L139.6,294.5 L137.8,300.0 L135.2,292.8 L134.3,289.3 L131.0,286.0 L130.0,272.0 L128.2,269.9 L123.8,265.5 L122.9,262.0 L119.4,260.2 L119.4,257.6 L126.4,254.9 L130.8,251.4Z" fill="#D3D3D3" stroke="#D3D3D3" stroke-width="1.4"/>
<path d="M99.0,279.0 L102.6,277.8 L106.2,275.2 L113.2,274.3 L122.0,274.3 L128.2,269.9 L131.5,272.0 L132.5,286.5 L129.9,285.7 L124.6,284.0 L117.6,285.7 L110.6,285.7 L105.3,282.2 L99.0,283.5Z" fill="#D3D3D3" stroke="#D3D3D3" stroke-width="1.4"/>
<path d="M179.9,304.1 L185.2,301.9 L190.5,303.2 L194.0,306.7 L198.4,309.4 L206.3,306.7 L201.0,312.0 L199.3,316.4 L204.5,320.8 L208.1,324.3 L204.5,327.0 L201.0,331.3 L195.7,334.9 L189.6,336.6 L183.4,334.9 L180.8,331.3 L178.2,326.9 L172.0,325.2 L167.6,319.9 L170.2,316.4 L174.6,312.9 L177.3,309.4Z" fill="#D3D3D3" stroke="#D3D3D3" stroke-width="1.4"/>
<path d="M155.0,285.0 L159.5,285.2 L168.0,293.0 L176.4,305.8 L177.5,310.4 L173.5,308.6 L166.0,297.5 L157.0,288.0Z" fill="#D3D3D3" stroke="#D3D3D3" stroke-width="1.4"/>
<path d="M137.3,306.4 L143.4,304.7 L149.6,306.4 L152.7,310.0 L152.2,315.2 L153.1,321.4 L150.5,324.9 L145.2,327.6 L139.0,328.4 L133.8,326.7 L130.2,323.2 L128.5,320.5 L131.1,316.1 L134.6,312.6 L135.5,309.1Z" fill="#D3D3D3" stroke="#D3D3D3" stroke-width="1.4"/>
<path d="M136.0,300.3 L138.0,300.3 L137.0,306.0 L135.8,310.5 L134.0,310.0Z" fill="#D3D3D3" stroke="#D3D3D3" stroke-width="1.4"/>
<path d="M115.3,317.9 L121.4,317.0 L127.6,316.1 L129.5,319.6 L123.2,321.4 L116.2,324.0Z" fill="#D3D3D3" stroke="#D3D3D3" stroke-width="1.4"/>
<path d="M168.2,217.9 L177.0,217.0 L181.4,220.6 L182.3,225.8 L185.8,229.4 L192.0,227.6 L195.5,226.7 L198.1,230.2 L204.3,227.6 L208.7,224.1 L205.1,230.2 L200.7,235.5 L201.6,240.8 L197.2,244.3 L191.9,246.1 L189.3,243.4 L184.0,239.0 L178.8,238.2 L172.6,239.9 L167.3,236.4 L171.7,233.8 L168.2,232.0 L172.6,230.2 L171.7,224.1Z" fill="#D3D3D3" stroke="#D3D3D3" stroke-width="1.4"/>
<path d="M180.6,277.6 L187.6,275.8 L196.4,275.0 L201.7,274.1 L207.8,275.8 L210.9,279.4 L208.7,282.9 L205.2,286.4 L199.9,287.3 L198.2,292.6 L196.4,295.2 L192.9,294.3 L188.5,298.7 L187.6,295.2 L183.2,291.7 L177.9,289.0 L174.4,286.4 L178.8,284.6 L179.7,281.1Z" fill="#D3D3D3" stroke="#D3D3D3" stroke-width="1.4"/>
<path d="M212.2,284.0 L216.0,282.9 L219.3,285.0 L217.5,287.3 L213.5,287.0Z" fill="#D3D3D3" stroke="#D3D3D3" stroke-width="1.4"/>
<path d="M187.0,263.5 L188.6,263.5 L188.6,275.0 L187.0,275.0Z" fill="#D3C6C6" stroke="#D3D3D3" stroke-width="1.4"/>
<path d="M197.6,295.0 L199.0,295.0 L199.0,305.0 L197.6,305.0Z" fill="#D3D3D3" stroke="#D3D3D3" stroke-width="1.4"/>
<path d="M168.2,248.7 L173.5,247.8 L177.9,251.3 L179.6,256.6 L182.3,261.0 L183.2,263.7 L179.6,266.3 L174.4,270.0 L167.9,271.2 L166.0,266.0 L162.0,263.5 L165.7,258.0 L165.4,252.0Z" fill="#D3D3D3" stroke="#D3D3D3" stroke-width="1.4"/>
<path d="M203.4,298.7 L207.8,301.3 L212.2,297.8 L217.5,299.6 L220.6,304.0 L219.3,307.5 L214.0,310.1 L208.7,310.1 L206.9,307.5 L205.2,304.0Z" fill="#D3D3D3" stroke="#D3D3D3" stroke-width="1.4"/>
<path d="M135.2,224.0 L140.5,227.6 L144.9,223.2 L149.3,222.3 L151.0,224.9 L150.1,229.3 L152.8,232.8 L151.9,236.3 L148.4,235.5 L145.7,231.9 L142.2,232.8 L138.7,230.2 L136.9,226.7Z" fill="#D3D3D3" stroke="#D3D3D3" stroke-width="1.4"/>
<path d="M110.6,227.6 L115.0,225.8 L120.2,226.2 L123.8,228.4 L122.0,231.1 L117.6,232.0 L113.2,231.5 L110.1,229.7Z" fill="#D3D3D3" stroke="#D3D3D3" stroke-width="1.4"/>
<path d="M111.5,230.5 L112.8,231.0 L108.2,235.8 L107.6,235.3Z" fill="#D3D3D3" stroke="#D3D3D3" stroke-width="1.4"/>
<path d="M127.6,330.2 L132.9,327.6 L137.3,330.2 L136.4,334.6 L137.3,341.6 L135.5,344.3 L131.1,345.6 L128.5,343.4 L127.2,337.2Z" fill="#D3D3D3" stroke="#D3D3D3" stroke-width="1.4"/>
<path d="M149.6,348.7 L155.7,346.9 L159.3,349.5 L157.5,353.1 L151.3,353.9Z" fill="#D3D3D3" stroke="#D3D3D3" stroke-width="1.4"/>
<path d="M161.0,346.9 L166.3,346.9 L168.1,349.5 L165.4,352.2 L161.9,351.3Z" fill="#D3D3D3" stroke="#D3D3D3" stroke-width="1.4"/>
<path d="M117.9,293.0 L122.5,292.5 L125.5,295.5 L123.5,297.8 L118.5,297.0Z" fill="#D3D3D3" stroke="#D3D3D3" stroke-width="1.4"/>
<path d="M58.5,295.0 L62.9,292.3 L66.4,289.7 L68.2,288.8 L64.7,293.2 L66.4,296.3 L61.2,297.2 L59.0,296.3Z" fill="#D3D3D3" stroke="#D3D3D3" stroke-width="1.4"/>
<path d="M142.2,204.7 L146.6,208.2 L151.0,212.6 L152.8,213.9 L147.5,213.5 L144.0,212.6 L142.2,209.1Z" fill="#D3D3D3" stroke="#D3D3D3" stroke-width="1.4"/>
<path d="M124.5,211.0 L128.5,210.8 L130.0,214.5 L127.5,216.2 L124.0,215.0Z" fill="#D3D3D3" stroke="#D3D3D3" stroke-width="1.4"/>
<path d="M222.0,278.8 L226.5,279.0 L227.0,281.5 L222.5,281.8Z" fill="#D3D3D3" stroke="#D3D3D3" stroke-width="1.4"/>
<path d="M162.3,341.9 L165.8,339.3 L165.0,341.5Z" fill="#D3D3D3" stroke="#D3D3D3" stroke-width="1.4"/>
<path d="M171.1,346.3 L174.6,344.5 L174.0,346.0Z" fill="#D3D3D3" stroke="#D3D3D3" stroke-width="1.4"/>
<path d="M165.5,249.0 L173.5,247.8 L178.5,251.5 L180.5,257.0 L176.0,262.0 L168.0,262.5 L164.5,257.0Z" fill="#D68888" stroke="#D68888" stroke-width="1.4"/>
</g>
<path stroke="#D67B7A" stroke-width="2" fill="none" d="M175.8 226.8h2m25.7 2.8h2m-21.6 0.9h2m-1 3.4h2m4.6 0.8h2m-1.1 3.9h2m-22 12.1h2m0.3 3.4h2m1.3 1.1h2m-12.5 2.1h2m-23.2 0.3h2m-13.9 0.5h2m40.7 0.2h2m-3.8 0.8h2m-3.5 1.7h2m-7.7 0.6h2m7.3 0.9h2m-42 0.8h2m-14.1 1.7h2m10.9 4h2m9.1 0.2h2m-1.9 2.1h2m-17.7 4.2h2m0.5 12.7h2m1 0.9h2m-3.1 0.7h2m-2.9 3.1h2"/>
<path stroke="#D75D5D" stroke-width="2" fill="none" d="M187.7 264.7h2m-1.9 3.1h2m-2.5 2.5h2m-2.3 3.5h2m-0.5 0.6h2"/>
<path stroke="#D75655" stroke-width="2" fill="none" d="M173.9 250.3h2m-7.2 0.2h2m1.1 0h2m-3.9 0.4h2m1.5 0.4h2m-1.4 0.1h2m-0.7 0h2m-10.2 1h2m7.8 0h2m-3.4 0.1h2m-1.2 0h2m-10.4 0.1h2m0.4 0.3h2m-4.2 0.4h2m3.3 0.8h2m-9.3 0.3h2m10.4 0.6h2m-14 0.3h2m9.5 0.4h2m-6.9 0.8h2m-0.6 0.5h2m-5.1 0.3h2m-6.2 0.1h2m7.2 0.1h2m-8.7 0.6h2m-5.6 0.6h2m6.6 0.1h2m-1.9 -0h2m1 -0h2m-0.3 0.2h2m-9.1 0.9h2m-4.5 0.4h2m3.2 0.3h2m-7.3 1.3h2"/>
<path stroke="#D4ACAC" stroke-width="2" fill="none" d="M165.2 254h2m-1.4 2.1h2m1.3 2.8h2m5.6 2.1h2m-8.8 1.1h2m1.4 1h2"/>
</g>
<line x1="364.8" y1="640.8" x2="364.8" y2="727.4" stroke="#333" stroke-width="0.9"/>
<line x1="362.6" y1="667.60" x2="364.8" y2="667.60" stroke="#333" stroke-width="0.9"/>
<text x="361.40" y="670.15" font-size="7.2" text-anchor="end" font-weight="normal" fill="#333" stroke="#333" stroke-width="0.18" >10</text>
<line x1="362.6" y1="695.40" x2="364.8" y2="695.40" stroke="#333" stroke-width="0.9"/>
<text x="361.40" y="697.95" font-size="7.2" text-anchor="end" font-weight="normal" fill="#333" stroke="#333" stroke-width="0.18" >0</text>
<line x1="362.6" y1="723.50" x2="364.8" y2="723.50" stroke="#333" stroke-width="0.9"/>
<text x="361.40" y="726.05" font-size="7.2" text-anchor="end" font-weight="normal" fill="#333" stroke="#333" stroke-width="0.18" >−10</text>
<line x1="364.8" y1="727.4" x2="466.8" y2="727.4" stroke="#333" stroke-width="0.9"/>
<line x1="396.10" y1="727.4" x2="396.10" y2="729.6" stroke="#333" stroke-width="0.9"/>
<text x="396.10" y="736.40" font-size="7.2" text-anchor="middle" font-weight="normal" fill="#333" stroke="#333" stroke-width="0.18" >0</text>
<line x1="429.50" y1="727.4" x2="429.50" y2="729.6" stroke="#333" stroke-width="0.9"/>
<text x="429.50" y="736.40" font-size="7.2" text-anchor="middle" font-weight="normal" fill="#333" stroke="#333" stroke-width="0.18" >10</text>
<line x1="462.90" y1="727.4" x2="462.90" y2="729.6" stroke="#333" stroke-width="0.9"/>
<text x="462.90" y="736.40" font-size="7.2" text-anchor="middle" font-weight="normal" fill="#333" stroke="#333" stroke-width="0.18" >20</text>
<text x="417.30" y="746.00" font-size="8.3" text-anchor="middle" font-weight="normal" fill="#222" stroke="#222" stroke-width="0.18" >UMAP_1</text>
<text transform="translate(344.20,682.80) rotate(-90)" font-size="8.3" text-anchor="middle" fill="#222">UMAP_2</text>
<text x="416.00" y="634.60" font-size="9.6" text-anchor="middle" font-weight="bold" fill="#111" stroke="#111" stroke-width="0.2" >CD14</text>
<defs><linearGradient id="g2" x1="0" y1="1" x2="0" y2="0"><stop offset="0" stop-color="#D3D3D3"/><stop offset="1" stop-color="#D8403F"/></linearGradient></defs>
<rect x="475.40" y="662.20" width="9.3" height="47.50" fill="url(#g2)"/>
<line x1="475.40" y1="709.70" x2="477.20" y2="709.70" stroke="#fff" stroke-width="0.5"/>
<line x1="482.90" y1="709.70" x2="484.70" y2="709.70" stroke="#fff" stroke-width="0.5"/>
<text x="489.40" y="712.30" font-size="7.2" text-anchor="start" font-weight="normal" fill="#222" stroke="#222" stroke-width="0.18" >0</text>
<line x1="475.40" y1="699.59" x2="477.20" y2="699.59" stroke="#fff" stroke-width="0.5"/>
<line x1="482.90" y1="699.59" x2="484.70" y2="699.59" stroke="#fff" stroke-width="0.5"/>
<text x="489.40" y="702.19" font-size="7.2" text-anchor="start" font-weight="normal" fill="#222" stroke="#222" stroke-width="0.18" >1</text>
<line x1="475.40" y1="689.49" x2="477.20" y2="689.49" stroke="#fff" stroke-width="0.5"/>
<line x1="482.90" y1="689.49" x2="484.70" y2="689.49" stroke="#fff" stroke-width="0.5"/>
<text x="489.40" y="692.09" font-size="7.2" text-anchor="start" font-weight="normal" fill="#222" stroke="#222" stroke-width="0.18" >2</text>
<line x1="475.40" y1="679.38" x2="477.20" y2="679.38" stroke="#fff" stroke-width="0.5"/>
<line x1="482.90" y1="679.38" x2="484.70" y2="679.38" stroke="#fff" stroke-width="0.5"/>
<text x="489.40" y="681.98" font-size="7.2" text-anchor="start" font-weight="normal" fill="#222" stroke="#222" stroke-width="0.18" >3</text>
<line x1="475.40" y1="669.27" x2="477.20" y2="669.27" stroke="#fff" stroke-width="0.5"/>
<line x1="482.90" y1="669.27" x2="484.70" y2="669.27" stroke="#fff" stroke-width="0.5"/>
<text x="489.40" y="671.87" font-size="7.2" text-anchor="start" font-weight="normal" fill="#222" stroke="#222" stroke-width="0.18" >4</text>
<g transform="translate(504.680,542.233) scale(0.5300,0.5080)">
<g filter="url(#rough)">
<path d="M84.0,244.7 L90.2,247.3 L94.6,250.0 L96.3,254.4 L100.7,257.0 L100.7,261.4 L97.2,263.2 L100.7,266.7 L102.9,269.3 L102.5,274.6 L100.7,279.0 L101.5,286.5 L90.2,287.5 L81.4,287.5 L74.4,288.0 L71.7,287.8 L67.3,284.3 L65.6,279.9 L68.2,276.3 L72.6,272.8 L71.7,268.4 L69.1,264.9 L71.7,261.4 L71.3,257.0 L74.4,252.6 L76.1,248.2 L79.6,246.0Z" fill="#D3D3D3" stroke="#D3D3D3" stroke-width="1.4"/>
<path d="M96.0,284.5 L104.0,285.0 L111.0,289.0 L113.0,298.0 L106.0,297.0 L99.0,291.0Z" fill="#D3D3D3" stroke="#D3D3D3" stroke-width="1.4"/>
<path d="M73.9,286.2 L84.0,283.5 L93.7,285.3 L99.0,288.8 L102.5,295.0 L107.8,299.4 L111.7,303.8 L109.5,307.3 L104.3,309.0 L99.9,311.7 L99.0,317.0 L95.5,321.3 L91.9,325.7 L87.6,324.0 L83.2,319.6 L84.0,314.3 L81.4,309.0 L75.2,303.8 L73.5,297.6 L73.5,290.6Z" fill="#D3D3D3" stroke="#D3D3D3" stroke-width="1.4"/>
<path d="M135.2,249.7 L142.2,252.3 L149.3,255.0 L155.4,256.7 L152.8,262.9 L156.3,268.2 L157.2,274.3 L149.3,275.2 L152.8,281.3 L147.5,284.9 L142.2,288.4 L139.6,294.5 L137.8,300.0 L135.2,292.8 L134.3,289.3 L131.0,286.0 L130.0,272.0 L128.2,269.9 L123.8,265.5 L122.9,262.0 L119.4,260.2 L119.4,257.6 L126.4,254.9 L130.8,251.4Z" fill="#D3D3D3" stroke="#D3D3D3" stroke-width="1.4"/>
<path d="M99.0,279.0 L102.6,277.8 L106.2,275.2 L113.2,274.3 L122.0,274.3 L128.2,269.9 L131.5,272.0 L132.5,286.5 L129.9,285.7 L124.6,284.0 L117.6,285.7 L110.6,285.7 L105.3,282.2 L99.0,283.5Z" fill="#D3D3D3" stroke="#D3D3D3" stroke-width="1.4"/>
<path d="M179.9,304.1 L185.2,301.9 L190.5,303.2 L194.0,306.7 L198.4,309.4 L206.3,306.7 L201.0,312.0 L199.3,316.4 L204.5,320.8 L208.1,324.3 L204.5,327.0 L201.0,331.3 L195.7,334.9 L189.6,336.6 L183.4,334.9 L180.8,331.3 L178.2,326.9 L172.0,325.2 L167.6,319.9 L170.2,316.4 L174.6,312.9 L177.3,309.4Z" fill="#D3D3D3" stroke="#D3D3D3" stroke-width="1.4"/>
<path d="M155.0,285.0 L159.5,285.2 L168.0,293.0 L176.4,305.8 L177.5,310.4 L173.5,308.6 L166.0,297.5 L157.0,288.0Z" fill="#D3D3D3" stroke="#D3D3D3" stroke-width="1.4"/>
<path d="M137.3,306.4 L143.4,304.7 L149.6,306.4 L152.7,310.0 L152.2,315.2 L153.1,321.4 L150.5,324.9 L145.2,327.6 L139.0,328.4 L133.8,326.7 L130.2,323.2 L128.5,320.5 L131.1,316.1 L134.6,312.6 L135.5,309.1Z" fill="#D3D3D3" stroke="#D3D3D3" stroke-width="1.4"/>
<path d="M136.0,300.3 L138.0,300.3 L137.0,306.0 L135.8,310.5 L134.0,310.0Z" fill="#D3D3D3" stroke="#D3D3D3" stroke-width="1.4"/>
<path d="M115.3,317.9 L121.4,317.0 L127.6,316.1 L129.5,319.6 L123.2,321.4 L116.2,324.0Z" fill="#D3D3D3" stroke="#D3D3D3" stroke-width="1.4"/>
<path d="M168.2,217.9 L177.0,217.0 L181.4,220.6 L182.3,225.8 L185.8,229.4 L192.0,227.6 L195.5,226.7 L198.1,230.2 L204.3,227.6 L208.7,224.1 L205.1,230.2 L200.7,235.5 L201.6,240.8 L197.2,244.3 L191.9,246.1 L189.3,243.4 L184.0,239.0 L178.8,238.2 L172.6,239.9 L167.3,236.4 L171.7,233.8 L168.2,232.0 L172.6,230.2 L171.7,224.1Z" fill="#D3D3D3" stroke="#D3D3D3" stroke-width="1.4"/>
<path d="M180.6,277.6 L187.6,275.8 L196.4,275.0 L201.7,274.1 L207.8,275.8 L210.9,279.4 L208.7,282.9 L205.2,286.4 L199.9,287.3 L198.2,292.6 L196.4,295.2 L192.9,294.3 L188.5,298.7 L187.6,295.2 L183.2,291.7 L177.9,289.0 L174.4,286.4 L178.8,284.6 L179.7,281.1Z" fill="#D3D3D3" stroke="#D3D3D3" stroke-width="1.4"/>
<path d="M212.2,284.0 L216.0,282.9 L219.3,285.0 L217.5,287.3 L213.5,287.0Z" fill="#D3D3D3" stroke="#D3D3D3" stroke-width="1.4"/>
<path d="M187.0,263.5 L188.6,263.5 L188.6,275.0 L187.0,275.0Z" fill="#D3D3D3" stroke="#D3D3D3" stroke-width="1.4"/>
<path d="M197.6,295.0 L199.0,295.0 L199.0,305.0 L197.6,305.0Z" fill="#D3D3D3" stroke="#D3D3D3" stroke-width="1.4"/>
<path d="M168.2,248.7 L173.5,247.8 L177.9,251.3 L179.6,256.6 L182.3,261.0 L183.2,263.7 L179.6,266.3 L174.4,270.0 L167.9,271.2 L166.0,266.0 L162.0,263.5 L165.7,258.0 L165.4,252.0Z" fill="#D3D3D3" stroke="#D3D3D3" stroke-width="1.4"/>
<path d="M203.4,298.7 L207.8,301.3 L212.2,297.8 L217.5,299.6 L220.6,304.0 L219.3,307.5 L214.0,310.1 L208.7,310.1 L206.9,307.5 L205.2,304.0Z" fill="#D3D3D3" stroke="#D3D3D3" stroke-width="1.4"/>
<path d="M135.2,224.0 L140.5,227.6 L144.9,223.2 L149.3,222.3 L151.0,224.9 L150.1,229.3 L152.8,232.8 L151.9,236.3 L148.4,235.5 L145.7,231.9 L142.2,232.8 L138.7,230.2 L136.9,226.7Z" fill="#D3D3D3" stroke="#D3D3D3" stroke-width="1.4"/>
<path d="M110.6,227.6 L115.0,225.8 L120.2,226.2 L123.8,228.4 L122.0,231.1 L117.6,232.0 L113.2,231.5 L110.1,229.7Z" fill="#D3D3D3" stroke="#D3D3D3" stroke-width="1.4"/>
<path d="M111.5,230.5 L112.8,231.0 L108.2,235.8 L107.6,235.3Z" fill="#D3D3D3" stroke="#D3D3D3" stroke-width="1.4"/>
<path d="M127.6,330.2 L132.9,327.6 L137.3,330.2 L136.4,334.6 L137.3,341.6 L135.5,344.3 L131.1,345.6 L128.5,343.4 L127.2,337.2Z" fill="#D3D3D3" stroke="#D3D3D3" stroke-width="1.4"/>
<path d="M149.6,348.7 L155.7,346.9 L159.3,349.5 L157.5,353.1 L151.3,353.9Z" fill="#D3D3D3" stroke="#D3D3D3" stroke-width="1.4"/>
<path d="M161.0,346.9 L166.3,346.9 L168.1,349.5 L165.4,352.2 L161.9,351.3Z" fill="#D3D3D3" stroke="#D3D3D3" stroke-width="1.4"/>
<path d="M117.9,293.0 L122.5,292.5 L125.5,295.5 L123.5,297.8 L118.5,297.0Z" fill="#D3D3D3" stroke="#D3D3D3" stroke-width="1.4"/>
<path d="M58.5,295.0 L62.9,292.3 L66.4,289.7 L68.2,288.8 L64.7,293.2 L66.4,296.3 L61.2,297.2 L59.0,296.3Z" fill="#D3D3D3" stroke="#D3D3D3" stroke-width="1.4"/>
<path d="M142.2,204.7 L146.6,208.2 L151.0,212.6 L152.8,213.9 L147.5,213.5 L144.0,212.6 L142.2,209.1Z" fill="#D3D3D3" stroke="#D3D3D3" stroke-width="1.4"/>
<path d="M124.5,211.0 L128.5,210.8 L130.0,214.5 L127.5,216.2 L124.0,215.0Z" fill="#D3D3D3" stroke="#D3D3D3" stroke-width="1.4"/>
<path d="M222.0,278.8 L226.5,279.0 L227.0,281.5 L222.5,281.8Z" fill="#D3D3D3" stroke="#D3D3D3" stroke-width="1.4"/>
<path d="M162.3,341.9 L165.8,339.3 L165.0,341.5Z" fill="#D3D3D3" stroke="#D3D3D3" stroke-width="1.4"/>
<path d="M171.1,346.3 L174.6,344.5 L174.0,346.0Z" fill="#D3D3D3" stroke="#D3D3D3" stroke-width="1.4"/>
<path d="M166.0,249.0 L172.5,248.0 L175.5,252.0 L174.0,257.5 L167.5,258.0 L165.0,253.5Z" fill="#D59797" stroke="#D59797" stroke-width="1.4"/>
</g>
<path stroke="#D67B7A" stroke-width="2" fill="none" d="M173 254.9h2m-0.3 0.6h2m3.5 3.6h2m-18.7 3.6h2m11.4 0.6h2m3.8 0.4h2m-2.4 0.8h2"/>
<path stroke="#D75655" stroke-width="2" fill="none" d="M172.6 250.1h2m-8.8 1.6h2m3.1 1.3h2m-7.5 0.1h2m5.5 0.8h2m-5 0.6h2m-3 0.2h2m-3 0.6h2m0.3 0.1h2m-1.3 2.2h2"/>
<path stroke="#D4B4B4" stroke-width="2" fill="none" d="M170.5 250.1h2m-5.4 0.5h2m-2.7 2.6h2m5.3 2h2m-3.9 0.5h2m-1.7 1.7h2"/>
</g>
<line x1="528.7" y1="641.1" x2="528.7" y2="727.7" stroke="#333" stroke-width="0.9"/>
<line x1="526.5" y1="667.90" x2="528.7" y2="667.90" stroke="#333" stroke-width="0.9"/>
<text x="525.30" y="670.45" font-size="7.2" text-anchor="end" font-weight="normal" fill="#333" stroke="#333" stroke-width="0.18" >10</text>
<line x1="526.5" y1="695.70" x2="528.7" y2="695.70" stroke="#333" stroke-width="0.9"/>
<text x="525.30" y="698.25" font-size="7.2" text-anchor="end" font-weight="normal" fill="#333" stroke="#333" stroke-width="0.18" >0</text>
<line x1="526.5" y1="723.80" x2="528.7" y2="723.80" stroke="#333" stroke-width="0.9"/>
<text x="525.30" y="726.35" font-size="7.2" text-anchor="end" font-weight="normal" fill="#333" stroke="#333" stroke-width="0.18" >−10</text>
<line x1="528.7" y1="727.7" x2="630.7" y2="727.7" stroke="#333" stroke-width="0.9"/>
<line x1="559.80" y1="727.7" x2="559.80" y2="729.9000000000001" stroke="#333" stroke-width="0.9"/>
<text x="559.80" y="736.70" font-size="7.2" text-anchor="middle" font-weight="normal" fill="#333" stroke="#333" stroke-width="0.18" >0</text>
<line x1="593.20" y1="727.7" x2="593.20" y2="729.9000000000001" stroke="#333" stroke-width="0.9"/>
<text x="593.20" y="736.70" font-size="7.2" text-anchor="middle" font-weight="normal" fill="#333" stroke="#333" stroke-width="0.18" >10</text>
<line x1="626.60" y1="727.7" x2="626.60" y2="729.9000000000001" stroke="#333" stroke-width="0.9"/>
<text x="626.60" y="736.70" font-size="7.2" text-anchor="middle" font-weight="normal" fill="#333" stroke="#333" stroke-width="0.18" >20</text>
<text x="581.00" y="746.30" font-size="8.3" text-anchor="middle" font-weight="normal" fill="#222" stroke="#222" stroke-width="0.18" >UMAP_1</text>
<text transform="translate(508.10,683.10) rotate(-90)" font-size="8.3" text-anchor="middle" fill="#222">UMAP_2</text>
<text x="579.80" y="634.90" font-size="9.6" text-anchor="middle" font-weight="bold" fill="#111" stroke="#111" stroke-width="0.2" >CD163</text>
<defs><linearGradient id="g3" x1="0" y1="1" x2="0" y2="0"><stop offset="0" stop-color="#D3D3D3"/><stop offset="1" stop-color="#D8403F"/></linearGradient></defs>
<rect x="639.30" y="662.50" width="9.3" height="47.50" fill="url(#g3)"/>
<line x1="639.30" y1="710.00" x2="641.10" y2="710.00" stroke="#fff" stroke-width="0.5"/>
<line x1="646.80" y1="710.00" x2="648.60" y2="710.00" stroke="#fff" stroke-width="0.5"/>
<text x="653.30" y="712.60" font-size="7.2" text-anchor="start" font-weight="normal" fill="#222" stroke="#222" stroke-width="0.18" >0</text>
<line x1="639.30" y1="696.69" x2="641.10" y2="696.69" stroke="#fff" stroke-width="0.5"/>
<line x1="646.80" y1="696.69" x2="648.60" y2="696.69" stroke="#fff" stroke-width="0.5"/>
<text x="653.30" y="699.29" font-size="7.2" text-anchor="start" font-weight="normal" fill="#222" stroke="#222" stroke-width="0.18" >1</text>
<line x1="639.30" y1="683.39" x2="641.10" y2="683.39" stroke="#fff" stroke-width="0.5"/>
<line x1="646.80" y1="683.39" x2="648.60" y2="683.39" stroke="#fff" stroke-width="0.5"/>
<text x="653.30" y="685.99" font-size="7.2" text-anchor="start" font-weight="normal" fill="#222" stroke="#222" stroke-width="0.18" >2</text>
<line x1="639.30" y1="670.08" x2="641.10" y2="670.08" stroke="#fff" stroke-width="0.5"/>
<line x1="646.80" y1="670.08" x2="648.60" y2="670.08" stroke="#fff" stroke-width="0.5"/>
<text x="653.30" y="672.68" font-size="7.2" text-anchor="start" font-weight="normal" fill="#222" stroke="#222" stroke-width="0.18" >3</text>
<g transform="translate(14.180,671.733) scale(0.5300,0.5080)">
<g filter="url(#rough)">
<path d="M84.0,244.7 L90.2,247.3 L94.6,250.0 L96.3,254.4 L100.7,257.0 L100.7,261.4 L97.2,263.2 L100.7,266.7 L102.9,269.3 L102.5,274.6 L100.7,279.0 L101.5,286.5 L90.2,287.5 L81.4,287.5 L74.4,288.0 L71.7,287.8 L67.3,284.3 L65.6,279.9 L68.2,276.3 L72.6,272.8 L71.7,268.4 L69.1,264.9 L71.7,261.4 L71.3,257.0 L74.4,252.6 L76.1,248.2 L79.6,246.0Z" fill="#D3D3D3" stroke="#D3D3D3" stroke-width="1.4"/>
<path d="M96.0,284.5 L104.0,285.0 L111.0,289.0 L113.0,298.0 L106.0,297.0 L99.0,291.0Z" fill="#D3D3D3" stroke="#D3D3D3" stroke-width="1.4"/>
<path d="M73.9,286.2 L84.0,283.5 L93.7,285.3 L99.0,288.8 L102.5,295.0 L107.8,299.4 L111.7,303.8 L109.5,307.3 L104.3,309.0 L99.9,311.7 L99.0,317.0 L95.5,321.3 L91.9,325.7 L87.6,324.0 L83.2,319.6 L84.0,314.3 L81.4,309.0 L75.2,303.8 L73.5,297.6 L73.5,290.6Z" fill="#D3D3D3" stroke="#D3D3D3" stroke-width="1.4"/>
<path d="M135.2,249.7 L142.2,252.3 L149.3,255.0 L155.4,256.7 L152.8,262.9 L156.3,268.2 L157.2,274.3 L149.3,275.2 L152.8,281.3 L147.5,284.9 L142.2,288.4 L139.6,294.5 L137.8,300.0 L135.2,292.8 L134.3,289.3 L131.0,286.0 L130.0,272.0 L128.2,269.9 L123.8,265.5 L122.9,262.0 L119.4,260.2 L119.4,257.6 L126.4,254.9 L130.8,251.4Z" fill="#D3D3D3" stroke="#D3D3D3" stroke-width="1.4"/>
<path d="M99.0,279.0 L102.6,277.8 L106.2,275.2 L113.2,274.3 L122.0,274.3 L128.2,269.9 L131.5,272.0 L132.5,286.5 L129.9,285.7 L124.6,284.0 L117.6,285.7 L110.6,285.7 L105.3,282.2 L99.0,283.5Z" fill="#D3D3D3" stroke="#D3D3D3" stroke-width="1.4"/>
<path d="M179.9,304.1 L185.2,301.9 L190.5,303.2 L194.0,306.7 L198.4,309.4 L206.3,306.7 L201.0,312.0 L199.3,316.4 L204.5,320.8 L208.1,324.3 L204.5,327.0 L201.0,331.3 L195.7,334.9 L189.6,336.6 L183.4,334.9 L180.8,331.3 L178.2,326.9 L172.0,325.2 L167.6,319.9 L170.2,316.4 L174.6,312.9 L177.3,309.4Z" fill="#B1C0CD" stroke="#B1C0CD" stroke-width="1.4"/>
<path d="M155.0,285.0 L159.5,285.2 L168.0,293.0 L176.4,305.8 L177.5,310.4 L173.5,308.6 L166.0,297.5 L157.0,288.0Z" fill="#C6CCD1" stroke="#D3D3D3" stroke-width="1.4"/>
<path d="M137.3,306.4 L143.4,304.7 L149.6,306.4 L152.7,310.0 L152.2,315.2 L153.1,321.4 L150.5,324.9 L145.2,327.6 L139.0,328.4 L133.8,326.7 L130.2,323.2 L128.5,320.5 L131.1,316.1 L134.6,312.6 L135.5,309.1Z" fill="#6C9AC2" stroke="#6C9AC2" stroke-width="1.4"/>
<path d="M136.0,300.3 L138.0,300.3 L137.0,306.0 L135.8,310.5 L134.0,310.0Z" fill="#B3C1CE" stroke="#D3D3D3" stroke-width="1.4"/>
<path d="M115.3,317.9 L121.4,317.0 L127.6,316.1 L129.5,319.6 L123.2,321.4 L116.2,324.0Z" fill="#78A1C4" stroke="#78A1C4" stroke-width="1.4"/>
<path d="M168.2,217.9 L177.0,217.0 L181.4,220.6 L182.3,225.8 L185.8,229.4 L192.0,227.6 L195.5,226.7 L198.1,230.2 L204.3,227.6 L208.7,224.1 L205.1,230.2 L200.7,235.5 L201.6,240.8 L197.2,244.3 L191.9,246.1 L189.3,243.4 L184.0,239.0 L178.8,238.2 L172.6,239.9 L167.3,236.4 L171.7,233.8 L168.2,232.0 L172.6,230.2 L171.7,224.1Z" fill="#D3D3D3" stroke="#D3D3D3" stroke-width="1.4"/>
<path d="M180.6,277.6 L187.6,275.8 L196.4,275.0 L201.7,274.1 L207.8,275.8 L210.9,279.4 L208.7,282.9 L205.2,286.4 L199.9,287.3 L198.2,292.6 L196.4,295.2 L192.9,294.3 L188.5,298.7 L187.6,295.2 L183.2,291.7 L177.9,289.0 L174.4,286.4 L178.8,284.6 L179.7,281.1Z" fill="#B1C0CD" stroke="#B1C0CD" stroke-width="1.4"/>
<path d="M212.2,284.0 L216.0,282.9 L219.3,285.0 L217.5,287.3 L213.5,287.0Z" fill="#D3D3D3" stroke="#D3D3D3" stroke-width="1.4"/>
<path d="M187.0,263.5 L188.6,263.5 L188.6,275.0 L187.0,275.0Z" fill="#D3D3D3" stroke="#D3D3D3" stroke-width="1.4"/>
<path d="M197.6,295.0 L199.0,295.0 L199.0,305.0 L197.6,305.0Z" fill="#D3D3D3" stroke="#D3D3D3" stroke-width="1.4"/>
<path d="M168.2,248.7 L173.5,247.8 L177.9,251.3 L179.6,256.6 L182.3,261.0 L183.2,263.7 L179.6,266.3 L174.4,270.0 L167.9,271.2 L166.0,266.0 L162.0,263.5 L165.7,258.0 L165.4,252.0Z" fill="#D3D3D3" stroke="#D3D3D3" stroke-width="1.4"/>
<path d="M203.4,298.7 L207.8,301.3 L212.2,297.8 L217.5,299.6 L220.6,304.0 L219.3,307.5 L214.0,310.1 L208.7,310.1 L206.9,307.5 L205.2,304.0Z" fill="#B1C0CD" stroke="#B1C0CD" stroke-width="1.4"/>
<path d="M135.2,224.0 L140.5,227.6 L144.9,223.2 L149.3,222.3 L151.0,224.9 L150.1,229.3 L152.8,232.8 L151.9,236.3 L148.4,235.5 L145.7,231.9 L142.2,232.8 L138.7,230.2 L136.9,226.7Z" fill="#D3D3D3" stroke="#D3D3D3" stroke-width="1.4"/>
<path d="M110.6,227.6 L115.0,225.8 L120.2,226.2 L123.8,228.4 L122.0,231.1 L117.6,232.0 L113.2,231.5 L110.1,229.7Z" fill="#D3D3D3" stroke="#D3D3D3" stroke-width="1.4"/>
<path d="M111.5,230.5 L112.8,231.0 L108.2,235.8 L107.6,235.3Z" fill="#D3D3D3" stroke="#D3D3D3" stroke-width="1.4"/>
<path d="M127.6,330.2 L132.9,327.6 L137.3,330.2 L136.4,334.6 L137.3,341.6 L135.5,344.3 L131.1,345.6 L128.5,343.4 L127.2,337.2Z" fill="#7EA4C5" stroke="#7EA4C5" stroke-width="1.4"/>
<path d="M149.6,348.7 L155.7,346.9 L159.3,349.5 L157.5,353.1 L151.3,353.9Z" fill="#AFBFCD" stroke="#AFBFCD" stroke-width="1.4"/>
<path d="M161.0,346.9 L166.3,346.9 L168.1,349.5 L165.4,352.2 L161.9,351.3Z" fill="#D3D3D3" stroke="#D3D3D3" stroke-width="1.4"/>
<path d="M117.9,293.0 L122.5,292.5 L125.5,295.5 L123.5,297.8 L118.5,297.0Z" fill="#D3D3D3" stroke="#D3D3D3" stroke-width="1.4"/>
<path d="M58.5,295.0 L62.9,292.3 L66.4,289.7 L68.2,288.8 L64.7,293.2 L66.4,296.3 L61.2,297.2 L59.0,296.3Z" fill="#D3D3D3" stroke="#D3D3D3" stroke-width="1.4"/>
<path d="M142.2,204.7 L146.6,208.2 L151.0,212.6 L152.8,213.9 L147.5,213.5 L144.0,212.6 L142.2,209.1Z" fill="#D3D3D3" stroke="#D3D3D3" stroke-width="1.4"/>
<path d="M124.5,211.0 L128.5,210.8 L130.0,214.5 L127.5,216.2 L124.0,215.0Z" fill="#D3D3D3" stroke="#D3D3D3" stroke-width="1.4"/>
<path d="M222.0,278.8 L226.5,279.0 L227.0,281.5 L222.5,281.8Z" fill="#D3D3D3" stroke="#D3D3D3" stroke-width="1.4"/>
<path d="M162.3,341.9 L165.8,339.3 L165.0,341.5Z" fill="#D3D3D3" stroke="#D3D3D3" stroke-width="1.4"/>
<path d="M171.1,346.3 L174.6,344.5 L174.0,346.0Z" fill="#D3D3D3" stroke="#D3D3D3" stroke-width="1.4"/>
</g>
<path stroke="#3C80BA" stroke-width="2" fill="none" d="M203.1 276.1h2m-7.2 0.8h2m8.7 1.4h2m-25.1 0.1h2m5.5 0.3h2m-11.9 0.4h2m10.5 1.1h2m-9.4 0.3h2m4.6 0.1h2m-10.1 0.2h2m20.6 0.5h2m-20.1 3.3h2m-0.2 0.2h2m-7.6 0.4h2m14.5 0.7h2m-23 0.2h2m1.5 1.5h2m3.9 0.4h2m-13.6 0.8h2m-4.4 0.7h2m18.1 1.3h2m-16.4 0.2h2m1.3 0.5h2m4.2 0.5h2m-8 0.7h2m8.3 1.2h2m-11.4 0.5h2m25.6 6.8h2m-2.5 1h2m-10.3 0.4h2m-2.6 0.9h2m9.5 0.3h2m-36.7 0.5h2m26.2 0.1h2m-3.9 0.2h2m4 0.4h2m-31.5 0.8h2m31.8 0h2m-35.9 0.2h2m3.4 0.3h2m-51 0.3h2m-0.7 0h2m0.4 0.3h2m33.7 0h2m2.4 0h2m29.5 0.1h2m-72.4 0.3h2m41.2 0.3h2m-8.8 0.1h2m-1.6 -0h2m-38.5 0.1h2m36.4 0.2h2m22.5 0.1h2m-72.9 0.1h2m70.3 0.2h2m2.9 -0h2m-75.2 0.2h2m44.7 0.1h2m-44.2 0.4h2m39.6 0.5h2m-4.1 0.1h2m-4.5 0.7h2m13.7 0.1h2m11.8 -0h2m-79.3 0.2h2m8.8 0.3h2m-9.8 0.1h2m41.6 0.1h2m-39.9 0.1h2m2.6 0.3h2m-7 0.6h2m-4.4 0.7h2m0.7 -0h2m3.6 0.1h2m34.3 0.6h2m-42.8 0.2h2m-14.2 0.1h2m4 0.1h2m39 0.2h2m-34.6 0.1h2m31.1 0.1h2m12.2 -0h2m-49.9 0.1h2m-2 0.2h2m-14.3 0.1h2m-3.2 0.2h2m2.4 -0h2m-2.8 0.5h2m54.8 0.2h2m-63.7 0.3h2m40.1 0.9h2m-35.1 0.2h2m6 0.1h2m40 -0h2m-54.6 0.1h2m-0.6 0.1h2m34.1 0.2h2m-52.4 0.2h2m10.5 0.3h2m-9.1 0.1h2m49.6 -0h2m-64.3 0.2h2m-2.9 0.3h2m67.3 0.2h2m-61.4 0.5h2m18.8 -0h2m-4 0.1h2m-26.5 0.2h2m13.8 0.2h2m58.4 -0h2m-65.8 0.1h2m0.9 0.2h2m55.3 0.1h2m-81.8 0.4h2m6.3 -0h2m22.4 -0h2m-25.2 0.1h2m-13.7 0.1h2m30.1 -0h2m0.6 -0h2m-0.8 0.1h2m-10.2 0.3h2m48.8 0.2h2m-60.5 0.1h2m-4.1 0.4h2m56.1 -0h2m-74.7 0.1h2m8.3 -0h2m5.8 -0h2m55 0.1h2m-62.9 0.1h2m6 0.1h2m-12.2 0.2h2m0 -0h2m69.4 -0h2m-63.5 0.2h2m2.4 -0h2m-33.2 0.6h2m27.8 -0h2m52.8 -0h2m-52.9 0.1h2m-2.3 0.1h2m29.8 0.5h2m-67.3 0.1h2m23.6 -0h2m6.3 0.4h2m-0.9 0.1h2m-7.6 0.4h2m1.1 -0h2m56.8 0.1h2m-76.8 0.1h2m38.8 -0h2m-42.6 0.1h2m13 0.1h2m24.9 0.3h2m-40.9 0.1h2m-0.6 0.1h2m61.9 -0h2m-27.4 0.2h2m-41.1 0.1h2m-1.1 -0h2m61.2 -0h2m-66.9 0.8h2m7.7 -0h2m-3 0.3h2m-4.4 0.2h2m55.5 -0h2m-3.7 0.1h2m3.6 0.1h2m-62.4 0.2h2m-9.9 0.1h2m56.7 0.1h2m-59 0.1h2m40.9 -0h2m-3.1 0.2h2m-40.8 0.5h2m38 0.1h2m-50.1 0.2h2m0.5 0.3h2m59.2 0.1h2m-67.5 1.5h2m50.2 0.7h2m-50.5 0.4h2m45.5 0.3h2m15.8 0.2h2m-5 0.1h2m-69.5 0.8h2m5.4 0.6h2m-3.6 0.4h2m59.1 0.4h2m-61.2 0.1h2m48.6 -0h2m5.4 0.2h2m-5.8 0.4h2m-59.3 0.7h2m-5.9 0.2h2m2.2 0.1h2m-7.5 1.1h2m3 0.2h2m-1.7 0.7h2m0.5 -0h2m-4.6 0.8h2m-1.2 1.1h2m-2.2 0.7h2m-5.8 0.5h2m-1.3 1.3h2m-0.1 0.1h2m1.3 0.9h2m-5 0.1h2m-3.8 0.6h2m23.7 7.4h2"/>
<path stroke="#C2C9D0" stroke-width="2" fill="none" d="M198.8 276.6h2m-9.2 0.1h2m2 0.1h2m10 0.3h2m-15 0.1h2m-9.2 0.3h2m0.8 -0h2m4.9 0.1h2m-0.2 0.3h2m-15.2 0.1h2m7.7 0.6h2m4.7 0.2h2m4.5 0.1h2m-29.7 0.2h2m17.2 0.2h2m-5.1 0.4h2m7.2 0.3h2m-4.7 0.3h2m-23.8 0.1h2m22.2 0.1h2m-14 0.1h2m-0.4 0.2h2m8.2 -0h2m-26.3 0.3h2m8.5 -0h2m6.5 -0h2m-9.9 0.4h2m-5.1 0.2h2m16.5 0.3h2m-9.9 0.2h2m-16.5 0.1h2m10.9 0.1h2m-5 0.1h2m-5.5 0.1h2m10.3 -0h2m-20.8 0.1h2m18.2 0.6h2m-10.5 0.1h2m-9.7 0.1h2m-1.7 0.7h2m-7.2 0.2h2m-2.4 0.4h2m11.4 1h2m-18.9 0.2h2m22 0.2h2m-13.9 0.3h2m-0.4 -0h2m-17.2 0.6h2m-1.1 -0h2m7.7 0.3h2m-17 0.2h2m6.8 0.2h2m13.3 0.2h2m-0.5 0.1h2m-19.2 0.1h2m-5.2 0.1h2m2.6 -0h2m8.6 -0h2m-18.5 0.1h2m13.6 0.8h2m0.3 -0h2m-13.8 0.1h2m-2.2 0.6h2m5.6 0.2h2m-7.3 1.3h2m-2.3 0.1h2m6.5 -0h2m-11.6 0.1h2m-1.3 0.1h2m0.3 0.4h2m1.2 0.7h2m-6.7 0.1h2m-2.2 0.1h2m3.8 2.2h2m1.6 0.5h2m-7.3 0.5h2m11.4 4.9h2m-1.9 1h2m-1.5 0.1h2m9 0.3h2m-4 0.2h2m-2.1 0.1h2m-1.8 -0h2m-8.5 0.3h2m-0.7 -0h2m-5.6 0.1h2m8.4 0.1h2m-0.2 -0h2m-32.4 0.4h2m-3.1 0.5h2m23.5 0.2h2m6.4 -0h2m-32.3 0.7h2m-9.6 0.1h2m24.9 0.2h2m-27.8 0.2h2m5.4 1.2h2m-2 0.8h2m-13.1 0.2h2m30.9 0.1h2m-30.6 0.3h2m1.7 0.1h2m-1.8 0.1h2m5 0.6h2m-6.4 0.1h2m-10.1 0.4h2m1.6 0.1h2m28.7 0.2h2m-26.8 0.1h2m21.8 -0h2m-37.1 0.3h2m-0.1 -0h2m-2.9 0.1h2m16.7 -0h2m-3.6 0.2h2m11 -0h2m-1.8 -0h2m-22.5 0.1h2m8.6 0.1h2m-20.6 0.2h2m-6.7 0.2h2m10.6 -0h2m-13.3 0.3h2m19.2 0.2h2m-3.7 0.1h2m-7.3 0.1h2m-8.1 0.1h2m8.1 0.2h2m-4.4 0.3h2m0.1 0.3h2m-9.5 0.4h2m4 0.3h2m-5.6 0.1h2m-11.5 0.1h2m12.6 0.6h2m-19.1 0.2h2m-1.7 0.2h2m-8.2 0.2h2m7 0.4h2m7.6 0.3h2m1.5 -0h2m-24.4 0.1h2m9.2 -0h2m-3.5 0.5h2m-3.2 0.3h2m-9.4 0.4h2m-1.9 0.2h2m-5.4 0.1h2m2.5 0.1h2m-7 0.2h2m7 0.3h2m3.4 0.1h2m-3.9 0.2h2m7.6 0.4h2m-0.9 -0h2m-1.7 0.2h2m1.6 -0h2m-10.6 0.2h2m-13.1 0.1h2m-0.3 0.3h2m-2.4 0.1h2m12.8 0.4h2m-19.5 0.4h2m4.7 -0h2m-11.5 0.5h2m10.7 -0h2m-17.1 0.1h2m26.8 -0h2m-21.6 0.4h2m0.5 0.1h2m8.7 0.1h2m6.9 -0h2m-17 0.1h2m9 0.1h2m-23.2 0.1h2m19.4 0.3h2m-26.2 0.2h2m15.3 0.1h2m-21.2 0.1h2m7.2 0.2h2m-0.5 0.3h2m6.5 -0h2m-24.8 0.2h2m10.8 -0h2m17.3 0.1h2m-4.4 0.4h2m0.9 0.3h2m-29.3 0.2h2m-5.2 0.3h2m2.4 -0h2m17.4 -0h2m-20.3 0.1h2m20.1 0.1h2m-15.5 0.4h2m-1.4 0.2h2m8.2 0.3h2m-0.3 0.1h2m-1.2 -0h2m-17.1 0.1h2m21.2 -0h2m-15.1 0.1h2m-18.1 0.1h2m4.2 -0h2m4.4 0.2h2m5.2 0.6h2m4.4 0.2h2m-12.7 0.1h2m5.8 0.3h2m-25.2 0.5h2m6.7 0.4h2m8 0.2h2m5 -0h2m-11.1 0.5h2m-10.2 0.1h2m12.8 0.3h2m-1.1 0.2h2m-15.3 0.9h2m9.4 -0h2m-19.3 0.2h2m1.8 0.8h2m-2.9 0.3h2m4.3 0.5h2m-13.2 0.1h2m1 0.3h2m2.1 -0h2m-7.2 0.7h2m-0.2 0.2h2m-1.4 -0h2m-3.7 0.2h2m10.9 -0h2m-9.5 0.4h2m-7.4 0.1h2m-0.3 0.2h2m7.1 0.3h2m0.6 0.1h2m-12.5 0.3h2m6.9 0.2h2m-14.5 0.3h2m1.7 0.3h2m-1.1 0.7h2"/>
<path stroke="#4585BB" stroke-width="2" fill="none" d="M158 286.3h2m-1.3 0.4h2m-1.1 0.5h2m-2.9 0.3h2m0.1 0h2m-3 0.2h2m-0.5 0.2h2m-2.1 0.1h2m-1.3 0.8h2m-1.8 0.6h2m-5.4 0.3h2m2.7 1.2h2m-1.2 0.1h2m-2.8 0.2h2m-3.2 0.4h2m0.1 1.4h2m-0.1 0.9h2m-3.7 0.1h2m-2 1.6h2m1 0.6h2m-4.1 0.3h2m-1.2 0.5h2m0.1 0.7h2m-3.7 0.4h2m0.7 0h2m-4 1.2h2m1.5 0.2h2m-2 0.8h2m-2 0.1h2m-0.8 1h2m-3.8 0.4h2m-0.8 1h2m-4.3 0.2h2m-33.6 0.9h2m33.2 0.2h2m-0.6 0.3h2m-39.7 0.3h2m36.2 0h2m-2.2 0.2h2m-1.7 1.5h2m-1.6 0.2h2m-2.8 0.1h2m-39.4 0.8h2m-3.8 0.1h2m37.9 0.1h2m-0.8 -0h2m-2.2 1.1h2"/>
<path stroke="#9EB6CA" stroke-width="2" fill="none" d="M148.8 307.3h2m-5.1 2h2m1.7 4.1h2m-18.8 2.3h2m6.6 1h2m4.9 2.8h2m-12.1 1.9h2m-1 3.6h2m-8.2 1.1h2"/>
<path stroke="#A4B9CB" stroke-width="2" fill="none" d="M118.4 319.3h2m3.6 2.3h2m-3.4 0.6h2"/>
<path stroke="#A7BBCC" stroke-width="2" fill="none" d="M133.9 329.3h2m-3.7 0.8h2m0.6 2.7h2m-1.6 2h2m-3.7 0.6h2m0.7 0.2h2m-4.9 0.4h2m-2.7 3.8h2"/>
<path stroke="#C0C9D0" stroke-width="2" fill="none" d="M151.6 349.2h2m0.7 1.1h2m0 0.3h2m-6.7 0.3h2m-1.2 -0h2m4 0.1h2m-8.5 2.4h2m-0.1 0.1h2m-0.8 0.2h2m-1 0.5h2m-5 0.4h2"/>
</g>
<line x1="37.9" y1="770.6" x2="37.9" y2="857.2" stroke="#333" stroke-width="0.9"/>
<line x1="35.699999999999996" y1="797.40" x2="37.9" y2="797.40" stroke="#333" stroke-width="0.9"/>
<text x="34.50" y="799.95" font-size="7.2" text-anchor="end" font-weight="normal" fill="#333" stroke="#333" stroke-width="0.18" >10</text>
<line x1="35.699999999999996" y1="825.20" x2="37.9" y2="825.20" stroke="#333" stroke-width="0.9"/>
<text x="34.50" y="827.75" font-size="7.2" text-anchor="end" font-weight="normal" fill="#333" stroke="#333" stroke-width="0.18" >0</text>
<line x1="35.699999999999996" y1="853.30" x2="37.9" y2="853.30" stroke="#333" stroke-width="0.9"/>
<text x="34.50" y="855.85" font-size="7.2" text-anchor="end" font-weight="normal" fill="#333" stroke="#333" stroke-width="0.18" >−10</text>
<line x1="37.9" y1="857.2" x2="139.9" y2="857.2" stroke="#333" stroke-width="0.9"/>
<line x1="69.30" y1="857.2" x2="69.30" y2="859.4000000000001" stroke="#333" stroke-width="0.9"/>
<text x="69.30" y="866.20" font-size="7.2" text-anchor="middle" font-weight="normal" fill="#333" stroke="#333" stroke-width="0.18" >0</text>
<line x1="102.70" y1="857.2" x2="102.70" y2="859.4000000000001" stroke="#333" stroke-width="0.9"/>
<text x="102.70" y="866.20" font-size="7.2" text-anchor="middle" font-weight="normal" fill="#333" stroke="#333" stroke-width="0.18" >10</text>
<line x1="136.10" y1="857.2" x2="136.10" y2="859.4000000000001" stroke="#333" stroke-width="0.9"/>
<text x="136.10" y="866.20" font-size="7.2" text-anchor="middle" font-weight="normal" fill="#333" stroke="#333" stroke-width="0.18" >20</text>
<text x="90.50" y="875.80" font-size="8.3" text-anchor="middle" font-weight="normal" fill="#222" stroke="#222" stroke-width="0.18" >UMAP_1</text>
<text transform="translate(17.30,812.60) rotate(-90)" font-size="8.3" text-anchor="middle" fill="#222">UMAP_2</text>
<text x="88.50" y="764.40" font-size="9.6" text-anchor="middle" font-weight="bold" fill="#111" stroke="#111" stroke-width="0.2" >CD79A</text>
<defs><linearGradient id="g4" x1="0" y1="1" x2="0" y2="0"><stop offset="0" stop-color="#D3D3D3"/><stop offset="1" stop-color="#2171B5"/></linearGradient></defs>
<rect x="148.50" y="792.00" width="9.3" height="47.50" fill="url(#g4)"/>
<line x1="148.50" y1="839.50" x2="150.30" y2="839.50" stroke="#fff" stroke-width="0.5"/>
<line x1="156.00" y1="839.50" x2="157.80" y2="839.50" stroke="#fff" stroke-width="0.5"/>
<text x="162.50" y="842.10" font-size="7.2" text-anchor="start" font-weight="normal" fill="#222" stroke="#222" stroke-width="0.18" >0</text>
<line x1="148.50" y1="829.71" x2="150.30" y2="829.71" stroke="#fff" stroke-width="0.5"/>
<line x1="156.00" y1="829.71" x2="157.80" y2="829.71" stroke="#fff" stroke-width="0.5"/>
<text x="162.50" y="832.31" font-size="7.2" text-anchor="start" font-weight="normal" fill="#222" stroke="#222" stroke-width="0.18" >1</text>
<line x1="148.50" y1="819.91" x2="150.30" y2="819.91" stroke="#fff" stroke-width="0.5"/>
<line x1="156.00" y1="819.91" x2="157.80" y2="819.91" stroke="#fff" stroke-width="0.5"/>
<text x="162.50" y="822.51" font-size="7.2" text-anchor="start" font-weight="normal" fill="#222" stroke="#222" stroke-width="0.18" >2</text>
<line x1="148.50" y1="810.12" x2="150.30" y2="810.12" stroke="#fff" stroke-width="0.5"/>
<line x1="156.00" y1="810.12" x2="157.80" y2="810.12" stroke="#fff" stroke-width="0.5"/>
<text x="162.50" y="812.72" font-size="7.2" text-anchor="start" font-weight="normal" fill="#222" stroke="#222" stroke-width="0.18" >3</text>
<line x1="148.50" y1="800.32" x2="150.30" y2="800.32" stroke="#fff" stroke-width="0.5"/>
<line x1="156.00" y1="800.32" x2="157.80" y2="800.32" stroke="#fff" stroke-width="0.5"/>
<text x="162.50" y="802.92" font-size="7.2" text-anchor="start" font-weight="normal" fill="#222" stroke="#222" stroke-width="0.18" >4</text>
<g transform="translate(177.680,671.733) scale(0.5300,0.5080)">
<g filter="url(#rough)">
<path d="M84.0,244.7 L90.2,247.3 L94.6,250.0 L96.3,254.4 L100.7,257.0 L100.7,261.4 L97.2,263.2 L100.7,266.7 L102.9,269.3 L102.5,274.6 L100.7,279.0 L101.5,286.5 L90.2,287.5 L81.4,287.5 L74.4,288.0 L71.7,287.8 L67.3,284.3 L65.6,279.9 L68.2,276.3 L72.6,272.8 L71.7,268.4 L69.1,264.9 L71.7,261.4 L71.3,257.0 L74.4,252.6 L76.1,248.2 L79.6,246.0Z" fill="#D3D3D3" stroke="#D3D3D3" stroke-width="1.4"/>
<path d="M96.0,284.5 L104.0,285.0 L111.0,289.0 L113.0,298.0 L106.0,297.0 L99.0,291.0Z" fill="#D3D3D3" stroke="#D3D3D3" stroke-width="1.4"/>
<path d="M73.9,286.2 L84.0,283.5 L93.7,285.3 L99.0,288.8 L102.5,295.0 L107.8,299.4 L111.7,303.8 L109.5,307.3 L104.3,309.0 L99.9,311.7 L99.0,317.0 L95.5,321.3 L91.9,325.7 L87.6,324.0 L83.2,319.6 L84.0,314.3 L81.4,309.0 L75.2,303.8 L73.5,297.6 L73.5,290.6Z" fill="#D3D3D3" stroke="#D3D3D3" stroke-width="1.4"/>
<path d="M135.2,249.7 L142.2,252.3 L149.3,255.0 L155.4,256.7 L152.8,262.9 L156.3,268.2 L157.2,274.3 L149.3,275.2 L152.8,281.3 L147.5,284.9 L142.2,288.4 L139.6,294.5 L137.8,300.0 L135.2,292.8 L134.3,289.3 L131.0,286.0 L130.0,272.0 L128.2,269.9 L123.8,265.5 L122.9,262.0 L119.4,260.2 L119.4,257.6 L126.4,254.9 L130.8,251.4Z" fill="#D3D3D3" stroke="#D3D3D3" stroke-width="1.4"/>
<path d="M99.0,279.0 L102.6,277.8 L106.2,275.2 L113.2,274.3 L122.0,274.3 L128.2,269.9 L131.5,272.0 L132.5,286.5 L129.9,285.7 L124.6,284.0 L117.6,285.7 L110.6,285.7 L105.3,282.2 L99.0,283.5Z" fill="#D3D3D3" stroke="#D3D3D3" stroke-width="1.4"/>
<path d="M179.9,304.1 L185.2,301.9 L190.5,303.2 L194.0,306.7 L198.4,309.4 L206.3,306.7 L201.0,312.0 L199.3,316.4 L204.5,320.8 L208.1,324.3 L204.5,327.0 L201.0,331.3 L195.7,334.9 L189.6,336.6 L183.4,334.9 L180.8,331.3 L178.2,326.9 L172.0,325.2 L167.6,319.9 L170.2,316.4 L174.6,312.9 L177.3,309.4Z" fill="#D3D3D3" stroke="#D3D3D3" stroke-width="1.4"/>
<path d="M155.0,285.0 L159.5,285.2 L168.0,293.0 L176.4,305.8 L177.5,310.4 L173.5,308.6 L166.0,297.5 L157.0,288.0Z" fill="#D3D3D3" stroke="#D3D3D3" stroke-width="1.4"/>
<path d="M137.3,306.4 L143.4,304.7 L149.6,306.4 L152.7,310.0 L152.2,315.2 L153.1,321.4 L150.5,324.9 L145.2,327.6 L139.0,328.4 L133.8,326.7 L130.2,323.2 L128.5,320.5 L131.1,316.1 L134.6,312.6 L135.5,309.1Z" fill="#6C9AC2" stroke="#6C9AC2" stroke-width="1.4"/>
<path d="M136.0,300.3 L138.0,300.3 L137.0,306.0 L135.8,310.5 L134.0,310.0Z" fill="#B3C1CE" stroke="#D3D3D3" stroke-width="1.4"/>
<path d="M115.3,317.9 L121.4,317.0 L127.6,316.1 L129.5,319.6 L123.2,321.4 L116.2,324.0Z" fill="#7EA4C5" stroke="#7EA4C5" stroke-width="1.4"/>
<path d="M168.2,217.9 L177.0,217.0 L181.4,220.6 L182.3,225.8 L185.8,229.4 L192.0,227.6 L195.5,226.7 L198.1,230.2 L204.3,227.6 L208.7,224.1 L205.1,230.2 L200.7,235.5 L201.6,240.8 L197.2,244.3 L191.9,246.1 L189.3,243.4 L184.0,239.0 L178.8,238.2 L172.6,239.9 L167.3,236.4 L171.7,233.8 L168.2,232.0 L172.6,230.2 L171.7,224.1Z" fill="#D3D3D3" stroke="#D3D3D3" stroke-width="1.4"/>
<path d="M180.6,277.6 L187.6,275.8 L196.4,275.0 L201.7,274.1 L207.8,275.8 L210.9,279.4 L208.7,282.9 L205.2,286.4 L199.9,287.3 L198.2,292.6 L196.4,295.2 L192.9,294.3 L188.5,298.7 L187.6,295.2 L183.2,291.7 L177.9,289.0 L174.4,286.4 L178.8,284.6 L179.7,281.1Z" fill="#D3D3D3" stroke="#D3D3D3" stroke-width="1.4"/>
<path d="M212.2,284.0 L216.0,282.9 L219.3,285.0 L217.5,287.3 L213.5,287.0Z" fill="#D3D3D3" stroke="#D3D3D3" stroke-width="1.4"/>
<path d="M187.0,263.5 L188.6,263.5 L188.6,275.0 L187.0,275.0Z" fill="#D3D3D3" stroke="#D3D3D3" stroke-width="1.4"/>
<path d="M197.6,295.0 L199.0,295.0 L199.0,305.0 L197.6,305.0Z" fill="#D3D3D3" stroke="#D3D3D3" stroke-width="1.4"/>
<path d="M168.2,248.7 L173.5,247.8 L177.9,251.3 L179.6,256.6 L182.3,261.0 L183.2,263.7 L179.6,266.3 L174.4,270.0 L167.9,271.2 L166.0,266.0 L162.0,263.5 L165.7,258.0 L165.4,252.0Z" fill="#D3D3D3" stroke="#D3D3D3" stroke-width="1.4"/>
<path d="M203.4,298.7 L207.8,301.3 L212.2,297.8 L217.5,299.6 L220.6,304.0 L219.3,307.5 L214.0,310.1 L208.7,310.1 L206.9,307.5 L205.2,304.0Z" fill="#D3D3D3" stroke="#D3D3D3" stroke-width="1.4"/>
<path d="M135.2,224.0 L140.5,227.6 L144.9,223.2 L149.3,222.3 L151.0,224.9 L150.1,229.3 L152.8,232.8 L151.9,236.3 L148.4,235.5 L145.7,231.9 L142.2,232.8 L138.7,230.2 L136.9,226.7Z" fill="#D3D3D3" stroke="#D3D3D3" stroke-width="1.4"/>
<path d="M110.6,227.6 L115.0,225.8 L120.2,226.2 L123.8,228.4 L122.0,231.1 L117.6,232.0 L113.2,231.5 L110.1,229.7Z" fill="#D3D3D3" stroke="#D3D3D3" stroke-width="1.4"/>
<path d="M111.5,230.5 L112.8,231.0 L108.2,235.8 L107.6,235.3Z" fill="#D3D3D3" stroke="#D3D3D3" stroke-width="1.4"/>
<path d="M127.6,330.2 L132.9,327.6 L137.3,330.2 L136.4,334.6 L137.3,341.6 L135.5,344.3 L131.1,345.6 L128.5,343.4 L127.2,337.2Z" fill="#AFBFCD" stroke="#AFBFCD" stroke-width="1.4"/>
<path d="M149.6,348.7 L155.7,346.9 L159.3,349.5 L157.5,353.1 L151.3,353.9Z" fill="#D3D3D3" stroke="#D3D3D3" stroke-width="1.4"/>
<path d="M161.0,346.9 L166.3,346.9 L168.1,349.5 L165.4,352.2 L161.9,351.3Z" fill="#D3D3D3" stroke="#D3D3D3" stroke-width="1.4"/>
<path d="M117.9,293.0 L122.5,292.5 L125.5,295.5 L123.5,297.8 L118.5,297.0Z" fill="#D3D3D3" stroke="#D3D3D3" stroke-width="1.4"/>
<path d="M58.5,295.0 L62.9,292.3 L66.4,289.7 L68.2,288.8 L64.7,293.2 L66.4,296.3 L61.2,297.2 L59.0,296.3Z" fill="#D3D3D3" stroke="#D3D3D3" stroke-width="1.4"/>
<path d="M142.2,204.7 L146.6,208.2 L151.0,212.6 L152.8,213.9 L147.5,213.5 L144.0,212.6 L142.2,209.1Z" fill="#D3D3D3" stroke="#D3D3D3" stroke-width="1.4"/>
<path d="M124.5,211.0 L128.5,210.8 L130.0,214.5 L127.5,216.2 L124.0,215.0Z" fill="#D3D3D3" stroke="#D3D3D3" stroke-width="1.4"/>
<path d="M222.0,278.8 L226.5,279.0 L227.0,281.5 L222.5,281.8Z" fill="#D3D3D3" stroke="#D3D3D3" stroke-width="1.4"/>
<path d="M162.3,341.9 L165.8,339.3 L165.0,341.5Z" fill="#D3D3D3" stroke="#D3D3D3" stroke-width="1.4"/>
<path d="M171.1,346.3 L174.6,344.5 L174.0,346.0Z" fill="#D3D3D3" stroke="#D3D3D3" stroke-width="1.4"/>
</g>
<path stroke="#3C80BA" stroke-width="2" fill="none" d="M143.4 305.9h2m-4.4 0.5h2m1.3 1.2h2m0.3 0.2h2m-5.5 0.4h2m4.5 1.7h2m-9.2 0.1h2m5.5 0h2m-9 0.1h2m3 0h2m-2.6 0.1h2m-7.5 0.2h2m1.4 0.4h2m-3 0.1h2m-2.9 0.5h2m5 0.1h2m-10.3 0.1h2m-1.8 0h2m-7.1 0.2h2m10.9 0.2h2m-16.9 0.1h2m15.2 0.1h2m-16.5 0.3h2m6.7 0.4h2m-7.5 1.8h2m7.8 0.1h2m-2.2 0.2h2m-14.8 0.2h2m0.9 -0h2m0.8 0.1h2m-0.3 0.1h2m-13.6 0.2h2m4.2 0.3h2m-8.2 0.4h2m3.9 -0h2m-0.3 0.1h2m-6.8 0.4h2m9.3 0.3h2m-0.5 -0h2m-6.5 0.1h2m-6.2 0.4h2m-7.5 0.2h2m-6.3 0.4h2m-1.8 0.5h2m-13.6 0.2h2m-0.8 0.2h2m14.3 0.1h2m-8.2 0.3h2m16.2 -0h2m-0.6 0.2h2m-26 0.3h2m5.1 -0h2m-1.3 -0h2m-10.1 0.1h2m10.4 0.1h2m4.4 0.2h2m-25.4 0.2h2m9 -0h2m-5.8 0.1h2m8.5 0.3h2m-19.8 0.2h2m8.8 0.1h2m-4.7 0.1h2m5.9 -0h2m12.9 0.2h2m-36.1 0.1h2m24.2 0.1h2m-17.3 0.1h2m-7.2 0.1h2m5.1 0.1h2m-11.7 0.3h2m26.4 0.3h2m-7.9 0.5h2m1 0.3h2m-7.5 0.3h2m-12.5 0.2h2m15.6 0.3h2m-11.8 0.3h2m-5.5 0.4h2m-5.1 0.2h2m5.9 -0h2m5.2 0.3h2m-13.3 0.1h2m-3.8 0.6h2m8.3 0.2h2m-12.7 0.9h2m4.3 -0h2m-7.4 0.1h2m9 0.3h2m-12.3 0.1h2m4.8 0.9h2m-10.4 3.5h2m-7.2 0.5h2m-0.7 1h2m-2.2 2.7h2m3 0.6h2m-4 0.3h2m-1.1 1.1h2m-0.8 3.8h2m-8 1.3h2m2.3 -0h2m-1.3 1.4h2"/>
<path stroke="#9EB6CA" stroke-width="2" fill="none" d="M147.8 314.3h2m-13.3 0.1h2m9 0.1h2m-5.7 3.4h2m-0.5 0.3h2m0.9 1.7h2m-13.2 1.9h2m2.9 1.3h2m2.4 1.2h2m-1.6 0.3h2m-13.4 0.9h2m4.9 1.2h2"/>
<path stroke="#4585BB" stroke-width="2" fill="none" d="M137.1 305h2m-3.4 4.1h2m-1.9 0.4h2m-2.7 1.6h2"/>
<path stroke="#A7BBCC" stroke-width="2" fill="none" d="M127.7 317.9h2m-4.6 2.1h2m-7.7 3.4h2"/>
<path stroke="#C0C9D0" stroke-width="2" fill="none" d="M134 329.5h2m-5.5 0.9h2m-0.6 0.7h2m0.4 0.7h2m-8.5 1.9h2m1.3 0.5h2m-1.8 0.9h2m0.2 0.3h2m-4.1 0.8h2m0.4 0h2m-3.4 0.2h2m-6 0.1h2m0.1 0.2h2m-4 0.5h2m3.1 0.8h2m-7.7 0.9h2m0.7 0h2m-3 0.1h2m-3.8 1.8h2m2.9 0.9h2m-4 1.2h2m-3.6 0.3h2m0.5 0h2"/>
</g>
<line x1="201.9" y1="770.6" x2="201.9" y2="857.2" stroke="#333" stroke-width="0.9"/>
<line x1="199.70000000000002" y1="797.40" x2="201.9" y2="797.40" stroke="#333" stroke-width="0.9"/>
<text x="198.50" y="799.95" font-size="7.2" text-anchor="end" font-weight="normal" fill="#333" stroke="#333" stroke-width="0.18" >10</text>
<line x1="199.70000000000002" y1="825.20" x2="201.9" y2="825.20" stroke="#333" stroke-width="0.9"/>
<text x="198.50" y="827.75" font-size="7.2" text-anchor="end" font-weight="normal" fill="#333" stroke="#333" stroke-width="0.18" >0</text>
<line x1="199.70000000000002" y1="853.30" x2="201.9" y2="853.30" stroke="#333" stroke-width="0.9"/>
<text x="198.50" y="855.85" font-size="7.2" text-anchor="end" font-weight="normal" fill="#333" stroke="#333" stroke-width="0.18" >−10</text>
<line x1="201.9" y1="857.2" x2="303.9" y2="857.2" stroke="#333" stroke-width="0.9"/>
<line x1="232.80" y1="857.2" x2="232.80" y2="859.4000000000001" stroke="#333" stroke-width="0.9"/>
<text x="232.80" y="866.20" font-size="7.2" text-anchor="middle" font-weight="normal" fill="#333" stroke="#333" stroke-width="0.18" >0</text>
<line x1="266.20" y1="857.2" x2="266.20" y2="859.4000000000001" stroke="#333" stroke-width="0.9"/>
<text x="266.20" y="866.20" font-size="7.2" text-anchor="middle" font-weight="normal" fill="#333" stroke="#333" stroke-width="0.18" >10</text>
<line x1="299.60" y1="857.2" x2="299.60" y2="859.4000000000001" stroke="#333" stroke-width="0.9"/>
<text x="299.60" y="866.20" font-size="7.2" text-anchor="middle" font-weight="normal" fill="#333" stroke="#333" stroke-width="0.18" >20</text>
<text x="254.00" y="875.80" font-size="8.3" text-anchor="middle" font-weight="normal" fill="#222" stroke="#222" stroke-width="0.18" >UMAP_1</text>
<text transform="translate(181.30,812.60) rotate(-90)" font-size="8.3" text-anchor="middle" fill="#222">UMAP_2</text>
<text x="252.20" y="764.40" font-size="9.6" text-anchor="middle" font-weight="bold" fill="#111" stroke="#111" stroke-width="0.2" >MS4A1</text>
<defs><linearGradient id="g5" x1="0" y1="1" x2="0" y2="0"><stop offset="0" stop-color="#D3D3D3"/><stop offset="1" stop-color="#2171B5"/></linearGradient></defs>
<rect x="312.50" y="792.00" width="9.3" height="47.50" fill="url(#g5)"/>
<line x1="312.50" y1="839.50" x2="314.30" y2="839.50" stroke="#fff" stroke-width="0.5"/>
<line x1="320.00" y1="839.50" x2="321.80" y2="839.50" stroke="#fff" stroke-width="0.5"/>
<text x="326.50" y="842.10" font-size="7.2" text-anchor="start" font-weight="normal" fill="#222" stroke="#222" stroke-width="0.18" >0</text>
<line x1="312.50" y1="830.50" x2="314.30" y2="830.50" stroke="#fff" stroke-width="0.5"/>
<line x1="320.00" y1="830.50" x2="321.80" y2="830.50" stroke="#fff" stroke-width="0.5"/>
<text x="326.50" y="833.10" font-size="7.2" text-anchor="start" font-weight="normal" fill="#222" stroke="#222" stroke-width="0.18" >1</text>
<line x1="312.50" y1="821.51" x2="314.30" y2="821.51" stroke="#fff" stroke-width="0.5"/>
<line x1="320.00" y1="821.51" x2="321.80" y2="821.51" stroke="#fff" stroke-width="0.5"/>
<text x="326.50" y="824.11" font-size="7.2" text-anchor="start" font-weight="normal" fill="#222" stroke="#222" stroke-width="0.18" >2</text>
<line x1="312.50" y1="812.51" x2="314.30" y2="812.51" stroke="#fff" stroke-width="0.5"/>
<line x1="320.00" y1="812.51" x2="321.80" y2="812.51" stroke="#fff" stroke-width="0.5"/>
<text x="326.50" y="815.11" font-size="7.2" text-anchor="start" font-weight="normal" fill="#222" stroke="#222" stroke-width="0.18" >3</text>
<line x1="312.50" y1="803.52" x2="314.30" y2="803.52" stroke="#fff" stroke-width="0.5"/>
<line x1="320.00" y1="803.52" x2="321.80" y2="803.52" stroke="#fff" stroke-width="0.5"/>
<text x="326.50" y="806.12" font-size="7.2" text-anchor="start" font-weight="normal" fill="#222" stroke="#222" stroke-width="0.18" >4</text>
<line x1="312.50" y1="794.52" x2="314.30" y2="794.52" stroke="#fff" stroke-width="0.5"/>
<line x1="320.00" y1="794.52" x2="321.80" y2="794.52" stroke="#fff" stroke-width="0.5"/>
<text x="326.50" y="797.12" font-size="7.2" text-anchor="start" font-weight="normal" fill="#222" stroke="#222" stroke-width="0.18" >5</text>
<g transform="translate(341.680,670.533) scale(0.5300,0.5080)">
<g filter="url(#rough)">
<path d="M84.0,244.7 L90.2,247.3 L94.6,250.0 L96.3,254.4 L100.7,257.0 L100.7,261.4 L97.2,263.2 L100.7,266.7 L102.9,269.3 L102.5,274.6 L100.7,279.0 L101.5,286.5 L90.2,287.5 L81.4,287.5 L74.4,288.0 L71.7,287.8 L67.3,284.3 L65.6,279.9 L68.2,276.3 L72.6,272.8 L71.7,268.4 L69.1,264.9 L71.7,261.4 L71.3,257.0 L74.4,252.6 L76.1,248.2 L79.6,246.0Z" fill="#D3D3D3" stroke="#D3D3D3" stroke-width="1.4"/>
<path d="M96.0,284.5 L104.0,285.0 L111.0,289.0 L113.0,298.0 L106.0,297.0 L99.0,291.0Z" fill="#D3D3D3" stroke="#D3D3D3" stroke-width="1.4"/>
<path d="M73.9,286.2 L84.0,283.5 L93.7,285.3 L99.0,288.8 L102.5,295.0 L107.8,299.4 L111.7,303.8 L109.5,307.3 L104.3,309.0 L99.9,311.7 L99.0,317.0 L95.5,321.3 L91.9,325.7 L87.6,324.0 L83.2,319.6 L84.0,314.3 L81.4,309.0 L75.2,303.8 L73.5,297.6 L73.5,290.6Z" fill="#D3D3D3" stroke="#D3D3D3" stroke-width="1.4"/>
<path d="M135.2,249.7 L142.2,252.3 L149.3,255.0 L155.4,256.7 L152.8,262.9 L156.3,268.2 L157.2,274.3 L149.3,275.2 L152.8,281.3 L147.5,284.9 L142.2,288.4 L139.6,294.5 L137.8,300.0 L135.2,292.8 L134.3,289.3 L131.0,286.0 L130.0,272.0 L128.2,269.9 L123.8,265.5 L122.9,262.0 L119.4,260.2 L119.4,257.6 L126.4,254.9 L130.8,251.4Z" fill="#D3D3D3" stroke="#D3D3D3" stroke-width="1.4"/>
<path d="M99.0,279.0 L102.6,277.8 L106.2,275.2 L113.2,274.3 L122.0,274.3 L128.2,269.9 L131.5,272.0 L132.5,286.5 L129.9,285.7 L124.6,284.0 L117.6,285.7 L110.6,285.7 L105.3,282.2 L99.0,283.5Z" fill="#D3D3D3" stroke="#D3D3D3" stroke-width="1.4"/>
<path d="M179.9,304.1 L185.2,301.9 L190.5,303.2 L194.0,306.7 L198.4,309.4 L206.3,306.7 L201.0,312.0 L199.3,316.4 L204.5,320.8 L208.1,324.3 L204.5,327.0 L201.0,331.3 L195.7,334.9 L189.6,336.6 L183.4,334.9 L180.8,331.3 L178.2,326.9 L172.0,325.2 L167.6,319.9 L170.2,316.4 L174.6,312.9 L177.3,309.4Z" fill="#D3D3D3" stroke="#D3D3D3" stroke-width="1.4"/>
<path d="M155.0,285.0 L159.5,285.2 L168.0,293.0 L176.4,305.8 L177.5,310.4 L173.5,308.6 L166.0,297.5 L157.0,288.0Z" fill="#D3D3D3" stroke="#D3D3D3" stroke-width="1.4"/>
<path d="M137.3,306.4 L143.4,304.7 L149.6,306.4 L152.7,310.0 L152.2,315.2 L153.1,321.4 L150.5,324.9 L145.2,327.6 L139.0,328.4 L133.8,326.7 L130.2,323.2 L128.5,320.5 L131.1,316.1 L134.6,312.6 L135.5,309.1Z" fill="#D3D3D3" stroke="#D3D3D3" stroke-width="1.4"/>
<path d="M136.0,300.3 L138.0,300.3 L137.0,306.0 L135.8,310.5 L134.0,310.0Z" fill="#D3D3D3" stroke="#D3D3D3" stroke-width="1.4"/>
<path d="M115.3,317.9 L121.4,317.0 L127.6,316.1 L129.5,319.6 L123.2,321.4 L116.2,324.0Z" fill="#D3D3D3" stroke="#D3D3D3" stroke-width="1.4"/>
<path d="M168.2,217.9 L177.0,217.0 L181.4,220.6 L182.3,225.8 L185.8,229.4 L192.0,227.6 L195.5,226.7 L198.1,230.2 L204.3,227.6 L208.7,224.1 L205.1,230.2 L200.7,235.5 L201.6,240.8 L197.2,244.3 L191.9,246.1 L189.3,243.4 L184.0,239.0 L178.8,238.2 L172.6,239.9 L167.3,236.4 L171.7,233.8 L168.2,232.0 L172.6,230.2 L171.7,224.1Z" fill="#C5A5DD" stroke="#C5A5DD" stroke-width="1.4"/>
<path d="M180.6,277.6 L187.6,275.8 L196.4,275.0 L201.7,274.1 L207.8,275.8 L210.9,279.4 L208.7,282.9 L205.2,286.4 L199.9,287.3 L198.2,292.6 L196.4,295.2 L192.9,294.3 L188.5,298.7 L187.6,295.2 L183.2,291.7 L177.9,289.0 L174.4,286.4 L178.8,284.6 L179.7,281.1Z" fill="#D3D3D3" stroke="#D3D3D3" stroke-width="1.4"/>
<path d="M212.2,284.0 L216.0,282.9 L219.3,285.0 L217.5,287.3 L213.5,287.0Z" fill="#D3D3D3" stroke="#D3D3D3" stroke-width="1.4"/>
<path d="M187.0,263.5 L188.6,263.5 L188.6,275.0 L187.0,275.0Z" fill="#CCBDD8" stroke="#D3D3D3" stroke-width="1.4"/>
<path d="M197.6,295.0 L199.0,295.0 L199.0,305.0 L197.6,305.0Z" fill="#D3D3D3" stroke="#D3D3D3" stroke-width="1.4"/>
<path d="M168.2,248.7 L173.5,247.8 L177.9,251.3 L179.6,256.6 L182.3,261.0 L183.2,263.7 L179.6,266.3 L174.4,270.0 L167.9,271.2 L166.0,266.0 L162.0,263.5 L165.7,258.0 L165.4,252.0Z" fill="#D3D3D3" stroke="#D3D3D3" stroke-width="1.4"/>
<path d="M203.4,298.7 L207.8,301.3 L212.2,297.8 L217.5,299.6 L220.6,304.0 L219.3,307.5 L214.0,310.1 L208.7,310.1 L206.9,307.5 L205.2,304.0Z" fill="#D3D3D3" stroke="#D3D3D3" stroke-width="1.4"/>
<path d="M135.2,224.0 L140.5,227.6 L144.9,223.2 L149.3,222.3 L151.0,224.9 L150.1,229.3 L152.8,232.8 L151.9,236.3 L148.4,235.5 L145.7,231.9 L142.2,232.8 L138.7,230.2 L136.9,226.7Z" fill="#D3D3D3" stroke="#D3D3D3" stroke-width="1.4"/>
<path d="M110.6,227.6 L115.0,225.8 L120.2,226.2 L123.8,228.4 L122.0,231.1 L117.6,232.0 L113.2,231.5 L110.1,229.7Z" fill="#D3D3D3" stroke="#D3D3D3" stroke-width="1.4"/>
<path d="M111.5,230.5 L112.8,231.0 L108.2,235.8 L107.6,235.3Z" fill="#D3D3D3" stroke="#D3D3D3" stroke-width="1.4"/>
<path d="M127.6,330.2 L132.9,327.6 L137.3,330.2 L136.4,334.6 L137.3,341.6 L135.5,344.3 L131.1,345.6 L128.5,343.4 L127.2,337.2Z" fill="#D3D3D3" stroke="#D3D3D3" stroke-width="1.4"/>
<path d="M149.6,348.7 L155.7,346.9 L159.3,349.5 L157.5,353.1 L151.3,353.9Z" fill="#D3D3D3" stroke="#D3D3D3" stroke-width="1.4"/>
<path d="M161.0,346.9 L166.3,346.9 L168.1,349.5 L165.4,352.2 L161.9,351.3Z" fill="#D3D3D3" stroke="#D3D3D3" stroke-width="1.4"/>
<path d="M117.9,293.0 L122.5,292.5 L125.5,295.5 L123.5,297.8 L118.5,297.0Z" fill="#D3D3D3" stroke="#D3D3D3" stroke-width="1.4"/>
<path d="M58.5,295.0 L62.9,292.3 L66.4,289.7 L68.2,288.8 L64.7,293.2 L66.4,296.3 L61.2,297.2 L59.0,296.3Z" fill="#D3D3D3" stroke="#D3D3D3" stroke-width="1.4"/>
<path d="M142.2,204.7 L146.6,208.2 L151.0,212.6 L152.8,213.9 L147.5,213.5 L144.0,212.6 L142.2,209.1Z" fill="#C3A0DF" stroke="#C3A0DF" stroke-width="1.4"/>
<path d="M124.5,211.0 L128.5,210.8 L130.0,214.5 L127.5,216.2 L124.0,215.0Z" fill="#C3A0DF" stroke="#C3A0DF" stroke-width="1.4"/>
<path d="M222.0,278.8 L226.5,279.0 L227.0,281.5 L222.5,281.8Z" fill="#D3D3D3" stroke="#D3D3D3" stroke-width="1.4"/>
<path d="M162.3,341.9 L165.8,339.3 L165.0,341.5Z" fill="#D3D3D3" stroke="#D3D3D3" stroke-width="1.4"/>
<path d="M171.1,346.3 L174.6,344.5 L174.0,346.0Z" fill="#D3D3D3" stroke="#D3D3D3" stroke-width="1.4"/>
</g>
<path stroke="#AB54F0" stroke-width="2" fill="none" d="M144.6 209h2m-18.9 4.1h2m-2.1 0.4h2m-2.1 0.5h2m-5 0.4h2m42.9 6.3h2m8.7 0.6h2m-11.4 0.8h2m7.8 0.1h2m-3.8 0.4h2m-7 0.9h2m1.9 2.3h2m1.2 0.2h2m-5.9 1h2m15.9 0.9h2m-16.2 0.7h2m22.6 0.5h2m-4 0.3h2m-18.7 0.9h2m7.5 0.2h2m-0.9 0.5h2m-16.5 0.6h2m6.3 0.3h2m-19.9 0.2h2m21.1 0.2h2m-21.8 0.1h2m18.5 0h2m4.5 0h2m-32.3 0.8h2m25.8 -0h2m-23 0.1h2m18.6 0.3h2m-0.8 0.1h2m-31.5 0.3h2m12.8 0.5h2m12.6 0.3h2m-31.1 0.3h2m24.3 0.3h2m-11.9 0.3h2m5.4 -0h2m-25.5 0.4h2m0.7 0.2h2m6.7 0.1h2m-8.4 0.7h2m10.3 -0h2m-5.5 0.1h2m1.7 0.1h2m-9.1 0.9h2m-0.2 -0h2m-11.5 0.4h2m9.8 0.3h2m-13.5 0.1h2m13 0.3h2m-9.4 0.3h2m1.6 0.2h2m-4.1 0.2h2m12.3 0.7h2m-13.2 1.2h2m9.7 0.7h2m-5.2 0.2h2m-2.8 2.3h2"/>
<path stroke="#CCBCD8" stroke-width="2" fill="none" d="M177.7 218.6h2m-3.1 0.6h2m-1.1 0h2m-7.8 2.4h2m0.7 0.9h2m3.5 0.2h2m-7 0.1h2m-0.9 1.8h2m-4.5 0.8h2m2.6 0.3h2m-4.3 1.2h2m0.1 1.5h2m13.1 0h2m-12.3 0.6h2m-10.8 0.5h2m29.3 0.9h2m-32 0.2h2m18 0.4h2m-16.5 0.2h2m-5.2 0.2h2m5.1 0h2m5.3 0.2h2m-4.7 0.1h2m-14.8 0.2h2m4.4 0.6h2m-6.7 0.2h2m15.2 0h2m-2.3 0.2h2m-27.4 0.1h2m6.9 0h2m11.6 0h2m-23 0.5h2m-0.5 0.4h2m23.3 0.1h2m-22.8 0.1h2m-5.6 0.3h2m25.5 0.7h2m-7.4 0.1h2m3.7 0.5h2m-32.2 0.4h2m20.1 0.3h2m-2.9 0.1h2m-21.3 0.3h2m8.8 0.4h2m-12.7 0.3h2m9.7 0.1h2m11.4 0.6h2m-16.8 0.8h2m-15 0.1h2m-2.2 0.2h2m9.2 0.3h2m15.7 0.5h2m-1 1.3h2m-2.1 0.4h2m-8.9 0.4h2m0.6 0.6h2m-4.8 0.4h2m1.1 0.5h2m-2 1.2h2"/>
<path stroke="#AD5CEE" stroke-width="2" fill="none" d="M188.5 264.6h2m-2.4 5.4h2m-2.7 4.7h2m-2.1 0.5h2m-1.2 0.8h2"/>
<path stroke="#CBB9D9" stroke-width="2" fill="none" d="M143.7 208.1h2m1 2h2m-6.4 0.1h2m-0.2 0.3h2m3.2 2.7h2m-2.5 1.2h2m-0.6 0.1h2m0.1 0.1h2"/>
</g>
<line x1="365.7" y1="769.4" x2="365.7" y2="856.0" stroke="#333" stroke-width="0.9"/>
<line x1="363.5" y1="796.20" x2="365.7" y2="796.20" stroke="#333" stroke-width="0.9"/>
<text x="362.30" y="798.75" font-size="7.2" text-anchor="end" font-weight="normal" fill="#333" stroke="#333" stroke-width="0.18" >10</text>
<line x1="363.5" y1="824.00" x2="365.7" y2="824.00" stroke="#333" stroke-width="0.9"/>
<text x="362.30" y="826.55" font-size="7.2" text-anchor="end" font-weight="normal" fill="#333" stroke="#333" stroke-width="0.18" >0</text>
<line x1="363.5" y1="852.10" x2="365.7" y2="852.10" stroke="#333" stroke-width="0.9"/>
<text x="362.30" y="854.65" font-size="7.2" text-anchor="end" font-weight="normal" fill="#333" stroke="#333" stroke-width="0.18" >−10</text>
<line x1="365.7" y1="856.0" x2="467.7" y2="856.0" stroke="#333" stroke-width="0.9"/>
<line x1="396.80" y1="856.0" x2="396.80" y2="858.2" stroke="#333" stroke-width="0.9"/>
<text x="396.80" y="865.00" font-size="7.2" text-anchor="middle" font-weight="normal" fill="#333" stroke="#333" stroke-width="0.18" >0</text>
<line x1="430.20" y1="856.0" x2="430.20" y2="858.2" stroke="#333" stroke-width="0.9"/>
<text x="430.20" y="865.00" font-size="7.2" text-anchor="middle" font-weight="normal" fill="#333" stroke="#333" stroke-width="0.18" >10</text>
<line x1="463.60" y1="856.0" x2="463.60" y2="858.2" stroke="#333" stroke-width="0.9"/>
<text x="463.60" y="865.00" font-size="7.2" text-anchor="middle" font-weight="normal" fill="#333" stroke="#333" stroke-width="0.18" >20</text>
<text x="418.00" y="874.60" font-size="8.3" text-anchor="middle" font-weight="normal" fill="#222" stroke="#222" stroke-width="0.18" >UMAP_1</text>
<text transform="translate(345.10,811.40) rotate(-90)" font-size="8.3" text-anchor="middle" fill="#222">UMAP_2</text>
<text x="416.80" y="763.20" font-size="9.6" text-anchor="middle" font-weight="bold" fill="#111" stroke="#111" stroke-width="0.2" >COL1A1</text>
<defs><linearGradient id="g6" x1="0" y1="1" x2="0" y2="0"><stop offset="0" stop-color="#D3D3D3"/><stop offset="1" stop-color="#A43EF5"/></linearGradient></defs>
<rect x="476.30" y="790.80" width="9.3" height="47.50" fill="url(#g6)"/>
<line x1="476.30" y1="838.30" x2="478.10" y2="838.30" stroke="#fff" stroke-width="0.5"/>
<line x1="483.80" y1="838.30" x2="485.60" y2="838.30" stroke="#fff" stroke-width="0.5"/>
<text x="490.30" y="840.90" font-size="7.2" text-anchor="start" font-weight="normal" fill="#222" stroke="#222" stroke-width="0.18" >0</text>
<line x1="476.30" y1="830.07" x2="478.10" y2="830.07" stroke="#fff" stroke-width="0.5"/>
<line x1="483.80" y1="830.07" x2="485.60" y2="830.07" stroke="#fff" stroke-width="0.5"/>
<text x="490.30" y="832.67" font-size="7.2" text-anchor="start" font-weight="normal" fill="#222" stroke="#222" stroke-width="0.18" >1</text>
<line x1="476.30" y1="821.84" x2="478.10" y2="821.84" stroke="#fff" stroke-width="0.5"/>
<line x1="483.80" y1="821.84" x2="485.60" y2="821.84" stroke="#fff" stroke-width="0.5"/>
<text x="490.30" y="824.44" font-size="7.2" text-anchor="start" font-weight="normal" fill="#222" stroke="#222" stroke-width="0.18" >2</text>
<line x1="476.30" y1="813.60" x2="478.10" y2="813.60" stroke="#fff" stroke-width="0.5"/>
<line x1="483.80" y1="813.60" x2="485.60" y2="813.60" stroke="#fff" stroke-width="0.5"/>
<text x="490.30" y="816.20" font-size="7.2" text-anchor="start" font-weight="normal" fill="#222" stroke="#222" stroke-width="0.18" >3</text>
<line x1="476.30" y1="805.37" x2="478.10" y2="805.37" stroke="#fff" stroke-width="0.5"/>
<line x1="483.80" y1="805.37" x2="485.60" y2="805.37" stroke="#fff" stroke-width="0.5"/>
<text x="490.30" y="807.97" font-size="7.2" text-anchor="start" font-weight="normal" fill="#222" stroke="#222" stroke-width="0.18" >4</text>
<line x1="476.30" y1="797.14" x2="478.10" y2="797.14" stroke="#fff" stroke-width="0.5"/>
<line x1="483.80" y1="797.14" x2="485.60" y2="797.14" stroke="#fff" stroke-width="0.5"/>
<text x="490.30" y="799.74" font-size="7.2" text-anchor="start" font-weight="normal" fill="#222" stroke="#222" stroke-width="0.18" >5</text>
<g transform="translate(505.180,670.533) scale(0.5300,0.5080)">
<g filter="url(#rough)">
<path d="M84.0,244.7 L90.2,247.3 L94.6,250.0 L96.3,254.4 L100.7,257.0 L100.7,261.4 L97.2,263.2 L100.7,266.7 L102.9,269.3 L102.5,274.6 L100.7,279.0 L101.5,286.5 L90.2,287.5 L81.4,287.5 L74.4,288.0 L71.7,287.8 L67.3,284.3 L65.6,279.9 L68.2,276.3 L72.6,272.8 L71.7,268.4 L69.1,264.9 L71.7,261.4 L71.3,257.0 L74.4,252.6 L76.1,248.2 L79.6,246.0Z" fill="#D3D3D3" stroke="#D3D3D3" stroke-width="1.4"/>
<path d="M96.0,284.5 L104.0,285.0 L111.0,289.0 L113.0,298.0 L106.0,297.0 L99.0,291.0Z" fill="#D3D3D3" stroke="#D3D3D3" stroke-width="1.4"/>
<path d="M73.9,286.2 L84.0,283.5 L93.7,285.3 L99.0,288.8 L102.5,295.0 L107.8,299.4 L111.7,303.8 L109.5,307.3 L104.3,309.0 L99.9,311.7 L99.0,317.0 L95.5,321.3 L91.9,325.7 L87.6,324.0 L83.2,319.6 L84.0,314.3 L81.4,309.0 L75.2,303.8 L73.5,297.6 L73.5,290.6Z" fill="#D3D3D3" stroke="#D3D3D3" stroke-width="1.4"/>
<path d="M135.2,249.7 L142.2,252.3 L149.3,255.0 L155.4,256.7 L152.8,262.9 L156.3,268.2 L157.2,274.3 L149.3,275.2 L152.8,281.3 L147.5,284.9 L142.2,288.4 L139.6,294.5 L137.8,300.0 L135.2,292.8 L134.3,289.3 L131.0,286.0 L130.0,272.0 L128.2,269.9 L123.8,265.5 L122.9,262.0 L119.4,260.2 L119.4,257.6 L126.4,254.9 L130.8,251.4Z" fill="#D3D3D3" stroke="#D3D3D3" stroke-width="1.4"/>
<path d="M99.0,279.0 L102.6,277.8 L106.2,275.2 L113.2,274.3 L122.0,274.3 L128.2,269.9 L131.5,272.0 L132.5,286.5 L129.9,285.7 L124.6,284.0 L117.6,285.7 L110.6,285.7 L105.3,282.2 L99.0,283.5Z" fill="#D3D3D3" stroke="#D3D3D3" stroke-width="1.4"/>
<path d="M179.9,304.1 L185.2,301.9 L190.5,303.2 L194.0,306.7 L198.4,309.4 L206.3,306.7 L201.0,312.0 L199.3,316.4 L204.5,320.8 L208.1,324.3 L204.5,327.0 L201.0,331.3 L195.7,334.9 L189.6,336.6 L183.4,334.9 L180.8,331.3 L178.2,326.9 L172.0,325.2 L167.6,319.9 L170.2,316.4 L174.6,312.9 L177.3,309.4Z" fill="#D3D3D3" stroke="#D3D3D3" stroke-width="1.4"/>
<path d="M155.0,285.0 L159.5,285.2 L168.0,293.0 L176.4,305.8 L177.5,310.4 L173.5,308.6 L166.0,297.5 L157.0,288.0Z" fill="#D3D3D3" stroke="#D3D3D3" stroke-width="1.4"/>
<path d="M137.3,306.4 L143.4,304.7 L149.6,306.4 L152.7,310.0 L152.2,315.2 L153.1,321.4 L150.5,324.9 L145.2,327.6 L139.0,328.4 L133.8,326.7 L130.2,323.2 L128.5,320.5 L131.1,316.1 L134.6,312.6 L135.5,309.1Z" fill="#D3D3D3" stroke="#D3D3D3" stroke-width="1.4"/>
<path d="M136.0,300.3 L138.0,300.3 L137.0,306.0 L135.8,310.5 L134.0,310.0Z" fill="#D3D3D3" stroke="#D3D3D3" stroke-width="1.4"/>
<path d="M115.3,317.9 L121.4,317.0 L127.6,316.1 L129.5,319.6 L123.2,321.4 L116.2,324.0Z" fill="#D3D3D3" stroke="#D3D3D3" stroke-width="1.4"/>
<path d="M168.2,217.9 L177.0,217.0 L181.4,220.6 L182.3,225.8 L185.8,229.4 L192.0,227.6 L195.5,226.7 L198.1,230.2 L204.3,227.6 L208.7,224.1 L205.1,230.2 L200.7,235.5 L201.6,240.8 L197.2,244.3 L191.9,246.1 L189.3,243.4 L184.0,239.0 L178.8,238.2 L172.6,239.9 L167.3,236.4 L171.7,233.8 L168.2,232.0 L172.6,230.2 L171.7,224.1Z" fill="#D3D3D3" stroke="#D3D3D3" stroke-width="1.4"/>
<path d="M180.6,277.6 L187.6,275.8 L196.4,275.0 L201.7,274.1 L207.8,275.8 L210.9,279.4 L208.7,282.9 L205.2,286.4 L199.9,287.3 L198.2,292.6 L196.4,295.2 L192.9,294.3 L188.5,298.7 L187.6,295.2 L183.2,291.7 L177.9,289.0 L174.4,286.4 L178.8,284.6 L179.7,281.1Z" fill="#D3D3D3" stroke="#D3D3D3" stroke-width="1.4"/>
<path d="M212.2,284.0 L216.0,282.9 L219.3,285.0 L217.5,287.3 L213.5,287.0Z" fill="#D3D3D3" stroke="#D3D3D3" stroke-width="1.4"/>
<path d="M187.0,263.5 L188.6,263.5 L188.6,275.0 L187.0,275.0Z" fill="#D3D3D3" stroke="#D3D3D3" stroke-width="1.4"/>
<path d="M197.6,295.0 L199.0,295.0 L199.0,305.0 L197.6,305.0Z" fill="#D3D3D3" stroke="#D3D3D3" stroke-width="1.4"/>
<path d="M168.2,248.7 L173.5,247.8 L177.9,251.3 L179.6,256.6 L182.3,261.0 L183.2,263.7 L179.6,266.3 L174.4,270.0 L167.9,271.2 L166.0,266.0 L162.0,263.5 L165.7,258.0 L165.4,252.0Z" fill="#C9B5DA" stroke="#C9B5DA" stroke-width="1.4"/>
<path d="M203.4,298.7 L207.8,301.3 L212.2,297.8 L217.5,299.6 L220.6,304.0 L219.3,307.5 L214.0,310.1 L208.7,310.1 L206.9,307.5 L205.2,304.0Z" fill="#D3D3D3" stroke="#D3D3D3" stroke-width="1.4"/>
<path d="M135.2,224.0 L140.5,227.6 L144.9,223.2 L149.3,222.3 L151.0,224.9 L150.1,229.3 L152.8,232.8 L151.9,236.3 L148.4,235.5 L145.7,231.9 L142.2,232.8 L138.7,230.2 L136.9,226.7Z" fill="#B982E5" stroke="#B982E5" stroke-width="1.4"/>
<path d="M110.6,227.6 L115.0,225.8 L120.2,226.2 L123.8,228.4 L122.0,231.1 L117.6,232.0 L113.2,231.5 L110.1,229.7Z" fill="#D3D3D3" stroke="#D3D3D3" stroke-width="1.4"/>
<path d="M111.5,230.5 L112.8,231.0 L108.2,235.8 L107.6,235.3Z" fill="#D3D3D3" stroke="#D3D3D3" stroke-width="1.4"/>
<path d="M127.6,330.2 L132.9,327.6 L137.3,330.2 L136.4,334.6 L137.3,341.6 L135.5,344.3 L131.1,345.6 L128.5,343.4 L127.2,337.2Z" fill="#D3D3D3" stroke="#D3D3D3" stroke-width="1.4"/>
<path d="M149.6,348.7 L155.7,346.9 L159.3,349.5 L157.5,353.1 L151.3,353.9Z" fill="#D3D3D3" stroke="#D3D3D3" stroke-width="1.4"/>
<path d="M161.0,346.9 L166.3,346.9 L168.1,349.5 L165.4,352.2 L161.9,351.3Z" fill="#D3D3D3" stroke="#D3D3D3" stroke-width="1.4"/>
<path d="M117.9,293.0 L122.5,292.5 L125.5,295.5 L123.5,297.8 L118.5,297.0Z" fill="#D3D3D3" stroke="#D3D3D3" stroke-width="1.4"/>
<path d="M58.5,295.0 L62.9,292.3 L66.4,289.7 L68.2,288.8 L64.7,293.2 L66.4,296.3 L61.2,297.2 L59.0,296.3Z" fill="#D3D3D3" stroke="#D3D3D3" stroke-width="1.4"/>
<path d="M142.2,204.7 L146.6,208.2 L151.0,212.6 L152.8,213.9 L147.5,213.5 L144.0,212.6 L142.2,209.1Z" fill="#D3D3D3" stroke="#D3D3D3" stroke-width="1.4"/>
<path d="M124.5,211.0 L128.5,210.8 L130.0,214.5 L127.5,216.2 L124.0,215.0Z" fill="#D3D3D3" stroke="#D3D3D3" stroke-width="1.4"/>
<path d="M222.0,278.8 L226.5,279.0 L227.0,281.5 L222.5,281.8Z" fill="#D3D3D3" stroke="#D3D3D3" stroke-width="1.4"/>
<path d="M162.3,341.9 L165.8,339.3 L165.0,341.5Z" fill="#D3D3D3" stroke="#D3D3D3" stroke-width="1.4"/>
<path d="M171.1,346.3 L174.6,344.5 L174.0,346.0Z" fill="#D3D3D3" stroke="#D3D3D3" stroke-width="1.4"/>
</g>
<path stroke="#B77AE7" stroke-width="2" fill="none" d="M82.8 250h2m5.5 0.4h2m35.1 5.6h2m-38.8 4.5h2m-8.2 0.7h2m-8 1.6h2m57 1.9h2m-14.7 0.3h2m-48.4 0.1h2m70.3 1.5h2m-12.4 0.2h2m-10.5 0.2h2m-48.1 0.3h2m-1.5 0h2m9.8 1.3h2m38.9 1.1h2m7.1 0.3h2m0.8 0.8h2m-54.6 1.1h2m-5.3 1h2m-20.7 2.8h2m122.8 0.3h2m-119.2 0.4h2m-0.4 1.6h2m44.1 0.5h2m-64.9 1.4h2m66.9 1.7h2m-43.7 0.6h2m107.8 0.1h2m-106.9 1.2h2m-9.7 0.4h2m89.1 0.7h2m0.6 1h2m-1.6 1.6h2m-47.4 0.1h2m-64.6 0.8h2m-6.6 2.4h2m1.1 0.1h2m111.9 0.6h2m-52.7 0.4h2m43 0.5h2m-108.9 0.1h2m102.5 0.4h2m-106.4 0.1h2m111 0.3h2m-4.9 1.3h2m-111 1.2h2m7 1.6h2m9.3 1.3h2m-25.4 1.7h2m6.1 2.1h2m6 1.3h2m-18.4 0.8h2m12.3 1h2m12.1 -0h2m-9.7 1.4h2m79.8 0.4h2m-100.1 0.3h2m-1.6 1.3h2m-1.2 -0h2m104.7 0.2h2m-85.1 0.3h2m76.8 1.4h2m-97.9 0.8h2m-0.3 3.4h2m-5.6 0.5h2m-0.5 0.9h2m92.7 -0h2m0.7 3h2m-93 1.3h2m73 0.9h2m-85.2 0.4h2m98.3 2.9h2m16.7 -0h2m-12.6 0.2h2m-7.3 3.8h2m-6.9 1.5h2"/>
<path stroke="#AB54F0" stroke-width="2" fill="none" d="M148.5 224h2m0.3 1.8h2m-7.8 0.2h2m-9.5 0.9h2m3.4 0.2h2m3.2 0.1h2m-1.6 0.4h2m-2.4 2.3h2m-4.3 0.6h2m2 1h2m-2 0.1h2m-1.4 0.3h2m-1.7 2h2m-2 2.7h2m-1.1 0.1h2m17.6 13.9h2m-0.5 2.6h2m-7 0.4h2m-3 0.3h2m-2.6 4h2m5.9 0.5h2m-1.5 1.8h2m-4.2 0.8h2m-6.1 0.9h2m0.3 0.3h2m7.6 0.3h2m-6.7 0.1h2m5.3 0.8h2m-16.3 2.2h2m-2 1.1h2m8.4 0.4h2m-7.2 2h2m-3.9 0.5h2m-5.4 0.1h2m3.5 0.9h2"/>
<path stroke="#CEC3D7" stroke-width="2" fill="none" d="M172.9 249.1h2m-4.9 0.4h2m-2.6 1.1h2m1.1 0.4h2m-0.5 0.6h2m-8.4 0.2h2m7.3 0.3h2m-5.5 0.6h2m-9.7 0.2h2m-2.3 0.2h2m9.9 0h2m-5.5 0.8h2m-1.2 0.2h2m-9.8 0.6h2m2.4 0.6h2m0.2 0.8h2m0.3 0.2h2m0.3 0h2m-11.6 0.8h2m-1.6 0h2m5.1 0h2m0.4 0.2h2m-7.5 0.3h2m-6.1 0.6h2m-2.6 0.1h2m-0.9 0.3h2m5.3 0.4h2m-13 0.6h2m11.9 0h2m-11.9 0.5h2m1 0.2h2m5.1 0.1h2m-13.2 0.2h2m-1.7 0.1h2m3.9 0.5h2m-7.6 1.4h2m7.7 1.1h2m-4.1 0.2h2m3.8 0.8h2m-9.2 0.5h2m-7 0.1h2m1.6 0.2h2m1 0.3h2m1.3 0.1h2m-17.2 0.2h2m4.4 0.7h2m-3.1 0.8h2m-0.2 -0h2m-4.4 0.7h2m1.9 -0h2m-7.6 0.7h2m0.2 0.1h2m1.8 -0h2m-7.1 0.3h2"/>
<path stroke="#C6A9DD" stroke-width="2" fill="none" d="M148.5 225h2m-2.7 2.7h2m-3.8 1.9h2m-8.1 1.3h2m5 1.1h2"/>
</g>
<line x1="529.4" y1="769.4" x2="529.4" y2="856.0" stroke="#333" stroke-width="0.9"/>
<line x1="527.1999999999999" y1="796.20" x2="529.4" y2="796.20" stroke="#333" stroke-width="0.9"/>
<text x="526.00" y="798.75" font-size="7.2" text-anchor="end" font-weight="normal" fill="#333" stroke="#333" stroke-width="0.18" >10</text>
<line x1="527.1999999999999" y1="824.00" x2="529.4" y2="824.00" stroke="#333" stroke-width="0.9"/>
<text x="526.00" y="826.55" font-size="7.2" text-anchor="end" font-weight="normal" fill="#333" stroke="#333" stroke-width="0.18" >0</text>
<line x1="527.1999999999999" y1="852.10" x2="529.4" y2="852.10" stroke="#333" stroke-width="0.9"/>
<text x="526.00" y="854.65" font-size="7.2" text-anchor="end" font-weight="normal" fill="#333" stroke="#333" stroke-width="0.18" >−10</text>
<line x1="529.4" y1="856.0" x2="631.4" y2="856.0" stroke="#333" stroke-width="0.9"/>
<line x1="560.30" y1="856.0" x2="560.30" y2="858.2" stroke="#333" stroke-width="0.9"/>
<text x="560.30" y="865.00" font-size="7.2" text-anchor="middle" font-weight="normal" fill="#333" stroke="#333" stroke-width="0.18" >0</text>
<line x1="593.70" y1="856.0" x2="593.70" y2="858.2" stroke="#333" stroke-width="0.9"/>
<text x="593.70" y="865.00" font-size="7.2" text-anchor="middle" font-weight="normal" fill="#333" stroke="#333" stroke-width="0.18" >10</text>
<line x1="627.10" y1="856.0" x2="627.10" y2="858.2" stroke="#333" stroke-width="0.9"/>
<text x="627.10" y="865.00" font-size="7.2" text-anchor="middle" font-weight="normal" fill="#333" stroke="#333" stroke-width="0.18" >20</text>
<text x="581.50" y="874.60" font-size="8.3" text-anchor="middle" font-weight="normal" fill="#222" stroke="#222" stroke-width="0.18" >UMAP_1</text>
<text transform="translate(508.80,811.40) rotate(-90)" font-size="8.3" text-anchor="middle" fill="#222">UMAP_2</text>
<text x="579.80" y="763.20" font-size="9.6" text-anchor="middle" font-weight="bold" fill="#111" stroke="#111" stroke-width="0.2" >PECAM1</text>
<defs><linearGradient id="g7" x1="0" y1="1" x2="0" y2="0"><stop offset="0" stop-color="#D3D3D3"/><stop offset="1" stop-color="#A43EF5"/></linearGradient></defs>
<rect x="640.00" y="790.80" width="9.3" height="47.50" fill="url(#g7)"/>
<line x1="640.00" y1="838.30" x2="641.80" y2="838.30" stroke="#fff" stroke-width="0.5"/>
<line x1="647.50" y1="838.30" x2="649.30" y2="838.30" stroke="#fff" stroke-width="0.5"/>
<text x="654.00" y="840.90" font-size="7.2" text-anchor="start" font-weight="normal" fill="#222" stroke="#222" stroke-width="0.18" >0</text>
<line x1="640.00" y1="827.55" x2="641.80" y2="827.55" stroke="#fff" stroke-width="0.5"/>
<line x1="647.50" y1="827.55" x2="649.30" y2="827.55" stroke="#fff" stroke-width="0.5"/>
<text x="654.00" y="830.15" font-size="7.2" text-anchor="start" font-weight="normal" fill="#222" stroke="#222" stroke-width="0.18" >1</text>
<line x1="640.00" y1="816.81" x2="641.80" y2="816.81" stroke="#fff" stroke-width="0.5"/>
<line x1="647.50" y1="816.81" x2="649.30" y2="816.81" stroke="#fff" stroke-width="0.5"/>
<text x="654.00" y="819.41" font-size="7.2" text-anchor="start" font-weight="normal" fill="#222" stroke="#222" stroke-width="0.18" >2</text>
<line x1="640.00" y1="806.06" x2="641.80" y2="806.06" stroke="#fff" stroke-width="0.5"/>
<line x1="647.50" y1="806.06" x2="649.30" y2="806.06" stroke="#fff" stroke-width="0.5"/>
<text x="654.00" y="808.66" font-size="7.2" text-anchor="start" font-weight="normal" fill="#222" stroke="#222" stroke-width="0.18" >3</text>
<line x1="640.00" y1="795.31" x2="641.80" y2="795.31" stroke="#fff" stroke-width="0.5"/>
<line x1="647.50" y1="795.31" x2="649.30" y2="795.31" stroke="#fff" stroke-width="0.5"/>
<text x="654.00" y="797.91" font-size="7.2" text-anchor="start" font-weight="normal" fill="#222" stroke="#222" stroke-width="0.18" >4</text>
</svg></body></html>
